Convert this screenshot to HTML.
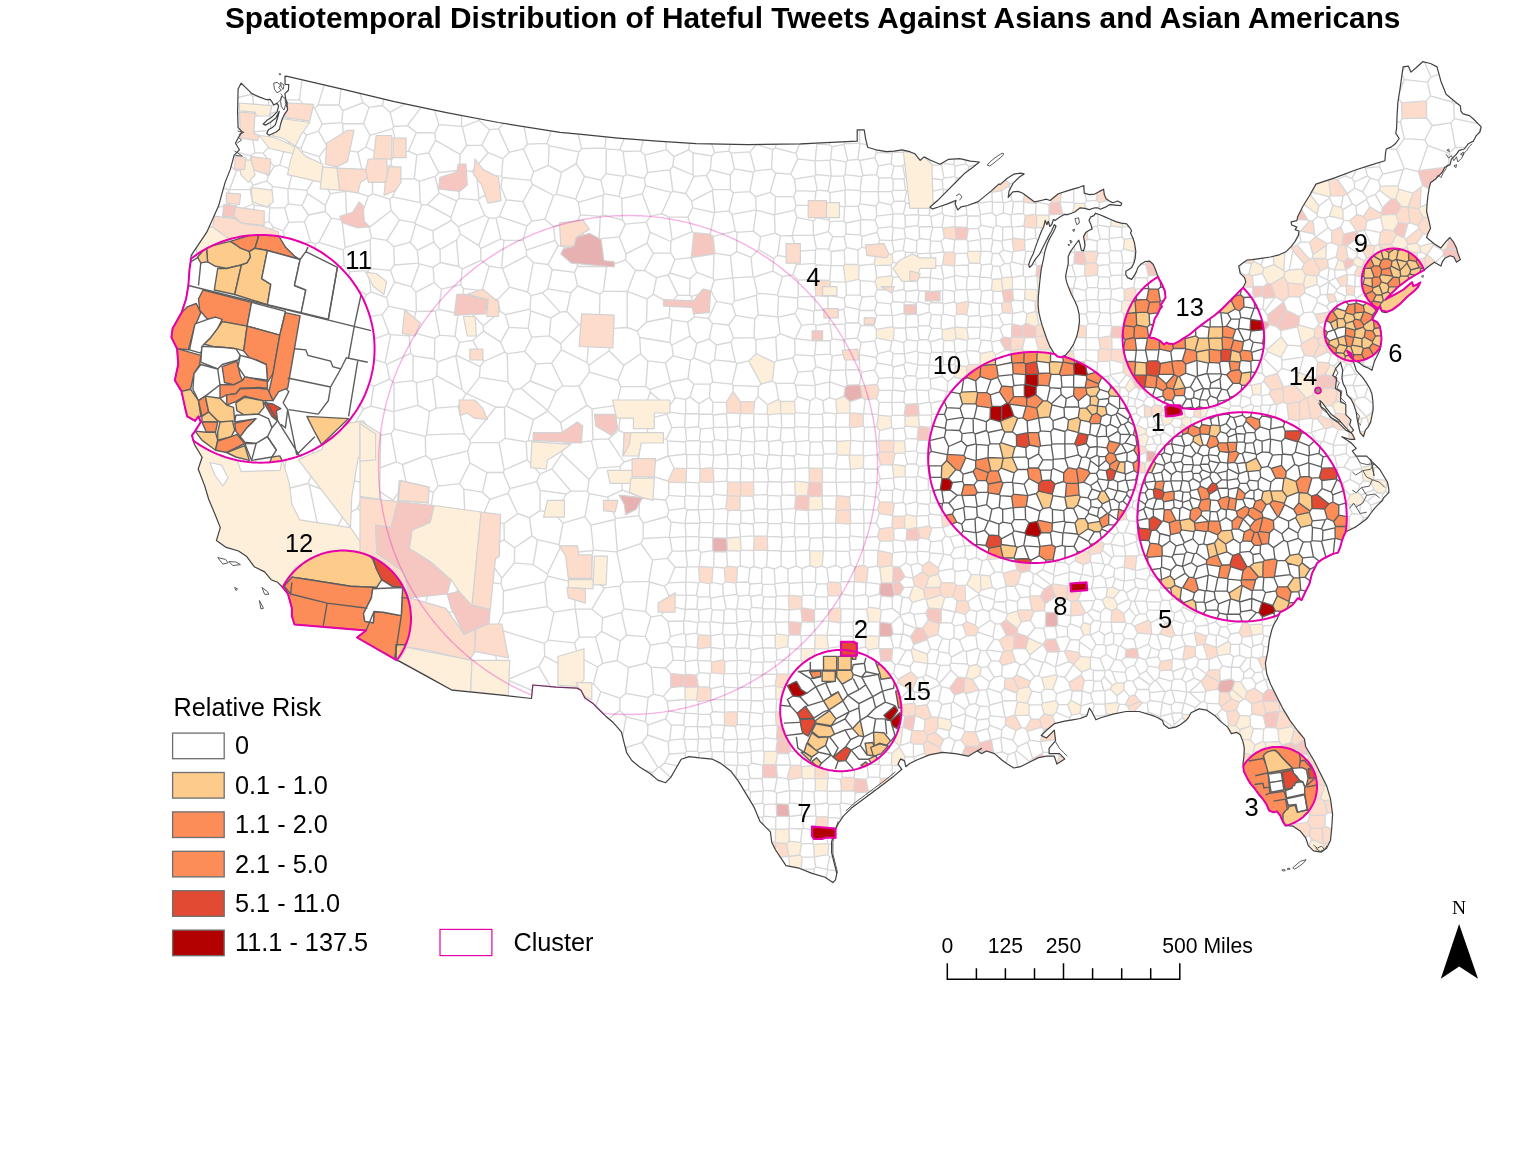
<!DOCTYPE html>
<html><head><meta charset="utf-8"><title>Spatiotemporal Distribution of Hateful Tweets</title>
<style>html,body{margin:0;padding:0;background:#fff;overflow:hidden}svg{display:block}text{font-family:"Liberation Sans",Arial,sans-serif;fill:#000}</style></head>
<body>
<svg width="1536" height="1152" viewBox="0 0 1536 1152">
<defs>
<clipPath id="land"><path d="M1381.7 311.7L1385.3 312.6L1392.6 309.6L1399.9 304.1L1407.2 296.8L1414.5 290.8L1418.1 286.9L1420.3 282.5L1416.9 284.7L1413.3 286.1L1412.1 282.2L1409 284.7L1403.6 289.5L1395.1 294.4L1387.8 298L1385.8 299.4L1387.5 297.4L1397.9 287L1408.3 279.2L1416.1 274.5L1424 270.1L1429.2 266.1L1434.4 262.2L1440.9 266.1L1442.2 262.2L1444.8 258.3L1450 255.7L1453.9 257L1456.5 262.2L1460.4 259.6L1457.8 253.1L1456.5 247.9L1453.9 242.7L1450 237.5L1446.1 241.4L1440.9 247.9L1434.4 244L1426.6 237.5L1427.9 233.6L1430.5 228.4L1429.2 221.9L1426.6 211.5L1427.1 203.6L1427.9 195.8L1429.2 188L1430.5 182.8L1435.7 178.9L1442.2 172.4L1444.8 167.2L1450 164.6L1451.3 159.4L1456.5 154.2L1459.1 150.3L1464.3 149L1468.2 143.8L1473.4 141.1L1476 135.9L1479.9 132L1481.2 126.8L1473.4 119L1469.5 115.6L1463 113.8L1460.9 111.2L1460.4 106L1453.9 100.8L1446.1 94.3L1440.9 81.2L1437 66.9L1430.5 63.5L1422.7 61.7L1416.1 67.7L1410.9 72.1L1408.3 66.1L1403.1 66.9L1401.8 76L1400 89.1L1397.9 102.1L1397.1 115.1L1396.6 128.1L1395.8 133.3L1399.2 138.5L1395.3 143.8L1391.4 146.9L1386.2 149L1385.4 154.2L1384.9 160.7L1370.6 165.1L1356.2 169.8L1335.4 177.6L1315.9 184.1L1309.4 195.8L1302.9 206.2L1300.3 211.5L1297.7 216.7L1296.9 220.6L1291.1 221.9L1291.7 225L1296.9 227.1L1295.1 229.7L1299 231L1298.4 235.4L1295.1 241.4L1291.1 246.6L1285.9 251.8L1278.1 255.2L1270.3 257L1261.2 258.3L1252.1 259.6L1247.2 260L1242.8 263L1238.7 266.2L1240.2 273.3L1244.6 277.7L1245.8 282.1L1242.8 288L1235.4 295.4L1228.1 302.8L1222.2 308.7L1214.8 315.3L1207.4 320.5L1201.5 324.9L1195.6 329.4L1189.7 334.5L1183.8 338.2L1179.4 341.2L1173.5 344.1L1169 343.8L1166.8 342.6L1163.9 344.4L1160.2 340.9L1154.3 338.2L1149.1 337.5L1151 332.3L1153.1 324.9L1154.6 319L1157.5 314.3L1159.9 309L1161.9 306.9L1160.9 304.3L1162.8 302.1L1165.5 297.6L1164.9 291.3L1162.4 285.1L1158.7 278.4L1157.2 274.5L1155.3 269L1153.1 264.3L1149.9 261.2L1144.9 261.7L1140.7 264.3L1137.8 267.6L1136.4 271.6L1134.5 275.2L1131.6 279.4L1127.6 277.6L1125.8 274.5L1125.8 271.2L1128.4 269.8L1131.6 267.6L1134 263L1135.3 257.5L1135.8 251.2L1134.5 243L1132.7 237.5L1130.5 232.9L1131.6 230.7L1129.8 227.8L1126.7 223.8L1121.2 223.1L1115.8 221.6L1110.3 219.3L1104.8 216.9L1099.9 214.7L1095.5 213.2L1093.9 215.6L1090.8 216.9L1089 220.2L1090.8 224.2L1092.1 228.9L1089.3 230.2L1085.7 232.6L1083.5 236.6L1084.2 240.2L1085 245.7L1083.5 250.8L1081.3 250.2L1080.2 244.8L1078.8 240.2L1076.6 243L1073.3 247.5L1070.2 252.1L1068.2 256.6L1068.2 263.9L1066.7 270.3L1065.6 276.7L1066.4 281.2L1068.6 287.6L1071.5 294.5L1074.7 300.7L1077.5 307.3L1079.1 314.1L1079.5 321.3L1078.4 329.6L1076.6 336.8L1073.8 343.8L1070.2 349.6L1065.6 355.1L1061.1 357.3L1057.4 356.5L1053.8 352.9L1050.1 346.9L1047 339.6L1044.5 332.3L1042.3 325.9L1040.5 319.5L1039 313.1L1038.1 305.9L1038.3 296.7L1039.2 287.6L1040.1 278.5L1041.2 269.4L1043.4 259.4L1045 251L1047.3 243.8L1050 238L1053.4 232L1055.1 228.5L1056 226L1054.3 224.7L1051.7 230.8L1048.2 236.9L1045.6 242.1L1043 247.3L1039.5 254.2L1035.2 259.4L1031.7 265.5L1029.5 267.3L1028.7 264.7L1030.4 259.4L1033.4 253.4L1036 245.6L1038.6 238.6L1041.2 231.7L1043.8 226.5L1045.2 220.4L1046.9 224.7L1048.2 221.3L1049.9 226.5L1051.7 224.7L1053.4 219.5L1055.1 220.4L1057 219L1059.9 216.9L1063.8 214.7L1067.5 214.7L1074.7 212L1080.2 207.8L1084.8 208.3L1089.3 209.6L1094.8 207.8L1097.5 207.8L1100.3 209.2L1104.8 207.4L1109.4 204.7L1114.9 205.2L1120.7 205.6L1121.8 203.2L1117.6 201L1113 202.8L1109.4 201L1106.1 198.7L1104.3 194.6L1103.6 189.2L1099.4 191.4L1094.8 194.1L1089.3 194.6L1084.2 193.2L1083.9 185.5L1079.3 187.3L1072.9 189.2L1065.6 191.4L1058.3 193.7L1050.1 200.5L1046.5 199.2L1041 200.5L1034.6 201.9L1029.2 197.9L1022.8 193.2L1018.2 191.4L1012.8 191.9L1008.2 197.4L1009.1 191L1012.8 183.7L1019.1 177.3L1024.1 173.9L1020.1 173.1L1013.7 174.2L1007.3 178.2L1000 184.6L999 183.9L991.1 191.1L978.1 201.6L967.7 205.5L961.2 206.8L957.8 209.9L955.2 204.2L956 200.3L948.2 203.6L939.1 206.8L932.6 208.9L929.9 207.3L937.8 200.3L946.9 191.1L956 182L965.1 172.9L972.9 167.2L979.4 162L970.3 161.2L959.9 158.6L948.2 159.4L940 164.2L930.6 160.3L924.1 156.9L920.2 160.3L915 153.8L909.8 151.7L902 149.8L894.2 151.1L886.4 151.7L875.9 149.8L867.6 147.2L865.5 138.1L864.2 129.8L857.2 129.8L857.2 141.2L800.4 143.9L748.3 144.6L696.2 143.6L657.2 141.2L618.1 138.1L579.1 134.2L560 132.4L498.5 122.5L446.5 112.6L394.4 101.7L342.3 89.2L286.3 76.1L284.9 76.3L285.1 84.3L288.8 84.5L288.4 90.2L284.9 93.6L285.8 99.7L287.1 104.9L287.5 110.1L284.9 113.6L282.3 118.8L280.6 124L279.5 129.2L276.2 132L272.3 133.8L269.3 135.3L266.8 133.6L268.4 129.7L272.3 127.5L275.3 124.9L277.5 118L279.3 111.4L275.8 118L270.1 122.5L265.4 125.1L263.2 124L266.7 120.6L271.9 117.1L277.1 111.9L278.6 105.8L276.9 103.2L273.6 105.1L272.3 102.3L270.1 99.3L266.7 99.7L259.7 97.1L251.9 93.6L245.8 87.6L241.1 83.2L238 89.3L238.1 89.9L237.6 112.1L238.1 127.7L242 131.6L238.1 138.1L235.5 143.3L239.4 149.8L234.2 155.1L230.3 169.4L225.1 182.4L218.6 205.8L206.9 231.9L191.2 255.3L190.6 261.8L189.5 269.7L188.4 285.5L186.1 299L181.6 312.6L172.6 328.4L171.4 337.4L177.1 348.7L178.2 364.5L174.8 380.3L181.6 391.6L185 407.4L187.2 416.4L195.1 420.9L198.5 416.4L200.8 422L195.1 431.1L192 435.3L194.3 444.3L202.1 457.3L198.2 469L204.7 485.9L208.6 499L215.1 514.6L220.3 527.6L216.4 540.6L225.5 547.1L238.5 551L246.4 556.2L254.2 566.7L264.6 571.9L271.1 579.7L277.6 582.3L282.8 587.5L288 594L291.9 608.3L291.9 616.1L294.5 624.5L366.1 630.5L357 637.5L396.1 659.9L400 661.6L426 675.9L452.1 690.2L504.2 695.4L531.5 698.5L532.8 685L556.2 687.1L577.1 688.1L581 690.2L584.9 698L592.7 703.2L600.5 711L605.7 716.2L613.5 722.8L621.4 731.9L624 742.3L626.6 752.7L631.8 760.5L639.6 767L650 773.5L657.8 780.1L665.6 782.7L670.8 777.4L676 768.3L681.2 759.2L689.1 756.6L699.5 757.9L712.5 759.2L720.3 763.1L730.7 770.9L738.5 781.4L746.4 794.4L754.2 807.4L760 821.4L765.2 826.6L770.4 831.8L771.7 842.2L775.6 850L780.8 857.8L786 865.6L799.1 868.2L812.1 873.4L825.1 877.3L832.9 882.6L835.5 879.9L836.8 873.4L834.2 863L831.6 852.6L831.6 842.2L834.2 831.8L838.1 824L843.3 816.1L851.1 808.3L861.6 800.5L872 792.7L882.4 784.9L892.8 777.1L901.9 769.3L898 764.1L900.6 758.9L904.5 760.9L905.8 766.7L909.7 763.5L916.2 760.2L929.3 754.9L942.3 752.3L955.3 753.6L968.3 756.2L973.5 753.1L981.4 748.4L977.4 751L981.4 753.6L986.6 751L994.4 753.6L1002.2 760.2L1007.4 764.1L1013.9 768L1020.4 766.7L1030.8 761.5L1038.6 757.6L1046.5 756.2L1054.3 756.2L1056.9 764.1L1064.7 758.9L1059.5 753.6L1049.1 753.6L1049.1 748.4L1055.6 740.6L1054.3 730.2L1046.5 738L1041.2 735.4L1046.5 730.2L1054.3 723.7L1064.7 721.1L1072.5 719.8L1080.3 718.5L1086.8 715.9L1089.4 708.1L1092 712L1095.9 719.8L1100 718L1113 714.1L1126 711.5L1139.1 711.5L1152.1 715.4L1157.3 717.5L1162.5 720.6L1163.8 724.5L1169 728.4L1175.5 727.1L1180.7 724.5L1185.9 720.6L1188.5 717.5L1191.1 712.8L1199 708.9L1206.8 710.2L1214.6 715.4L1221.1 721.9L1227.6 727.1L1231.5 733.6L1236.7 732.3L1240.4 735L1243 741.9L1244.3 748L1243.9 756.7L1243 763.6L1243.9 771.5L1247.4 778.4L1250.4 783.6L1254.3 788L1258.6 794L1263 799.2L1266.5 804.4L1269.1 810.5L1273.4 812.3L1276.9 811.4L1280.3 815.7L1283 821.8L1285.6 825.7L1285.4 825.3L1292.7 826.1L1300.5 831.3L1305.7 837.8L1308.3 845.6L1313.5 850.8L1321.4 852.1L1326.6 848.2L1330.5 840.4L1331.8 827.4L1332.6 814.4L1330.5 798.8L1326.6 785.7L1320.1 772.7L1313.5 759.7L1309.6 753.2L1305.7 746.7L1304.4 738.9L1297.9 731L1290.1 720.6L1282.3 707.6L1277.1 697.2L1270.6 684.2L1266.7 673.8L1265.4 663.3L1268 650.3L1269.3 639.9L1271.9 629.5L1274 624.3L1277.1 619.1L1279.7 612.6L1286.2 609.2L1292.7 604.7L1297.9 598.2L1301.6 600L1304.2 594.3L1306.8 589.1L1309.4 583.9L1310.7 578.6L1312 573.4L1314.6 568.2L1317.2 563L1322.4 559.1L1327.6 556.5L1332.8 553.9L1338 552.6L1340.1 547.4L1341.9 540.9L1343.8 535.7L1345.8 531.8L1351 529.2L1356.2 526.6L1361.5 522.7L1366.7 518.8L1370.6 513.5L1374.5 508.3L1378.4 504.4L1382.3 500.5L1383.6 497.9L1388.8 492.7L1388.8 488.8L1387.5 482.3L1383.6 475.8L1379.7 469.3L1373.2 462.8L1366.7 456.2L1356.2 456.2L1352.3 451L1356.2 448.4L1351 442.7L1341.9 436.7L1349.7 439.3L1354.9 439.3L1352.3 434.1L1351 432.8L1353.6 430.2L1349.7 425L1351 419.8L1345.8 414.6L1345.8 404.2L1340.6 401.6L1340.6 391.7L1335.4 388.5L1336.7 378.1L1332.8 375.5L1335.9 368.2L1340.6 362.5L1342.7 370.3L1341.9 378.1L1343.2 383.9L1345.8 388.5L1347.1 395.1L1351 399L1353.6 404.2L1356.2 412L1357.3 419.8L1358.9 427.6L1360.2 432.8L1363.5 436.7L1365.4 430.2L1368 427.1L1370.6 422.4L1371.9 415.9L1373.2 409.4L1372.9 401.6L1371.9 393.8L1369.8 388.5L1366.7 383.3L1362.8 377.6L1356.2 370.3L1352.7 359L1353.6 359.9L1358.9 362.5L1364.1 366.4L1368.8 368.2L1371.9 370.3L1374.5 361.2L1377.1 356L1380.2 349.5L1381.5 339.1L1381 332.6L1379.7 326L1377.1 322.1L1371.9 319.5L1375 314.3L1376.6 311.7L1379.7 306.5L1380.1 306ZM1345.8 430.2L1338 422.4L1330.2 417.2L1325 409.4L1321.1 406.8L1319.8 400.3L1322.4 402.9L1326.3 408.1L1331.5 414.6L1339.3 420.3L1345.8 427.6L1351 432.8ZM1349.7 356L1347.1 350.8L1351 353.4L1352.7 359Z"/></clipPath>
<clipPath id="cl"><path d="M203.8 447.4L207.2 449.4L210.8 451.2L214.4 452.9L218 454.4L221.7 455.8L225.5 457.1L229.3 458.3L233.1 459.3L237 460.2L240.9 461L244.8 461.6L248.8 462.1L252.8 462.4L256.7 462.6L260.7 462.7L264.7 462.6L268.6 462.4L272.6 462.1L276.6 461.6L280.5 461L284.4 460.2L288.3 459.3L292.1 458.3L295.9 457.1L299.7 455.8L303.4 454.4L307 452.9L310.6 451.2L314.2 449.4L317.6 447.4L321.1 445.4L324.4 443.2L327.6 440.9L330.8 438.6L333.9 436.1L336.9 433.4L339.8 430.7L342.6 427.9L345.3 425L348 422L350.5 418.9L352.8 415.7L355.1 412.5L357.3 409.2L359.3 405.8L361.3 402.3L363.1 398.7L364.8 395.1L366.3 391.5L367.7 387.8L369 384L370.2 380.2L371.2 376.4L372.1 372.5L372.9 368.6L373.5 364.7L374 360.7L374.3 356.7L374.5 352.8L374.6 348.8L374.5 344.8L374.3 340.9L374 336.9L373.5 332.9L372.9 329L372.1 325.1L371.2 321.2L370.2 317.4L369 313.6L367.7 309.8L366.3 306.1L364.8 302.5L363.1 298.9L361.3 295.3L359.3 291.8L357.3 288.4L355.1 285.1L352.8 281.9L350.5 278.7L348 275.6L345.3 272.6L342.6 269.7L339.8 266.9L336.9 264.2L333.9 261.5L330.8 259L327.6 256.7L324.4 254.4L321.1 252.2L317.6 250.2L314.2 248.2L310.6 246.4L307 244.7L303.4 243.2L299.7 241.8L295.9 240.5L292.1 239.3L288.3 238.3L284.4 237.4L280.5 236.6L276.6 236L272.6 235.5L268.6 235.2L264.7 235L260.7 234.9L256.7 235L252.8 235.2L248.8 235.5L244.8 236L240.9 236.6L237 237.4L233.1 238.3L229.3 239.3L225.5 240.5L221.7 241.8L218 243.2L214.4 244.7L210.8 246.4L207.2 248.2L203.7 250.2L200.3 252.2L197 254.4L193.8 256.7L190.9 258.8L190.6 261.8L189.5 269.7L188.4 285.5L186.1 299L181.6 312.6L172.6 328.4L171.4 337.4L177.1 348.7L178.2 364.5L174.8 380.3L181.6 391.6L185 407.4L187.2 416.4L195.1 420.9L198.5 416.4L200.8 422L195.1 431.1L192 435.3L193.4 440.7L193.8 440.9L197 443.2L200.3 445.4ZM1037.3 352.1L1033.6 352L1029.9 352.1L1026.2 352.3L1022.6 352.6L1018.9 353L1015.3 353.6L1011.7 354.3L1008.1 355.1L1004.5 356.1L1001 357.2L997.5 358.4L994.1 359.7L990.7 361.1L987.4 362.7L984.1 364.3L980.8 366.1L977.7 368L974.6 370L971.6 372.1L968.6 374.4L965.8 376.7L963 379.1L960.3 381.6L957.7 384.2L955.2 386.9L952.8 389.7L950.5 392.5L948.2 395.5L946.1 398.5L944.1 401.6L942.2 404.8L940.4 408L938.8 411.3L937.2 414.6L935.8 418L934.5 421.4L933.3 424.9L932.2 428.4L931.2 432L930.4 435.6L929.7 439.2L929.1 442.8L928.7 446.5L928.4 450.1L928.2 453.8L928.1 457.5L928.2 461.2L928.4 464.9L928.7 468.5L929.1 472.2L929.7 475.8L930.4 479.4L931.2 483L932.2 486.6L933.3 490.1L934.5 493.6L935.8 497L937.2 500.4L938.8 503.7L940.4 507L942.2 510.2L944.1 513.4L946.1 516.5L948.2 519.5L950.5 522.5L952.8 525.3L955.2 528.1L957.7 530.8L960.3 533.4L963 535.9L965.8 538.3L968.6 540.6L971.6 542.9L974.6 545L977.7 547L980.8 548.9L984.1 550.7L987.4 552.3L990.7 553.9L994.1 555.3L997.5 556.6L1001 557.8L1004.5 558.9L1008.1 559.9L1011.7 560.7L1015.3 561.4L1018.9 562L1022.6 562.4L1026.2 562.7L1029.9 562.9L1033.6 563L1037.3 562.9L1041 562.7L1044.6 562.4L1048.3 562L1051.9 561.4L1055.5 560.7L1059.1 559.9L1062.7 558.9L1066.2 557.8L1069.7 556.6L1073.1 555.3L1076.5 553.9L1079.8 552.3L1083.1 550.7L1086.3 548.9L1089.5 547L1092.6 545L1095.6 542.9L1098.6 540.6L1101.4 538.3L1104.2 535.9L1106.9 533.4L1109.5 530.8L1112 528.1L1114.4 525.3L1116.7 522.5L1119 519.5L1121.1 516.5L1123.1 513.4L1125 510.2L1126.8 507L1128.4 503.7L1130 500.4L1131.4 497L1132.7 493.6L1133.9 490.1L1135 486.6L1136 483L1136.8 479.4L1137.5 475.8L1138.1 472.2L1138.5 468.5L1138.8 464.9L1139 461.2L1139.1 457.5L1139 453.8L1138.8 450.1L1138.5 446.5L1138.1 442.8L1137.5 439.2L1136.8 435.6L1136 432L1135 428.4L1133.9 424.9L1132.7 421.4L1131.4 418L1130 414.6L1128.4 411.3L1126.8 408L1125 404.7L1123.1 401.6L1121.1 398.5L1119 395.5L1116.7 392.5L1114.4 389.7L1112 386.9L1109.5 384.2L1106.9 381.6L1104.2 379.1L1101.4 376.7L1098.6 374.4L1095.6 372.1L1092.6 370L1089.5 368L1086.3 366.1L1083.1 364.3L1079.8 362.7L1076.5 361.1L1073.1 359.7L1069.7 358.4L1066.2 357.2L1063.2 356.3L1061.1 357.3L1057.4 356.5L1055.1 354.2L1051.9 353.6L1048.3 353L1044.6 352.6L1041 352.3ZM1070.5 583.5L1071 591.5L1087.2 590.2L1086.5 582.3ZM403 650.4L404.1 648.3L405.1 646.2L406 644L406.9 641.8L407.7 639.5L408.4 637.2L409 635L409.5 632.6L410 630.3L410.3 628L410.6 625.6L410.8 623.2L411 620.9L411 618.5L411 616.1L410.8 613.8L410.6 611.4L410.3 609L410 606.7L409.5 604.4L409 602L408.4 599.8L407.7 597.5L406.9 595.2L406 593L405.1 590.8L404.1 588.7L403 586.6L401.9 584.5L400.7 582.5L399.4 580.5L398 578.5L396.6 576.6L395.1 574.8L393.5 573L391.9 571.3L390.2 569.6L388.5 568L386.7 566.4L384.9 564.9L383 563.5L381 562.1L379 560.8L377 559.6L374.9 558.5L372.8 557.4L370.7 556.4L368.5 555.5L366.3 554.6L364 553.8L361.7 553.1L359.5 552.5L357.1 552L354.8 551.5L352.5 551.2L350.1 550.9L347.7 550.7L345.4 550.5L343 550.5L340.6 550.5L338.3 550.7L335.9 550.9L333.5 551.2L331.2 551.5L328.9 552L326.5 552.5L324.3 553.1L322 553.8L319.7 554.6L317.5 555.5L315.3 556.4L313.2 557.4L311.1 558.5L309 559.6L307 560.8L305 562.1L303 563.5L301.1 564.9L299.3 566.4L297.5 568L295.8 569.6L294.1 571.3L292.5 573L290.9 574.8L289.4 576.6L288 578.5L286.6 580.5L285.3 582.5L284.1 584.5L283 586.6L282.6 587.3L282.8 587.5L288 594L291.9 608.3L291.9 616.1L294.5 624.5L366.1 630.5L357 637.5L396.1 659.9L396.7 660.2L398 658.5L399.4 656.5L400.7 654.5L401.9 652.5ZM854.5 641.8L841.1 641.8L841.1 650L840.8 650L838.7 650L836.6 650.1L834.5 650.3L832.4 650.6L830.3 650.9L828.2 651.3L826.1 651.8L824.1 652.3L822.1 653L820.1 653.7L818.1 654.4L816.2 655.2L814.2 656.1L812.4 657.1L810.5 658.1L808.7 659.2L806.9 660.4L805.2 661.6L803.5 662.8L801.8 664.2L800.3 665.6L798.7 667L797.2 668.5L795.8 670.1L794.4 671.6L793 673.3L791.8 675L790.6 676.7L789.4 678.5L788.3 680.3L787.3 682.2L786.3 684L785.4 686L784.6 687.9L783.9 689.9L783.2 691.9L782.5 693.9L782 695.9L781.5 698L781.1 700.1L780.8 702.2L780.5 704.3L780.3 706.4L780.2 708.5L780.2 710.6L780.2 712.7L780.3 714.8L780.5 716.9L780.8 719L781.1 721.1L781.5 723.2L782 725.3L782.5 727.3L783.2 729.3L783.9 731.3L784.6 733.3L785.4 735.2L786.3 737.2L787.3 739L788.3 740.9L789.4 742.7L790.6 744.5L791.8 746.2L793 747.9L794.4 749.6L795.8 751.1L797.2 752.7L798.7 754.2L800.3 755.6L801.8 757L803.5 758.4L805.2 759.6L806.9 760.8L808.7 762L810.5 763.1L812.4 764.1L814.2 765.1L816.2 766L818.1 766.8L820.1 767.5L822.1 768.2L824.1 768.9L826.1 769.4L828.2 769.9L830.3 770.3L832.4 770.6L834.5 770.9L836.6 771.1L838.7 771.2L840.8 771.2L842.9 771.2L845 771.1L847.1 770.9L849.2 770.6L851.3 770.3L853.4 769.9L855.5 769.4L857.5 768.9L859.5 768.2L861.5 767.5L863.5 766.8L865.4 766L867.4 765.1L869.2 764.1L871.1 763.1L872.9 762L874.7 760.8L876.4 759.6L878.1 758.4L879.8 757L881.3 755.6L882.9 754.2L884.4 752.7L885.8 751.1L887.2 749.6L888.6 747.9L889.8 746.2L891 744.5L892.2 742.7L893.3 740.9L894.3 739L895.3 737.2L896.2 735.2L897 733.3L897.7 731.3L898.4 729.3L899.1 727.3L899.6 725.3L900.1 723.2L900.5 721.1L900.8 719L901.1 716.9L901.3 714.8L901.4 712.7L901.4 710.6L901.4 708.5L901.3 706.4L901.1 704.3L900.8 702.2L900.5 700.1L900.1 698L899.6 695.9L899.1 693.9L898.4 691.9L897.7 689.9L897 687.9L896.2 686L895.3 684L894.3 682.2L893.3 680.3L892.2 678.5L891 676.7L889.8 675L888.6 673.3L887.2 671.6L885.8 670.1L884.4 668.5L882.9 667L881.3 665.6L879.8 664.2L878.1 662.8L876.4 661.6L874.7 660.4L872.9 659.2L871.1 658.1L869.2 657.1L867.4 656.1L865.4 655.2L863.5 654.4L861.5 653.7L859.5 653L857.5 652.3L856.8 652.2L856.8 643.2L854.5 643.2ZM826 837.4L835.5 838L835.5 828.6L824 827.6L812 826.6L812 836L814 839L822 839ZM1384.9 311.3L1386 311.5L1387 311.8L1387.2 311.8L1392.6 309.6L1399.9 304.1L1407.2 296.8L1414.5 290.8L1418.1 286.9L1420.3 282.5L1416.9 284.7L1413.3 286.1L1412.1 282.2L1409 284.7L1403.6 289.5L1395.1 294.4L1387.8 298L1385.8 299.4L1387.5 297.4L1397.9 287L1408.3 279.2L1416.1 274.5L1424 270.1L1423.8 269.6L1423.4 268.5L1422.9 267.5L1422.5 266.5L1422 265.5L1421.4 264.5L1420.8 263.5L1420.2 262.6L1419.6 261.7L1418.9 260.8L1418.2 259.9L1417.5 259.1L1416.7 258.3L1415.9 257.5L1415.1 256.7L1414.3 256L1413.4 255.3L1412.5 254.6L1411.6 254L1410.7 253.4L1409.7 252.8L1408.7 252.2L1407.7 251.7L1406.7 251.3L1405.7 250.8L1404.6 250.4L1403.6 250.1L1402.5 249.7L1401.4 249.5L1400.4 249.2L1399.3 249L1398.2 248.8L1397 248.7L1395.9 248.6L1394.8 248.5L1393.7 248.5L1392.6 248.5L1391.5 248.6L1390.4 248.7L1389.2 248.8L1388.1 249L1387 249.2L1386 249.5L1384.9 249.7L1383.8 250.1L1382.8 250.4L1381.7 250.8L1380.7 251.3L1379.7 251.7L1378.7 252.2L1377.7 252.8L1376.7 253.4L1375.8 254L1374.9 254.6L1374 255.3L1373.1 256L1372.3 256.7L1371.5 257.5L1370.7 258.3L1369.9 259.1L1369.2 259.9L1368.5 260.8L1367.8 261.7L1367.2 262.6L1366.6 263.5L1366 264.5L1365.4 265.5L1364.9 266.5L1364.5 267.5L1364 268.5L1363.6 269.6L1363.3 270.6L1362.9 271.7L1362.7 272.8L1362.4 273.8L1362.2 274.9L1362 276L1361.9 277.2L1361.8 278.3L1361.7 279.4L1361.7 280.5L1361.7 281.6L1361.8 282.7L1361.9 283.8L1362 285L1362.2 286.1L1362.4 287.2L1362.7 288.2L1362.9 289.3L1363.3 290.4L1363.6 291.4L1364 292.5L1364.5 293.5L1364.9 294.5L1365.4 295.5L1366 296.5L1366.6 297.5L1367.2 298.4L1367.8 299.3L1368.5 300.2L1369.2 301.1L1369.9 301.9L1370.7 302.7L1371.5 303.5L1372.3 304.3L1373.1 305L1374 305.7L1374.9 306.4L1375.8 307L1376.7 307.6L1377.7 308.2L1378.4 308.6L1379.7 306.5L1380.1 306L1381.2 310L1381.7 310.2L1382.8 310.6L1383.8 310.9ZM1361 360.6L1362.1 360.4L1363.1 360.1L1364.1 359.8L1365.1 359.5L1366.1 359.1L1367.1 358.7L1368 358.2L1369 357.7L1369.9 357.2L1370.8 356.7L1371.7 356.1L1372.6 355.5L1373.4 354.9L1374.2 354.2L1375 353.5L1375.8 352.8L1376.6 352L1377.3 351.2L1378 350.4L1378.7 349.6L1379.3 348.8L1379.9 347.9L1380.5 347L1380.5 346.9L1381.5 339.1L1381 332.6L1379.7 326L1377.1 322.1L1371.9 319.5L1375 314.3L1376.6 311.7L1377.3 310.6L1376.6 309.8L1375.8 309L1375 308.3L1374.2 307.6L1373.4 306.9L1372.6 306.3L1371.7 305.7L1370.8 305.1L1369.9 304.6L1369 304.1L1368 303.6L1367.1 303.1L1366.1 302.7L1365.1 302.3L1364.1 302L1363.1 301.7L1362.1 301.4L1361 301.2L1360 301L1358.9 300.8L1357.9 300.7L1356.8 300.6L1355.8 300.5L1354.7 300.5L1353.6 300.5L1352.6 300.6L1351.5 300.7L1350.5 300.8L1349.4 301L1348.4 301.2L1347.3 301.4L1346.3 301.7L1345.3 302L1344.3 302.3L1343.3 302.7L1342.3 303.1L1341.4 303.6L1340.4 304.1L1339.5 304.6L1338.6 305.1L1337.7 305.7L1336.8 306.3L1336 306.9L1335.2 307.6L1334.4 308.3L1333.6 309L1332.8 309.8L1332.1 310.6L1331.4 311.4L1330.7 312.2L1330.1 313L1329.5 313.9L1328.9 314.8L1328.4 315.7L1327.9 316.6L1327.4 317.6L1326.9 318.5L1326.5 319.5L1326.1 320.5L1325.8 321.5L1325.5 322.5L1325.2 323.5L1325 324.6L1324.8 325.6L1324.6 326.7L1324.5 327.7L1324.4 328.8L1324.3 329.8L1324.3 330.9L1324.3 332L1324.4 333L1324.5 334.1L1324.6 335.1L1324.8 336.2L1325 337.2L1325.2 338.3L1325.5 339.3L1325.8 340.3L1326.1 341.3L1326.5 342.3L1326.9 343.3L1327.4 344.2L1327.9 345.2L1328.4 346.1L1328.9 347L1329.5 347.9L1330.1 348.8L1330.7 349.6L1331.4 350.4L1332.1 351.2L1332.8 352L1333.6 352.8L1334.4 353.5L1335.2 354.2L1336 354.9L1336.8 355.5L1337.7 356.1L1338.6 356.7L1339.5 357.2L1340.4 357.7L1341.4 358.2L1342.3 358.7L1343.3 359.1L1344.3 359.5L1345.3 359.8L1346.3 360.1L1347.3 360.4L1348.4 360.6L1349.4 360.8L1350.5 361L1351.5 361.1L1352.6 361.2L1353.4 361.3L1352.7 359L1353.6 359.9L1356.4 361.3L1356.8 361.2L1357.9 361.1L1358.9 361L1360 360.8ZM1349.7 356L1347.1 350.8L1351 353.4L1352.7 359ZM1149.8 282.4L1147.9 284L1146 285.6L1144.2 287.3L1142.5 289L1140.8 290.8L1139.2 292.7L1137.6 294.6L1136.1 296.6L1134.7 298.6L1133.4 300.7L1132.1 302.8L1130.9 305L1129.8 307.2L1128.7 309.4L1127.8 311.7L1126.9 314L1126.1 316.3L1125.3 318.7L1124.7 321.1L1124.1 323.5L1123.7 325.9L1123.3 328.3L1123 330.8L1122.8 333.3L1122.6 335.7L1122.6 338.2L1122.6 340.7L1122.8 343.1L1123 345.6L1123.3 348.1L1123.7 350.5L1124.1 352.9L1124.7 355.3L1125.3 357.7L1126.1 360.1L1126.9 362.4L1127.8 364.7L1128.7 367L1129.8 369.2L1130.9 371.4L1132.1 373.6L1133.4 375.7L1134.7 377.8L1136.1 379.8L1137.6 381.8L1139.2 383.7L1140.8 385.6L1142.5 387.4L1144.2 389.1L1146 390.8L1147.9 392.4L1149.8 394L1151.8 395.5L1153.8 396.9L1155.9 398.2L1158 399.5L1160.2 400.7L1162.4 401.8L1164.6 402.9L1166.9 403.8L1169.2 404.7L1171.1 405.4L1169 405.4L1165.3 406.8L1166.1 416.4L1175 415.7L1182 414.2L1180.6 407.8L1181.1 407.9L1183.5 408.3L1186 408.6L1188.5 408.8L1190.9 409L1193.4 409L1195.9 409L1198.3 408.8L1200.8 408.6L1203.3 408.3L1205.7 407.9L1208.1 407.5L1210.5 406.9L1212.9 406.3L1215.3 405.5L1217.6 404.7L1219.9 403.8L1222.2 402.9L1224.4 401.8L1226.6 400.7L1228.8 399.5L1230.9 398.2L1233 396.9L1235 395.5L1237 394L1238.9 392.4L1240.8 390.8L1242.6 389.1L1244.3 387.4L1246 385.6L1247.6 383.7L1249.2 381.8L1250.7 379.8L1252.1 377.8L1253.4 375.7L1254.7 373.6L1255.9 371.4L1257 369.2L1258.1 367L1259 364.7L1259.9 362.4L1260.7 360.1L1261.5 357.7L1262.1 355.3L1262.7 352.9L1263.1 350.5L1263.5 348.1L1263.8 345.6L1264 343.1L1264.2 340.7L1264.2 338.2L1264.2 335.7L1264 333.3L1263.8 330.8L1263.5 328.3L1263.1 325.9L1262.7 323.5L1262.1 321.1L1261.5 318.7L1260.7 316.3L1259.9 314L1259 311.7L1258.1 309.4L1257 307.2L1255.9 305L1254.7 302.8L1253.4 300.7L1252.1 298.6L1250.7 296.6L1249.2 294.6L1247.6 292.7L1246 290.8L1244.3 289L1243 287.7L1242.8 288L1235.4 295.4L1228.1 302.8L1222.2 308.7L1214.8 315.3L1207.4 320.5L1201.5 324.9L1195.6 329.4L1189.7 334.5L1183.8 338.2L1179.4 341.2L1173.5 344.1L1169 343.8L1166.8 342.6L1163.9 344.4L1160.2 340.9L1154.3 338.2L1149.1 337.5L1151 332.3L1153.1 324.9L1154.6 319L1157.5 314.3L1159.9 309L1161.9 306.9L1160.9 304.3L1162.8 302.1L1165.5 297.6L1164.9 291.3L1162.4 285.1L1158.7 278.4L1158.1 276.8L1158 276.9L1155.9 278.2L1153.8 279.5L1151.8 280.9ZM1320.6 390.1L1320.5 390.1L1320.5 390L1320.5 389.9L1320.5 389.8L1320.4 389.7L1320.4 389.6L1320.4 389.5L1320.3 389.5L1320.3 389.4L1320.3 389.3L1320.2 389.2L1320.2 389.1L1320.1 389.1L1320 389L1320 388.9L1319.9 388.9L1319.9 388.8L1319.8 388.7L1319.7 388.7L1319.7 388.6L1319.6 388.6L1319.5 388.5L1319.5 388.4L1319.4 388.4L1319.3 388.3L1319.2 388.3L1319.1 388.3L1319.1 388.2L1319 388.2L1318.9 388.2L1318.8 388.1L1318.7 388.1L1318.6 388.1L1318.5 388.1L1318.5 388L1318.4 388L1318.3 388L1318.2 388L1318.1 388L1318 388L1317.9 388L1317.8 388L1317.7 388L1317.6 388L1317.5 388L1317.5 388.1L1317.4 388.1L1317.3 388.1L1317.2 388.1L1317.1 388.2L1317 388.2L1316.9 388.2L1316.9 388.3L1316.8 388.3L1316.7 388.3L1316.6 388.4L1316.5 388.4L1316.5 388.5L1316.4 388.6L1316.3 388.6L1316.3 388.7L1316.2 388.7L1316.1 388.8L1316.1 388.9L1316 388.9L1316 389L1315.9 389.1L1315.8 389.1L1315.8 389.2L1315.7 389.3L1315.7 389.4L1315.7 389.5L1315.6 389.5L1315.6 389.6L1315.6 389.7L1315.5 389.8L1315.5 389.9L1315.5 390L1315.5 390.1L1315.4 390.1L1315.4 390.2L1315.4 390.3L1315.4 390.4L1315.4 390.5L1315.4 390.6L1315.4 390.7L1315.4 390.8L1315.4 390.9L1315.4 391L1315.4 391.1L1315.5 391.1L1315.5 391.2L1315.5 391.3L1315.5 391.4L1315.6 391.5L1315.6 391.6L1315.6 391.7L1315.7 391.7L1315.7 391.8L1315.7 391.9L1315.8 392L1315.8 392.1L1315.9 392.1L1316 392.2L1316 392.3L1316.1 392.3L1316.1 392.4L1316.2 392.5L1316.3 392.5L1316.3 392.6L1316.4 392.6L1316.5 392.7L1316.5 392.8L1316.6 392.8L1316.7 392.9L1316.8 392.9L1316.9 392.9L1316.9 393L1317 393L1317.1 393L1317.2 393.1L1317.3 393.1L1317.4 393.1L1317.5 393.1L1317.5 393.2L1317.6 393.2L1317.7 393.2L1317.8 393.2L1317.9 393.2L1318 393.2L1318.1 393.2L1318.2 393.2L1318.3 393.2L1318.4 393.2L1318.5 393.2L1318.5 393.1L1318.6 393.1L1318.7 393.1L1318.8 393.1L1318.9 393L1319 393L1319.1 393L1319.1 392.9L1319.2 392.9L1319.3 392.9L1319.4 392.8L1319.5 392.8L1319.5 392.7L1319.6 392.6L1319.7 392.6L1319.7 392.5L1319.8 392.5L1319.9 392.4L1319.9 392.3L1320 392.3L1320 392.2L1320.1 392.1L1320.2 392.1L1320.2 392L1320.3 391.9L1320.3 391.8L1320.3 391.7L1320.4 391.7L1320.4 391.6L1320.4 391.5L1320.5 391.4L1320.5 391.3L1320.5 391.2L1320.5 391.1L1320.6 391.1L1320.6 391L1320.6 390.9L1320.6 390.8L1320.6 390.7L1320.6 390.6L1320.6 390.5L1320.6 390.4L1320.6 390.3L1320.6 390.2ZM1346.8 516.9L1346.7 513.2L1346.5 509.6L1346.2 506L1345.8 502.3L1345.2 498.7L1344.5 495.1L1343.7 491.6L1342.7 488L1341.7 484.5L1340.5 481.1L1339.2 477.7L1337.7 474.3L1336.2 471L1334.5 467.7L1332.8 464.5L1330.9 461.4L1328.9 458.4L1326.8 455.4L1324.6 452.4L1322.3 449.6L1319.9 446.8L1317.4 444.2L1314.8 441.6L1312.2 439.1L1309.4 436.7L1306.6 434.4L1303.6 432.2L1300.6 430.1L1297.6 428.1L1294.4 426.2L1291.3 424.5L1288 422.8L1284.7 421.3L1281.3 419.8L1277.9 418.5L1274.5 417.3L1271 416.3L1267.4 415.3L1263.9 414.5L1260.3 413.8L1256.7 413.2L1253 412.8L1249.4 412.5L1245.8 412.3L1242.1 412.2L1238.4 412.3L1234.8 412.5L1231.2 412.8L1227.5 413.2L1223.9 413.8L1220.3 414.5L1216.8 415.3L1213.2 416.3L1209.7 417.3L1206.3 418.5L1202.9 419.8L1199.5 421.3L1196.2 422.8L1192.9 424.5L1189.7 426.2L1186.6 428.1L1183.6 430.1L1180.6 432.2L1177.6 434.4L1174.8 436.7L1172 439.1L1169.4 441.6L1166.8 444.2L1164.3 446.8L1161.9 449.6L1159.6 452.4L1157.4 455.4L1155.3 458.4L1153.3 461.4L1151.4 464.5L1149.7 467.7L1148 471L1146.5 474.3L1145 477.7L1143.7 481.1L1142.5 484.5L1141.5 488L1140.5 491.6L1139.7 495.1L1139 498.7L1138.4 502.3L1138 506L1137.7 509.6L1137.5 513.2L1137.4 516.9L1137.5 520.6L1137.7 524.2L1138 527.8L1138.4 531.5L1139 535.1L1139.7 538.7L1140.5 542.2L1141.5 545.8L1142.5 549.3L1143.7 552.7L1145 556.1L1146.5 559.5L1148 562.8L1149.7 566.1L1151.4 569.2L1153.3 572.4L1155.3 575.4L1157.4 578.4L1159.6 581.4L1161.9 584.2L1164.3 587L1166.8 589.6L1169.4 592.2L1172 594.7L1174.8 597.1L1177.6 599.4L1180.6 601.6L1183.6 603.7L1186.6 605.7L1189.8 607.6L1192.9 609.3L1196.2 611L1199.5 612.5L1202.9 614L1206.3 615.3L1209.7 616.5L1213.2 617.5L1216.8 618.5L1220.3 619.3L1223.9 620L1227.5 620.6L1231.2 621L1234.8 621.3L1238.4 621.5L1242.1 621.6L1245.8 621.5L1249.4 621.3L1253 621L1256.7 620.6L1260.3 620L1263.9 619.3L1267.4 618.5L1271 617.5L1274.5 616.5L1277.9 615.3L1278.8 615L1279.7 612.6L1286.2 609.2L1292.7 604.7L1297.9 598.2L1301.6 600L1304.2 594.3L1306.8 589.1L1309.4 583.9L1310.7 578.6L1312 573.4L1314.6 568.2L1317.2 563L1322.4 559.1L1327.6 556.5L1332.8 553.9L1338 552.6L1340.1 547.4L1341.9 540.9L1343.8 535.7L1345.7 532L1345.8 531.5L1346.2 527.8L1346.5 524.2L1346.7 520.6ZM1292.1 823.6L1293.4 823.1L1294.6 822.5L1295.9 821.8L1297.1 821.2L1298.3 820.5L1299.5 819.7L1300.6 818.9L1301.7 818.1L1302.8 817.2L1303.8 816.3L1304.8 815.3L1305.8 814.3L1306.8 813.3L1307.7 812.3L1308.6 811.2L1309.4 810.1L1310.2 809L1311 807.8L1311.7 806.6L1312.3 805.4L1313 804.1L1313.6 802.9L1314.1 801.6L1314.6 800.3L1315.1 799L1315.5 797.7L1315.8 796.3L1316.1 795L1316.4 793.6L1316.6 792.2L1316.8 790.9L1316.9 789.5L1317 788.1L1317 786.7L1317 785.3L1316.9 783.9L1316.8 782.5L1316.6 781.2L1316.4 779.8L1316.1 778.4L1315.8 777.1L1315.5 775.7L1315.1 774.4L1314.6 773.1L1314.1 771.8L1313.6 770.5L1313 769.3L1312.3 768L1311.7 766.8L1311 765.6L1310.2 764.4L1309.4 763.3L1308.6 762.2L1307.7 761.1L1306.8 760.1L1305.8 759.1L1304.8 758.1L1303.8 757.1L1302.8 756.2L1301.7 755.3L1300.6 754.5L1299.5 753.7L1298.3 752.9L1297.1 752.2L1295.9 751.6L1294.6 750.9L1293.4 750.3L1292.1 749.8L1290.8 749.3L1289.5 748.8L1288.2 748.4L1286.8 748.1L1285.5 747.8L1284.1 747.5L1282.7 747.3L1281.4 747.1L1280 747L1278.6 746.9L1277.2 746.9L1275.8 746.9L1274.4 747L1273 747.1L1271.7 747.3L1270.3 747.5L1268.9 747.8L1267.6 748.1L1266.2 748.4L1264.9 748.8L1263.6 749.3L1262.3 749.8L1261 750.3L1259.8 750.9L1258.5 751.6L1257.3 752.2L1256.1 752.9L1254.9 753.7L1253.8 754.5L1252.7 755.3L1251.6 756.2L1250.6 757.1L1249.6 758.1L1248.6 759.1L1247.6 760.1L1246.7 761.1L1245.8 762.2L1245 763.3L1244.2 764.4L1243.4 765.6L1243.3 765.9L1243.9 771.5L1247.4 778.4L1250.4 783.6L1254.3 788L1258.6 794L1263 799.2L1266.5 804.4L1269.1 810.5L1273.4 812.3L1276.9 811.4L1280.3 815.7L1283 821.8L1285.5 825.6L1285.6 825.6L1285.4 825.3L1286.4 825.4L1286.8 825.3L1288.2 825L1289.5 824.6L1290.8 824.1Z"/></clipPath>
<clipPath id="c11"><path d="M193.8 440.9L197 443.2L200.3 445.4L203.8 447.4L207.2 449.4L210.8 451.2L214.4 452.9L218 454.4L221.7 455.8L225.5 457.1L229.3 458.3L233.1 459.3L237 460.2L240.9 461L244.8 461.6L248.8 462.1L252.8 462.4L256.7 462.6L260.7 462.7L264.7 462.6L268.6 462.4L272.6 462.1L276.6 461.6L280.5 461L284.4 460.2L288.3 459.3L292.1 458.3L295.9 457.1L299.7 455.8L303.4 454.4L307 452.9L310.6 451.2L314.2 449.4L317.6 447.4L321.1 445.4L324.4 443.2L327.6 440.9L330.8 438.6L333.9 436.1L336.9 433.4L339.8 430.7L342.6 427.9L345.3 425L348 422L350.5 418.9L352.8 415.7L355.1 412.5L357.3 409.2L359.3 405.8L361.3 402.3L363.1 398.7L364.8 395.1L366.3 391.5L367.7 387.8L369 384L370.2 380.2L371.2 376.4L372.1 372.5L372.9 368.6L373.5 364.7L374 360.7L374.3 356.7L374.5 352.8L374.6 348.8L374.5 344.8L374.3 340.9L374 336.9L373.5 332.9L372.9 329L372.1 325.1L371.2 321.2L370.2 317.4L369 313.6L367.7 309.8L366.3 306.1L364.8 302.5L363.1 298.9L361.3 295.3L359.3 291.8L357.3 288.4L355.1 285.1L352.8 281.9L350.5 278.7L348 275.6L345.3 272.6L342.6 269.7L339.8 266.9L336.9 264.2L333.9 261.5L330.8 259L327.6 256.7L324.4 254.4L321.1 252.2L317.6 250.2L314.2 248.2L310.6 246.4L307 244.7L303.4 243.2L299.7 241.8L295.9 240.5L292.1 239.3L288.3 238.3L284.4 237.4L280.5 236.6L276.6 236L272.6 235.5L268.6 235.2L264.7 235L260.7 234.9L256.7 235L252.8 235.2L248.8 235.5L244.8 236L240.9 236.6L237 237.4L233.1 238.3L229.3 239.3L225.5 240.5L221.7 241.8L218 243.2L214.4 244.7L210.8 246.4L207.2 248.2L203.7 250.2L200.3 252.2L197 254.4L193.8 256.7L190.9 258.8L190.6 261.8L189.5 269.7L188.4 285.5L186.1 299L181.6 312.6L172.6 328.4L171.4 337.4L177.1 348.7L178.2 364.5L174.8 380.3L181.6 391.6L185 407.4L187.2 416.4L195.1 420.9L198.5 416.4L200.8 422L195.1 431.1L192 435.3L193.4 440.7Z"/></clipPath><clipPath id="c12"><path d="M398 658.5L399.4 656.5L400.7 654.5L401.9 652.5L403 650.4L404.1 648.3L405.1 646.2L406 644L406.9 641.8L407.7 639.5L408.4 637.2L409 635L409.5 632.6L410 630.3L410.3 628L410.6 625.6L410.8 623.2L411 620.9L411 618.5L411 616.1L410.8 613.8L410.6 611.4L410.3 609L410 606.7L409.5 604.4L409 602L408.4 599.8L407.7 597.5L406.9 595.2L406 593L405.1 590.8L404.1 588.7L403 586.6L401.9 584.5L400.7 582.5L399.4 580.5L398 578.5L396.6 576.6L395.1 574.8L393.5 573L391.9 571.3L390.2 569.6L388.5 568L386.7 566.4L384.9 564.9L383 563.5L381 562.1L379 560.8L377 559.6L374.9 558.5L372.8 557.4L370.7 556.4L368.5 555.5L366.3 554.6L364 553.8L361.7 553.1L359.5 552.5L357.1 552L354.8 551.5L352.5 551.2L350.1 550.9L347.7 550.7L345.4 550.5L343 550.5L340.6 550.5L338.3 550.7L335.9 550.9L333.5 551.2L331.2 551.5L328.9 552L326.5 552.5L324.3 553.1L322 553.8L319.7 554.6L317.5 555.5L315.3 556.4L313.2 557.4L311.1 558.5L309 559.6L307 560.8L305 562.1L303 563.5L301.1 564.9L299.3 566.4L297.5 568L295.8 569.6L294.1 571.3L292.5 573L290.9 574.8L289.4 576.6L288 578.5L286.6 580.5L285.3 582.5L284.1 584.5L283 586.6L282.6 587.3L282.8 587.5L288 594L291.9 608.3L291.9 616.1L294.5 624.5L366.1 630.5L357 637.5L396.1 659.9L396.7 660.2Z"/></clipPath><clipPath id="c3"><path d="M1286.8 825.3L1288.2 825L1289.5 824.6L1290.8 824.1L1292.1 823.6L1293.4 823.1L1294.6 822.5L1295.9 821.8L1297.1 821.2L1298.3 820.5L1299.5 819.7L1300.6 818.9L1301.7 818.1L1302.8 817.2L1303.8 816.3L1304.8 815.3L1305.8 814.3L1306.8 813.3L1307.7 812.3L1308.6 811.2L1309.4 810.1L1310.2 809L1311 807.8L1311.7 806.6L1312.3 805.4L1313 804.1L1313.6 802.9L1314.1 801.6L1314.6 800.3L1315.1 799L1315.5 797.7L1315.8 796.3L1316.1 795L1316.4 793.6L1316.6 792.2L1316.8 790.9L1316.9 789.5L1317 788.1L1317 786.7L1317 785.3L1316.9 783.9L1316.8 782.5L1316.6 781.2L1316.4 779.8L1316.1 778.4L1315.8 777.1L1315.5 775.7L1315.1 774.4L1314.6 773.1L1314.1 771.8L1313.6 770.5L1313 769.3L1312.3 768L1311.7 766.8L1311 765.6L1310.2 764.4L1309.4 763.3L1308.6 762.2L1307.7 761.1L1306.8 760.1L1305.8 759.1L1304.8 758.1L1303.8 757.1L1302.8 756.2L1301.7 755.3L1300.6 754.5L1299.5 753.7L1298.3 752.9L1297.1 752.2L1295.9 751.6L1294.6 750.9L1293.4 750.3L1292.1 749.8L1290.8 749.3L1289.5 748.8L1288.2 748.4L1286.8 748.1L1285.5 747.8L1284.1 747.5L1282.7 747.3L1281.4 747.1L1280 747L1278.6 746.9L1277.2 746.9L1275.8 746.9L1274.4 747L1273 747.1L1271.7 747.3L1270.3 747.5L1268.9 747.8L1267.6 748.1L1266.2 748.4L1264.9 748.8L1263.6 749.3L1262.3 749.8L1261 750.3L1259.8 750.9L1258.5 751.6L1257.3 752.2L1256.1 752.9L1254.9 753.7L1253.8 754.5L1252.7 755.3L1251.6 756.2L1250.6 757.1L1249.6 758.1L1248.6 759.1L1247.6 760.1L1246.7 761.1L1245.8 762.2L1245 763.3L1244.2 764.4L1243.4 765.6L1243.3 765.9L1243.9 771.5L1247.4 778.4L1250.4 783.6L1254.3 788L1258.6 794L1263 799.2L1266.5 804.4L1269.1 810.5L1273.4 812.3L1276.9 811.4L1280.3 815.7L1283 821.8L1285.5 825.6L1285.6 825.6L1285.4 825.3L1286.4 825.4Z"/></clipPath><clipPath id="c15"><path d="M901.4 708.5L901.3 706.4L901.1 704.3L900.8 702.2L900.5 700.1L900.1 698L899.6 695.9L899.1 693.9L898.4 691.9L897.7 689.9L897 687.9L896.2 686L895.3 684L894.3 682.2L893.3 680.3L892.2 678.5L891 676.7L889.8 675L888.6 673.3L887.2 671.6L885.8 670.1L884.4 668.5L882.9 667L881.3 665.6L879.8 664.2L878.1 662.8L876.4 661.6L874.7 660.4L872.9 659.2L871.1 658.1L869.2 657.1L867.4 656.1L865.4 655.2L863.5 654.4L861.5 653.7L859.5 653L857.5 652.3L855.5 651.8L853.4 651.3L851.3 650.9L849.2 650.6L847.1 650.3L845 650.1L842.9 650L840.8 650L838.7 650L836.6 650.1L834.5 650.3L832.4 650.6L830.3 650.9L828.2 651.3L826.1 651.8L824.1 652.3L822.1 653L820.1 653.7L818.1 654.4L816.2 655.2L814.2 656.1L812.4 657.1L810.5 658.1L808.7 659.2L806.9 660.4L805.2 661.6L803.5 662.8L801.8 664.2L800.3 665.6L798.7 667L797.2 668.5L795.8 670.1L794.4 671.6L793 673.3L791.8 675L790.6 676.7L789.4 678.5L788.3 680.3L787.3 682.2L786.3 684L785.4 686L784.6 687.9L783.9 689.9L783.2 691.9L782.5 693.9L782 695.9L781.5 698L781.1 700.1L780.8 702.2L780.5 704.3L780.3 706.4L780.2 708.5L780.2 710.6L780.2 712.7L780.3 714.8L780.5 716.9L780.8 719L781.1 721.1L781.5 723.2L782 725.3L782.5 727.3L783.2 729.3L783.9 731.3L784.6 733.3L785.4 735.2L786.3 737.2L787.3 739L788.3 740.9L789.4 742.7L790.6 744.5L791.8 746.2L793 747.9L794.4 749.6L795.8 751.1L797.2 752.7L798.7 754.2L800.3 755.6L801.8 757L803.5 758.4L805.2 759.6L806.9 760.8L808.7 762L810.5 763.1L812.4 764.1L814.2 765.1L816.2 766L818.1 766.8L820.1 767.5L822.1 768.2L824.1 768.9L826.1 769.4L828.2 769.9L830.3 770.3L832.4 770.6L834.5 770.9L836.6 771.1L838.7 771.2L840.8 771.2L842.9 771.2L845 771.1L847.1 770.9L849.2 770.6L851.3 770.3L853.4 769.9L855.5 769.4L857.5 768.9L859.5 768.2L861.5 767.5L863.5 766.8L865.4 766L867.4 765.1L869.2 764.1L871.1 763.1L872.9 762L874.7 760.8L876.4 759.6L878.1 758.4L879.8 757L881.3 755.6L882.9 754.2L884.4 752.7L885.8 751.1L887.2 749.6L888.6 747.9L889.8 746.2L891 744.5L892.2 742.7L893.3 740.9L894.3 739L895.3 737.2L896.2 735.2L897 733.3L897.7 731.3L898.4 729.3L899.1 727.3L899.6 725.3L900.1 723.2L900.5 721.1L900.8 719L901.1 716.9L901.3 714.8L901.4 712.7L901.4 710.6Z"/></clipPath>
<g id="map">
<path d="M1381.7 311.7L1385.3 312.6L1392.6 309.6L1399.9 304.1L1407.2 296.8L1414.5 290.8L1418.1 286.9L1420.3 282.5L1416.9 284.7L1413.3 286.1L1412.1 282.2L1409 284.7L1403.6 289.5L1395.1 294.4L1387.8 298L1385.8 299.4L1387.5 297.4L1397.9 287L1408.3 279.2L1416.1 274.5L1424 270.1L1429.2 266.1L1434.4 262.2L1440.9 266.1L1442.2 262.2L1444.8 258.3L1450 255.7L1453.9 257L1456.5 262.2L1460.4 259.6L1457.8 253.1L1456.5 247.9L1453.9 242.7L1450 237.5L1446.1 241.4L1440.9 247.9L1434.4 244L1426.6 237.5L1427.9 233.6L1430.5 228.4L1429.2 221.9L1426.6 211.5L1427.1 203.6L1427.9 195.8L1429.2 188L1430.5 182.8L1435.7 178.9L1442.2 172.4L1444.8 167.2L1450 164.6L1451.3 159.4L1456.5 154.2L1459.1 150.3L1464.3 149L1468.2 143.8L1473.4 141.1L1476 135.9L1479.9 132L1481.2 126.8L1473.4 119L1469.5 115.6L1463 113.8L1460.9 111.2L1460.4 106L1453.9 100.8L1446.1 94.3L1440.9 81.2L1437 66.9L1430.5 63.5L1422.7 61.7L1416.1 67.7L1410.9 72.1L1408.3 66.1L1403.1 66.9L1401.8 76L1400 89.1L1397.9 102.1L1397.1 115.1L1396.6 128.1L1395.8 133.3L1399.2 138.5L1395.3 143.8L1391.4 146.9L1386.2 149L1385.4 154.2L1384.9 160.7L1370.6 165.1L1356.2 169.8L1335.4 177.6L1315.9 184.1L1309.4 195.8L1302.9 206.2L1300.3 211.5L1297.7 216.7L1296.9 220.6L1291.1 221.9L1291.7 225L1296.9 227.1L1295.1 229.7L1299 231L1298.4 235.4L1295.1 241.4L1291.1 246.6L1285.9 251.8L1278.1 255.2L1270.3 257L1261.2 258.3L1252.1 259.6L1247.2 260L1242.8 263L1238.7 266.2L1240.2 273.3L1244.6 277.7L1245.8 282.1L1242.8 288L1235.4 295.4L1228.1 302.8L1222.2 308.7L1214.8 315.3L1207.4 320.5L1201.5 324.9L1195.6 329.4L1189.7 334.5L1183.8 338.2L1179.4 341.2L1173.5 344.1L1169 343.8L1166.8 342.6L1163.9 344.4L1160.2 340.9L1154.3 338.2L1149.1 337.5L1151 332.3L1153.1 324.9L1154.6 319L1157.5 314.3L1159.9 309L1161.9 306.9L1160.9 304.3L1162.8 302.1L1165.5 297.6L1164.9 291.3L1162.4 285.1L1158.7 278.4L1157.2 274.5L1155.3 269L1153.1 264.3L1149.9 261.2L1144.9 261.7L1140.7 264.3L1137.8 267.6L1136.4 271.6L1134.5 275.2L1131.6 279.4L1127.6 277.6L1125.8 274.5L1125.8 271.2L1128.4 269.8L1131.6 267.6L1134 263L1135.3 257.5L1135.8 251.2L1134.5 243L1132.7 237.5L1130.5 232.9L1131.6 230.7L1129.8 227.8L1126.7 223.8L1121.2 223.1L1115.8 221.6L1110.3 219.3L1104.8 216.9L1099.9 214.7L1095.5 213.2L1093.9 215.6L1090.8 216.9L1089 220.2L1090.8 224.2L1092.1 228.9L1089.3 230.2L1085.7 232.6L1083.5 236.6L1084.2 240.2L1085 245.7L1083.5 250.8L1081.3 250.2L1080.2 244.8L1078.8 240.2L1076.6 243L1073.3 247.5L1070.2 252.1L1068.2 256.6L1068.2 263.9L1066.7 270.3L1065.6 276.7L1066.4 281.2L1068.6 287.6L1071.5 294.5L1074.7 300.7L1077.5 307.3L1079.1 314.1L1079.5 321.3L1078.4 329.6L1076.6 336.8L1073.8 343.8L1070.2 349.6L1065.6 355.1L1061.1 357.3L1057.4 356.5L1053.8 352.9L1050.1 346.9L1047 339.6L1044.5 332.3L1042.3 325.9L1040.5 319.5L1039 313.1L1038.1 305.9L1038.3 296.7L1039.2 287.6L1040.1 278.5L1041.2 269.4L1043.4 259.4L1045 251L1047.3 243.8L1050 238L1053.4 232L1055.1 228.5L1056 226L1054.3 224.7L1051.7 230.8L1048.2 236.9L1045.6 242.1L1043 247.3L1039.5 254.2L1035.2 259.4L1031.7 265.5L1029.5 267.3L1028.7 264.7L1030.4 259.4L1033.4 253.4L1036 245.6L1038.6 238.6L1041.2 231.7L1043.8 226.5L1045.2 220.4L1046.9 224.7L1048.2 221.3L1049.9 226.5L1051.7 224.7L1053.4 219.5L1055.1 220.4L1057 219L1059.9 216.9L1063.8 214.7L1067.5 214.7L1074.7 212L1080.2 207.8L1084.8 208.3L1089.3 209.6L1094.8 207.8L1097.5 207.8L1100.3 209.2L1104.8 207.4L1109.4 204.7L1114.9 205.2L1120.7 205.6L1121.8 203.2L1117.6 201L1113 202.8L1109.4 201L1106.1 198.7L1104.3 194.6L1103.6 189.2L1099.4 191.4L1094.8 194.1L1089.3 194.6L1084.2 193.2L1083.9 185.5L1079.3 187.3L1072.9 189.2L1065.6 191.4L1058.3 193.7L1050.1 200.5L1046.5 199.2L1041 200.5L1034.6 201.9L1029.2 197.9L1022.8 193.2L1018.2 191.4L1012.8 191.9L1008.2 197.4L1009.1 191L1012.8 183.7L1019.1 177.3L1024.1 173.9L1020.1 173.1L1013.7 174.2L1007.3 178.2L1000 184.6L999 183.9L991.1 191.1L978.1 201.6L967.7 205.5L961.2 206.8L957.8 209.9L955.2 204.2L956 200.3L948.2 203.6L939.1 206.8L932.6 208.9L929.9 207.3L937.8 200.3L946.9 191.1L956 182L965.1 172.9L972.9 167.2L979.4 162L970.3 161.2L959.9 158.6L948.2 159.4L940 164.2L930.6 160.3L924.1 156.9L920.2 160.3L915 153.8L909.8 151.7L902 149.8L894.2 151.1L886.4 151.7L875.9 149.8L867.6 147.2L865.5 138.1L864.2 129.8L857.2 129.8L857.2 141.2L800.4 143.9L748.3 144.6L696.2 143.6L657.2 141.2L618.1 138.1L579.1 134.2L560 132.4L498.5 122.5L446.5 112.6L394.4 101.7L342.3 89.2L286.3 76.1L284.9 76.3L285.1 84.3L288.8 84.5L288.4 90.2L284.9 93.6L285.8 99.7L287.1 104.9L287.5 110.1L284.9 113.6L282.3 118.8L280.6 124L279.5 129.2L276.2 132L272.3 133.8L269.3 135.3L266.8 133.6L268.4 129.7L272.3 127.5L275.3 124.9L277.5 118L279.3 111.4L275.8 118L270.1 122.5L265.4 125.1L263.2 124L266.7 120.6L271.9 117.1L277.1 111.9L278.6 105.8L276.9 103.2L273.6 105.1L272.3 102.3L270.1 99.3L266.7 99.7L259.7 97.1L251.9 93.6L245.8 87.6L241.1 83.2L238 89.3L238.1 89.9L237.6 112.1L238.1 127.7L242 131.6L238.1 138.1L235.5 143.3L239.4 149.8L234.2 155.1L230.3 169.4L225.1 182.4L218.6 205.8L206.9 231.9L191.2 255.3L190.6 261.8L189.5 269.7L188.4 285.5L186.1 299L181.6 312.6L172.6 328.4L171.4 337.4L177.1 348.7L178.2 364.5L174.8 380.3L181.6 391.6L185 407.4L187.2 416.4L195.1 420.9L198.5 416.4L200.8 422L195.1 431.1L192 435.3L194.3 444.3L202.1 457.3L198.2 469L204.7 485.9L208.6 499L215.1 514.6L220.3 527.6L216.4 540.6L225.5 547.1L238.5 551L246.4 556.2L254.2 566.7L264.6 571.9L271.1 579.7L277.6 582.3L282.8 587.5L288 594L291.9 608.3L291.9 616.1L294.5 624.5L366.1 630.5L357 637.5L396.1 659.9L400 661.6L426 675.9L452.1 690.2L504.2 695.4L531.5 698.5L532.8 685L556.2 687.1L577.1 688.1L581 690.2L584.9 698L592.7 703.2L600.5 711L605.7 716.2L613.5 722.8L621.4 731.9L624 742.3L626.6 752.7L631.8 760.5L639.6 767L650 773.5L657.8 780.1L665.6 782.7L670.8 777.4L676 768.3L681.2 759.2L689.1 756.6L699.5 757.9L712.5 759.2L720.3 763.1L730.7 770.9L738.5 781.4L746.4 794.4L754.2 807.4L760 821.4L765.2 826.6L770.4 831.8L771.7 842.2L775.6 850L780.8 857.8L786 865.6L799.1 868.2L812.1 873.4L825.1 877.3L832.9 882.6L835.5 879.9L836.8 873.4L834.2 863L831.6 852.6L831.6 842.2L834.2 831.8L838.1 824L843.3 816.1L851.1 808.3L861.6 800.5L872 792.7L882.4 784.9L892.8 777.1L901.9 769.3L898 764.1L900.6 758.9L904.5 760.9L905.8 766.7L909.7 763.5L916.2 760.2L929.3 754.9L942.3 752.3L955.3 753.6L968.3 756.2L973.5 753.1L981.4 748.4L977.4 751L981.4 753.6L986.6 751L994.4 753.6L1002.2 760.2L1007.4 764.1L1013.9 768L1020.4 766.7L1030.8 761.5L1038.6 757.6L1046.5 756.2L1054.3 756.2L1056.9 764.1L1064.7 758.9L1059.5 753.6L1049.1 753.6L1049.1 748.4L1055.6 740.6L1054.3 730.2L1046.5 738L1041.2 735.4L1046.5 730.2L1054.3 723.7L1064.7 721.1L1072.5 719.8L1080.3 718.5L1086.8 715.9L1089.4 708.1L1092 712L1095.9 719.8L1100 718L1113 714.1L1126 711.5L1139.1 711.5L1152.1 715.4L1157.3 717.5L1162.5 720.6L1163.8 724.5L1169 728.4L1175.5 727.1L1180.7 724.5L1185.9 720.6L1188.5 717.5L1191.1 712.8L1199 708.9L1206.8 710.2L1214.6 715.4L1221.1 721.9L1227.6 727.1L1231.5 733.6L1236.7 732.3L1240.4 735L1243 741.9L1244.3 748L1243.9 756.7L1243 763.6L1243.9 771.5L1247.4 778.4L1250.4 783.6L1254.3 788L1258.6 794L1263 799.2L1266.5 804.4L1269.1 810.5L1273.4 812.3L1276.9 811.4L1280.3 815.7L1283 821.8L1285.6 825.7L1285.4 825.3L1292.7 826.1L1300.5 831.3L1305.7 837.8L1308.3 845.6L1313.5 850.8L1321.4 852.1L1326.6 848.2L1330.5 840.4L1331.8 827.4L1332.6 814.4L1330.5 798.8L1326.6 785.7L1320.1 772.7L1313.5 759.7L1309.6 753.2L1305.7 746.7L1304.4 738.9L1297.9 731L1290.1 720.6L1282.3 707.6L1277.1 697.2L1270.6 684.2L1266.7 673.8L1265.4 663.3L1268 650.3L1269.3 639.9L1271.9 629.5L1274 624.3L1277.1 619.1L1279.7 612.6L1286.2 609.2L1292.7 604.7L1297.9 598.2L1301.6 600L1304.2 594.3L1306.8 589.1L1309.4 583.9L1310.7 578.6L1312 573.4L1314.6 568.2L1317.2 563L1322.4 559.1L1327.6 556.5L1332.8 553.9L1338 552.6L1340.1 547.4L1341.9 540.9L1343.8 535.7L1345.8 531.8L1351 529.2L1356.2 526.6L1361.5 522.7L1366.7 518.8L1370.6 513.5L1374.5 508.3L1378.4 504.4L1382.3 500.5L1383.6 497.9L1388.8 492.7L1388.8 488.8L1387.5 482.3L1383.6 475.8L1379.7 469.3L1373.2 462.8L1366.7 456.2L1356.2 456.2L1352.3 451L1356.2 448.4L1351 442.7L1341.9 436.7L1349.7 439.3L1354.9 439.3L1352.3 434.1L1351 432.8L1353.6 430.2L1349.7 425L1351 419.8L1345.8 414.6L1345.8 404.2L1340.6 401.6L1340.6 391.7L1335.4 388.5L1336.7 378.1L1332.8 375.5L1335.9 368.2L1340.6 362.5L1342.7 370.3L1341.9 378.1L1343.2 383.9L1345.8 388.5L1347.1 395.1L1351 399L1353.6 404.2L1356.2 412L1357.3 419.8L1358.9 427.6L1360.2 432.8L1363.5 436.7L1365.4 430.2L1368 427.1L1370.6 422.4L1371.9 415.9L1373.2 409.4L1372.9 401.6L1371.9 393.8L1369.8 388.5L1366.7 383.3L1362.8 377.6L1356.2 370.3L1352.7 359L1353.6 359.9L1358.9 362.5L1364.1 366.4L1368.8 368.2L1371.9 370.3L1374.5 361.2L1377.1 356L1380.2 349.5L1381.5 339.1L1381 332.6L1379.7 326L1377.1 322.1L1371.9 319.5L1375 314.3L1376.6 311.7L1379.7 306.5L1380.1 306ZM1345.8 430.2L1338 422.4L1330.2 417.2L1325 409.4L1321.1 406.8L1319.8 400.3L1322.4 402.9L1326.3 408.1L1331.5 414.6L1339.3 420.3L1345.8 427.6L1351 432.8ZM1349.7 356L1347.1 350.8L1351 353.4L1352.7 359Z" fill="#fff"/>
<g clip-path="url(#land)">
<path fill="#fc8d59" d="M1221.9 709L1221.1 706.5L1231.4 698.9L1239.4 702.1L1236.3 709.8L1226.8 711.8ZM1228.7 725.4L1235.6 725.8L1240.1 715.3L1236.3 709.8L1226.8 711.8ZM1252.3 755.1L1231.4 749.4L1228.4 750.5L1199.9 772.2L1196.8 779.3L1215.9 778L1252.5 766L1252.9 756.3ZM1252 713.9L1251.7 703.6L1262.5 700.7L1263.1 701.1L1265.8 712.8L1263.4 716ZM1265.8 712.8L1263.1 701.1L1279 701.7L1279.8 710.6L1279.1 711.3ZM1275.8 727.8L1277.9 729.4L1291.5 726.7L1291.1 714.2L1279.8 710.6L1279.1 711.3ZM1296 744.9L1291.1 742.5L1294.3 728.9L1314.2 729.6L1310.3 736ZM1294.4 824.1L1307.7 822.2L1310.8 828.1L1309.1 835.6L1294.2 840.3L1291.6 827ZM1308.5 756.3L1307.1 755L1310.3 736L1314.2 729.6L1375.6 695.9L1318.5 756.8ZM1319.4 771.3L1309.7 773.4L1305.5 767.4L1308.5 756.3L1318.5 756.8L1321.9 767.5ZM1306.5 782.4L1309.7 773.4L1319.4 771.3L1325.4 785.1L1324.8 785.7ZM1320.5 798.1L1324.8 785.7L1306.5 782.4L1304.6 784.2L1314.7 799.3ZM1308.7 812.8L1309.6 815.6L1325.1 815.1L1327.5 812.7L1324 801L1320.5 798.1L1314.7 799.3L1311.2 802.6ZM1325.1 815.1L1325.1 826.5L1322.1 828.4L1310.8 828.1L1307.7 822.2L1309.6 815.6ZM1310.8 828.1L1309.1 835.6L1311.4 839.1L1323.4 844L1322.1 828.4ZM1306.8 852.9L1275.8 877L1090.9 1120.1L1092.6 1168.1L1172.4 2447.4L2038 2589.1L1323.3 851.1ZM1321.9 767.5L1318.5 756.8L1375.6 695.9L1409.1 672.2L1429.2 669.4L1441.6 668.5L1534.1 674.8L1562.5 679.5L1570.8 681.5L1357 768ZM1324 801L1336.3 798.8L1346.4 806.3L1335.7 813.5L1327.5 812.7ZM1325.1 826.5L1322.1 828.4L1323.4 844L1324 844.6L1336.4 838.9L1332.9 829.4ZM1324 844.6L1323.3 851.1L2038 2589.1L2400 2650.4L3072 2081.7L3001.8 1446.2L1336.4 838.9ZM1336.3 798.8L1335.4 783.3L1357 768L1570.8 681.5L2011.1 754.4L2041.5 759.8L1346.4 806.3ZM1332.9 829.4L1336.4 838.9L3001.8 1446.2L2969.9 1139.7L1337.5 823.3ZM1426.6 118L1426.4 100.9L1401.6 102.8L1402.1 118.6ZM1328.2 267.5L1320.1 271L1313.6 258.5L1325.6 258.5L1327.6 260ZM1315 314.5L1329.6 311.8L1329.8 311.9L1327.2 320.9L1318.8 323.6ZM1314.5 329.3L1314.4 336.7L1317.3 338.9L1326 336.6L1327.5 332.2L1318.5 324.9ZM1329.5 340.9L1328.7 344L1326 346.3L1319.3 344.8L1317.3 338.9L1326 336.6ZM1326 346.3L1319.3 344.8L1313.2 356.7L1314.8 357.9L1327.2 352.2ZM1330.3 364.8L1325.4 374.3L1316.6 376.5L1317.5 362L1328.7 363ZM1327.2 294L1334 294.3L1336.6 300.9L1329.3 303L1326.5 294.3ZM1328.7 344L1336.4 348.6L1336.1 352.5L1335.7 352.9L1331.2 354.5L1327.2 352.2L1326 346.3ZM1346 246.1L1341.9 244.9L1338.7 245.6L1336.1 256.8L1338.4 259.8L1343.5 261.7L1347.9 257.8ZM1346.1 285.8L1340.8 286.1L1336.6 278.7L1347.2 274.2L1347.5 274.6L1347 285.2ZM1355 286.6L1354.1 295.4L1346.7 294.7L1346.1 285.8L1347 285.2L1355 286.6ZM1363.7 276.7L1364.5 268.7L1362.9 266.6L1357.7 266.7L1353.9 275L1355.2 275.8ZM1352.5 362.4L1363.2 362.9L1364.1 358.8L1361.7 354.3L1353.9 354.7ZM1362.3 249.7L1364.1 246.2L1370.9 244.9L1374.9 245.8L1372.5 255.3L1370.3 257.7L1366.7 258.3ZM1363.9 260.8L1362.9 266.6L1364.5 268.7L1371 268L1374 265.7L1370.3 257.7L1366.7 258.3ZM1390.5 311.1L1389.7 318.8L1400.2 329.1L1419.3 340.5L1429 344.5L1400.8 310.8L1391.6 310.1ZM1417.5 253.1L1408.5 250.9L1408.7 260.2L1416 261.4L1416.6 260.6ZM1416.6 260.6L1416 261.4L1419.3 267.5L1421.1 268.5L1423.4 268.1L1424.8 267L1425 257.4ZM1425 257.4L1424.8 267L1434.7 266.2L1435.5 261.9L1427 254.5L1426.4 254.7ZM1309.6 259.3L1304.2 263.8L1292.9 250.8L1291.6 247.3L1296.9 245ZM1304.8 288.5L1304.6 292.9L1299.6 297L1288.8 296.7L1287.7 282.9L1303.5 284.3ZM1309.6 220.8L1300.8 231L1314.5 234L1313 220.7ZM1318.1 275.2L1320.1 271L1313.6 258.5L1312.4 257.9L1309.6 259.3L1304.2 263.8L1301.8 268.8L1305.6 274.7L1316.8 276.1ZM1312.9 254.7L1326.5 245.1L1327.3 243.7L1315.7 237L1315.5 237L1309.6 242.3ZM1343.3 195.6L1330.5 195.8L1328.9 180.3L1329.9 178.9L1337.3 179.5L1347.4 193.6L1347.3 193.9ZM1331.6 242.6L1338.7 245.6L1341.9 244.9L1343.6 234.2L1340.8 226.8L1331.9 231ZM1356.6 231.2L1349.6 220.8L1356.8 214.5L1363.5 216.4L1367.1 220.8L1365.1 229.4L1364.3 230L1357.7 232ZM1363.5 216.4L1369.8 206.9L1381 213.3L1381.5 215.2L1380.7 217.4L1367.1 220.8ZM1378.6 244.3L1380.4 232.7L1383.4 229.4L1393.5 230.8L1396.3 234.7L1391.4 244.2L1378.9 244.5ZM1378.9 244.5L1391.4 244.2L1394.8 248.9L1389 252.7L1380.1 246.6ZM1407.9 223.7L1410 222.9L1408.1 206.8L1401.5 206.5L1396.1 214.3L1398.5 222.6ZM1408.1 206.8L1418.6 208.8L1420.2 207.1L1421.1 187.1L1413 193.2ZM1408.1 206.8L1408.1 206.8L1418.6 208.8L1423.3 217.4L1417.9 225.7L1410 222.9ZM1407.5 244.5L1405.7 239.2L1418.8 228.6L1423.5 233.6L1416.7 243.1ZM1423.5 233.6L1426.9 234.6L1435.9 219.9L1431.7 217.2L1423.3 217.4L1417.9 225.7L1418.8 228.6ZM1435.9 219.9L1431.7 217.2L1433.3 201.6L1438.7 194.2L1463.8 192.9L1469.7 196L1443.5 221ZM1432.3 239.5L1444.6 231.1L1443.5 221L1435.9 219.9L1426.9 234.6ZM1449.6 262.3L1458.5 260.7L1499.4 345.5L1446.9 270.6ZM1251.5 263.6L1254.1 261.6L1248.4 211.5L1210.6 181.6L1208.4 186.5L1204 204.9L1239.6 262ZM1252.7 286.8L1253.4 286.1L1252.3 275.9L1248.8 274.1L1243.7 274.8L1240.3 283.5L1242.1 287.1ZM1287.7 282.9L1288.8 296.7L1283.6 301.3L1275.4 297L1271.3 284.2L1283.7 276.6ZM1265.4 376.8L1277.4 373.5L1283.4 386.9L1282.8 388.3L1270.6 390L1263.8 381ZM1269.2 394.2L1270.6 390L1282.8 388.3L1283.6 402.1L1277.1 404.3L1275.6 404ZM1283.6 402.1L1286.9 403.8L1299.5 401.9L1306 397.7L1294.3 384.8L1283.4 386.9L1282.8 388.3ZM1314.4 336.7L1317.3 338.9L1319.3 344.8L1313.2 356.7L1304.5 355.3L1300.7 346L1301.7 343.6ZM1335.8 401L1337.3 390L1332.6 388.3L1316.2 388.3L1312.3 395.4L1323.3 405.7L1332.2 405.8ZM1335.8 401L1337.3 390L1337.9 389.7L1355.1 400.2L1353.9 403L1350.9 405.8ZM1118.7 509.1L1125.9 511.9L1126.9 519.3L1117.8 520.7L1117.3 519.7ZM1146.9 450.7L1146.3 452.1L1137.6 456.1L1133.8 449.9L1135.6 446.1L1136.9 444.8L1145.1 446.8ZM1144.8 463.3L1137.2 460.4L1132.9 463.1L1134.2 470.7L1137.8 473.2L1144.9 472.5L1145.1 472.3ZM1147.2 417.7L1151.7 415.7L1151.6 407.8L1144.3 405L1144.7 417ZM1152.2 415.8L1151.7 415.7L1151.6 407.8L1154.9 404.4L1161.1 406.2L1162.5 410.1L1160.5 415ZM1188.6 428.6L1181.7 423.6L1179.9 427L1183 434.4L1187.8 433ZM1194.5 408.8L1193.7 416.4L1201 418.2L1201 418.2L1200 406.8L1199.5 406.4ZM1298.7 420.9L1288.7 419.2L1286.9 403.8L1299.5 401.9L1299.7 419.9ZM1310.6 418.1L1307.4 397.6L1306 397.7L1299.5 401.9L1299.7 419.9ZM1312.8 419.3L1316.9 418.5L1320.3 415.4L1323.3 405.7L1312.3 395.4L1307.4 397.6L1310.6 418.1ZM1332.5 420.6L1320.3 415.4L1316.9 418.5L1324.6 428.1L1326.4 428.8L1332.9 426.3ZM1335.7 413.1L1332.5 420.6L1332.9 426.3L1338.3 429.8L1346.8 429.6L1349.7 418.2L1348.1 414.7ZM1349.3 526.5L1352.7 529.5L1345.4 541.3L1335.2 538.1L1335 527.9L1335.5 526.5ZM1357.5 447.1L1363 443.6L1357.6 431.9L1357.6 431.9L1349.1 432.1L1349.1 442.3ZM1383.7 441L1371.2 431L1357.6 431.9L1363 443.6L1380.9 442.4ZM1090.6 561.8L1083.1 564.7L1074.9 560.7L1077.3 551.3L1088.3 551.9L1090.5 554.9ZM1090.5 554.9L1088.3 551.9L1090.6 544.4L1101.9 541.9L1104.2 544L1102.4 550.4L1100.7 552.7ZM1116.3 608.3L1111.8 610.8L1111 621.9L1111.5 622.4L1125.2 622.1L1123.9 613.5ZM1136.9 555.9L1125.7 555.8L1125.3 556.3L1124 566.8L1124.6 567.4L1135.1 570.2ZM1127.8 706.7L1140 701.2L1134.8 694.9L1129.5 696.4L1125.6 704.5ZM1127.8 706.7L1131.4 714.3L1142.7 702.6L1140 701.2ZM1137.6 633L1151 634.1L1151.5 633.8L1150.8 622.6L1148.2 620.1L1134.3 626.2ZM1170.6 623L1175.1 635.3L1171.9 637.3L1159.7 634L1165.3 622.9ZM1158.6 667.7L1160.6 661.3L1172.2 659.4L1171.6 670.1L1160 670.6ZM1183.6 660.3L1182.7 659.5L1185.1 645.9L1185.4 645.5L1195 647.2L1195.5 656.1ZM1195 631.9L1206.7 636.2L1204.9 643.5L1203.2 644.6L1197.1 645.4L1194.3 632.8ZM1216.2 647.4L1204.9 643.5L1203.2 644.6L1207.7 659L1209.2 659.6L1217.3 656.1L1217.5 655.7L1216.5 647.8ZM1220.3 680.9L1219.6 669.8L1209 669.7L1206.4 674L1206.4 674.9L1219.3 681.9ZM1206 691.2L1217.6 689L1219.3 681.9L1206.4 674.9L1201.1 681.2ZM1221.1 706.5L1231.4 698.9L1228.7 692.9L1219.8 692.1L1218.9 703.8ZM1249.2 624.6L1246.8 623L1243 622.2L1239 632.4L1242.2 637.1L1251.7 636.2L1252.2 635.5ZM1254.6 688.2L1263 694L1262.5 700.7L1251.7 703.6L1245.1 698.7L1246.8 691.6ZM1258 658.5L1262.6 656.3L1287 658.2L1290.2 660L1262.9 670.1ZM1275.5 625.8L1290.1 618.3L1301.3 626.3L1310.7 639.1L1277.4 631.2ZM1277.4 631.2L1310.7 639.1L1334.5 661.1L1296.9 661.9L1290.2 660L1287 658.2L1276.5 647.3L1272.7 637.6ZM1334.5 661.1L1353.2 667.3L1281.1 697.5L1274.8 690.4L1280.8 675.6L1296.9 661.9ZM1010.8 302.4L1004.1 301.5L1001.5 303.3L1002.5 312.5L1012.7 313.8L1012.9 313.5ZM1012 239L1013.7 251.3L1024.7 250.1L1024.7 240.2L1024.3 239.6L1012.8 238ZM1011 337.8L1011.2 350.1L1022.4 349.1L1024.7 337.8L1024.1 337.2L1011.5 337.3ZM1038.1 169.5L1027.3 178.5L1023.2 201.4L1023.7 202.1L1036.1 203.7L1038.1 202.1ZM1036.7 215.1L1036.5 227.4L1035.3 228.3L1024.9 226.8L1023.9 226L1025.3 215.6L1035.6 214.1ZM1035.3 311.7L1036.7 312.5L1053.6 310.3L1053.8 302.7L1037.3 299.4L1035.2 301.5ZM1038.7 323.8L1051 324.4L1048.3 335.3L1035.9 336.6L1035.8 326.9ZM1048.3 335.3L1051.1 339L1048.7 349.5L1038.3 349.7L1035.4 337.3L1035.9 336.6ZM1042.5 163.5L1072 106.8L1072.2 133.7L1060 201.8L1051.3 202.6ZM1051 324.4L1056.1 320L1061.1 325.4L1061.8 338.8L1051.1 339L1048.3 335.3ZM1054.7 288.9L1055.3 299.2L1072.7 300.5L1072.8 288.6L1056 286.1ZM1073.9 337.2L1072.9 338.2L1062.6 339.5L1061.8 338.8L1061.1 325.4L1072.4 327.3ZM1086.9 228.6L1087.7 239L1085.6 240.9L1072.6 237.9L1067.8 233.1L1067.8 233L1072 229.2L1086.1 228ZM1086.2 326.4L1075.2 324.5L1072.4 327.3L1073.9 337.2L1086.1 337.9L1086.3 337.7ZM1086.5 263.1L1095.8 262.7L1098.3 253.2L1097 251.5L1084 251L1083.6 251.5ZM1085 264.8L1084.6 275.7L1085.8 276.6L1097.3 275.2L1098.2 265.5L1095.8 262.7L1086.5 263.1ZM1109.7 200.2L1105.5 -12.2L1101.6 3.3L1096.8 200.3L1099.3 202.6ZM1100.3 348.2L1098.5 337.8L1110.4 336L1111.7 337.7L1112.1 349.4L1111.4 350.1ZM1098.1 350.4L1098.3 361.7L1109.6 361.1L1110.6 360.1L1111.4 350.1L1100.3 348.2ZM1111.4 350.1L1112.1 349.4L1123.4 349.1L1124.2 349.9L1124.7 361.5L1123.3 363.1L1110.6 360.1ZM1124.2 289.4L1124.3 300L1135.1 301.7L1136.6 300L1135.5 289.1L1133.8 287.3ZM1131.2 377.3L1131.2 377.3L1134.6 375.2L1135.6 361.8L1135.1 361.3L1124.7 361.5L1123.3 363.1L1123.2 372.2L1126.2 375.2ZM1003.1 557.8L988.1 559.7L987.1 559.2L988.9 548.2L1000.5 546ZM917.5 678.1L912.4 689.8L909.5 689.5L898.1 682.6L897.8 679.7L910.9 671.8ZM913.9 703.2L915.9 706.2L914.8 715.1L905 716.9L896.8 710.6L897.5 705.1ZM901.9 787.7L900.5 765.5L903.1 764.4L918.4 774.8L922.4 780.1L936.1 834.3ZM914.6 585.6L923.5 589.5L925.7 587.5L929 576.5L922.4 571.9L913.2 577.8L912.8 578.3ZM915.9 706.2L927.1 704.6L931.3 716.7L925.2 719.8L915.3 715.5L914.8 715.1ZM927.4 735.3L924.1 730.8L912.8 730.4L912 730.9L910.3 742.3L913.4 743.8L923.3 744.4L926.4 740.8ZM922.4 571.9L929 576.5L937.9 574.2L939.2 571.1L938.1 567.9L929.1 561.3L922.3 565.8ZM941.2 595L926.1 599.5L925.2 598.6L923.5 589.5L925.7 587.5L939.5 587.4ZM928.4 620.2L939.4 623.8L937.9 634.6L928.2 637.7L922.5 628.2ZM937.8 717.5L937.8 728L935.4 732.4L927.4 735.3L924.1 730.8L925.2 719.8L931.3 716.7ZM943.6 739.6L935.4 732.4L927.4 735.3L926.4 740.8L940.1 747.3ZM940.1 747.3L926.4 740.8L923.3 744.4L924.7 753.2L928.3 757.6L937 755.6L941.2 751.9ZM941.2 595L939.5 587.4L941.5 582.3L954.6 582.9L956.4 585.3L952.7 596.6L944.7 597.8ZM956.4 585.3L964.9 585.3L965.5 600.5L957 600.8L952.7 596.6ZM957 600.8L955.4 611.8L965.2 614.4L969.9 609.6L967.8 601.5L965.5 600.5ZM977.9 632.1L975.8 635.3L966.5 635.9L962.6 624.6L966.4 621.7L975.4 625.1L978 628.2ZM979.2 690.2L972.4 679.6L966 677.5L965 678L963.8 692.1L965.9 693.5ZM960.8 739.8L965.1 731.3L975 731.6L975.4 732L979.5 742.8L977.9 746.4L965.5 745.9ZM961.1 754.9L971.3 792.4L976.3 781.5L977 757.7L962.8 753.1ZM1014.7 586.4L1017.7 583.8L1021.3 572.7L1016.7 569.6L1003.2 573.2L1006.2 586ZM1012.1 650.9L1004.1 650.9L999.2 640.2L1006.3 635.4L1014.3 635.8L1013.8 648.6ZM999.4 661.2L1002.9 652.1L1004.1 650.9L1012.1 650.9L1015.8 661.7L1002.4 665.5ZM1013.1 677.9L1005.2 678.3L1004.3 688.5L1016.7 693L1018.6 688.9ZM1021.6 727.7L1015.1 715.6L1014.5 715.2L1005.8 717.9L1005.3 725.1L1016.1 730.5ZM1017 611L1021.4 621.9L1030.4 620.4L1033.9 611.6L1032.1 610L1017.7 609.9ZM1016.3 674.9L1030.3 681.1L1028.8 686.6L1018.6 688.9L1013.1 677.9ZM1044.4 610.6L1033.9 611.6L1032.1 610L1029.1 596.9L1030 595.9L1040.5 595.8L1045 603.9ZM1039.4 719.2L1041.8 727L1027.2 731.3L1025.5 728.5L1031.3 718.8ZM1052.6 715.5L1055.5 725.4L1053.9 727.8L1043.7 729.4L1041.8 727L1039.4 719.2L1044.2 714ZM1057.2 739.4L1053.9 727.8L1043.7 729.4L1040.5 741.5ZM1061.4 600.2L1066.7 599L1067.5 585.9L1052.8 583.8L1051.6 584.9L1055.5 596.8ZM1053.4 770.8L1072.6 767.4L1067.7 757.5L1059.5 756.3ZM1078.5 585.9L1082.3 589.6L1078 600L1071.2 601.6L1066.7 599L1067.5 585.9L1069 584.7ZM1085.5 612.7L1079.4 601.2L1078 600L1071.2 601.6L1070.5 615.5L1070.8 615.9L1082.9 614.8ZM1080.6 656.4L1073.5 664.3L1069 661.5L1064.4 651.3L1065.6 650.1L1078.9 652.6ZM1069 682.4L1081.3 674.9L1084.4 680.6L1082.1 690.9L1082.1 691L1072.2 691L1070.5 689.4ZM893 464.4L894.8 453.7L893.4 452.2L879.7 451.6L878.1 454.7L880.5 464.7L892.3 465ZM892.6 540.9L880 541.1L877.5 536.5L879.7 528.8L891.9 527.2L893.8 528.8L894 539.6ZM892 565.5L879.7 567.4L877.4 566.1L878.1 550.4L878.3 550.3L892.5 553.7ZM928.7 539.3L931.8 527.9L929.3 525.9L917.4 528.1L920.1 537.8ZM942.8 228.1L944.3 237.9L954.8 239.9L955.6 239.4L955.5 226.8L955.1 226.4ZM954.5 265.7L955.3 253.6L953.5 251.9L944.4 252.5L942.5 264.7L954.2 266.1ZM942.5 527.3L941.8 516.2L952.4 514L956.8 522.2L942.9 527.7ZM968.3 301.2L956.3 303.6L956.7 314.2L966.5 314.5L969.1 302ZM991.5 178.1L1005.6 180L1002 155.4L994 163.3L991 177.5ZM1001.7 190.5L992 192.4L991.8 192.2L991.5 178.1L1005.6 180L1009.9 183.9L1009.1 185.6ZM814.6 279.9L829.7 280.5L830.7 281.7L829 295.7L827.9 296.6L815.8 295.6ZM686.2 482.2L686.4 468.4L674 468.3L668 481L668.7 482.1L685.5 482.8ZM713 468.1L712.4 467.6L700 468.8L699.8 481.9L713.5 482.4L714 481.8ZM767.1 536.1L754.2 536.2L753.7 550.4L767.7 550.3L767.3 536.3ZM863.2 426.2L850.3 427.8L849.4 426.9L849.7 412.9L849.9 412.7L863.2 414ZM723.4 659.8L711.4 661.8L711.6 672.6L723.7 674.2L724.7 673.4L724.8 661.4ZM737.4 567.3L736.6 582.4L735.7 583.2L725.4 581.9L724.3 568L727.5 566.1ZM724.6 725.5L735.4 726.4L737.4 724.5L737.3 711.7L724.5 712.2L724.3 712.3L724.5 725.4ZM774.1 854.7L705.4 862.3L748.9 842.3L775.3 841.8L776.1 842.7ZM788.5 673.8L777.1 674.1L776.9 674.4L775.1 685.7L775.9 686.6L788.3 688L790.2 686.2L789.1 674.2ZM775.4 712.1L776 711.6L789 712.6L788.2 724.8L777.3 726L776.2 725.1ZM777 857.7L788.9 856.4L786.6 843.6L776.1 842.7L774.1 854.7ZM801.9 596.5L789.1 595.1L788.4 595.6L789.2 610L800.9 608.9L801.9 607.8ZM801.7 766.6L801.9 777.3L788.3 779.8L787.2 778.7L790.7 765.2L800.6 765.5ZM801.2 869.1L789.8 870L789.5 870.2L787.8 972.5L807.4 907.7L801.4 869.3ZM815 765.5L814.9 778.3L815.2 778.6L827.8 778.3L828.2 777.9L827.9 766.1L815.6 764.9ZM828.4 817.3L827.2 830.2L825.9 831.4L815 829.9L816.5 816.7L827.9 816.8ZM828.3 595.6L840 595.9L841.6 594.2L840.4 582.6L828.7 582L827 583.7ZM828.8 621.1L828.5 620.9L828.6 609.6L839.8 607.7L841 608.7L840.9 622.7L840.5 623ZM840.7 779.3L842.4 777.5L854.1 777.4L855.1 778.5L853.5 791L841.3 791L841.3 791ZM854.4 581.7L854.8 567L863.6 565.2L868.1 567.5L866.7 582.3L866.1 582.8ZM880.4 778.3L879.3 790.5L938.2 839.4L936.1 834.3L901.9 787.7L892 777.9ZM699.7 581.9L698.6 566.8L699.2 566.4L712.9 567.4L711.9 582.4L709.9 583.8ZM711 647.2L710.9 635.8L710.7 635.6L698.2 634.7L697.2 647.7L698.3 648.9ZM711 688.7L711 699.4L710.5 700.1L698.3 701.6L696.6 700.2L698.1 686.9L698.4 686.6L709.4 687.1ZM740.8 495.8L740.2 496.3L727.3 495.6L727.2 495.6L727.7 482.1L740.4 482L740.6 482.2ZM754 495.2L753.4 481.8L740.6 482.2L740.8 495.8L753 496.3ZM728 510.6L739.9 510L740.2 496.3L727.3 495.6L725.8 508.4ZM733 391.4L726.3 402.3L727.1 412.8L740.2 413.7L740.7 413.3L740.5 401.6ZM754.5 401.4L740.5 401.6L740.7 413.3L753.5 413.8ZM876.5 398.7L865.1 399.6L862.4 397.6L860.5 385.9L877.1 384.5L879.1 390.1ZM822.4 468.3L809.1 467.9L809.3 482.1L821.9 482.8L822.4 482.3ZM850.4 509.5L850.5 509.3L849.5 497L836.8 495.5L836.7 495.6L835.3 509.4L836.5 510.7ZM849.8 524.2L835.7 523.1L835.5 522.9L836.5 510.7L850.4 509.5L850.6 523.3ZM894.3 503.6L892.3 502.1L879.7 501.8L877.5 509.6L879.2 513.6L892.6 515.6ZM904.4 516.2L904.7 527.9L893.8 528.8L891.9 527.2L892.8 516ZM893.9 440.8L893.5 440.4L878.8 440.5L878.2 441.4L879.7 451.6L893.4 452.2ZM1374.2 277L1371 268L1374 265.7L1379.3 266L1381.6 269.6L1381 274.6L1379.5 277.1ZM1380 346.9L1380.4 352.1L1373.7 355.4L1369.2 347.5L1372.7 343.5ZM1381.4 260.6L1379.3 266L1381.6 269.6L1389.9 267.9L1391.2 266.1L1392 261.1L1388.5 259L1383.2 259ZM1392 304.1L1397.8 299.6L1403 303.4L1400.8 310.8L1391.6 310.1ZM1414.7 283.7L1418 291.7L1415.3 294.3L1409.2 294.4L1410.4 285.3L1411.9 283.7ZM1408 301.5L1429.1 319.7L1415.3 294.3L1409.2 294.4L1408.9 294.6ZM1012.5 363.1L1023.8 362.5L1024.2 351L1022.4 349.1L1011.2 350.1L1010.8 350.5L1011.8 362.5ZM1013.2 373.7L1012.5 363.1L1023.8 362.5L1025.6 364L1025.7 374.3L1025.5 374.6ZM1025.6 364L1023.8 362.5L1024.2 351L1037.2 351.1L1036.8 361.1L1036.5 361.6ZM1038.1 385.2L1048.8 385.9L1051.1 374.2L1049.7 372.9L1038.6 373.5L1037.9 374.3ZM1074.6 363.2L1073.3 350.6L1062.3 350.7L1062.2 350.8L1063.3 362.1L1073.7 364ZM1061.1 375.7L1073.7 374.9L1074.1 374.3L1073.7 364L1063.3 362.1L1062.8 362.4L1059.4 374.3ZM1086.4 375.7L1087.3 374.6L1097.1 371.9L1102.2 376.6L1098.7 383.8L1086.8 378.9ZM1085.9 388.2L1098.3 386.7L1098.7 383.8L1086.8 378.9L1085.2 387.4ZM967.2 377.6L966.4 366.5L969.1 364.2L979.9 364.7L980.7 365.5L980.1 376.6L975.7 380.8ZM991 379.9L980.1 376.6L980.7 365.5L995.4 364.3L996.6 365.6L998.1 376.1L997.6 377.3ZM975.9 403.9L977 405.9L990.4 407.8L992 406.3L990.3 394.8L986.7 392.4L977.7 392.6ZM1001.8 386L1012.6 386.9L1013.6 396.7L1008.8 403.2L1007.1 403.1L999.5 391.8ZM1008.8 403.2L1009.6 404.1L1026.1 406.4L1026.7 405.8L1026.7 398.5L1024.4 396.5L1013.6 396.7ZM1043.1 400.8L1036.7 408.1L1026.7 405.8L1026.7 398.5L1036 394.7ZM1078.3 401L1086.9 394L1085.9 388.2L1085.2 387.4L1074 387.5L1073.6 395.5ZM1100 423.3L1090.8 423.6L1089.3 421.8L1092.1 414.9L1097 413.2L1101.4 416.6ZM1026.1 406.4L1022.9 417.8L1027.1 420.9L1038.6 418.1L1038.7 418L1036.7 408.1L1026.7 405.8ZM1027.8 432.7L1027.9 432.6L1038.4 432.7L1040.5 445.9L1039.1 447L1029.5 445ZM947.3 454.6L946.7 460.5L955.8 469.6L960.2 470.8L965.8 457.8L963.9 455.4L947.5 454.4ZM975.7 467.9L975.6 460.7L976.2 460.2L987.9 457.7L990.8 470.6L988.2 472.7ZM973.1 471.5L977.3 480.7L986.3 480.5L988.2 472.7L975.7 467.9ZM986.3 480.5L988.2 484L1001.6 481.5L998.1 470.9L990.8 470.6L988.2 472.7ZM975.4 495L977.3 492.5L974.1 484.9L964 484.5L961.5 495.1L962.1 495.7ZM999.3 494.5L988.5 492.9L987.9 492.1L988.2 484L1001.6 481.5L1003.1 482.7ZM1041.8 480.6L1040.2 470L1038.2 468L1028.6 468L1027.5 469.3L1028.9 478.5L1038.6 483.7ZM1027.9 495.7L1027.8 495.6L1013.5 494.2L1011.6 496.5L1013.1 507.7L1013.2 507.8L1025.2 506.9L1026.3 506ZM1066.5 483.3L1078.3 483.4L1078.5 483.1L1076.5 469.3L1068.2 467.7L1063.7 472.8L1063.6 481.5ZM1088.1 470.4L1078.5 467.6L1076.5 469.3L1078.5 483.1L1083.7 482.2L1090.1 473.2ZM1066.5 483.3L1078.3 483.4L1079 494.8L1065.4 496.6ZM1120.1 443.9L1113.7 453.6L1108.9 452.7L1106.7 447.9L1109.4 441L1119.9 443.7ZM1115 455L1116.9 460L1109.6 464.6L1106 460.6L1105.6 456.6L1108.9 452.7L1113.7 453.6ZM1119.6 462L1116.9 460L1109.6 464.6L1109.7 468.4L1115.9 471.4L1116.2 471.3ZM1099.6 518.7L1099.6 521.4L1102.2 527.7L1108.7 524.7L1108.8 514L1108.4 513.4L1107.5 513.4ZM1050.4 532.6L1041.3 532.7L1037.2 521.3L1038.2 520.1L1052.3 523.1L1052.1 530.8ZM1055.5 547.1L1053.1 559.6L1046 560.2L1039.1 555.8L1039.8 546.8L1040 546.4L1052 544.8ZM1259.4 419.7L1260 426.9L1255.8 430.2L1246 421.3L1246.2 418.2L1250.5 416.7ZM1191.1 425L1199.8 428.4L1200.2 433.9L1200 434.1L1193.7 436.7L1187.8 433L1188.6 428.6ZM1200.2 433.9L1209.1 434.7L1210.5 425.9L1201.8 424.5L1199.8 428.4ZM1209.6 448.4L1217.3 445.6L1218.7 442.7L1216.4 436.9L1210.1 435.6L1206.7 445.4ZM1217.3 445.6L1219.7 451.4L1228.8 452.5L1228.9 452.3L1227.1 442.8L1218.7 442.7ZM1236.8 442.5L1236.1 451.2L1228.9 452.3L1227.1 442.8L1227.8 442.2ZM1234.4 462.3L1227.6 463.1L1228.8 452.5L1228.9 452.3L1236.1 451.2L1239.2 453.3ZM1286.2 471.6L1281.5 465.4L1271.1 468.5L1275.7 478L1283.9 478.6L1285.6 477.6ZM1300.4 477L1309 476.4L1311.8 478.2L1307.6 493.4L1299.2 492.5L1298.6 492.2L1296 481.4ZM1338.7 515.1L1338.8 505.1L1332.9 502L1328.8 503.8L1324.5 509.2L1327.3 518.6L1333.7 521.5ZM1349.1 517L1338.7 515.1L1333.7 521.5L1335.5 526.5L1349.3 526.5ZM1154.6 488.4L1162.7 490.5L1164.3 481.5L1163.2 480.8L1155.7 481.7ZM1173.6 500L1163.7 501.9L1162 499L1164.3 492.7L1173.3 491.2L1174.1 491.7L1174.1 499.4ZM1197.6 489.1L1200.3 486.2L1207.1 489.2L1209.3 494.3L1209 498.5L1201.2 500.1ZM1200.9 500.4L1198.3 507.4L1201.7 511.1L1209.7 510.6L1210.6 499.9L1209 498.5L1201.2 500.1ZM1235.9 498.9L1238.4 487.8L1245.2 493.9L1244.3 497.9L1243 499.7L1236.5 499.3ZM1227.7 509.2L1226.4 510L1221 508.4L1217.8 500.7L1220.7 498.2L1228.2 496.3L1229.5 497.7ZM1235.9 498.9L1229.5 497.7L1227.7 509.2L1235 510.3L1236.5 499.3ZM1261.7 512.9L1253.2 507.7L1249.4 508.6L1247.8 514.6L1255 520.3L1262.8 517.4L1263 517.2ZM1243.2 518.9L1237.6 516.3L1236.4 511.4L1245.6 506.2L1249.4 508.6L1247.8 514.6ZM1261.4 499.4L1266.2 504.7L1261.7 512.9L1253.2 507.7L1255.4 501.2ZM1272.7 500.6L1269.6 503.7L1277.7 517L1278.5 516.7L1284.6 504.6L1284.3 503.2ZM1298.8 502.9L1310 510.9L1309.3 512.4L1296.9 515.2L1293.6 509.3ZM1164.4 509.4L1163.4 520.9L1169.2 522.9L1175.9 520.3L1170.6 509.7ZM1175.9 520.3L1169.2 522.9L1170.6 534.7L1179.8 532.6L1181.4 529.8L1179.8 520.6L1179.3 520.3ZM1192.7 508.7L1190.6 510.6L1189.7 518.6L1194.2 522.1L1201.1 515L1201.7 511.1L1198.3 507.4ZM1208.7 521.4L1208 530.9L1206.1 531.6L1195.3 530L1194.6 523.1L1208.5 521.4ZM1208.7 521.4L1209.4 520.8L1218.9 521.1L1219.5 521.5L1221.3 530.9L1217.7 534.8L1208 530.9ZM1232.3 529.2L1232 521.3L1237.6 516.3L1243.2 518.9L1243.2 519L1238.5 528.9ZM1255 520.3L1262.8 517.4L1259.5 531.3L1257.7 532.3L1254.3 532.2L1250.2 529.2L1250.2 526.4ZM1273.4 520.5L1263 517.2L1262.8 517.4L1259.5 531.3L1269.6 532.8L1273.9 528.7ZM1242.7 540.9L1244.3 531.9L1250.2 529.2L1254.3 532.2L1251.3 541.3ZM1254.3 545.1L1260.5 545.3L1261.9 544.4L1257.7 532.3L1254.3 532.2L1251.3 541.3ZM1257.7 532.3L1261.9 544.4L1268.4 543.6L1269.6 532.8L1259.5 531.3ZM1147.8 557.3L1161.7 556.2L1162.3 555.7L1162 546.6L1158.6 544.1L1150.1 543.2L1146.5 555.8ZM1221.8 565L1217.5 554.9L1209.2 557.8L1206.7 560.3L1206.4 563.6L1206.8 564.4L1220.2 566.6ZM1230.7 566.7L1227.6 578.7L1218.5 577.3L1220.2 566.6L1221.8 565L1229.8 564.8ZM1246.9 566.6L1249.7 566.5L1258.6 577L1255.7 579.5L1241.4 579.8L1243 570.7ZM1263.2 561.6L1262.8 577L1263.8 577.6L1273.9 577.4L1274.5 576.5L1277.1 560.6L1274.9 558.8L1264.7 560.3ZM1242.2 585.7L1252.2 590.9L1253 590.2L1255.7 579.5L1241.4 579.8L1241 580.4L1241.8 585ZM1275.9 590.8L1277.8 586.8L1287.5 586.6L1291.2 592L1288.9 601.5L1277.3 595.9ZM1188.9 577.1L1193.5 577.5L1195.4 578.8L1198.3 589.5L1194.6 592.8L1182.7 587.6ZM1158.3 289.2L1160.3 301.2L1159.9 301.6L1149.5 302.4L1146.7 299.3L1148.9 288.8ZM1147.4 312.2L1149.5 302.4L1146.7 299.3L1136.6 300L1135.1 301.7L1135.9 312.5L1136.1 312.7ZM1160.5 312.6L1159.9 301.6L1149.5 302.4L1147.4 312.2L1149.1 313.9ZM1123.5 325.5L1134.4 326.9L1136.7 325L1136.1 312.7L1135.9 312.5L1123.8 313.8ZM1122.6 326.1L1123.3 337.8L1125.2 339.6L1133.9 337.5L1134.4 326.9L1123.5 325.5ZM1148.6 337L1147.5 338L1135.1 338.5L1133.9 337.5L1134.4 326.9L1136.7 325L1147.2 327.2ZM1135.1 338.5L1136.5 350.1L1136.3 350.3L1124.2 349.9L1123.4 349.1L1125.2 339.6L1133.9 337.5ZM1159.2 339.5L1159.5 349.1L1159 349.6L1145.5 349.9L1147.5 338L1148.6 337ZM1235.2 309L1239.5 311L1243.9 306.8L1243.6 297.5L1240.3 294.6L1234.5 296.3L1231.3 300.8ZM1226.5 326.2L1235.7 329.6L1232.7 338.2L1222.6 336.9L1222.5 326.9L1222.6 326.8ZM1185.1 338.7L1185.5 348.3L1173.4 348.5L1171.2 337.6L1183.8 337.2ZM1166.5 333.5L1171.2 337.6L1173.4 348.5L1170.8 351.6L1159.5 349.1L1159.2 339.5ZM1185.7 364.1L1196.8 360.4L1196.5 352L1195.1 350.7L1186 348.8L1182.4 360.5ZM1179.4 376.5L1177.6 376.5L1174.2 374.7L1173.9 374.4L1171.7 361.4L1172 361.1L1182.4 360.5L1185.7 364.1L1185.7 373.1ZM1209.5 362.4L1209.1 349.7L1209.6 349.2L1220.8 350.6L1221.1 361.2L1219.5 363.2ZM1233.7 340L1230.7 349.6L1222.6 349.2L1221.9 337.9L1222.6 336.9L1232.7 338.2ZM1243.4 341.8L1233.7 340L1230.7 349.6L1231.4 350.1L1239.8 352.5L1242 350.1ZM1250.8 351.2L1242 350.1L1239.8 352.5L1241.2 360.4L1250.8 361.5L1252.8 360.1L1251.7 352.4ZM1229.1 361.7L1230.7 371.1L1239.1 369.5L1240 362L1229.8 361.2ZM1239.7 383.4L1233 383.4L1226.6 374.8L1230.7 371.1L1239.1 369.5L1241.7 373.2ZM1171.7 361.4L1160.4 363.5L1159.2 374.2L1173.9 374.4ZM1156 387.3L1157 376.4L1146.5 374.9L1146.4 374.9L1144.8 386.9L1155.3 387.8ZM1163.1 390.8L1167.1 387.9L1166.2 383.8L1157.5 376.1L1157 376.4L1156 387.3ZM1174.2 374.7L1166.2 383.8L1167.1 387.9L1173.3 389L1177.6 376.5ZM1172.1 400.6L1174.9 395.4L1173.7 389.6L1173.3 389L1167.1 387.9L1163.1 390.8L1163 396.1L1165.7 399.7ZM1185.3 387.9L1184.2 395.7L1174.9 395.4L1173.7 389.6L1185.1 387.8ZM1392.5 276.2L1381 274.6L1381.6 269.6L1389.9 267.9ZM1387.4 283.8L1393.3 277L1399.1 277.7L1399.9 285.1L1399.2 286.8L1388.9 286.8ZM1372.5 287.2L1372 278.1L1374.2 277L1379.5 277.1L1381.4 281.9L1379.3 285.5L1372.9 287.8ZM1372.5 287.2L1363.2 283.8L1361.2 286.3L1364 293L1366 294.1L1372.3 291.1L1372.9 287.8ZM1373.1 301L1371.4 302.3L1368.2 301.8L1366 294.1L1372.3 291.1L1376.1 295ZM1381.8 302.6L1381.7 308.5L1377.6 310.9L1376.1 311.1L1371.4 302.3L1373.1 301ZM1329.8 311.9L1333.1 311.7L1337.6 318.4L1336.9 319.4L1330.3 322.8L1327.2 320.9ZM1355 312.8L1354.9 303.7L1348.6 304.7L1345.5 311.2L1346 312.8L1353.5 314.8ZM1363.8 312.1L1355 312.8L1354.9 303.7L1356.2 302.8L1363.3 305.6L1364.3 311.7ZM1360.5 320.2L1355 319.1L1353 321.2L1355.9 329.5L1363.4 327.2L1363.7 325ZM1363.8 312.1L1360.5 320.2L1363.7 325L1372.4 318.9L1372.2 315L1364.3 311.7ZM1345.7 327.7L1345.4 335.3L1353.8 337.7L1354.4 337.2L1355.1 330.2ZM1344.8 335.9L1347 346L1347.6 346.4L1350.7 346.4L1352 345.2L1353.8 337.7L1345.4 335.3ZM1365.5 330.1L1364.2 337L1372.4 341.3L1375.6 336L1372.7 330.8ZM1373.6 320.2L1382.5 322.3L1382 327.3L1374.3 328.5ZM1363.3 348.7L1369.2 347.5L1373.7 355.4L1373 356.9L1364.1 358.8L1361.7 354.3Z"/><path fill="#fdcc8a" d="M1226.9 726.6L1228.4 750.5L1231.4 749.4L1239.7 739.2L1239.8 729.5L1235.6 725.8L1228.7 725.4ZM1250.5 726.2L1239.8 729.5L1235.6 725.8L1240.1 715.3L1249.9 716.2ZM1253.5 728.5L1250.3 739.9L1239.7 739.2L1239.8 729.5L1250.5 726.2ZM1252.3 755.1L1231.4 749.4L1239.7 739.2L1250.3 739.9L1255 744.9ZM1252.3 755.1L1255 744.9L1262.9 741.3L1264.7 742.4L1268.7 755.1L1252.9 756.3ZM1264.7 742.4L1279.1 741.5L1281.9 745.5L1280.3 754.6L1279.3 755.7L1271.5 756.6L1268.7 755.1ZM1291.1 714.2L1359.6 668.5L1353.2 667.3L1281.1 697.5L1279 701.7L1279.8 710.6ZM1277.9 729.4L1291.5 726.7L1294.3 728.9L1291.1 742.5L1281.9 745.5L1279.1 741.5ZM1291.6 827L1294.2 840.3L1275.8 877L1090.9 1120.1L1089.5 1105.6L1136.4 939.4L1149.4 928.3L1279.7 825.2ZM1291.5 726.7L1291.1 714.2L1359.6 668.5L1409.1 672.2L1375.6 695.9L1314.2 729.6L1294.3 728.9ZM1323.4 844L1311.4 839.1L1306.8 852.9L1323.3 851.1L1324 844.6ZM1319.4 771.3L1325.4 785.1L1335.4 783.3L1357 768L1321.9 767.5ZM1324 801L1336.3 798.8L1335.4 783.3L1325.4 785.1L1324.8 785.7L1320.5 798.1ZM1312.4 257.9L1313.6 258.5L1325.6 258.5L1326.5 245.1L1312.9 254.7ZM1330.3 364.8L1325.4 374.3L1330.6 376.1L1337.6 372.2L1334 366ZM1345.6 269.9L1343.5 261.7L1338.4 259.8L1334.6 269.8ZM1345.3 356L1344.7 361.7L1338.8 361.3L1335.7 352.9L1336.1 352.5L1343.7 353.4ZM1353.9 264.4L1353.2 259.9L1356.9 256.7L1363.9 260.8L1362.9 266.6L1357.7 266.7ZM1372.4 318.9L1373.6 320.2L1382.5 322.3L1384.3 320.6L1377.6 310.9L1376.1 311.1L1372.2 315ZM1382 335.7L1383 329.2L1400.2 329.1L1419.3 340.5L1383.2 336.9ZM1408 301.5L1429.1 319.7L1469 365.3L1434.6 347.8L1429 344.5L1400.8 310.8L1403 303.4ZM1434.7 266.2L1437.3 270.6L1432.1 282.7L1423.4 268.1L1424.8 267ZM1305.6 274.7L1301.8 268.8L1289.3 270L1284.8 271.8L1283.7 276.6L1287.7 282.9L1303.5 284.3ZM1302.4 203.2L1304.5 196L1310.3 194.6L1318.9 206L1317.1 214.2ZM1316.8 276.1L1305.6 274.7L1303.5 284.3L1304.8 288.5L1317.2 284.3ZM1315.9 182.7L1328.9 180.3L1330.5 195.8L1329.8 196.9L1312.4 192.4ZM1341 207.4L1332.8 205.2L1329.5 216.1L1343 219.1L1343 209.6ZM1395.6 199.1L1398.8 189.2L1398.1 185.7L1380.1 186.3L1379.4 190.2L1391.3 199.1ZM1393.5 230.8L1383.4 229.4L1380.7 217.4L1381.5 215.2L1396.1 214.3L1398.5 222.6ZM1395.6 199.1L1401.5 206.5L1408.1 206.8L1408.1 206.8L1413 193.2L1398.8 189.2ZM1406.7 247.3L1398.2 250.7L1394.8 248.9L1391.4 244.2L1396.3 234.7L1403.9 237.6L1405.7 239.2L1407.5 244.5ZM1420.8 252L1419.8 246.3L1416.7 243.1L1407.5 244.5L1406.7 247.3L1408.5 250.9L1417.5 253.1ZM1420.2 207.1L1433.3 201.6L1431.7 217.2L1423.3 217.4L1418.6 208.8ZM1420.8 252L1419.8 246.3L1432.7 243.2L1433.5 245.1L1427 254.5L1426.4 254.7ZM1433.5 245.1L1443.3 250.6L1446.9 248.2L1449.8 235.6L1444.6 231.1L1432.3 239.5L1432.7 243.2ZM1432.1 282.7L1437.3 270.6L1446.9 270.6L1499.4 345.5L1529.8 396.9L1524.9 394.7L1434.2 290L1432 285L1432 284.5ZM1263.9 268.1L1262.3 273.5L1252.3 275.9L1248.8 274.1L1251.5 263.6L1254.1 261.6L1261.2 265.1ZM1261.2 383.2L1261 395.1L1252.8 394.7L1251.3 385.3ZM1285.2 245.7L1271.5 237.7L1274 264.6L1283.9 270.8ZM1283.7 276.6L1271.3 284.2L1267.7 283.4L1262.3 273.5L1263.9 268.1L1274 264.6L1283.9 270.8L1284.8 271.8ZM1266.9 349.6L1281.3 336.8L1287.4 345.2L1281.1 357.3L1267.5 351.6ZM1298.9 324.8L1297.4 326.9L1301.7 343.6L1314.4 336.7L1314.5 329.3ZM1314.9 379.2L1316.2 388.3L1312.3 395.4L1307.4 397.6L1306 397.7L1294.3 384.8L1298.9 372.7L1299.4 372.4ZM1131.2 377.3L1131.2 377.3L1135.3 387.1L1128.9 392.5L1124.9 387.5ZM1146.4 429.6L1145.9 433.7L1135.7 436.7L1133.5 434.8L1135.2 425.8L1136.8 425ZM1146.3 444.9L1148.5 436.6L1145.9 433.7L1135.7 436.7L1136.9 444.8L1145.1 446.8ZM1151.6 472.7L1145.1 472.3L1144.8 463.3L1146.8 461.4L1154.1 461.2L1155.8 463.4ZM1173.4 417.6L1172.7 410L1162.5 410.1L1160.5 415L1160.6 415.2ZM1173.5 417.9L1170.7 423.5L1164.5 425.9L1163.2 424.9L1160.6 415.2L1173.4 417.6ZM1173.5 417.9L1181.6 419.1L1185.5 416.6L1183.6 408.5L1182 406.4L1174.8 406L1172.7 410L1173.4 417.6ZM1191.1 425L1190.7 417.9L1185.5 416.6L1181.6 419.1L1181.7 423.6L1188.6 428.6ZM1201 418.2L1200 406.8L1208.2 409.2L1205.5 416ZM1335.8 401L1350.9 405.8L1348.1 414.7L1335.7 413.1L1332.2 405.8ZM1357.6 431.9L1362.4 418.4L1349.7 418.2L1346.8 429.6L1349.1 432.1ZM1363.7 499.9L1360.5 505.1L1348.4 504.7L1346.6 502.7L1350 494.9L1358 492.4L1361 495ZM1363.4 480.9L1361.2 468.4L1361.7 467.7L1369.4 465.6L1374.2 467.8L1373.8 479.4L1370.7 481.7ZM1383.7 441L1411.4 440.4L1411.7 440.3L1371.7 412.5L1366.4 416.7L1366.4 416.8L1371.2 431ZM1377.5 492.5L1374 489.7L1370.7 481.7L1373.8 479.4L1385.4 480.2L1386.9 483.3L1385.6 491.6L1382.7 493.7ZM1090 634.6L1083.7 635.2L1080.5 627.7L1083.1 622.7L1090.6 624.5ZM1090.6 657.3L1080.6 656.4L1073.5 664.3L1073.5 664.4L1081.7 672.2L1090.3 668.3ZM1120 590.6L1112.6 587.2L1107.4 588.1L1106.3 596.8L1113.8 598.1ZM1116.3 608.3L1111.8 610.8L1105.3 607.6L1102.3 600.1L1106.3 596.8L1113.8 598.1L1117.5 604.7ZM1117 702.3L1105.2 703.8L1104.8 704.2L1106.2 713.5L1114.1 715.7L1116.6 714.2L1119.3 704.2ZM1124.2 683L1116.4 682.7L1112.4 685.2L1110.2 688.9L1117.1 695.8L1124 689.9ZM1183.5 602.7L1192.8 599.4L1195.4 601.9L1196.7 613.4L1196.3 613.8L1182.9 607.2ZM1182.5 714.2L1195.7 714.8L1197.8 718.9L1194.1 730.8L1193.7 730.6L1182.3 717.6ZM1216.5 647.8L1217.5 655.7L1229.9 653.8L1230.7 644.3L1228.1 641.3ZM1246.8 691.6L1245.1 698.7L1243.8 699.2L1232.3 689.4L1234.8 681.5L1240.7 681.6ZM1232.3 689.4L1228.7 692.9L1231.4 698.9L1239.4 702.1L1243.8 699.2ZM1263.1 625.9L1262.6 633.7L1252.2 635.5L1249.2 624.6L1262 624.2ZM1290.1 618.3L1301.3 626.3L1301.2 603.2L1300.7 602.9L1289.3 602.4L1285.7 611.7ZM1011.8 276.9L1012.3 277.3L1012.6 289L1002.8 290.4L1001.5 278.5L1002.4 277.8ZM1037.4 289.7L1037.3 299.4L1035.2 301.5L1024.7 299.2L1025 289.7L1025.5 289.2ZM1026.9 313.7L1025.8 323.2L1035.8 326.9L1038.7 323.8L1036.7 312.5L1035.3 311.7ZM1048.7 215.2L1036.7 215.1L1036.5 227.4L1047.5 227.5L1049.7 225ZM1037 276.8L1051.5 277.1L1055.8 280.9L1056 286.1L1054.7 288.9L1037.9 289.3ZM1037.4 289.7L1037.3 299.4L1053.8 302.7L1055.3 299.2L1054.7 288.9L1037.9 289.3ZM1074.4 203.4L1084.6 203.4L1087.2 213.7L1084.5 216.4L1074.3 216L1072.6 213.7ZM1122.3 214.3L1112.1 214.3L1111.2 215L1110.7 225.9L1122 227.4L1122.5 226.8ZM1123.5 248.9L1134.2 251.9L1136.5 239.9L1134 237.8L1124.3 239.4ZM1121.3 311.7L1122.1 301.8L1124.3 300L1135.1 301.7L1135.9 312.5L1123.8 313.8ZM914.6 585.6L923.5 589.5L925.2 598.6L912.3 602.4L908.9 597.9L913 587ZM927.8 663.6L927.4 654.1L912.4 648.4L911 650L913.7 661.3ZM941.5 582.3L937.9 574.2L929 576.5L925.7 587.5L939.5 587.4ZM941.2 595L926.1 599.5L928.4 607.8L941.3 609.1L941.5 609L944.7 597.8ZM938.4 717.2L950.3 719.8L952 725.4L949.2 730.6L937.8 728L937.8 717.5ZM971.5 574.6L979.5 574.3L980.4 575L981.1 590.1L978.6 593.3L966.7 584.6ZM976.9 664.5L980.9 667.6L980 675.3L972.4 679.6L966 677.5L969.1 666ZM992.4 587.4L989.8 575.8L980.4 575L981.1 590.1ZM1007.4 613.8L1005.9 619.8L1017.4 628.5L1021.4 621.9L1017 611ZM1032.1 691.1L1028.8 686.6L1018.6 688.9L1016.7 693L1016.4 700.5L1017.5 701.8L1027.3 703.1ZM1028.9 715.1L1015.1 715.6L1014.5 715.2L1017.5 701.8L1027.3 703.1L1029.1 704.8ZM1042.9 644.4L1030 655.1L1025.9 648.9L1028.5 638.2ZM1056.5 674.6L1057.7 675.8L1052.8 689.6L1044.7 689.1L1041.7 677.8ZM1055.8 700.7L1042.5 703.1L1041.5 704.7L1044.2 714L1052.6 715.5L1056 712.4L1058.4 704.5ZM1059.8 741.3L1075.7 736.6L1081.7 739L1085 741.5L1067.7 757.5L1059.5 756.3L1057.6 753.3ZM1081.1 705.6L1081.3 705.9L1079.9 713.4L1071.6 715.1L1067.6 704.6L1071 700.4ZM1207.8 716.1L1197.8 718.9L1194.1 730.8L1200.6 749.4L1214.3 729.4L1211.5 717.5ZM1224.1 726.7L1214.3 729.4L1211.5 717.5L1217.2 714.1ZM876.2 251.3L891.9 254.5L893.1 262.2L891.1 265L875.1 265.6L874 264.1ZM890.8 290L893.2 276.8L891.8 275.7L876.8 277.7L874.9 281.6L877.3 289.5ZM892.8 326.7L876.4 329.3L876.4 337.8L891.9 341.1L893.4 339.9L894.1 328ZM891.7 427.6L879.6 430.6L876.7 426.6L878.5 415.1L890.9 416.4ZM918.3 427.3L905.2 426.1L904.9 416.4L918.5 415.7L919.5 426.2ZM904.4 516.2L904.7 527.9L906.9 529.5L916.7 527.5L916.5 516.5L906.4 514.4ZM942.2 338.5L942.4 329.6L954.6 327.5L956 338.5L954 340.6L943.6 340.3ZM968.5 339.1L966.8 327.8L955.1 327L954.6 327.5L956 338.5L967.3 340.4ZM955.5 365.7L966.4 366.5L967.2 377.6L963.6 379.5L954 377ZM966.9 253.2L968.2 251.4L980.9 251.4L979.7 263.3L969.4 263ZM995.4 364.3L995.6 354.5L992.7 351.2L980.3 353.5L979.9 364.7L980.7 365.5ZM1002.8 290.4L1002.1 291.1L993.1 291.3L991.5 289.8L992.3 279.5L1001.5 278.5ZM761.2 384.1L748.7 360.9L756.1 353.7L774.6 362.3L772.3 381ZM845.9 282.1L858.5 279.3L859.2 265.5L858 264.5L844.9 264.5L843.3 265.7L845.5 281.8ZM727.5 550.5L726.7 538.1L726.8 538L740.2 537L741.3 550.1L740.2 551.2ZM767.6 404.7L778.6 399.4L780.5 401.5L780.7 413.3L768 414.9L767.2 414.2ZM780.5 401.5L794.4 401.1L795.4 412.6L794.5 413.7L781.3 413.9L780.7 413.3ZM795.2 481.2L794.8 481.5L795.2 495.5L795.7 496L807.5 495.1L808.9 482.5ZM823.4 551.2L822.1 566.1L815.8 567.6L810 565.7L809.7 550.7ZM775.9 751.2L764.2 751.5L763.4 764.7L775.8 764.3L777.5 753.3ZM788.7 635.6L787.6 646.6L776.4 648.9L775.4 648L775.2 635.2L776.5 633.9ZM788.3 688L775.9 686.6L775.8 698.8L776.7 699.6L788 699.2ZM776.1 842.7L775.3 841.8L775.6 829.3L775.7 829.3L788.8 828.9L789.5 841.1L786.6 843.6ZM799.7 855L788.9 856.5L788.9 856.4L786.6 843.6L789.5 841.1L800.5 842.4L801.6 843.6ZM802.1 857.1L801.2 869.1L789.8 870L788.9 856.5L799.7 855ZM802.1 662.3L814 661L815 659.7L814.7 648.9L814.6 648.7L801.4 648.5L801.2 648.8L801 660.9ZM815 765.5L814.9 778.3L803.1 778.7L801.9 777.3L801.7 766.6ZM814.6 648.7L815.2 635.2L815.3 635.1L826.9 635.1L828.4 648.2L828 648.6L814.7 648.9ZM827.2 791.1L827.8 778.3L815.2 778.6L815.4 790.6ZM813.6 844.3L827.7 843.3L828.8 844.3L827.8 854.6L814.5 856.9ZM881.3 610.2L879.9 622L879.7 622.1L868.7 621.7L866.5 609.2L868.5 607.2L879.8 608.6ZM868.5 649.9L878.7 648.1L879.1 636.3L865.8 635.6L865.3 636.1L865.6 647ZM893.3 566.4L892.7 582.5L892.2 583L881.5 582.7L879.7 567.4L892 565.5ZM902.7 727.2L900.5 745.3L899.5 745.9L892.5 739.5L892.9 727.6ZM899.3 747.1L905.1 756.7L903.1 764.4L900.5 765.5L892.2 765.6L891.4 764.8L891.9 753.3ZM698.1 686.9L684.9 687.7L685.2 699.5L685.9 700.1L696.6 700.2ZM835.9 399.7L836.8 413.3L849.7 412.9L849.9 412.7L850 401.7L843.9 396.2ZM822.7 508.5L821.8 509.5L808.6 510.1L808.9 496.4L822.1 496.4ZM836.4 453.7L837 441.5L850.8 440.3L850.8 440.3L849.9 454.9L849.1 455.5L837.4 454.9ZM850.7 469.3L863.5 467.9L863.7 455.8L863.1 455.2L849.9 454.9L849.1 455.5L850.4 469ZM894.8 453.7L893.4 452.2L893.9 440.8L904.4 440.6L905.6 451.7L904.6 452.9ZM893 464.4L905.3 466L905.1 476.4L893.8 477.6L892.3 465ZM1334.3 330.1L1333.5 329.9L1330.3 322.8L1336.9 319.4L1337.6 328.1ZM1346 312.8L1343.7 318.6L1337.6 318.4L1333.1 311.7L1336.8 308.5L1345.5 311.2ZM1347.6 346.4L1347 346L1339.1 344.4L1336.4 348.6L1336.1 352.5L1343.7 353.4ZM1345.8 323.3L1343.7 318.6L1346 312.8L1353.5 314.8L1355 319.1L1353 321.2ZM1345.1 326.8L1345.8 323.3L1353 321.2L1355.9 329.5L1355.1 330.2L1345.7 327.7ZM1353.4 354.3L1353.9 354.7L1352.5 362.4L1350.2 364.5L1347 364.3L1344.7 361.7L1345.3 356ZM1363.8 312.1L1355 312.8L1353.5 314.8L1355 319.1L1360.5 320.2ZM1372.5 287.2L1372 278.1L1364.5 277.9L1363.2 283.8ZM1362 338.7L1364.2 337L1372.4 341.3L1372.7 343.5L1369.2 347.5L1363.3 348.7L1361.9 346.9ZM1370.3 257.7L1374 265.7L1379.3 266L1381.4 260.6L1372.5 255.3ZM1381.8 302.6L1373.1 301L1376.1 295L1381.9 294.8L1383.2 300.1ZM1382 335.7L1375.6 336L1372.4 341.3L1372.7 343.5L1380 346.9L1381.7 345.3L1383.2 336.9ZM1380.1 246.6L1389 252.7L1388.5 259L1383.2 259ZM1381.4 281.9L1387.4 283.8L1393.3 277L1392.5 276.2L1381 274.6L1379.5 277.1ZM1383.2 300.1L1389.2 301L1391 294.2L1387.8 291.8L1382.4 293.9L1381.9 294.8ZM1399.1 277.7L1393.3 277L1392.5 276.2L1389.9 267.9L1391.2 266.1L1400.1 270.6L1400.6 276.1ZM1387.8 291.8L1388.9 286.8L1399.2 286.8L1399.9 291.4L1397.4 294.6L1391 294.2ZM1407.1 261.9L1396.5 259.5L1396.3 259.3L1398.2 250.7L1406.7 247.3L1408.5 250.9L1408.7 260.2ZM1399.1 277.7L1399.9 285.1L1410.4 285.3L1411.9 283.7L1407.7 275.8L1400.6 276.1ZM1419.3 267.5L1410.7 270L1409.6 274L1417.5 275.9L1419.2 274.3L1421.1 268.5ZM1414.7 283.7L1411.9 283.7L1407.7 275.8L1409.6 274L1417.5 275.9L1417 282.3ZM1432 284.5L1432 285L1417 282.3L1417.5 275.9L1419.2 274.3ZM1414.7 283.7L1418 291.7L1434.2 290L1432 285L1417 282.3ZM1036.8 361.1L1037.2 351.1L1038.3 349.7L1048.7 349.5L1050.6 351.4L1050.5 361.5L1049.4 362.9ZM1059.4 374.3L1062.8 362.4L1050.5 361.5L1049.4 362.9L1049.7 372.9L1051.1 374.2ZM961.6 392.2L976.6 391.4L977.7 392.6L975.9 403.9L962.4 403.9L959.6 393.7ZM1043.1 400.8L1036.7 408.1L1038.7 418L1049.6 416.9L1051.9 404.8L1051.4 403.8L1047.2 400.7ZM1085.9 388.2L1098.3 386.7L1099.8 389.4L1096.2 395.8L1090.3 396.6L1086.9 394ZM1097.5 406L1090.1 404.8L1090.3 396.6L1096.2 395.8L1098.8 399.7ZM1120 387.4L1119.7 396.7L1119.6 396.7L1109.7 395.8L1108.3 392.2L1110.5 388L1118.9 386.2ZM1089.3 421.8L1080.6 420.2L1078.2 417.4L1079.7 408.3L1086.1 407.8L1092.1 414.9ZM1097.6 406.2L1097 413.2L1092.1 414.9L1086.1 407.8L1090.1 404.8L1097.5 406ZM1101.4 416.6L1097 413.2L1097.6 406.2L1105.6 406.9L1106.9 414.1ZM1078.5 432.6L1067.4 429.6L1068.5 420L1078.2 417.4L1080.6 420.2ZM1012.3 431.8L1017.7 418.3L1013.8 415.9L1001.5 420.7L1000.7 421.8L1002.7 429.4L1004.9 432ZM941.3 477.4L941.8 465.7L946.7 460.5L955.8 469.6L948.3 478.6L942 478.3ZM998.1 470.9L1001.2 468.1L1003.2 458.3L1003 458.1L988.1 457.5L987.9 457.7L990.8 470.6ZM1014.9 447.2L1012.2 457.3L1003.2 458.3L1003 458.1L999.5 443.8L1000.8 442.7ZM1012.3 457.4L1012.2 457.3L1003.2 458.3L1001.2 468.1L1014.2 472.9L1017.5 469.5ZM1064.8 497.3L1067 508L1073.5 508.5L1077.5 505.1L1080.3 496.8L1079 494.8L1065.4 496.6ZM1088.2 528.8L1078.6 535.3L1077.4 534L1075 522.9L1078.1 518.8L1085.1 518.4L1087.9 523.3ZM1119.6 462L1116.2 471.3L1124.8 473.6L1124.9 462ZM1109.2 500.6L1102.3 503.8L1097.4 498.6L1100.6 492L1102.4 491L1104.5 490.9L1109.7 499.8ZM1088.2 528.8L1094.4 531.7L1100 531.7L1101.8 529.1L1102.2 527.7L1099.6 521.4L1087.9 523.3ZM1001.4 544.5L1000.5 546L1003.1 557.8L1003.3 558L1014.1 557.9L1017.2 547.4L1015.5 546.3ZM1038.4 491.2L1036.3 493.5L1042.9 508.6L1050 507.3L1052.9 495.7L1052.2 494.2ZM1210.1 435.6L1209.1 434.7L1210.5 425.9L1211.7 424.9L1219.4 425.6L1220 426.1L1220.3 431.7L1216.4 436.9ZM1203 444.9L1200 434.1L1193.7 436.7L1192.9 441.3L1200.6 446.3ZM1245.8 463.1L1256.3 458.2L1261.6 467.6L1259.9 470.4L1247.9 471.7L1246.8 471.1ZM1282.3 490.7L1283.9 478.6L1285.6 477.6L1296 481.4L1298.6 492.2L1286.9 496.7ZM1270.7 491.1L1282.3 490.7L1286.9 496.7L1284.3 503.2L1272.7 500.6ZM1270.7 491.1L1269.8 490.3L1263.1 491.5L1261.4 499.4L1266.2 504.7L1269.6 503.7L1272.7 500.6ZM1299.2 492.5L1307.6 493.4L1311.6 496.2L1312 508.3L1310 510.9L1298.8 502.9ZM1296.9 515.2L1309.3 512.4L1312.2 520.8L1311.3 524.9L1300.7 527.3L1295.6 517.7ZM1194.6 523.1L1194.2 522.1L1189.7 518.6L1179.8 520.6L1181.4 529.8L1194.1 531.6L1195.3 530ZM1231.4 530.2L1221.3 530.9L1217.7 534.8L1217.9 538.3L1225.7 544L1233.6 539.1ZM1225.7 544L1217.9 538.3L1214.5 542.9L1217.5 554.8L1226.9 551.9ZM1214.5 542.9L1217.5 554.8L1217.5 554.9L1209.2 557.8L1206.8 545ZM1263.2 561.6L1262.8 577L1258.6 577L1249.7 566.5L1253.4 563.4ZM1285.3 560.3L1289.9 555.3L1298.8 553.8L1302.6 557.8L1302.1 562.9L1299 566.1L1287.6 563.2ZM1302.1 562.9L1310.1 569.1L1305 577.1L1299.7 577.7L1299.5 577.6L1299 566.1ZM1291.2 592L1298.7 591.6L1300.7 589.8L1299.7 577.7L1299.5 577.6L1293.6 577.8L1287.5 586.6ZM1239.3 601.5L1242.2 585.7L1241.8 585L1229 593L1230.8 598.8ZM1275.3 610.9L1272.8 605.5L1277.3 595.9L1288.9 601.5L1289.3 602.4L1285.7 611.7ZM1174.1 580L1175 585.3L1170.6 588.1L1160.9 587.9L1161.1 580.1L1161.6 579.5L1170.2 575.8ZM1180.2 599.1L1181.5 588.1L1175 585.3L1170.6 588.1L1172.4 598.8ZM1147.2 327.2L1136.7 325L1136.1 312.7L1147.4 312.2L1149.1 313.9L1149.7 324.7ZM1220.8 312.6L1227.7 313.4L1235.2 309L1231.3 300.8L1221.9 301.8L1220.4 312.3ZM1208.5 338.3L1208.2 338L1209.2 327.5L1210.1 326.7L1222.5 326.9L1222.6 336.9L1221.9 337.9ZM1208.5 338.3L1208.2 338L1198.5 338.2L1195.1 350.7L1196.5 352L1209.1 349.7L1209.6 349.2ZM1185.1 338.7L1185.5 348.3L1186 348.8L1195.1 350.7L1198.5 338.2L1195.8 335.8ZM1222.6 349.2L1221.9 337.9L1208.5 338.3L1209.6 349.2L1220.8 350.6ZM1209.5 362.4L1209.1 349.7L1196.5 352L1196.8 360.4L1197 360.7L1208.5 363.2ZM1229.8 361.2L1231.4 350.1L1239.8 352.5L1241.2 360.4L1240 362ZM1241.7 385.3L1250.7 385L1250.8 372L1241.7 373.2L1239.7 383.4ZM1146.2 362.9L1135.6 361.8L1134.6 375.2L1146.4 374.9L1146.5 374.9ZM1185.1 387.8L1173.7 389.6L1173.3 389L1177.6 376.5L1179.4 376.5ZM1372.5 255.3L1381.4 260.6L1383.2 259L1380.1 246.6L1378.9 244.5L1378.6 244.3L1374.9 245.8ZM1398.2 250.7L1394.8 248.9L1389 252.7L1388.5 259L1392 261.1L1396.3 259.3ZM1407.1 261.9L1396.5 259.5L1400.3 270.1L1407 263.1ZM1396.3 259.3L1392 261.1L1391.2 266.1L1400.1 270.6L1400.3 270.1L1396.5 259.5ZM1407 263.1L1400.3 270.1L1400.1 270.6L1400.6 276.1L1407.7 275.8L1409.6 274L1410.7 270ZM1419.3 267.5L1410.7 270L1407 263.1L1407.1 261.9L1408.7 260.2L1416 261.4ZM1364.5 277.9L1372 278.1L1374.2 277L1371 268L1364.5 268.7L1363.7 276.7ZM1387.8 291.8L1388.9 286.8L1387.4 283.8L1381.4 281.9L1379.3 285.5L1382.4 293.9ZM1381.9 294.8L1382.4 293.9L1379.3 285.5L1372.9 287.8L1372.3 291.1L1376.1 295ZM1381.8 302.6L1381.7 308.5L1390.5 311.1L1391.6 310.1L1392 304.1L1389.2 301L1383.2 300.1ZM1397.4 294.6L1399.9 291.4L1408.9 294.6L1408 301.5L1403 303.4L1397.8 299.6ZM1391 294.2L1397.4 294.6L1397.8 299.6L1392 304.1L1389.2 301ZM1399.9 285.1L1410.4 285.3L1409.2 294.4L1408.9 294.6L1399.9 291.4L1399.2 286.8ZM1345.1 326.8L1337.6 328.1L1336.9 319.4L1337.6 318.4L1343.7 318.6L1345.8 323.3ZM1372.4 318.9L1373.6 320.2L1374.3 328.5L1372.7 330.8L1365.5 330.1L1363.4 327.2L1363.7 325ZM1355.9 329.5L1363.4 327.2L1365.5 330.1L1364.2 337L1362 338.7L1354.4 337.2L1355.1 330.2ZM1374.3 328.5L1382 327.3L1383 329.2L1382 335.7L1375.6 336L1372.7 330.8ZM1337.4 338.1L1329.5 340.9L1328.7 344L1336.4 348.6L1339.1 344.4L1337.6 338.2ZM1344.8 335.9L1347 346L1339.1 344.4L1337.6 338.2ZM1350.7 346.4L1352 345.2L1361.9 346.9L1363.3 348.7L1361.7 354.3L1353.9 354.7L1353.4 354.3ZM1353.8 337.7L1354.4 337.2L1362 338.7L1361.9 346.9L1352 345.2ZM1350.7 346.4L1353.4 354.3L1345.3 356L1343.7 353.4L1347.6 346.4ZM1364.3 311.7L1363.3 305.6L1368.2 301.8L1371.4 302.3L1376.1 311.1L1372.2 315Z"/><path fill="#e34a33" d="M1263.4 716L1265.8 712.8L1279.1 711.3L1275.8 727.8L1265.9 727.3ZM1296 744.9L1291.1 742.5L1281.9 745.5L1280.3 754.6L1293.1 758.2L1299.5 753.5ZM1296 744.9L1299.5 753.5L1307.1 755L1310.3 736ZM1422.6 185.4L1418.2 171.3L1419.1 170.6L1448.3 166.9L1463.8 192.9L1438.7 194.2ZM1353.9 264.4L1353.2 259.9L1347.9 257.8L1343.5 261.7L1345.6 269.9L1345.8 270.1ZM1307.8 220.1L1277.3 218L1274.8 217.1L1299.6 205.8ZM1346.6 245.9L1356.2 239L1357.7 232L1356.6 231.2L1343.6 234.2L1341.9 244.9L1346 246.1ZM1395.6 199.1L1401.5 206.5L1396.1 214.3L1381.5 215.2L1381 213.3L1382.5 207.8L1391.3 199.1ZM1396.3 234.7L1393.5 230.8L1398.5 222.6L1407.9 223.7L1403.9 237.6ZM1444.6 231.1L1449.8 235.6L1473.3 235.1L1529.6 208.2L1518.3 203.6L1469.7 196L1443.5 221ZM1459.5 250.4L1473.3 235.1L1449.8 235.6L1446.9 248.2ZM1443.3 255.3L1449.6 262.3L1458.5 260.7L1459.6 258.6L1459.5 250.4L1446.9 248.2L1443.3 250.6ZM1253.8 297.5L1253.2 297L1252.7 286.8L1253.4 286.1L1263.6 286.3L1261.3 296ZM1264 298.3L1261.3 296L1263.6 286.3L1267.7 283.4L1271.3 284.2L1275.4 297L1274.8 297.3ZM1268.3 321.8L1267.3 315.1L1283.6 302L1286.9 310.7L1276.2 326.4L1269.9 324.7ZM1298.9 324.8L1297.4 326.9L1280.7 330.7L1276.2 326.4L1286.9 310.7L1299.6 316.5ZM1332.6 388.3L1316.2 388.3L1314.9 379.2L1316.6 376.5L1325.4 374.3L1330.6 376.1ZM1337.9 389.7L1341.5 385.5L1342.1 376L1340.8 373.8L1337.6 372.2L1330.6 376.1L1332.6 388.3L1337.3 390ZM1411.4 440.4L1387.9 465.3L1385.4 480.2L1386.9 483.3L1668.5 450.7L1559 413.4L1411.7 440.3ZM1136.3 648.2L1137.2 649L1138.6 657.5L1137.9 658.2L1125.2 657.4L1126.1 649.4ZM1263 694L1262.5 700.7L1263.1 701.1L1279 701.7L1281.1 697.5L1274.8 690.4L1268.2 689.1ZM1012.6 289L1012.7 289.1L1013.3 300L1010.8 302.4L1004.1 301.5L1002.1 291.1L1002.8 290.4ZM1003.2 336.9L1011 337.8L1011.2 350.1L1010.8 350.5L1005.5 350.2L999.9 340.2ZM1011.9 323.9L1012 323.8L1022.2 326.1L1024.1 337.2L1011.5 337.3ZM1035.8 326.9L1035.9 336.6L1035.4 337.3L1024.7 337.8L1024.1 337.2L1022.2 326.1L1025.8 323.2ZM1035.9 275.7L1037 265.9L1048.5 264L1051.5 277.1L1037 276.8ZM1049.1 204.6L1049 214.8L1062.3 214.2L1062.5 214L1060.1 201.9L1060 201.8L1051.3 202.6ZM1075.2 251.9L1083.6 251.5L1086.5 263.1L1085 264.8L1074 263.6L1074.6 252.3ZM1111.8 326.5L1110.4 336L1111.7 337.7L1123.3 337.8L1122.6 326.1ZM1159.5 274.8L1159.6 263.4L1148.3 261.3L1145.6 264.2L1148.6 275.9ZM914.8 715.1L915.3 715.5L912.8 730.4L912 730.9L902.9 727.1L905 716.9ZM916 628.3L910.5 636.7L913.7 644.5L927.3 639.5L928.2 637.7L922.5 628.2L916.8 627.7ZM925.8 613.1L928.4 620.2L939.4 623.8L941.1 622.5L941.3 609.1L928.4 607.8ZM954.6 695L949.5 688.4L957.8 677L965 678L963.8 692.1ZM965.5 745.9L977.9 746.4L979.1 750.8L977 757.7L962.8 753.1ZM991.4 739.9L990.8 739.7L979.5 742.8L977.9 746.4L979.1 750.8L993.4 754.1L993.8 753.7ZM1017.4 628.5L1005.9 619.8L1000.5 623.7L1006.3 635.4L1014.3 635.8L1017.5 633.1ZM1028.8 558.5L1015 559L1016.7 569.6L1021.3 572.7L1029.9 571.1L1031 560.2ZM1028.5 638.2L1027.7 636.7L1017.5 633.1L1014.3 635.8L1013.8 648.6L1025.9 648.9ZM1042.3 753.3L1049.2 775.9L1044.1 789.5L1029.7 764.1L1029.9 761.7L1032.6 758.5ZM1045 603.9L1040.5 595.8L1044.1 589L1050.8 585L1051.6 584.9L1055.5 596.8ZM1043 644.4L1047.4 651.8L1058.7 652L1060 651.3L1055.4 638.8L1046.1 639.5ZM918.4 404.2L919 415L918.5 415.7L904.9 416.4L904 415.3L905.7 404.5L917.5 403.5ZM917.8 540.3L920.1 537.8L917.4 528.1L916.7 527.5L906.9 529.5L906.2 539.8ZM929.1 154.4L917.6 152.2L1044.6 -505.7L1057.8 -437.3L974.2 41.5L964.1 85.1L962.4 90.5L943.4 137.7ZM917 439L918.3 427.3L919.5 426.2L929.2 427.4L929.4 440.6L918 440.1ZM966.6 239.7L955.6 239.4L955.5 226.8L967 227.4L968.3 228.9ZM714 254.1L691.3 257.5L693.8 232.7L710.3 234.1L713.1 236.4L714.8 253.2ZM777.2 777.5L762.5 777.6L762.7 765.3L763.4 764.7L775.8 764.3L776.3 764.9L777.4 777.3ZM777.3 726L776.6 739.2L777.4 740.1L789.7 739.4L790.1 738.9L788.5 725.1L788.2 724.8ZM777.4 740.1L775.9 751.2L777.5 753.3L788.4 753.5L790.8 751.1L789.7 739.4ZM789.3 635.1L800.2 634.9L801.4 622.6L788.7 621.4L788.4 621.7ZM814.5 609.7L801.9 607.8L800.9 608.9L802.2 621.8L814.1 622.2L814.5 621.7ZM867.7 791.9L868.3 791.1L866 779.3L855.1 778.5L853.5 791L855.4 792.8ZM880.9 661.1L891.5 661.1L892.7 648.5L879.4 648.7ZM893.3 566.4L892.7 582.5L899.4 581.8L905 576.7L899.8 567ZM899.4 581.8L892.7 582.5L892.2 583L894.5 595L899.7 595.2L903.9 587.7ZM670.6 673.5L684.7 674.9L683.7 686.3L670.8 687.5ZM698.1 686.9L684.9 687.7L683.7 686.3L684.7 674.9L685.5 674.2L696.4 675.2L698.4 686.6ZM808.9 496.4L808.6 510.1L808.2 510.5L795.9 509.6L794.8 508.4L795.7 496L807.5 495.1ZM809.3 482.1L821.9 482.8L822.5 496L822.1 496.4L808.9 496.4L807.5 495.1L808.9 482.5ZM1037.9 374.3L1038.6 373.5L1036.5 361.6L1025.6 364L1025.7 374.3ZM1016.4 435L1016.6 445.8L1025.8 447.7L1029.5 445L1027.8 432.7ZM1086.2 443.5L1088.1 435L1078.7 432.9L1074.6 443.9L1076.7 446.1ZM1041.8 480.6L1050.6 480L1055.1 484L1052.2 494.2L1038.4 491.2L1038.6 483.7ZM1115.9 471.4L1109.7 468.4L1106.2 470.6L1108.1 480.4L1108.6 480.8L1113.3 479.5ZM1001.4 544.5L1000.5 546L988.9 548.2L985.8 545.5L989 535L998.7 535.6L1001.3 538.9ZM1301.6 433.1L1298.2 441.4L1297.5 441.9L1284.9 438L1285.1 431.1L1300 430.6ZM1321.9 468.2L1337.5 467.7L1336.4 478.8L1321.8 480.5L1319.3 477.6ZM1328.8 503.8L1324.5 509.2L1312 508.3L1311.6 496.2L1316.8 494.4ZM1153.2 489.6L1154.4 497.7L1156.5 498.8L1162 499L1164.3 492.7L1162.7 490.5L1154.6 488.4ZM1207.1 489.2L1209.3 494.3L1217.8 489.1L1218.1 488.3L1216.1 484.1L1212.5 482.6ZM1156.2 529.9L1162.1 521.5L1153.5 516.4L1149.1 519.4L1149.4 529.2L1151.4 530.7ZM1148.8 540.7L1151.4 530.7L1149.4 529.2L1139.6 528.1L1135.7 535.2L1136.9 540ZM1246.9 566.6L1239.4 553.3L1232.9 555.3L1229.8 564.8L1230.7 566.7L1243 570.7ZM1229.1 361.7L1221.1 361.2L1220.8 350.6L1222.6 349.2L1230.7 349.6L1231.4 350.1L1229.8 361.2ZM1157.5 376.1L1159.2 374.2L1160.4 363.5L1157.5 360.7L1147.8 361.2L1146.2 362.9L1146.5 374.9L1157 376.4ZM1139.7 389.3L1142.9 389L1144.8 386.9L1146.4 374.9L1134.6 375.2L1131.2 377.3L1135.3 387.1Z"/><path fill="#b30000" d="M1337.5 823.3L2969.9 1139.7L2945.9 902.6L2041.5 759.8L1346.4 806.3L1335.7 813.5ZM1155.1 451.9L1156.3 453.7L1154.1 461.2L1146.8 461.4L1146.3 452.1L1146.9 450.7ZM1234.8 681.5L1231.4 679L1220.3 680.9L1219.3 681.9L1217.6 689L1219.8 692.1L1228.7 692.9L1232.3 689.4ZM1159.6 263.4L1199.2 228.8L1201.8 211L1153.1 241.7L1147.3 251.7L1148.3 261.3ZM1057.9 625.1L1057.3 613.4L1056.4 612.6L1046 612.1L1045.3 626.4L1055.5 626.7ZM776.2 803.9L776.8 816.1L789.3 816.7L789.5 816.5L788.2 804.4L776.4 803.6ZM892.2 597.2L894.5 595L892.2 583L881.5 582.7L880 584.2L879.3 594L881 595.9ZM879.2 636.2L890.9 636.6L893.1 634.1L891.3 623.5L879.9 622L879.7 622.1ZM727.5 550.5L726.7 538.1L712.7 537.6L712.7 537.6L712.7 550.7L714 551.9L726.6 551.5ZM847.3 385.2L845.2 387.1L843.9 396.2L850 401.7L862.4 397.6L860.5 385.9L859.4 384.7ZM1025 384L1036.2 386.8L1038.1 385.2L1037.9 374.3L1025.7 374.3L1025.5 374.6ZM1025 384L1036.2 386.8L1036 394.7L1026.7 398.5L1024.4 396.5L1024.3 384.7ZM1086.4 375.7L1074.1 374.3L1073.7 364L1074.6 363.2L1084.7 361.1L1087.3 374.6ZM1007.1 403.1L1001.7 406.2L1001.5 420.7L1013.8 415.9L1009.6 404.1L1008.8 403.2ZM1001.7 406.2L1001.5 420.7L1000.7 421.8L990 418.9L990.4 407.8L992 406.3ZM942 478.3L948.3 478.6L952.4 482.5L950.3 490.1L941.9 490.8L940.3 489.6ZM1024.8 533L1029 522.9L1037.2 521.3L1041.3 532.7L1038.1 536.9L1025.7 534.8ZM1274.1 612.6L1262.5 616.9L1258.8 612.5L1261.9 602.4L1262.5 602.1L1272.8 605.5L1275.3 610.9ZM1250.2 330L1250.6 319.3L1268.3 321.8L1269.9 324.7L1265.3 329.5L1251 331Z"/>
<path fill="none" stroke="currentColor" stroke-width="1.35" stroke-linejoin="round" d="M841.8 881.6l-16.4 0.8l2.2 -12.5l12.2 1M827.6 869.9l-0.5 -0.6l-11.5 -2.5l-1.6 2l-0.5 26.4M814 868.8l-12.6 0.5l6 38.4M801.4 869.3l-0.2 -0.2l-11.4 0.9l-0.9 -13.5l0 -0.1l-11.9 1.3M801.2 869.1l0.9 -12l12.2 0l0.2 -0.2l-0.9 -12.6l-0.9 -0.9l-11.1 0.2l-1.9 11.4l2.4 2.1M800.5 842.4l1.7 -13.4l-13 -0.6l-0.4 0.5l0.7 12.2l11 1.3l1.1 1.2M802.2 829l0.9 -0.8l11.2 2.1l-1.6 13.1M789.5 841.1l-2.9 2.5l2.3 12.8M789.2 828.4l0.1 -11.7l-12.5 -0.6l-0.6 -12.2l0.2 -0.3l11.8 0.8l1.3 12.1l-0.2 0.2M788.8 828.9l-13.1 0.4l-0.1 0l-0.3 12.5l-26.4 0.5M775.6 829.3l-12 -0.9l-1 -11.1l-11.2 -0.7M775.3 841.8l0.8 0.9l10.5 0.9M292.5 579.1l-6.8 27.9l22.2 3.7l-15 124.5M292.5 579.1l-37.5 2.6l-2.7 -26.5l25.6 -7.7l15.3 30.9l-0.7 0.7M642.2 742.3l15.7 25.2l-5.1 5.1l-27.1 -9.2l1.1 -16.1l15.4 -5l5.3 -7.3l0.4 -9.8l-2.5 -3.5l-19.3 -4.8l-4.6 26.6l5.3 3.8M657.9 767.5l1.6 -0.3l13.2 12.1M652.8 772.6l-62.3 221.6M1601 57.7l-147.2 46.5l-1.5 -2.2l5.5 -34.6l-26.8 9.8l-13.4 -31.7l-16.1 27.7l2.9 6.4l23.2 2.6l3.4 -5M1453.8 104.2l0.5 14.5l27.4 5.6l-7.6 23.9l-18.7 -1.1l-4.5 -24.2l-18.6 2.6l-7.5 14.3l3 5.6l21.5 8l6.1 -6.3M1452.3 102l-21.9 -6.2l-2.8 -13.6M659.5 767.2l5 -4.1l22.7 4.7l-2.2 -15l-15.9 1.3l-4.6 9M762.6 817.3l1.1 -1.2l12.1 1l-0.1 12.2M776.1 842.7l-2 12M788.9 856.5l10.8 -1.5M827.1 869.3l2.6 -12.4l18.7 2.1M815.6 866.8l-1.3 -9.7M829.7 856.9l-1.9 -2.3l-13.3 2.3M813.6 844.3l14.1 -1l1.1 1l-1 10.3M803.1 828.2l-0.3 -11.5l13 -0.8l0.7 0.8l-1.5 13.2l10.9 1.5l1.8 11.9M814.3 830.3l0.7 -0.4M828.8 844.3l23.3 -3.3M825.9 831.4l1.3 -1.2l14.9 0.1l-2.1 -12l-11.6 -1l-1.2 12.9M736.3 778.9l-1.7 14l13.9 -3.3l0.3 -10l-12.5 -0.7l-0.4 -0.5l-11.1 -1l-0.7 -12.1l-12.5 0.7l0.6 -14.3l-1 -0.8l-12.2 1.9l-0.9 24.3M735.9 778.4l1.2 -12.8l-12.3 -1l-0.7 0.7M748.8 779.6l1.2 -1.1l-1.9 -12.6l-10.2 -1l-0.8 0.7M748.5 789.6l2.2 2.3l-1 11.6M750.7 791.9l12.3 -0.9l-0.5 12.2l-11.4 1.3M293.2 578.4l17.6 -1.9l4.2 -15.4l-10.4 -13.2l-23.4 -4.8l-3.3 4.4M252.3 555.2l-5.9 -4l-28.4 2.7M246.4 551.2l-0.2 -27.9l-27 -7.3l-10 10.2M219.2 516l1.1 -18.9l-5 -3.6l0.4 -19.9l2 -2.5l15 3.3l1.8 5l-0.6 11.4l-13.6 6.3M246.2 523.3l3.7 -3.9l32.3 -1.2l1.6 3l-2.6 21.9M458.2 685.9l29.9 14.8l11.3 -20.1l8.1 -0.8l31.3 -13.4l12.7 21.9M458.2 685.9l-24.1 7.4l-10.9 -27.7l10.8 -5.8l20.3 15.6l3.9 10.5M423.2 665.6l-19.6 -1.8l0 -26.9l28.6 3.4l-1 -28.8l-7.9 -3.1l-11.7 1.4l-10 -31.6l24.9 -3l6.4 5.6l-9.6 27.6M434 659.8l5.3 -13.5l-7.1 -6M454.3 675.4l12.8 -39.9l-27.8 10.8M507.5 679.8l34.6 15.1M538.8 666.4l5.9 -10.2l20.8 11.3l2.1 21.9M499.4 680.6l-7 -49l-18.1 -2l-17.1 -17.4l0.3 -33.6l0.1 -0.1l43.4 5.4l2.5 7.1l-0.4 22.5l-7.1 15.2l-3.6 2.9M565.5 667.5l12.5 -11l19.7 10.5l-4.3 16.6l-23.5 7.7M544.7 656.2l-0.4 -12.8l-48.3 -14.7M310.8 576.5l5.1 5l-4.2 27.2l-3.8 2M304.6 547.9l11.9 -24.1l-32.7 -2.6M315 561.1l23.8 -16.5l4.6 34.5l26.1 -5.6l6.7 8l-4.4 23.7l-4.1 2.9l-22.1 0.9l-8.6 -22.8l6.4 -7.1M411.6 609.8l-6.8 6.6l-2.2 18.2l1 2.3M401.6 578.2l-0.4 -0.3l1.7 -24.6l7.8 -7l17.7 1l-1.9 27.9M432.9 580.8l24.6 -2.2M712.2 751.7l11.1 -0.4l1 0.9l0.5 12.4M711.2 750.9l-1.1 -11.7l-11.4 -0.5l-0.4 0.4l-14.1 0.3l2.3 11.8l10.9 0.1l0.9 -12.2M699 752.8l-1.6 -1.5M748.1 765.9l3.5 -2.9l-0.8 -11l-13.2 1l0.3 11.9M750 778.5l11.8 -0.1l1.6 12l-0.4 0.6M668.7 710.8l15.9 3.1l-0.9 11.2l-12.4 -0.2l-5.7 -6l3.1 -8.1l-1.6 -9.8l18.1 -1.5l0.7 0.6l-0.5 13l-0.8 0.8M665.6 718.9l-17.7 6.3M671.3 724.9l-1.5 15.4l13.7 -1.6l1.8 -11.8l-1.6 -1.8M250.5 82.2l0 12.3l1.9 1.7l14.4 -1.7M250.5 94.5l-15.4 3.7M252.4 96.2l2.1 15.4l-4 4.1l-24.2 -5.6M282 79.7l6.4 -4.7l13.6 4.6l1.9 -1M1454.3 118.7l-3.4 4.2M401.2 577.9l-25 3.6M402.9 553.3l-31.5 -6.4l-2.6 1.6l0.7 25M428.4 547.3l8 -3.6l9.8 4l11.8 12.1l23.3 -10.4l1 -2.4l-6.3 -25.7l-4.3 -1.1l-25.5 27.5M410.7 546.3l-11.3 -31.1l-1.7 -0.8l-16.5 9.3l-9.8 23.2M647.5 735l20.6 6.9l1 12.2M645.4 721.7l2.8 -24.3l-22.5 -4l-5.8 4.8l-19.1 -6.6l-7.6 22M626.1 716.9l-6.3 -6.5l0.1 -12.2M316.5 523.8l0.8 -0.2l19.7 4.2l4.5 12.3l-2.7 4.5M481.3 549.4l20.5 28.7l-0.8 5.8M458 559.8l-0.4 18.7M482.3 547l22 -6.8l-0.3 -16.5l-22.1 -5.8l-5.9 3.4M471.7 520.2l-6.9 -5.6l-28.8 -0.2l-5.1 -6.6l2.4 -15.5l4.7 -6.2l21.5 -2.4l4.3 5.4l1 25.5M404.8 616.4l-33 -11.2M402.6 634.6l-26.8 2.9l-6.3 61.6l34.1 -35.3M431.2 611.5l26 0.7M467.1 635.5l7.2 -5.9M503.1 613.5l44.1 -6.9l-2.3 -24.8l-41.4 9.2M436.4 543.7l-0.4 -29.3M501.8 578.1l12.6 -15.2l0.2 -15.1l17.4 -11.9l5.4 3.8l-4.1 25l-18.9 -1.8M544.3 643.4l3.7 -3.2l26.5 2.6l3.5 13.7M375.8 637.5l-4.9 -3.9l-37 14.2l3.3 -28l-25.5 -11.1M370.9 633.6l-3.2 -25.5M337.2 619.8l8.4 -10.8M315.9 581.5l21.1 4.7M368.8 548.5l-27.3 -8.4M685.3 726.9l11.9 -0.5l0.1 0.1l1.4 12.2M683.5 738.7l0.7 0.7M669.8 740.3l-1.7 1.6M685 752.8l1.5 -1.6M302 79.6l-2.6 20l-13.6 0.2l-5.2 -5.9M107.9 254.4l84.5 1.2l1.8 -16.2M192.4 255.6l0.6 0.4l4.2 22l-3.1 3.1l-31.1 -5M193 256l21.5 -3.1l0.8 -6.2l16.2 -9.3l4.6 2.4l-2.7 17.9l-16.9 -1.6l-2 -3.2M197.2 278l16.5 -1.8l1.8 25.3l-2 2.6l-19.3 -20.4l-0.1 -2.6M399.4 515.2l31.5 -7.4M381.2 523.7l-23.9 -15l10.7 -24.6l0 0l-19.3 -4.6l-16.6 13.6l10.7 23.5l14.5 -7.9M397.7 514.4l-4.6 -14.1l12.8 -18.6l27.4 10.6M577.5 266.3l28.5 0.2l-11.6 -25l-8.1 -0.2l-9.3 9.6l0.5 15.4l-3 6.1l-22.3 -2.9l-4.3 19.3l22.9 3.9l6.8 -6.7l-3.1 -13.6M606 266.5l0.6 0.3l18.9 -6.9l0.5 -6l21.1 -10.7l6.2 10.1l-8.9 17.2l-9 -0.2l-9.9 -10.4M577 250.9l-18.8 -5.5l-3 -5.1l-1.7 -13.8l23.9 -4.9l8.9 19.7M594.4 241.5l4.7 -2.7l1.2 -22.4l-19.9 -1.6l-2 -12.4l24.7 -7.2l-0.4 19.7l-2.4 1.5M600.8 691.6l-7.4 -8M619.8 710.4l-16.4 12.3M648.2 697.4l5.4 -3.2l9.6 2.2l7.6 -8.9l-0.2 -14l-5.1 -5.5l-14.3 -0.8l2.4 27M625.7 693.4l2.8 -25.9l-11.4 -7l-14.4 2.8l-5 3.7M249.9 519.4l-1.4 -23.7l-14.6 -4.9M282.2 518.2l2 -28.7l23.9 -6l1.1 1l8.1 39.1M548 640.2l6 -28l-6.8 -5.6M574.5 642.8l4.8 -5.7l16.2 -0.1l7.2 26.3M504.3 540.2l10.3 7.6M481.9 517.9l7.9 -18.6l18.3 -5.9l9.5 20.1l-13.6 10.2M508.1 493.4l1.7 -4.8l27 -6.9l3.3 8.7l26.4 3.6l-12.3 19.3l-14.2 -2.7l0.1 -20.2M489.8 499.3l-7.3 -7.1l-18.7 -3.1M517.6 513.5l11.8 4.1l2.6 18.3M337 527.8l5.8 -11.2M751.6 763l11.1 2.3l0.7 -0.6l0.8 -13.2l-0.9 -0.8l-12 0.6l-1.7 -11.2l13.8 -1.7l-0.1 12.3M737.6 753l-1.1 -1.2l-12.2 0.4M750.8 752l0.5 -0.7M762.5 803.2l1.6 1.5l-0.4 11.4M250.5 115.7l1.2 16.1l19 -1.3l-0.1 -17l-1.8 -1.3l-14.3 -0.6M210 237.5l-10.3 -5.3M210 237.5l11.4 -14.4l-8.3 -6.5l-13.9 13.9M210 237.5l5.3 9.2M221.4 223.1l6.7 0.4l5.7 -5.9l1 -5.8l-5.1 -7.1l-19.1 4.5l2.5 7.4M213.7 276.2l1.6 -1.2l1.2 -18.9M194.2 283.7l-3.3 9.8l6.8 14.4l-6.9 5.1l-12.3 -5.7M213.5 304.1l-1.1 3.4l-14.7 0.4M215.5 301.5l20.3 -8.1l1.2 -1.9l-4 -10.6l-4.4 -2.7l-13.3 -3.2M199 471.8l-37.8 -2.5M199 471.8l2.3 19l14 2.7M199 471.8l0.9 -0.9l15.8 2.7M229.7 204.7l-0.9 -14.7l-23.1 -8.4M233.8 217.6l17.9 10.1l-0.2 11.7l-15.4 0.4M228.1 223.5l3.4 13.9M234.8 211.8l18.1 -7.8l-2.7 -14.4l-20.6 0l-0.8 0.4M433.3 105.9l5.5 18.7l22.8 1.8l-0.7 -55.7M438.8 124.6l-3.9 8.3l-18.5 -0.4l-8 18.7l-10.2 0.3l-5.6 -22.9l1.1 -2.1l13.7 -0.9l9 6.9M461.6 126.4l0.8 0.4l16.7 -6.4l6.6 -40.6M393.7 56.1l-11.3 49.4l7.7 6.8l22.7 -12.8M382.4 105.5l-13.4 1.8l-5.4 16.4l6.4 11.7l22.6 -6.8M390.1 112.3l3.6 14.2M413.1 355.8l21.3 3.2l3.1 2.8l-0.8 14l-4.1 3.3l-16.3 3.7l-3.4 -2.2l0.2 -24.8l-2.5 -2.5l-1.4 -17.4l2.8 -3.5l22.8 5.9l-0.4 20.7M412.9 380.6l-19 2.2l0.3 28.5l23.8 -6l-1.7 -22.5M432.6 379.1l3.6 29.1l-6.7 3.2l-11.5 -6.1M436.7 375.8l25.5 13.9l-6.5 -34l-18.2 6.1M438 486.1l-6.9 -26.2l36.6 -9.1l2.1 12l17.1 9.7l-4.4 19.7M459.5 483.7l10.3 -20.9M486.9 472.5l16.4 -0.1l6.5 16.2M393.1 500.3l-25.1 -16.2M405.9 481.7l-3.5 -17.2l-6 -2.6l-5.3 -28.5l-16.5 2.9l-7 22.3l6.4 11.4l22.4 -8.1M374.6 436.3l-20.4 -11.6l9.2 -15.6l-15.8 -20.6l-13.4 17.9l18.3 18.9l1.7 -0.6M367.6 458.6l-25.6 -10.2l-4.7 14l11.4 17.1M391.1 433.4l3.2 -4.3l31 7.3l0.4 19.2l-23.3 8.9M374 470l-6 14.1M580.4 214.8l-3 6.8M578.4 202.4l-2.8 -3.2l8.9 -22.9l16.3 3.9l3.4 13.7l-1.1 1.3M602.7 214.9l19.8 5.2l-0.7 -21.5l-2.7 -2.3l-14.9 -2.4M599.1 238.8l20.2 -1.9l6.7 17M550.9 317.9l-20.2 -7.1l-2.5 17.6l3.6 8.8l17.5 -1.3l1.6 -18l9.3 -5.8l6.6 -0.6l12.3 13l-18.4 19.1l-11.4 -7.7M530.7 310.8l-0.8 -1.7l-24.6 5.5l3.6 12.7l-8.3 14.8l4.2 10.1l2.5 1.5l17.4 -2.4l7.1 -14.1M528.2 328.4l-19.3 -1.1M579.1 324.5l11.1 0.8l-3.2 37.2l-25.6 -12.6l-0.7 -6.3M566.8 311.5l4 -18.8M560.2 312.1l-17.8 -19.2l-11.4 2.7l-1.1 13.5M627.2 291.5l0 36l-13.6 0.9l-14.2 -6.8l0.5 -27.4l3.5 -3l23.8 0.3l0.2 -0.1l8 -21.1M627.2 327.5l9.8 3.4l2.8 6.6l0.8 16.3l-16.7 11.6l-14.8 -14.6l4.5 -22.4M603.4 291.2l3.2 -24.4M599.9 294.2l-22.3 -8.2M599.4 321.6l-9.2 3.7M579.3 637.1l-3.9 -28l16.4 0.1l12.7 -21.3l-13.3 -9.1l-16 7.7l-0.3 22.3l0.5 0.3M595.5 637l6.1 -5.6l18.7 9.5l6.3 -5.7l-5.2 -22.8l-18.7 5.4l-1.1 13.6M628.5 667.5l18.1 -4.3l3.8 -18l-5.1 -8.6l5.6 -19.8l-5.2 -5.1l-21.7 -2.8l-2.6 3.5M617.1 660.5l3.2 -19.6M533.3 564.7l14.1 9.3l13.1 -26.9l-1.5 -2.4l-21.6 -5M529.4 517.6l10.6 -7M559 544.7l4 -21.6l-8.8 -9.8M560.5 547.1l17.4 4.9l-8.4 29.4l-21.7 -5.3l-0.4 -2.1M736.5 751.8l1.4 -12.6l10.4 -0.3l1.3 1.2M723.3 751.3l1.3 -11.3l13.1 -0.9l0.2 0.1M763.4 738.4l0.6 -0.7l-1.4 -11.6l-12 0.4l-2.3 12.4M762.7 765.3l-0.2 12.3l-0.7 0.8M763.4 764.7l12.4 -0.4l1.7 -11l-1.6 -2.1l-11.7 0.3M775.8 817.1l1 -1M764.1 804.7l12.1 -0.8M763.4 790.4l11.2 0.6l2.6 -13.5l0.2 -0.2l9.8 1.4l1.1 1.1l1.3 10.7l-13 2.6l-2 -2.1M762.5 777.6l14.7 -0.1M828.4 817.3l-0.5 -0.5l-11.4 -0.1M827.9 816.8l0.9 -12.4l11.1 -0.4l1.2 12.9l12.8 -2l0.5 -9.7l13.9 -0.6l-0.6 -12.7l-12.3 0.9l-1.2 12.1l0.2 0.3M840 818.3l1.1 -1.4M828.8 804.4l-1.4 -1.4l0 -11.7l13.9 -0.3l0 0l12.2 0l1.9 1.8M839.9 804l1.1 -1.1l13.2 2M867.7 791.9l0.6 -0.8l-2.3 -11.8l-10.9 -0.8l-1.6 12.5M841 802.9l0.3 -11.9M866 779.3l2.3 -2.5l-1.1 -11.9l-11.7 0l-0.2 0.1l-1.2 12.4l1 1.1M868.3 791.1l11 -0.6l1.1 -12.2l11.6 -0.4l0.2 -12.3l-0.8 -0.8l-11 0.6l-0.9 11.9l0.9 1M868.3 776.8l11.2 0.5M854.1 777.4l-11.7 0.1l-1.6 -11.8l1.4 -1.4l13.1 0.7M867.2 764.9l0.7 -0.6l11.2 -0.1l1.3 1.2M855.5 764.9l-0.9 -13.6l-12.6 0.1l0.2 12.9M842.4 777.5l-1.7 1.8l-12.5 -1.4l-0.3 -11.8l0.9 -0.8l12 0.4M891.4 764.8l0.5 -11.5l-11.6 -2.1l-0.6 -11.2l12.8 -0.5l7 6.4l-0.2 1.2l-7.4 6.2M892.2 765.6l8.3 -0.1l1.4 22.2l-9.9 -9.8M867.9 764.3l-0.2 -11.4l12.4 -1.5l-1 12.8M2038 2589.1l-714.7 -1738l-16.5 1.8l4.6 -13.8l12 4.9l0.6 0.6l-0.7 6.5M1430.4 95.8l-4 5.1l-24.8 1.9l-4 -5.7l6.8 -17.5M1401.5 73.2l-209.2 -79.6M974.2 41.5l4.2 122.8l-9.6 2.2l-2.9 -2.4l-1.8 -79M1367.1 379.4l-6.7 -5.3l3.7 -8.3l9.9 1.5M1360.4 374.1l-3.6 0.6l-0.9 -0.5l-13.8 1.8l-0.6 9.5l-3.6 4.2l-0.6 0.3l-4.7 -1.7l-2 -12.2l7 -3.9l-3.6 -6.2l-3.7 -1.2l-4.9 9.5l-8.8 2.2l-1.7 2.7l1.3 9.1l-3.9 7.1l-4.9 2.2l-1.4 0.1l-11.7 -12.9l4.6 -12.1l0.5 -0.3l15.5 6.8M1364.1 365.8l-0.9 -2.9l0.9 -4.1l8.9 -1.9l3.7 8.1M268.8 112.2l-0.6 -16.7M299.4 99.6l4.3 5.3l-15.1 14.2l-9.2 -8l6.4 -11.3M270.6 113.5l8.8 -2.4M343.4 68.9l-4.3 36.1l-21 -0.1l8 -26.2M339.1 105l3.7 5.7l20.3 -8.1l-14 -39.8M318.1 104.9l-3.5 3.1l7.5 16l-3.6 7.2l-12 4l-6.7 -7.3l8 -20.8l6.8 0.9M870.7 -1432.5l-11.2 1575.7l0.4 0.5l13.7 1.6M859.5 143.2l-15.2 0.6l-0.3 0.5l3.7 16.1l10.1 -1.1l2.1 -15.6M233.4 257.7l0 0l-4.8 20.5M190.9 293.5l-9.5 5.2M190.8 313l-0.6 15.1l-10.8 1.8l-6.7 -20.5M212.4 307.5l2.6 6l-3.8 14.7l-20.5 0.3l-0.5 -0.4M408.4 151.2l8.4 3.6l11.8 -1.9l7 -12.6l-0.7 -7.4M398.2 151.5l-6.9 8.4l-25.5 -12.9l4.2 -11.6M407.4 125.6l15.3 -20.5M435.6 140.3l24.5 14l-0.6 15.1l-1.2 1.1l0.9 27.8l18.9 1.8l6.7 15.4l-26.5 11.2l-6.9 -6.4l-0.4 -2.9l-23.5 -12.8l11.6 -11.6l17.6 7.8l-5.7 16.6M428.6 152.9l10.2 19.6l19.5 -2M416.8 154.8l-2.5 23.9l5 2.6l0.9 21.4l-27.8 -5.8l8.6 -18.1l13.3 -0.1M251.7 227.7l1.6 -2.1l0.9 -20.5l-1.3 -1.1M251.5 239.4l0.1 0.1l9.8 -0.7l10.5 5.5l12.4 -8.7l-1.1 -4.8l-9.5 -3.5l-12.3 11.5M229.6 189.6l6.9 -18.7l-6.5 -5.1M250.2 189.6l2.8 -4.3l-7.3 -14.7l-9.2 0.3M217.7 471.1l-0.2 -10.9l12.7 -3l5.1 5.6l-2.6 11.6M234.5 479.4l14.8 -6.7l4.9 19.7l-5.7 3.3M199.9 470.9l3.8 -15.1l-6.4 -2.5M254.2 492.4l24.9 -5.7l-6.4 -9.6l-22 -7.3l-1.4 2.9M436.2 408.2l21.9 -1.8l8 -12.5l-3.9 -4.2M429.5 411.4l-3 23.5l37.9 -1.2l-6.3 -27.3M455.7 355.7l0.4 -0.5l3.5 -12.9l13.3 -1.9l10.9 21.1l-3.6 5.2l-24.1 -11.5M466.1 393.9l0.7 -0.3l29 13.4l-26.2 33.2l-5.2 -6.5M410.6 353.3l-23.9 11l-1.7 -1.5l5.7 -28.2l18.5 1.3M434.8 338.3l4.9 -3.2l15.3 1.3l3.1 -22.9l3.7 -2.2l1.6 -22.6l-2.7 -4l-19.2 4.5l-2.9 20.1l-3.4 1.7l-18.8 0.5l-0.5 -19.4l18.3 -9.4l7.3 6.5M412 332.4l3.6 -20.2l-27 -6.1l-6.4 8.6l-19.1 2.6l-6.3 -5.8l9.7 -16.6l4.5 -3l15.5 5.6l2.1 8.6M332.1 493.1l-22.9 -8.6M467.7 450.8l2.8 -8.4l-0.9 -2.2M431.1 459.9l-5.4 -4.3M394.3 429.1l-0.4 -17.3l0.3 -0.5M425.3 436.4l1.2 -1.5M284.2 489.5l-2.7 -1.9l-2.4 -0.9M308.1 483.5l3.7 -9.5l25.5 -11.6M390.7 334.6l-1.7 -1l-6.8 -18.9M385 362.8l-17.5 -5.5l-3.5 -14.5l-2.1 -2.2l-19.2 0l-4.7 11l5.5 6.3l21 2.8l3 -3.4M386.7 364.3l2.9 14.9l4.3 3.6M600.8 180.2l5.2 -6.5l17.6 2.6l-4.5 20M584.5 176.3l-8.3 -12.7l-14.7 8.8l-5.1 21.8l-2.8 1.3l-8.7 23.7l8.6 7.3M575.6 199.2l-19.2 -5M605 148l9.2 -91.6M605 148l-23.4 0.7l-5.5 -23.5M605 148l1.3 0.9l13.4 0.9l3.4 1.7l3.1 23.2l-2.6 1.6M581.6 148.7l-2.8 3.2l-2.6 11.7M553.6 195.5l-21 -11.1l-9.7 17.2l-16.7 -1.8l-5.3 -12.9l1.5 -9.4l28.3 2.8l1.9 4.1M544.9 219.2l-13 2l-5 4.6l-27.6 -9.3l6.9 -16.7M558.2 245.4l-10.3 19.1l-14.6 -1.9l-6.8 -6.8l-0.1 -5.7l28.8 -9.8M522.9 201.6l9 19.6M500.9 186.9l-21.9 11.8l-0.9 1.4M502.4 177.5l-0.8 -1.4l1.3 -17.5l-14.7 -5.9l-16.5 18.9l5 3.1l24.9 1.4M530.7 180.3l2.9 -8.4l14.7 -6.5l0.8 -19.8l-2 -2.2l-19.7 0.8l-3.9 4.7l10.1 23M499.3 216.5l-3.2 1.7l4.7 20.6l-20.2 9.8l-1.8 -3l10.1 -27.8l7.2 0.4M526.9 225.8l-3.8 14.4l3.3 9.9M462.4 126.8l4.2 18.7l15.2 -0.4l7.8 -15.4l8.9 -0.8l7.8 -8.3M479.1 120.4l10.5 9.3M498.5 128.9l10.6 23.4l14.4 -3.4M369.2 227.4l-8.8 -9.6l7.9 -21.5l4.3 -2.4l17.1 5.2l1.5 11.4l-22 16.9l2.4 10.4l15.2 2.5l12.8 -20.4l-8.4 -9.4M360.4 217.8l-13.8 0l-4.6 2l3.1 27.8l25 -7.7l0.9 28.7l-3 2.1l-18.2 0.9l-5.6 -6l-1 -15.7l1.9 -2.3M368.3 196.3l-20.3 -6.9l-0.1 -8.8l13.9 -11.8l10.6 7.7l18.7 -12l0.2 -4.6M372.6 193.9l-0.2 -17.4M389.7 199.1l2.7 -2.2M587 362.5l1.8 2.7l20.3 -14.4M561.4 349.9l-9.7 13.2l-15.7 0.7l-11.3 -12.5M507.3 353.7l0.6 28.1l-28.5 -4.5l0.8 -10.6M504.8 352.2l-21 9.3M500.6 342.1l-17 -11l-0.3 -5.4l16.9 -14.5l5.1 3.4M483.6 331.1l-10.7 9.3M483.3 325.7l-11.3 -11.8l-10.2 -2.6M500.2 311.2l-2.5 -11.6l11.8 -12.4l-7 -18.8l-0.9 -0.3l-12.4 -2l-7.2 24.5l5.6 6.5l10.1 2.5M542.4 292.9l5.5 -4.1M531 295.6l-3.4 -3.6l-18.1 -4.8M566.5 494l4.3 -3l16.7 0.1l1.6 -11.5l8.4 -11.4l22.5 -1.9l2.4 23.9l-15.1 6.9l-18.1 -3.4l-1.7 -2.6M563 523.1l22 -6.4l5.9 8.4l24 -5.6l0.8 -1.2l23 -2.7l4.5 7.6l0 15.3l-2.5 5.1l-23.4 7.8l-2.4 -31.9M588.8 365.2l0.7 7l-10.3 14l-16.4 -0.4l-11.1 -22.7M544.9 581.8l2.9 -5.7M577.9 552l14.8 -1.3l0.8 -0.5l-2.6 -25.1M569.5 581.4l5.7 5.1M554 612.2l20.9 -3.4M602.7 617.8l-10.9 -8.6M626.6 635.2l18.7 1.4M645.7 611.7l3.8 -29.7l-0.6 -0.6l3.6 -21.5l-11.8 -16.3M624 608.9l-4.1 -22.7l3.1 -4.1l25.9 -0.7M650.9 616.8l10.4 -1.5l6.7 -9.5l17.1 3.5l1.3 -13.9l-0.2 -0.2l-17.5 -0.2l-0.7 10.8M650.4 645.2l16.9 -2.8l3.3 -6.1l13.4 -2.9l1.5 1.3l0.9 11.7l-1.3 1l-13.8 -0.9l-4 -4.1M646.6 663.2l4.6 4M667.1 701l-3.9 -4.6M685.4 713.1l12.7 0.7l0.4 0.5l-1.3 12.1M685.2 699.5l-0.3 -11.8l-1.2 -1.4l-12.9 1.2M685.9 700.1l10.7 0.1l1.5 -13.3l0.3 -0.3l11 0.5l1.6 1.6l0 10.7l-0.5 0.7l-12.2 1.5l-1.7 -1.4M615.7 518.3l-8.4 -21.2M638.7 515.6l1.2 -17.6l25.8 2l3.1 10.3l-1.7 6.2l-23.9 6.7M643.2 538.5l26.1 -1.3l1.7 -15.2l-3.9 -5.5M617.3 551.4l-0.5 0.5l-23.3 -1.7M775.8 764.3l0.5 0.6l1.1 12.4M777.5 753.3l10.9 0.2l2.1 11.5l-14.2 -0.1M775.9 751.2l1.5 -11.1l12.3 -0.7l1.1 11.7l-2.4 2.4M789.5 816.5l11.7 -1.5l1.6 1.7M788.2 804.4l1.6 -1.6l11.8 1.3l0.8 -12.9l-12.8 -0.7l0.2 12.3M776.4 803.6l0.2 -10.5M788.3 779.8l13.6 -2.5l1.2 1.4l-0.2 12.2l11 1l1 12.2l-12.6 0.8l-1.1 10.1M787.2 778.7l3.5 -13.5l-0.2 -0.2M789.6 790.5l0 0M790.7 765.2l9.9 0.3l1.7 -12.8l0.5 -0.5l11.9 1.9l0.9 10.8l-0.6 0.6l-13.3 1.1l-1.1 -1.1M867.7 752.9l-1.9 -1.9l-10.7 -0.1l-0.5 0.4M880.1 751.4l0.2 -0.2M840.7 779.3l0.6 11.7M828.8 765.3l0.3 -12.5l12.6 -1.7l0.3 0.3M827.9 766.1l-12.3 -1.2M828.2 777.9l-0.4 0.4l-12.6 0.3l0.2 12l11.8 0.5l0.6 -12.8M924.7 753.2l-10.9 3.9l-0.4 -0.2l0 -13.1l9.9 0.6l1.4 8.8l3.6 4.4M913.8 757.1l4.6 17.7l-15.3 -10.4l2 -7.7l8.3 0.2M923.3 744.4l3.1 -3.6l1 -5.5l-3.3 -4.5l-11.3 -0.4l-0.8 0.5l-1.7 11.4l3.1 1.5M905.1 756.7l-5.8 -9.6M1064.5 417l-11.5 3.6l0.3 7.9l11.7 3l2.4 -1.9l1.1 -9.6l-4 -3l-0.5 -9.1l-12.1 -3.1l-2.3 12.1l3.4 3.7M1068.5 420l9.7 -2.6l2.4 2.8l-2.1 12.4l-11.1 -3M1053.3 428.5l-2.6 3.1l1.1 12.6l13 -0.6l0 0l0.2 -12.1M1064.8 443.6l9.8 0.3l4.1 -11l-0.2 -0.3M1050.7 431.6l-10.2 -0.7l-2.1 1.8l2.1 13.2l10.8 -1.1l2.1 14.5l11.6 -1l0.2 -0.2l-0.4 -14.5M1051.8 444.2l-0.5 0.6M1095.8 262.7l2.4 2.8l10.5 -0.8l1.5 -2l-1.5 -9.9l-10.4 0.4l-2.5 9.5l-9.3 0.4l-2.9 -11.6l0.4 -0.5l1.6 -10.1l2.1 -1.9l9.5 2l-0.2 10.5l-13 -0.5M1098.2 265.5l-0.9 9.7l1.5 1.5l10.5 0.7l1 11l-11.5 0.5l-1.3 -1.4l1.3 -10.8M1098.3 253.2l-1.3 -1.7M1108.7 252.8l2 -2.4l10.5 0.7l2.3 -2.2l0.8 -9.5l-2.3 -2.2l-12.7 1.5l-0.6 0.6l2 11.1M1108.7 264.7l2.3 10.9l-1.7 1.8M1110.2 262.7l12.6 0.5l-1.6 -12.1M1426.4 100.9l0.2 17.1l-24.5 0.6l-0.5 -15.8M1097.5 287.5l-9.9 0.1l-1.8 -11l11.5 -1.4M1098.8 288.9l-1 10.5l-11.2 0.7l-0.1 -0.1l-0.9 -9.7l2 -2.7M1110.3 288.4l1 1.1l10.6 -1.8l2.3 1.7l9.6 -2.1l1.3 -9.5l-0.4 -0.5l-12.8 -2.5l0 0.1l0 12.8M1111 275.6l10.9 -0.7M1085.8 276.6l-1.2 -0.9l-8.7 1.5l-2.4 10.8l12.1 2.3M1078.2 417.4l1.5 -9.1l6.4 -0.5l6 7.1l-2.8 6.9l-8.7 -1.6M1074.6 443.9l2.1 2.2l1.8 8.8l3.1 2.5l4.2 -0.5l3.6 -9.4l-3.2 -4l-9.5 2.6M1078.7 432.9l9.4 2.1l-1.9 8.5M251.7 131.8l-0.2 0.2l-14.6 2.2M270.7 130.5l2.4 2.2l9.4 0l7.1 -6.9l-1 -6.7M251.5 132l3.4 20.6l-4 3.2l-18.8 -5.1M365.8 147l-8.1 5.1l4.1 16.7M391.1 164.5l9.9 14.3M357.7 152.1l-8.6 -1.5l-5.1 -4.9l-1.4 -22l21 0M179.4 329.9l-3.7 2.7l-1600.6 -106.7M175.7 332.6l2.5 15.5l16.1 2.1l-2.3 15.6l-11.9 0.7l-6.6 -13.8l4.7 -4.6M180.1 366.5l-4.7 4.8l5.2 15.1l16.3 -5l1.5 -7.9l-6.4 -7.7M194.3 350.2l0.2 -0.2l-3.8 -21.5M253.3 225.6l15.7 -3.9l4.7 5.6M254.2 205.1l15.2 2.1l0.4 0.4l-0.8 14.1M271.9 244.3l-0.3 16.2l-18 -2.5l-2 -18.5M284.3 235.6l5.1 5.6l15.2 2.3l6.1 -1.5l-6.2 -20.4l-15.8 0.8l-5.5 8.4M253 185.3l13.9 -4.4l5.5 5.4l-3 20.9M245.7 170.6l4.5 -9.5l0.7 -5.3M370.1 239.9l1.5 -2.1M371 268.6l19.5 1.7l3.8 -5.3l24.3 -1.8l0.7 0.7l-8.1 22.7l-16.7 -4.6l-4 -11.7M344.2 265.6l-26 6.4l-2.5 -2.3l-0.5 -25.9l3.7 -1.4l12.5 -24.3l10.6 1.7M349.8 271.6l-2.6 11.8l19.3 11.5M343.2 249.9l-24.3 -7.5M368 270.7l3 21.2M328 332.9l14.7 7.7l2.4 -31.6l-0.4 -0.2l-21.1 8.7l4.4 15.4l-11.4 11.4l9 14.2l-0.8 2.3l-22.7 3.6l-0.9 -13.4l5.6 -8.4l9.8 1.7M342.7 340.6l0 0M323.6 317.5l-8.9 -3.2l8.6 -25.6l-4.2 -5.5l-13.4 7.8l-2.9 8.4l3.1 9.8l6.1 5.3l2.7 -0.2M344.7 308.8l-3.6 -15l6.1 -10.4M345.1 309l11.7 2.5M394.3 265l-0.5 -18.3l-7 -6.4M418.6 263.2l-1.3 -12.8l16.4 -8.3l-0.9 -11.3l-17.1 -6.7l-5.3 18.1l6.9 8.2M394.5 282l-8 15.5M419.3 263.9l13.8 3.5l1.1 15.3M411.2 286.6l4.7 5.5M363.1 317.3l-1.2 23.3M389 333.6l-25 9.2M415.6 312.2l0.8 -0.7M341.1 293.8l-17.8 -5.1M438.6 309.3l19.5 4.2M435.2 311l4.5 24.1M463.4 288.7l18.6 1.9M460.7 284.7l1.5 -15.8l-3.5 -2.4l-2.1 -26.5l-16.5 9.5l0.2 13l18.4 4M433.1 267.4l7.2 -4.9M455 336.4l4.6 5.9M311.8 474l-3.4 -12.2l12.1 -26.8l19.4 5.2l2.1 8.2M250.7 469.8l-2.3 -8.6l-13.1 1.6M272.7 477.1l-5.2 -17.4l5 -6.7l13.6 -0.3l-2.2 -18.3l1 -1l14.3 6.2l-2.9 13.4l-9.1 0.5l-1.1 -0.8M281.5 487.6l5.7 -34.1M308.4 461.8l-12.1 -8.8M320.5 435l-4.1 -4.1l-1.3 -3.8l-21.5 -7.8l-5.1 0.5l0.4 -23.7l16.4 3.2l-11.7 20M339.9 440.2l12.6 -14.9M288.5 419.8l-1.4 0.8l-2.2 12.8M305.3 399.3l8.9 -2l6 9.1l-5.1 20.7M288.9 396.1l-1.8 -1.5l-1.6 -7.5l-6 -6.3l4 -13.9l17.9 -1.2l3.1 11.7l-19 9.7M320.2 406.4l14 0M314.2 397.3l1.7 -9.9l13.5 -10.2l14 3l3.8 2.1l9.6 -5.1l16.8 9.1l16 -7.1M393.9 411.8l-23.1 -5.7l2.8 -19.8M370.8 406.1l-7.4 3M606 173.7l0.3 -24.8M619.7 149.8l45.4 -115.5M623.1 151.5l17.4 -0.7l20.7 -77.7l5.2 76.6l-21.6 5.4l-4.3 -4.3M626.2 174.7l18.2 3.7l3.3 -6l-2.9 -17.3M666.4 149.7l7.5 6.9l14.8 -6.8l5.5 -53.5l20.7 56.4l13.9 -1.6l12.9 -59.1l14.8 52.3l16 5.4l2.5 -1.9l20.9 5.5l1.9 5.6l-7.1 15.2l-15 -1.1l-4.2 -3.8l1 -19.5M647.1 243.2l2.8 -11l-3.6 -10.1l-21 2l-6 12.8M644.4 270.5l12.1 7.1l-3.3 16.6l-6.1 4.7l-19.7 -7.5M653.3 253.3l17.4 -0.4l0 -11.4l-20.8 -9.3M561.5 172.4l-13.2 -7M578.8 151.9l-29.7 -6.3M518.9 120.5l5 5.6l24.9 -7.9M523.9 126.1l3.5 18.1M547.9 264.5l4.3 5M533.3 262.6l-5.7 29.4M526.5 255.8l-24 12.6M523.1 240.2l-19.2 0.3l-2.3 27.6M427.5 204.6l-5.8 0.4l-6.7 17.9l-15.4 -3M456.7 200.8l2.5 -2.5M439.1 193l-3.9 -16.7l3.6 -3.8M484.8 215.5l4.1 2.3M451.4 220.3l-18.6 10.5M458.3 226.7l2.1 7.3l18.4 11.6M435.2 176.3l-15.9 5M481.8 145.1l6.4 7.6M466.6 145.5l-6.5 8.8M459.5 169.4l12.2 2.2M393.8 246.7l16.6 -4.5M420.2 202.7l1.5 2.3M415 222.9l0.7 1.2M456.6 240l3.8 -6M440.1 249.5l-6.4 -7.4M462.2 268.9l18.8 -8.5l8.2 5.7M466.8 393.6l12.6 -16.3M495.8 407l8.7 0.3l1.8 -1.3l7.2 -16l-5.6 -8.2M470.5 442.4l28.6 0.3l5.1 27.3l23 -10.2l-1 -17.9l-21.1 -3.6l-6 4.4M536 363.8l-6 17.2l26.3 10.1l-8.6 19.5l-26.8 -22.3l9.1 -7.3M472 313.9l15.6 -16.8M481 260.4l-0.4 -11.8M503.9 240.5l-3.1 -1.7M608.7 438.8l15.2 23.2l14.7 -4.1l2.6 -16l-22.4 -11.7l-10.1 8.6l-15.8 0.8l-1.4 1.3l6 27.3M623.9 462l-3.9 4.3M618.8 430.2l2.1 -19.3l-4.4 -5.6l-24.4 3.5l0.8 30.8M641.2 441.9l6.3 -6.6l18.7 3.8l1.2 1.8l0.7 15.1l-21.7 8.7l-7.8 -6.8M668.1 456l0.4 0.2l17.6 -2.2l-0.5 -12l-18.2 -1.1M646.4 464.7l3.1 10.6l18.5 5.7l6 -12.7l-5.5 -12.1M647.5 435.3l-0.1 -16.5l19.5 -4.7l5 13.6l12.7 -0.6l0.7 -13l-17.1 -1.9l-1.3 1.9M666.2 439.1l5.7 -11.4M686.1 454l0.6 0.7l12.4 -0.2l0.7 -0.7l13.9 1.5l-1.5 -13.4l-11.8 -0.3l-0.6 12.2M685.6 442l1 -1.1l12.7 -0.4l1.3 -11.6l-2.2 -2.4l-13 1.3l1.2 13.1M649.5 475.3l-10.2 21.4l0.6 1.3M668 481l0.7 1.1l-0.1 13.2l-2.9 4.7M674 468.3l12.4 0.1l0.4 -0.3l-0.1 -13.4M668.8 510.3l16.1 -2.1l-0.2 -11.6l-16.1 -1.3M639.3 496.7l-16.9 -6.5M668.7 482.1l16.8 0.7l0.2 12.9l-1 0.9M589.2 493.7l-4.2 23M589.1 479.6l-27.1 -25.9l-10.2 15.2l19 22.1M592.7 550.7l-1.5 28.1M616.8 551.9l6.2 30.2M652.5 559.9l14.9 -1.5l7.6 8.6l11.3 0.3l1.1 -0.7l-1.5 -15.6l-0.1 -0.2l-13.7 0.4l-4.7 7.2M649.5 582l14.8 4.2l4.4 8.8M619.9 586.2l-15.4 1.7M670.6 673.5l14.1 1.4l-1 11.4M665.5 668l7.7 -7.9l11.1 0.5l1.2 1l0 12.6l-0.8 0.7M684.9 687.7l13.2 -0.8M684.3 660.6l0.8 -13.2M673.2 660.1l-1.9 -13.6M685.5 661.6l11.9 -1.8l0.9 -10.9l12.7 -1.7l0.3 0.3l-0.7 13.5l-12.8 -0.7l-0.4 -0.5M685.5 674.2l10.9 1l2.8 -2.6l11.2 0.9l-1 13.6M737.7 739.1l-2.3 -12.7l-10.8 -0.9l-2 12.1l-11.4 0.3l-1 -11.1l1.9 -2.2l12.4 0.8l0.1 0.1M724.6 740l-2 -2.4M815.8 815.9l-0.5 -11.4l12.1 -1.5M827.4 791.3l-0.2 -0.2M815.3 804.5l-0.4 -0.4M802.3 804.9l-0.7 -0.8M802.4 791.2l0.5 -0.3M813.9 791.9l1.5 -1.3M803.1 778.7l11.8 -0.4l0.3 0.3M801.9 777.3l-0.2 -10.7M879.7 740l-0.1 0l-11.1 0.4l-2.7 10.6M892.5 739.5l0.4 -11.9l9.8 -0.4l-2.2 18.1l9.8 -3M899.5 745.9l1 -0.6M814.9 778.3l0.1 -12.8M912.8 730.4l2.5 -14.9l9.9 4.3l-1.1 11M912 730.9l-9.1 -3.8l-0.2 0.1M927.4 735.3l8 -2.9l8.2 7.2l-3.5 7.7l-13.7 -6.5M1324 844.6l12.4 -5.7M1311.4 839.1l-2.3 -3.5l-14.9 4.7M1323.4 844l-1.3 -15.6l-11.3 -0.3l-1.7 7.5M1040.5 595.8l-10.5 0.1l-0.1 -9.1l2.9 -3.9l11.3 6.1l-3.6 6.8l4.5 8.1l10.5 -7.1l5.9 3.4l-5 12.4l-10.4 -0.5l-1.6 -1.5l0.6 -6.7M1030 595.9l-0.9 1l3 13.1l1.8 1.6l10.5 -1M1044.1 589l6.7 -4l-14.9 -11.3l-2.5 0.1l-0.6 9.1M1029.9 586.8l-12.2 -3l3.6 -11.1l8.6 -1.6l3.5 2.7M1053.4 459.3l-0.3 0.3l0 8.8l10.6 4.4l4.5 -5.1l-3.2 -9.4M1065.2 458.1l13.3 -3.2M1053.1 459.6l-10.2 0.2l-4.7 8.2l2 2l11.4 0.1l1.5 -1.7M1068.2 467.7l8.3 1.6l2 -1.7l3.1 -10.2M1063.7 472.8l-0.1 8.7l2.9 1.8l11.8 0.1l0.2 -0.3l5.2 -0.9l6.4 -9l-2 -2.8l-9.6 -2.8M929.3 325.9l-10.6 -0.3l-1.2 1.4l1.7 12.5l8.7 0.3l3.6 -11.7l-2.2 -2.2l2.1 -11.6l10.1 0.9l-0.4 13.2l-9.6 -0.3M918.7 325.6l-0.9 -10.1l11.5 -3.3l-0.1 -7.7l-11.3 -2.9l-1.8 1.6l0 10.8l1.7 1.5M917.5 327l-11.7 0.6l0.1 -12.8l10.2 -0.8M919.2 339.5l-1.4 1.3l-10.9 -1l-3.2 2.8l0.7 11.2l0.1 0l12.7 -2.9l0.6 -10.1M927.9 339.8l2.4 2.1l11.9 -3.4l0.2 -8.9l12.2 -2.1l0.5 -0.5l-0.5 -10.7l-11.4 -2.5l-1.7 1.4M1035.9 573.7l6.7 -3.8l10.8 4.7l2.3 -12.5l-2.6 -2.5l-7.1 0.6l-3.4 9.7M1050.8 585l0.8 -0.1l1.2 -1.1l14.7 2.1l-0.8 13.1l-5.3 1.2M961.7 524.1l3.4 -4.3l9.9 -1l0.7 13.8l-12.5 -1.7l-1.5 -6.8l-4.9 -1.9l-4.4 -8.2l1.8 -3.9l9.5 -2.5l1.4 12.2M963.2 530.9l-1.9 3.1l3.4 11.6l-10.5 2.5l-3.8 7.1l3.1 3.7l11.7 -1.5l0.1 -11.3l-0.6 -0.5M975.7 532.6l0.4 0.3l0.8 11.5l8.9 1.1l3.2 -10.5l-4.5 -4.7l-8.4 2.6M975 518.8l2.3 -1.9l11 4.3l-3.8 9.1M976.9 544.4l-0.1 0.1l-0.5 13.2l6 3.2l4.8 -1.7l1.8 -11l-3.1 -2.7M989 535l9.7 0.6l0.3 -11.4l-9.6 -3.6l-1.1 0.6M977.3 516.9l-0.7 -9.6l-12 -0.9l-2.5 -10.7l13.3 -0.7l1.8 11.7l-0.6 0.6M987.1 559.2l1 0.5l6.9 12.5l-5.2 3.6l-9.4 -0.8l-0.9 -0.7l2.8 -13.4M988.9 548.2l11.6 -2.2l2.6 11.8l-15 1.9M976.8 544.5l-11.5 1.6M976.3 557.7l-8.1 2.1l-3 -2.4M979.5 574.3l-8 0.3l-4.8 10l11.9 8.7l-0.1 1.3l15.6 5.2l2.2 -10.2l-3.9 -2.2l-2.6 -11.6M980.4 575l0.7 15.1l11.3 -2.7M995 572.2l6.7 -0.3l1.6 -13.9l-0.2 -0.2M1024.7 240.2l-0.4 -0.6l0.6 -12.8l10.4 1.5l0.4 9.9l-11 2l0 9.9l-11 1.2l-1.7 -12.3l-9.2 1.4l-0.2 -13.2l9 -0.7l0.8 0.7l0.4 10.8l-0.8 1M1024.3 239.6l-11.5 -1.6M1035.7 238.2l3 3.3l10.2 -2.3l3.9 16.4l-16.4 -4.4M1024.9 226.8l-1 -0.8l1.4 -10.4l-1.8 -2.1l-11.5 0.7l1.4 -12.6l9.8 -0.2l0.5 0.7l-0.2 11.4M1035.3 228.3l1.2 -0.9l11 0.1l1.5 11.5l-0.1 0.2M1419.1 170.6l29.2 -3.7l1 -13.5M1419.1 170.6l-0.9 0.7l4.4 14.1l16.1 8.8M1419.1 170.6l8.7 -25.2M1418.2 171.3l-13.8 -2.9l-7.9 -19l-16.3 -1.1l-0.6 18.3l3.3 7.6l20.3 -4.7l1.2 -1.1M1422.6 185.4l-1.5 1.7l-0.9 20l13.1 -5.5M1426.6 118l5.7 7.5M1402.1 118.6l-1.7 3.3l-46 0.6M844.3 143.8l-7.8 -102.8l-6.9 103.8l-12.8 -0.7l-1.6 16.7l14.6 -0.7l0.9 -0.8l1.2 -12.5l-2.3 -2M857.8 159.3l1.9 1.2l3.2 15l-1.2 1.1l-16.6 -2l1.2 -12.8l1.4 -1.4M844 144.3l-12.1 2.5M846.3 161.8l-15.6 -2.5M845.1 174.6l-1.5 1.6l1.9 13.4l14.6 1.1l1.6 -14.1M859.7 160.5l15.2 -2.8l1.6 -5.4l-1.2 -4.6M862.9 175.5l13.6 -0.8l1.9 -8.9l12.8 -2.1l2.7 2.4l-2.5 11.6l-12.5 0.3l-2.4 -3.3M843.6 176.2l-12.3 -0.4l-0.3 0.3l-2.9 14.9l1.7 1.7l15.2 -2.5l0.5 -0.6M860.1 190.7l0.6 0.8l-0.6 12.4l16 2.1l2.7 -3.9l-0.6 -10.5l0 0l-17.5 -0.1M876.1 206l0.7 10.2l16.1 -2.1l-0.7 12.6l-14 1.5l-3.3 -8l1.9 -4M860.1 203.9l-2 2.3l-12.7 0.2l-0.4 -16.2M878.8 202.1l12.2 2.8l2.1 9l-0.2 0.2M878.2 191.6l0.7 -13.6M878.2 191.6l13.5 0l1.5 -1.4l-0.2 -11.2l-1.6 -1.3M955.2 202.9l10.9 0.5l0.7 11.6l-11.6 1.7l0 -13.8l-0.6 -0.4l0.1 -11.8l-11.3 -1.4l-0.8 14.6l12 -1.4M966.8 215l1 1l12 -0.2l0.8 -1.1l11.6 -2l0.3 -10.9l-0.3 -0.4l-13.8 1.6l-0.2 0.2l2.4 11.5M955.2 216.7l-0.2 0.1l-11.1 -1.7l-1.9 12.2l0.8 0.8l12.3 -1.7l-0.1 -9.6M943.7 252l-13.4 1.7l-0.6 -0.6l1 -12.2l10.4 0.4l2.6 10.7l0.7 0.5l-1.9 12.2l-1.2 0.9l-8.9 -0.3l-2.1 -11.6M941.1 241.3l3.2 -3.4l10.5 2l-1.3 12l-9.1 0.6M930.7 240.9l-0.8 -1l-10.3 -1.4l-0.5 -11.6l13.1 -0.4l0.7 0.7l-3 12.7M929.7 253.1l-12 0.8l-1.4 11.3l0.4 0.4l14.9 0.5l-1.4 11.4l-11.9 0l-1.6 -11.9M942.5 264.7l11.7 1.4l0.3 -0.4l0.8 -12.1l-1.8 -1.7M941.3 265.6l2.4 13l-0.8 1.1l-12.7 -2.1l-0.6 13.2l-10.5 0.2l-1.2 10.6M932.4 265.3l-0.8 0.8M968.8 166.5l-0.9 10.1l-11.7 1.4l0.7 10.7M965.9 164.1l-10.8 1.7l-0.5 10.8l1.6 1.4M1012 214.2l-1 0.9l-7.7 -2.3l-7.4 3.2l0.5 9.3l6.2 1.9M1023.7 202.1l12.4 1.6l-0.5 10.4l-10.3 1.5M1023.2 201.4l4.1 -22.9l-17.4 5.4l-0.8 1.7l2.9 15.1l-8.2 2.2l-0.9 -0.5l-1.2 -11.9l7.4 -4.9M1013.4 201.6l-1.4 -0.9M1011.6 226.5l-0.6 -11.4M1012.4 227.2l11.5 -1.2M1002.8 240.4l-1.1 0.8l1.7 8.9l9.4 2.2l0.9 -1M995.9 216l-3.7 -3.3M996.4 225.3l-3 2.5l-12.4 -2.6l-1.2 -9.4M1003.3 212.8l0.5 -9.9M1024.7 250.1l1.4 1.1l9.1 0.8l0.5 12.5l-11.9 0l2.3 -13.3M978.2 203.2l-12.1 0.2M978.4 203l0.5 -12.4l12.9 1.6l-0.3 -14.1l14.1 1.9l-3.6 -24.6M992.2 201.4l-0.2 -9l-0.2 -0.2M992.5 201.8l10.4 0.6M967.8 216l-0.8 11.4l1.3 1.5l-1.7 10.8l-11 -0.3l-0.1 -12.6l11.5 0.6M981 225.2l-2.7 3.1l-10 0.6M993.4 227.8l-1.7 10.5l-10.9 0.5l-2.5 -10.5M1097.8 299.4l1 0.8l0.9 11.8l0.6 0.6l9.4 0.6l0.5 -14l-11.4 1M1086.6 300.1l1.1 11.5l-1.6 2.1l-11.5 0.2M1086.5 300l-12.7 1.8M1084.6 275.7l0.4 -10.9l1.5 -1.7M1075.9 277.2l-0.5 -0.4l-3.4 -11.5l-8 -0.2M1073.5 288l-0.7 0.6l-0.1 11.9M1316.2 388.3l16.4 0M1312.3 395.4l11 10.3l-3 9.7l12.2 5.2l0.4 5.7l-6.5 2.5l-1.8 -0.7l-7.7 -9.6l3.4 -3.1M1307.4 397.6l3.2 20.5l-10.9 1.8l-1 1l1.3 9.7l1.6 2.5l9.7 -0.5l0.2 -0.4l1.3 -12.9l-2.2 -1.2M1306 397.7l-6.5 4.2l-12.6 1.9l-3.3 -1.7l-0.8 -13.8l0.6 -1.4l10.9 -2.1M1298.9 372.7l-17.2 -4.3l0.5 -8.2l20.9 -3l-3.7 15.2M1281.7 368.4l-3.6 4l-0.7 1.1l6 13.4M1282.2 360.2l-1.1 -2.9l6.3 -12.1l13.3 0.8l3.8 9.3l-1.4 1.9M1299.5 401.9l0.2 18M1282.8 388.3l-12.2 1.7l-6.8 -9l1.6 -4.2l12 -3.3M1286.9 403.8l1.8 15.4l-4.1 3.5l-9.3 -6.8l1.8 -11.6l6.5 -2.2M1089.4 447.5l7.8 -1l-0.2 -9.6l-0.5 -0.4l-6.8 -2.2l-1.6 0.7M1085.8 456.9l3.8 1.8l7.3 -3.4l0.3 -8.7l9.5 1.3l2.2 4.8l-3.3 3.9l-6.6 -0.3l-2.1 -1M1089.7 434.3l1.1 -10.7l-1.5 -1.8M1097 436.9l9.5 -0.8l-0.3 -9.7l-5.5 -2.3l-4.2 12.4M1097.2 446.5l0 0.1M1076.5 469.3l2 13.8M1326.4 428.8l-3 12.6l9.6 3.5l5.3 -15.1l8.5 -0.2l2.9 -11.4l-1.6 -3.5l-12.4 -1.6l-3.5 -7.3l3.6 -4.8l15.1 4.8l3 -2.8l1.2 -2.8l2.4 -2.1l-4.1 -12.1l-0.5 -0.7l-11.4 0.2M1324.6 428.1l-13.1 4.1M1332.9 426.3l5.4 3.5M1316.9 418.5l-4.1 0.8M1332.5 420.6l3.2 -7.5M1374.2 467.8l13.7 -2.5l-2.5 14.9l-11.6 -0.8l0.4 -11.6l-4.8 -2.2l-7.7 2.1l-0.5 0.7l2.2 12.5l7.3 0.8l3.1 -2.3M1385.4 480.2l1.5 3.1l281.6 -32.6M1326.9 560.7l-5.4 -19.4l1 -0.7l12.4 -2.2l-1.8 17.4M1321.5 541.3l-9.5 -0.7l0.5 -13.2l-1.2 -2.5l0.9 -4.1l13.2 -1.2l-3.9 9.3l-9 -1.5M1334.9 538.4l0.3 -0.3l-0.2 -10.2l-12.1 2.6l-0.4 10.1M1299.7 577.7l1 12.1l-2 1.8l-7.5 0.4l-3.7 -5.4l6.1 -8.8l5.9 -0.2l0.2 0.1l5.3 -0.6l6.2 4.6M1300.7 589.8l8 2.1M1299.5 577.6l-0.5 -11.5l-11.4 -2.9l-2.3 -2.9l4.6 -5l8.9 -1.5l3.8 4l-0.5 5.1l-3.1 3.2M1298.7 591.6l2 11.3l-11.4 -0.5l-0.4 -0.9l2.3 -9.5M1293.6 577.8l-3.3 -3.1l-15.8 1.8l-0.6 0.9l3.9 9.4l9.7 -0.2M1289.3 602.4l-3.6 9.3l-10.4 -0.8l-2.5 -5.4l4.5 -9.6l11.6 5.6M1274.5 576.5l2.6 -15.9l8.2 -0.3M1290.3 574.7l-2.7 -11.5M1273.9 577.4l-10.1 0.2l-0.9 12.2l2.6 2.8l10.4 -1.8l1.9 -4M273.1 132.7l-2.3 12.4l-7.7 8.1l-8.2 -0.6M282.5 132.7l8.5 13.4l-7.4 5.5l-12.8 -6.5M289.6 125.8l10.2 2.1M303.7 104.9l4.1 2.2M363.1 102.6l5.9 4.7M342.8 110.7l-1 12l0.8 1M341.8 122.7l-19.7 1.3M930.2 277.5l0 0.1M918.3 277.5l-1.2 1.5l1 11l-12.3 1.5l-1.9 -2l0.4 -10.5l12.8 0M917.7 253.9l-1.2 -1.4l-10.9 -0.2l-2.4 -1.9l1.7 -11.7l0.7 -0.8l11.2 2.8l-0.3 11.8M916.3 265.2l-10.6 1.1l-2.9 10.9l1.5 1.8M891.9 341.1l-15.5 -3.3l0 -8.5l16.4 -2.6l1.3 1.3l-0.7 11.9l-1.5 1.2l-1.8 9.6l3.1 2.7l11.2 0.4M876.4 337.8l-1.6 3l-13.7 1.7l-1.9 11.9l0.2 0.2l16.8 2.9l1.6 -3.6l-3 -13.1M893.4 339.9l10.3 2.7M894.1 328l11.3 0l1.5 11.8M876.4 329.3l-2.4 -3.4l-13.2 -0.5l-3.6 12.8l3.9 4.3M892.8 326.7l-0.3 -10.9l11.5 -2.5l0.1 -10.6l-11.2 -1.2l-2.2 2.3l1.3 11.4l0.5 0.6M799.3 144.6l-10.9 -38.4l-13.4 41.6M799.3 144.6l16.8 -1.4l-9.6 -695.7M799.3 144.6l-3.4 8.7M816.1 143.2l0.7 0.9M942.6 290.3l0 12.7l-11.7 -0.5l-0.4 -10.9l12.1 -1.3l0.7 -0.7l-0.4 -9.9M942.6 303l0.9 0.9l-0.3 9.9M930.5 291.6l-0.9 -0.8M930.9 302.5l-1.7 2M931.4 314.3l-2.1 -2.1M941.1 328.4l1.3 1.2M954.6 316.3l2.1 -2.1l9.8 0.3l2.1 2l-1 10.5l-0.8 0.8l-11.7 -0.8M954.6 327.5l1.4 11l-2 2.1l1.1 11.4l-11.7 -0.5l0.2 -11.2l10.4 0.3M916.1 303.2l-10.5 -1.9l0.2 -9.8M943.5 303.9l11.1 -1.9l1.7 1.6l0.4 10.6M919.1 291l-1 -1M905.8 327.6l-0.4 0.4M905.9 314.8l-1.9 -1.5M981.1 590.1l-2.5 3.2M979.1 750.8l-2.1 6.9l-14.2 -4.6l-1.7 1.8l-10 -1.4l4.1 -12.8l5.6 -0.9l4.7 6.1l-2.7 7.2M979.1 750.8l14.3 3.3l-1.3 12M979.1 750.8l-1.2 -4.4l-12.4 -0.5M993.4 754.1l0.4 -0.4l8.5 -1.8l-1.4 -14.3l-9.5 2.3l2.4 13.8M194.5 350l16.7 -2.2l2.4 -3.2l17.9 8.1l4.8 -7.6l-1.8 -11.2l-19 2.6l-1.9 8.1M215 313.5l21 3.7l0.8 14.1l14.4 2.8l3 -20.8l-15.5 1.1l-2.7 2.8M211.2 328.2l4.3 8.3M234.5 333.9l2.3 -2.6M236.3 345.1l10.7 4l3.9 7.6l12.3 -9l-1 -11l-10.7 -2.4l-4.5 14.8M231.5 352.7l3 14.9l-2.1 2l-17.8 -6l-3.4 -15.8M248.4 461.2l4.4 -5.7l14.7 4.2M217.5 460.2l-9.4 -6.2l3.4 -9l-15.3 -16.1l-6.6 10.3M230.2 457.2l2 -15.9l-4.7 -3.9l-3.6 -0.9l-10.1 -17.2l-17.5 7.7l-0.1 1.9M198.4 373.5l8.2 -2.9l8 -7M206.6 370.6l10.6 11.1l-4.8 8.7l4.8 10.2l14.4 -5.3l1.5 -12.7l-1.8 -6.3l-14.1 5.4M180.6 386.4l-12.5 17.4l27 -1.1l0.4 23.4M196.9 381.4l1 1.7l-2.1 19.2l-0.7 0.4M195.8 402.3l18.4 3.8l1.2 8.9l-1.6 4.3M214.2 406.1l3 -5.5M215.4 415l18.3 1l3.7 -16.3l-5.8 -4.4M197.9 383.1l14.5 7.3M211.5 445l12.4 -8.5M208.1 454l-4.4 1.8M227.5 437.4l9.7 -17.7l8.9 0.9l3.7 19.9l-17.6 0.8M250.2 161.1l18.1 15l5.8 -9.7l-11 -13.2M269.8 207.6l14.9 0.3l4 14.5M331.4 218.1l-6.2 -6.6l-16.7 3.5l-4 6.6M346.6 217.8l-1 -26.5l2.4 -1.9M315.2 243.8l-4.5 -1.8M315.7 269.7l-11.8 0.6l-11 8l-11.1 -18.6l1.4 -1.1l13.2 1.3l7.5 10.4M318.2 272l0.9 11.2M364.5 360.7l-7.7 16.5M343.5 357.9l-0.1 22.3M338 351.6l-12.4 6.9M347.2 382.3l0.4 6.2M316.4 430.9l-17.2 8.7M315.9 387.4l-11.4 -10M329.4 377.2l-4.6 -16.4M644.4 178.4l1.1 7.5l25.7 6.4l-9.5 21.3l-11.1 2.6l-8.3 -22.3l3.2 -8M647.7 172.4l22.3 -2.6l2.8 -3.5l1.1 -9.7M622.5 220.1l2.8 4M621.8 198.6l20.5 -4.7M646.3 222.1l4.3 -5.9M688.7 149.8l4.3 3.2l-0.1 22l-20.1 -8.7M670.7 241.5l1.4 -1.6l-3 -22.7l18.9 -0.1l4.3 14.5l-20.2 8.3M670.7 252.9l4.2 6.5l-5.1 13.6l-1.7 2l-11.6 2.6M547.1 143.4l6 -19M509.1 152.3l-6.2 6.3M479 198.7l-2.3 -24M591.5 440.9l-26.8 2.8l-1.7 2.2l-1 7.8M551.8 468.9l-11.7 5l-3.3 7.8M564.7 443.7l-4.1 -21.2l-12.9 -11.4l-14.3 8.6l-5.1 20.8l34.7 5.4M547.7 411.1l0 -0.5M533.4 419.7l-27.1 -13.7M560.6 422.5l26.4 -17.1l5.1 3.4M528.3 440.5l-2.1 1.4M513.5 390l7.4 -1.7M504.5 407.3l0.6 31M556.3 391.1l6.5 -5.3M620.9 410.9l22.4 3.1l4.1 4.8M616.5 405.3l4.4 -18.7l-3.1 -6.2l-28.3 -8.2M587 405.4l-7.8 -19.2M684.6 427.1l0.8 0.7M685.3 414.1l0.6 -0.5l-0.3 -14.2l-10.5 -1.6l-6.7 9.8l-0.2 4.6M643.3 414l6.8 -22l18.3 15.6M650.1 392l-0.3 -2.3l20 -6.8l0.5 -0.9l-4.9 -19.2l-17.6 -1.9l-1.9 25.4l3.9 3.4M685.6 399.4l4.4 -2.5l3.8 -12.7l16.5 -0.1l2.4 -2l-3 -18.3l-16 -5.6l-3.3 1.9l-2.4 18.5l5.8 5.6M685.9 413.6l13 0.1l0 -10l10.6 -6.2l3.5 4.6l-0.7 12.1l-13 -0.1l-0.4 -0.4M675.1 397.8l-5.3 -14.9M623.9 365.4l-6.1 15M637 330.9l9.5 -8.9l0.6 -23.1M639.8 337.5l30 5l2 2.5l1.4 10.8l17.2 4.3M640.6 353.8l7.2 7.1M620.9 386.6l25 -0.3M727.7 439.6l-1.5 1.5l-11.6 -1.5l-1.6 -11.7l0.6 -0.6l13.9 0l0.1 0.2l0.1 12.1l13 1.2l0.1 0.1l-1.3 13l-12.1 1.1l-1.2 -1l0 -12.9M727.6 427.5l11.9 -1.4l0.7 -12.4l-13.1 -0.9l-0.7 0.7l1.1 13.8M714.6 439.6l-2.4 2.3M713 427.9l-12.4 1M713.6 427.3l-0.4 -12.3l13.2 -1.5M713.2 415l-0.9 -0.8M699.3 440.5l1.1 1.1M698.4 426.5l0.9 -12.4M830.4 340.5l-14.3 0.5l-0.1 0.2l-1.3 13.7l15.6 -0.8l0.1 -13.6l1.7 -1.6l11.8 1.6l1.7 -1.5l11.6 -0.8M816.1 341l-0.2 -15.6l-2.2 -1.5l0 -12.7l-15.9 -3l-2.9 5.3l6.7 11.8l12.1 -1.4M830.3 354.1l1.9 2l-1.4 14.4l-0.2 0.1l-14.6 -3.9l-2 -10.9l-19 -1.1l-2.3 3.3l5.3 14.2l14.5 -1.3l3.5 -4.2M816 341.2l-20.6 -2.7l6.2 -13.2M814.7 354.9l-0.7 0.9M813.7 311.2l1 -1l0.2 -13.8l-16.5 0.4l-0.4 -16.6l16.2 -0.7l0.4 0.4l1.2 15.7l-0.9 0.8M797.8 308.2l-0.2 -10.2l-19.1 -1.8l-0.9 20.6l0.4 0.3l2 16.6l14.6 5.3l0.8 -0.5M794.9 313.5l-16.9 3.6M815.9 325.4l13.1 -1.9l1 -11l13.7 -3.3l2.2 13.8l-0.9 0.9l-14.9 0.7l-1.1 -1.1M780 333.7l-4.2 3.3l1.2 23.6l15.7 -2.6M794.6 339l0.4 15.7M777.6 316.8l-19.3 -1.9l-2 -19.5l1 -2.1l-3.5 -16l-0.8 -0.6l-20 1.2l1.5 23.2l21.8 -5.7M797.6 298l0.8 -1.2M778.5 296.2l-1.1 -1.3l-20.1 -1.6M710.3 384.1l-0.8 13.4M688 378.6l-17.7 3.4M712.7 382.1l19.4 2l4.9 -20.5l-1.7 -1.6l-20.8 -2.2l-4.8 4M693.7 358.2l3 -14.9l-6.7 -7.2l-18.2 8.9M732.1 384.1l0.9 1.2l0 6.1l-6.7 10.9l0.8 10.5M737 363.6l11.7 -2.7l7.4 -7.2l-0.3 -14l20 -2.7M714.5 359.8l1.8 -14.8l14.7 -2.8l4.3 19.8M713.7 455.3l0.1 0.1l12.4 -1.4M713.8 455.4l-1.4 12.2l-12.4 1.2l0 -0.1l-0.9 -14.2M686.8 468.1l13.2 0.6M686.4 468.4l-0.2 13.8l12.6 0.7l1 -1l13.7 0.5l0.3 12l13.4 1.2l0.5 -13.5l-0.9 -1l-12.8 0.7l-1 -13.7l14.3 0.9l-0.5 12.1M712.4 467.6l0.6 0.5M700 468.8l-0.2 13.1M684.9 508.2l2.1 1.8l-2 13.4l-14 -1.4M685.1 609.3l0.1 0.2l-1 10.9l-0.7 0.7l-15.7 0.1l-6.5 -5.9M686.4 595.4l10 0l2.2 -12.6l1.1 -0.9l10.2 1.9l-0.2 13l-11.8 -0.1l-1.5 -1.3M686.2 595.2l-0.7 -13l-17 0.7l-4.2 3.3M668.5 582.9l6.5 -15.9M685.5 582.2l0.3 -0.4l0.5 -14.5M667.8 621.2l2.8 15.1M683.5 621.1l0.5 12.3M684.2 620.4l13.7 2.3l-1.1 10.5l1.4 1.5l12.5 0.9l-0.8 -13.3l-10.9 -0.6l-1.1 1M685.2 609.5l11.8 -0.5l1.5 1.3l0.5 11.4M687 510l10.9 -0.5l0.5 0.4l15.2 -0.7l-1.9 -12.7l-11.9 -0.7l-0.5 0.5l-1.4 13.2M685 523.4l0.1 0.1l14.5 -0.5l-0.8 13.8l-12.8 -0.4l-0.9 -12.9M669.3 537.2l0.6 0.5l15.8 -1l0.3 -0.3M699.6 523l0.5 -0.6l-1.7 -12.5M698.8 536.8l0.4 0.3l-0.8 12.8l-12.5 1.1M669.9 537.7l2.2 13.5M685.7 536.7l0.1 14.1M687.4 566.6l11.2 0.2l0.6 -0.4l1.6 -14.1l-2.4 -2.4M685.8 581.8l12.8 1M699.2 537.1l13.5 0.5l0 13.1l-11.9 1.6M698.6 566.8l1.1 15.1M699.2 566.4l13.7 1l0.8 -0.4l0.3 -15.1l-1.3 -1.2M712.7 537.6l0 0l1 -14.3l13.2 0.4l-0.1 14.3l-0.1 0.1l-14 -0.5M712.9 567.4l-1 15l10.7 1.9l0.7 11.6l-12.4 2.2l-1.2 -1.3M713.7 567l10.6 1l1.1 13.9l-2.8 2.4M714 551.9l12.6 -0.4l0.9 -1l12.7 0.7l0 14.7l-2.8 1.4l-9.9 -1.2l-0.9 -14.6M915.3 715.5l-0.5 -0.4l-9.8 1.8l-2.1 10.2M925.2 719.8l6.1 -3.1l6.5 0.8l0 10.5l-2.4 4.4M697.3 726.5l12.9 0.3M710.1 739.2l1.1 -1.3M698.1 713.8l0.2 -12.2M698.5 714.3l11.8 0l1.8 10.3M829.1 752.8l-1.6 -1.4l-11.3 1.1l-1.6 -13.1l-10.8 1.8l-1 11M841.7 751.1l-1 -12.5l13.7 -0.2l0.7 0.8l0 11.7M802.3 752.7l-11.5 -1.6M814.7 754.1l1.5 -1.6M814.6 739.4l1.4 -1.5l11.3 1.3l0.2 12.2M803.8 741.2l-3.4 -3.1l-10.3 0.8l-0.4 0.5M937 755.6l4.2 -3.7l-1.1 -4.6M941.2 751.9l7.9 2.7l2 -1.1M943.6 739.6l5.6 -2.4l0 -6.6l-11.4 -2.6M949.2 730.6l2.8 -5.2l11.7 3.6l2.1 -14.1l-0.7 -1l-13.3 4.2l-1.5 1.7l1.7 5.6M949.2 737.2l6 3.5M963.7 729l1.4 2.3l9.9 0.3l0.4 0.4l4.1 10.8l-1.6 3.6M965.8 714.9l9.9 3.4l1.6 1.7l-2.3 11.6M965.1 713.9l0 -4.5l-12.1 -7.6l-1.9 1.4l0.7 14.9M950.3 719.8l-11.9 -2.6l-0.6 0.3M1027.7 636.7l7.4 -9l-4.7 -7.3l-9 1.5l-4 6.6l0.1 4.6l10.2 3.6l0.8 1.5l-2.6 10.7l4.1 6.2l12.9 -10.7l-14.4 -6.2M1035.1 627.7l8.6 0.6l1.6 -1.9l0.7 -14.3M1017.5 633.1l-3.2 2.7l-8 -0.4l-5.8 -11.7l5.4 -3.9l11.5 8.7M1021.4 621.9l-4.4 -10.9l0.7 -1.1l-0.3 -8.3l-10.2 -1.9l-1.8 1.8l1.4 11.7l0.6 0.6l9.6 -2.8M1030.4 620.4l3.5 -8.8M1000.5 623.7l-5.2 0.2l-2.5 13.2l-14.9 -5l0.1 -3.9l12.2 -8l5.1 3.7M1006.3 635.4l-7.1 4.8l-5.1 -1l-1.3 -2.1M1005.9 619.8l1.5 -6M1014.3 635.8l-0.5 12.8l-1.7 2.3l-8 0l-4.9 -10.7M1055.5 596.8l-3.9 -11.9M1056.4 612.6l0.9 0.8l13.2 2.1l0.7 -13.9l-4.5 -2.6M1067.5 585.9l1.5 -1.2l0 -12.4l0.4 -0.8l12 3.2l-2.9 11.2l-9.5 -1.2M1052.8 583.8l1.2 -7.5l-0.6 -1.7M1032.1 610l-14.4 -0.1M1029.1 596.9l-8.8 0.7l-5.6 -11.2l3 -2.6M1043.7 628.3l2.4 11.2l9.3 -0.7l4.6 12.5l-1.3 0.7l-11.3 -0.2l-4.4 -7.4l3.1 -4.9M1045.3 626.4l10.2 0.3l2.4 -1.6l-0.6 -11.7M1146.4 374.9l-11.8 0.3l1 -13.4l10.6 1.1l0.3 12l-0.1 0l-1.6 12l-1.9 2.1l-3.2 0.3l-4.4 -2.2l-6.4 5.4l-0.9 3.7l0.8 1l6.3 1.9l1.4 -0.6l3.2 -9.2M1134.6 375.2l-3.4 2.1l4.1 9.8M1146.5 374.9l10.5 1.5l0.5 -0.3l1.7 -1.9l1.2 -10.7l-2.9 -2.8l-9.7 0.5l-1.6 1.7M1135.6 361.8l-0.5 -0.5l-10.4 0.2l-0.5 -11.6l12.1 0.4l-1.2 11M1042.9 459.8l-4.3 -5.9l0.5 -6.9l1.4 -1.1M1038.2 468l-9.6 0l-0.3 -8.6l10.3 -5.5M1040.2 470l1.6 10.6l8.8 -0.6l4.5 4l-2.9 10.2l-13.8 -3l0.2 -7.5l3.2 -3.1M1051.6 470.1l-1 9.9M1040.5 430.9l-1.9 -12.8l-11.5 2.8l0.8 11.7l10.5 0.1M904.5 353.8l1 8.4l12 2.5l0.8 -12.6l-1.1 -1.2M890.1 350.7l-12.3 3.2M893.2 353.4l-1.6 11.9l-14.4 -2.3l-1 -5.5M955.1 352l0.9 0.8l10.2 -1.6l2.9 13l10.8 0.5l0.4 -11.2l-1.7 -2l-11.7 -1.2l-0.7 0.9M943.4 351.5l-1.2 1.1l-10.3 -0.5l-1.6 -10.2M943.6 340.3l-1.4 -1.8M956 338.5l11.3 1.9l1.2 -1.3l-1.7 -11.3M942.2 352.6l1.4 11.8l11.1 0.3l0.8 1l-1.5 11.3l-6.3 4.6l-5.6 -5.3l-0.8 -9.6l2.3 -2.3M931.9 352.1l-1.6 1.7l-12 -1.7M998.7 535.6l2.6 3.3l11.2 -6l3 13.4l-14.1 -1.8l-0.1 -5.6M999 524.2l3.8 -2l-0.2 -12.9l10.5 -1.6l0.1 0.1l12 -0.9l0.4 12.5l-11.5 0.3l-0.9 -11.9M989.4 520.6l2.5 -11.4l7.3 -1.9l3.4 2M809.1 427.5l-0.5 -0.5l0.8 -12.8l12.9 0.1l1.1 12.7l-0.6 0.6l-13.7 -0.1l-0.6 12.8l-12.6 1.6l-0.8 -0.7l-1.2 -13.6l-12.2 0.1l-0.4 0.2l-1.1 12.1l2.5 2.4l12.4 -1.2M808.6 427l-13.7 -0.3l-0.4 -13l0.9 -1.1l13.2 0.7l1.6 -12.6l-12.7 -4l-3.1 4.4l1 11.5M822.8 427.6l0.2 12.9l13.4 0.4l-0.3 -13.6l-0.6 -0.5l-12.1 0.2M809.4 414.2l-0.8 -0.9M822.3 414.3l1.7 -1.8l12.3 1.3l-0.8 13M1000.5 546l0.9 -1.5M1001.7 571.9l1.5 1.3l13.5 -3.6l-1.7 -10.6l-0.9 -1.1l-10.8 0.1M1029.9 571.1l1.1 -10.9l-2.2 -1.7l-4.6 -12.7l15.6 1l-0.7 9l-8.1 4.4M1021.3 572.7l-4.6 -3.1M1003.2 573.2l3 12.8l8.5 0.4M1014.1 557.9l3.1 -10.5l6.6 -2l0.4 0.4M1015 559l13.8 -0.5M1025.2 506.9l1.1 -0.9l13.7 5l2.9 -2.4l-6.6 -15.1l-8.4 2.2l-1.6 10.3M1025.6 519.4l3.4 3.5l8.2 -1.6l1 -1.2l14.1 3l-0.2 7.7l-1.7 1.8l-9.1 0.1l-3.2 4.2l1.9 9.5l12 -1.6l-1.6 -12.2M1014.1 519.7l-2.8 3.9l-8.5 -1.4M1013.1 507.7l-1.5 -11.2l1.9 -2.3l-0.7 -11.4l-0.5 -0.6l-9.2 0.5l-3.8 11.8l1 1.1l11.3 0.9M1011.3 523.6l2.7 7.2l10.8 2.2l4.2 -10.1M1039.8 546.8l0.2 -0.4M1039.1 555.8l6.9 4.4M1055.7 562.1l9.3 0.6l0.1 -16.3l8.9 -0.1l3.3 5l-2.4 9.4l-6.1 4.1l-3.8 -2.1M1053.1 559.6l2.4 -12.5l-3.5 -2.3M1054 576.3l15 -4M1085.6 240.9l-13 -3l2.6 14l-0.6 0.4l-12.8 -0.1M1087.7 239l-0.8 -10.4l10.3 -2.5l0.7 -0.9l0.2 -10.8l-10.9 -0.7l-2.6 -10.3l2 -2.3l10.2 -0.8l4.8 -197M1097.2 241l3.1 -2.1l-3.1 -12.8M1036.5 227.4l0.2 -12.3l-1.1 -1M1047.5 227.5l2.2 -2.5l11.6 1.6l1 -12.4l-13.3 0.6l-0.3 0.4l1 9.8M1049 239l15 -1.9M1036.7 215.1l12 0.1M1036.1 203.7l2 -1.6l11 2.5l2.2 -2l-8.8 -39.1M1148.3 261.3l-1 -9.6l-12.5 1l-1.4 9.7l3 2.5l9.2 -0.7l2.7 -2.9l11.3 2.1M1421.1 187.1l-8.1 6.1l-4.9 13.6l10.5 2l4.7 8.6l8.4 -0.2M1420.2 207.1l-1.6 1.7M1423.3 217.4l-5.4 8.3l-7.9 -2.8l-1.9 -16.1l0 0M1424.8 139.8l-20.4 -1.1l-4 -16.8M1449.8 235.6l-2.9 12.6l12.6 2.2l0.1 8.2l334.6 1.2M1446.9 248.2l-3.6 2.4l0 4.7l6.3 7l8.9 -1.6l40.9 84.8M1459.6 258.6l-1.1 2.1M1404.4 138.7l-7.9 10.7M1136.6 300l-1.5 1.7l0.8 10.8l0.2 0.2l11.3 -0.5l2.1 -9.8l-2.8 -3.1l-10.1 0.7l-1.1 -10.9l-1.7 -1.8M1135.1 301.7l-10.8 -1.7l-0.1 -10.6M1146.7 299.3l2.2 -10.5l-0.3 -0.4l-13.1 0.7M1135.9 312.5l-12.1 1.3l-2.5 -2.1l-11 2l0.7 11.8l0.8 1l10.8 -0.4l0.9 -0.6l0.3 -11.7M1136.1 312.7l0.6 12.3l10.5 2.2l2.5 -2.5l9.2 0M1149.5 302.4l10.4 -0.8l0.4 -0.4l-2 -12l-9.4 -0.4M1147.4 312.2l1.7 1.7l11.4 -1.3l-0.6 -11M777.6 255.3l17.2 3.1l2.2 -7l-5.1 -15.9l-11.5 0.4l-2.8 19.4l-3.8 3.3l-15.2 -9l2 -12.9l14.5 -3.5l5.3 2.7M794.8 258.4l1.5 6.3l-3.4 10.1l-10.4 1.7l-9.6 -5.4l0.9 -12.5M797 251.4l18.5 -1.5l-0.4 13.4l1 1.3l14.8 1.1l0.4 -0.3l-0.3 -13.9l-2.4 -2.3l-12.2 -0.5l-0.9 1.2M791.9 235.5l0.3 -0.3l4.7 -17.9l-2.3 -7.1l-19.7 4.4l-0.4 0.4l0.6 18.2M758.6 249.6l-7.6 7.7l-14.4 -5.7l0.4 -19.2l16.3 -1.3l7.3 5.6M737 232.4l-1.7 -1.3l-3.3 -16.7l24.1 -4.6l0.2 0.3l-3 21M736.6 251.6l-6.1 4.1l-15.7 -2.5l-1.7 -16.8l22.2 -5.3M751 257.3l2 19.4M860.5 234.9l-14.4 -0.7l-0.2 -11.2l14.6 -2.9l0 14.8l1.4 1.4l-0.1 10.9l14.3 4l3.6 -11.3l-2.6 -7.6l-15.2 4M846.1 234.2l-1.9 2.6l2.3 10.8l11.6 2.2l3.7 -2.6M860.5 220.1l0.7 -0.6l-3.1 -13.3M845.9 223l-2.2 -2.2l1 -13.9l0.7 -0.5M831 176.1l-15.3 -1.6l-1.1 1.3l2.6 14.4l10.9 0.8M831.3 175.8l-1.5 -15.7M829.8 192.7l0.6 11.2l1 1.1l13.3 1.9M843.7 220.8l-13.7 0.8l-1.6 10.1l-14.6 4l-0.4 -0.4l-0.3 -14.4l3.7 -3.2l12.3 2.7l0.9 1.2M861.2 219.5l13.7 0.7M919.1 226.9l-1.1 -1.2l-12.5 1.3l-1.4 1.7l1.5 9.2M932.2 226.5l-1.4 -9.9l11.5 -3.7l0.2 -8.9l-11.6 -2.3l-1.7 13.6l1.6 1.3M919.6 238.5l-2.8 2.2M932.9 227.2l9.1 0.1M944.3 237.9l-1.5 -9.8M954.8 239.9l0.8 -0.5M955.5 226.8l-0.4 -0.4M966.6 239.7l1.3 1.6l0.3 10.1l12.7 0l0.3 -0.3l-1.1 -11.5l-12.2 1.7M966.5 314.5l2.6 -12.5l10.3 1.5l0.8 -0.6l1.5 -11.8l-2.2 -2l-12.6 0.9l1.4 11.2l0.8 0.8M967.6 327l12.8 0.3l-1 10.9l-10.9 0.9M968.6 316.5l10.4 -1.1l0.4 -11.9M943.3 289.6l11.1 1.8l0.2 10.6M943.7 278.6l10.4 -2.5l1.9 14.1l10.4 -0.8l0.7 -12.1l-12.3 -1.9l-0.7 0.7M992 192.4l9.7 -1.9M1005.6 180l4.3 3.9M1048.7 349.5l2.4 -10.5M1048.7 349.5l-10.4 0.2l-2.9 -12.4l0.5 -0.7l12.4 -1.3M1048.7 349.5l1.9 1.9l11.6 -0.6l1.1 11.3l-0.5 0.3l-12.3 -0.9l0.1 -10.1M1038.3 349.7l-1.1 1.4l-13 -0.1l-1.8 -1.9l2.3 -11.3l-0.6 -0.6l-1.9 -11.1l3.6 -2.9l10 3.7l0.1 9.7M1035.4 337.3l-10.7 0.5M1022.2 326.1l-10.2 -2.3l-0.1 0.1l-0.4 13.4l12.6 -0.1M1025.8 323.2l1.1 -9.5l8.4 -2l-0.1 -10.2l-10.5 -2.3l-1.7 1.8l0.5 10.3l3.4 2.4M1035.8 326.9l2.9 -3.1l12.3 0.6M1038.7 323.8l-2 -11.3l16.9 -2.2M1036.7 312.5l-1.4 -0.8M1083.6 251.5l-8.4 0.4M1085 264.8l-11 -1.2l-2 1.7M1072.8 288.6l-16.8 -2.5M1075.4 276.8l-14.6 -0.5M1074 263.6l0.6 -11.3M1050.5 361.5l-1.1 1.4l-12.6 -1.8l0.4 -10M1062.8 362.4l-3.4 11.9l-8.3 -0.1l-1.4 -1.3l-0.3 -10M1063.3 362.1l10.4 1.9l0.9 -0.8l-1.3 -12.6l-11 0.1M1072.9 338.2l0.9 11.9l-0.5 0.5M1073.8 350.1l12 -0.7l0.3 -11.5l-12.2 -0.7M1085.8 349.4l0.1 0.2l0 10.4l-1.2 1.1l-10.1 2.1M1086.1 337.9l0.2 -0.2l11.9 -0.1l0.7 -11.9l-1.8 -1.8l-8.8 0l-2.1 2.5l0.1 11.3M1073.7 364l0.4 10.3l-0.4 0.6l-12.6 0.8l-1.7 -1.4M1248.4 211.5l5.7 50.1l-2.6 2l-11.9 -1.6l0.5 9.3l3.6 3.5l-3.4 8.7M1254.1 261.6l7.1 3.5l8.8 -29.2M1251.5 263.6l-2.7 10.5l3.5 1.8l10 -2.4l5.4 9.9l-4.1 2.9l-10.2 -0.2l-1.1 -10.2M1330.6 376.1l-5.2 -1.8M1337.9 389.7l17.2 10.5M1342.1 376l-1.3 -2.2l6.2 -9.5l-2.3 -2.6l-5.9 -0.4l-4.8 4.7M1337.3 390l-1.5 11M1316.6 376.5l0.9 -14.5l11.2 1l1.6 1.8M1352.9 385.3l3.9 -10.6M1353.4 386l15.3 -1.1l-4.1 12.1l9.3 7.1l34.9 -14.5M1357.5 398.1l7.1 -1.1M1355.9 374.2l-5.7 -9.7l-3.2 -0.2M1317.5 362l-2.7 -4.1l-1.6 -1.2l-8.7 -1.4M1328.7 363l2.5 -8.5l4.5 -1.6l0.4 -0.4l0.3 -3.9l-7.7 -4.6l-2.7 2.3l1.2 5.9l4 2.3M1278.1 372.4l-14.3 -14.2l3.7 -6.6l13.6 5.7M1288.7 419.2l10 1.7M1284.6 422.7l-1.3 3.8l-12.6 2.3l0.5 -10.7l4.1 -2.2M1277.1 404.3l-1.5 -0.3l-4.5 1l-9.2 0.1l-0.1 -9.2l7.4 -1.7l6.4 9.8M1283.3 426.5l1.8 4.6l-0.2 6.9l12.6 3.9l-2.2 10.3l13.6 3.7l0.5 -0.6l-0.4 -9.4l6.4 -5.7l5.6 2l-2 11.2l-9.6 1.9M1270.7 428.8l-1.1 1.1l0.8 8.9l0.3 0.4l10.8 2.1l3.4 -3.3M1271.2 418.1l-4 -1.6l3.9 -11.5M1106.7 447.9l2.7 -6.9l-1.3 -3.8l-1.6 -1.1M1099 456.3l-0.1 10.1l7.1 -5.8l-0.4 -4M1108.9 452.7l4.8 0.9l1.3 1.4l1.9 5l-7.3 4.6l-3.6 -4M1089.6 458.7l0.9 2.1l-2.4 9.6M1079.7 408.3l-1 -1.3l-13.4 -0.1l0.9 -8.3l7.4 -3.1l4.7 5.5l0.4 6M1086.1 407.8l4 -3l0.2 -8.2l5.9 -0.8l3.6 -6.4l8.5 2.8l1.4 3.6l-1.2 2.7l-9.7 1.2l-1.3 6.3l0.1 0.2l8 0.7l3.1 -4l-0.2 -4.4M1092.1 414.9l4.9 -1.7l0.6 -7M1090.8 423.6l9.2 -0.3l1.4 -6.7l-4.4 -3.4M1090.5 460.8l8.1 6l0.3 -0.4M1083.7 482.2l6.9 3.3l6.8 -4.5l1 -2.2l-2 -5.5l-6.3 -0.1M1098.8 399.7l-2.6 -3.9M1097.5 406l-7.4 -1.2M1105.6 406.9l1.3 7.2l-5.5 2.5M1108.7 402.9l9.9 6.1l1 -0.7l0 -11.6l-9.9 -0.9M1108.3 392.2l2.2 -4.2l-2.1 -11.8l1.6 -1.1l0.4 -0.5l12.8 -2.4l0.1 -9.1l1.4 -1.6M1099.8 389.4l-1.5 -2.7l0.4 -2.9l3.5 -7.2l-5.1 -4.7l-9.8 2.7l-0.9 1.1l0.4 3.2l11.9 4.9M1090.3 396.6l-3.4 -2.6l-1 -5.8l12.4 -1.5M1119.6 396.7l0.1 0l8.3 -0.5M1119.6 408.3l5.7 -0.1l1.9 -1.9l1.6 -9.1M1118.6 409l-1.4 3.7l11 6.7l2.2 -4.4l-5.1 -6.8M1106.9 414.1l4.4 1.8l-1.2 8.5l7.8 3.8l3.1 -3.3l-5 -10.7l-4.7 1.7M1100 423.3l0.7 0.8M1098.6 466.8l0.4 2.9l-2.6 3.6M1038.1 536.9l-12.4 -2.1l-1.9 10.6M1041.3 532.7l-4.1 -11.4M1055.5 547.1l6.8 -1.8l2.8 1.1M1038.2 520.1l1.8 -9.1M1052.3 523.1l0.3 -0.3l11.8 -1.7l-0.6 -10.5l3.2 -2.6l6.5 0.5l4.6 10.3l7 -0.4l3.4 -4.7l-0.1 -2.9l-10.9 -5.7l-4 3.4M1052.1 530.8l10.8 2.3l-0.6 12.2M1373.9 404.1l-2.2 8.4l-5.3 4.2l-12.5 -13.7M1368.7 384.9l0.5 -0.8M1332.2 405.8l-8.9 -0.1M1349.7 418.2l12.7 0.2l-4.8 13.5l-8.5 0.2l-2.3 -2.5M1362.4 418.4l4 -1.6l0 -0.1M1349.1 432.1l0 10.2l-2.6 2.3l-0.3 8.8l3.8 4l7 -0.8l0.8 -1.6M1371.7 412.5l40 27.8M1366.4 416.8l4.8 14.2l-13.6 0.9M1386.9 483.3l-1.3 8.3l625.5 262.8M1323.4 441.4l-2.4 0.8M1333 444.9l0.5 0.8l-0.2 8.9l-10.3 2.2l-4 -3.4M1309 445.9l-10.8 -4.5l-0.7 0.5M1315.4 440.2l-4.1 -7.6M1295.3 452.2l-3.4 2.8l-9.2 -1l-1.2 -12.7M1308.9 455.9l-0.2 6.8l0.4 0.4l12 3.8l1.9 -10.1M1298.2 441.4l3.4 -8.3M1333.3 454.6l1.3 1.6l11.6 -2.8M1333.5 445.7l13 -1.1M1369.4 465.6l2.1 -12M1370.7 481.7l3.3 8l-13 5.3l-3 -2.6l-8 2.5l-4.9 -4.7l-2.3 -7.1l7.3 -3.8l9.6 5.4l-1.7 7.7M1361.7 467.7l-4.7 -11.1M1361.2 468.4l-10.3 2.3l-6.9 -3.9l-6.5 0.8l-2.9 -11.4M1363.4 480.9l-3.7 3.8M1305 577.1l5.1 -8l12.1 -5.7l-8.8 -6.6l-2.9 -15.1l1.5 -1.1M1311.3 524.9l-10.6 2.4l-2.9 5.7l0.5 5.3l4.9 3.7l7.3 -0.3M1321.5 528.9l1.4 1.6M1312.2 520.8l-2.9 -8.4l0.7 -1.5l2 -2.6l12.5 0.9l2.8 9.4l-1.9 1M1310 510.9l-11.2 -8l-5.2 6.4l3.3 5.9l12.4 -2.8M1312 508.3l-0.4 -12.1l-4 -2.8l4.2 -15.2l7.5 -0.6l2.5 2.9l14.6 -1.7l1.1 -11.1l-15.6 0.5l-2.6 9.4M1324.5 509.2l4.3 -5.4l-12 -9.4l-5.2 1.8M1327.3 518.6l6.4 2.9l1.8 5l13.8 0l-0.2 -9.5l-10.4 -1.9l-5 6.4M1335.2 538.1l10.2 3.2M1335 527.9l0.5 -1.4M1196.3 553l-2.1 0.9l-2.8 8.8l5.9 4l9.1 -3.1l0.3 -3.3l-10.4 -7.3l2.4 -8.1l-5.9 -6l-8.5 3.7l-1.1 1.6l-7.2 1.6l-2.5 8.9l11.5 -0.8l1.8 -2.1l-3.6 -7.6M1194.2 553.9l-7.4 -2.1M1206.7 560.3l2.5 -2.5l8.3 -2.9l4.3 10.1l-1.6 1.6l-13.4 -2.2l-0.4 -0.8M1197.3 566.7l-3.8 10.8l1.9 1.3l12.7 -3.5l0.5 -0.5l-1.8 -10.4M1191.4 562.7l-9 3.6l2.7 7l-11 6.7l-3.9 -4.2l0.7 -5.5l5.5 -5.3l5.9 1.3l0.1 0M1277.3 595.9l-1.4 -5.1M1263.8 577.6l-1 -0.6l-4.2 0l-2.9 2.5l-2.7 10.7l-0.8 0.7l-10 -5.2l-0.4 -0.7l-0.8 -4.6l-12.9 -1.2l-0.9 11.8l-12.1 0.1l2.7 -13.5l0.7 -0.3l9.1 1.4l0.5 0.5M1262.9 589.8l-9.9 0.4M1265.5 592.6l-3 9.5l10.3 3.4M318.5 131.2l8.6 14.7l-7.9 10.8l-16.6 -5.4l-1.6 -3.3l5.5 -12.8M815.7 174.5l-0.6 -13.6l0.1 -0.1M814.6 175.8l-20.2 3.3l-3.7 -5M817.2 190.2l-1.2 1.1l-20 -0.7l-2.2 6.3l2.2 8.4l18.3 -0.1l1.7 -13.9M891.9 254.5l1.2 7.7l-2 2.8l-16 0.6l-1.1 -1.5l2.2 -12.8l15.7 3.2l2.2 -2.6l-2.2 -11.3l-12.2 -0.7M893.1 262.2l11.2 2.6l1.4 1.5M876.2 251.3l-0.1 -0.1M875.1 265.6l1.7 12.1l15 -2l-0.7 -10.7M874 264.1l-14.8 1.4l-1.2 -1l-13.1 0l-1.6 1.2l2.2 16.1l0.4 0.3l12.6 -2.8l0.7 -13.8M877.1 232.3l1.1 -4.1M894.1 251.9l9.1 -1.5M891.9 240.6l0.1 0l1.2 -13.2l-1 -0.7M903.9 289.5l-11.6 1.8l-1.5 -1.3l2.4 -13.2l9.6 0.4M905.6 301.3l-1.5 1.4M893.2 276.8l-1.4 -1.1M904.3 264.8l1.3 -12.5M876.8 277.7l-1.9 3.9l2.4 7.9l13.5 0.5M874.9 281.6l-14.6 -1l-0.1 14.6l1.9 1.8l-3.2 12.7l0.5 0.8l15.3 0l2.3 -8.2l-2.3 -6.2l-12.6 0.9M877.3 289.5l-2.6 6.6M892.3 291.3l0.6 10.2M893.2 227.4l10.9 1.3M892 240.6l12.9 -1.9M905.5 227l-0.7 -11.6l13.7 -0.9l-0.6 -9.6l-12 -1.9l-2.5 10.8l1.4 1.6M918 225.7l1.1 -10.5l10.1 0.1M859.4 354.6l0.1 15.2l2.4 2.3l-2.5 12.6l-12.1 0.5l-1.9 -15.4l0.3 -0.3l13.8 0.3M859.2 354.4l-12.6 0.5l-1.1 -0.9l-1.6 -13.5M874 325.9l2.7 -10.6l-2 -4.8M860.8 325.4l-2.4 -2.6l1 -12.3M891.6 365.3l1.7 1.7l-0.9 10.3l-13.6 1l-4.3 -8.4l2.7 -6.9M646.5 322l22.6 -4.5l1.1 -14.1l-17 -9.2M815.1 160.9l-17.3 -2M967.3 340.4l-0.4 9.9M980.4 327.3l0.5 -0.6l11.4 1.2l-0.3 -12.8l-11.6 1.7l0.5 9.9M979.4 338.2l2 1.8l-2.8 11.5M1022.4 349.1l-11.2 1l-0.2 -12.3l0.5 -0.5M1024.2 351l-0.4 11.5l1.8 1.5l10.9 -2.4l0.3 -0.5M1038.6 418.1l0.1 -0.1l10.9 -1.1M1027.9 432.6l-0.1 0.1l1.7 12.3l-3.7 2.7l-9.2 -1.9l-0.2 -10.8l11.4 -2.3M1027.1 420.9l-4.2 -3.1l-5.2 0.5l-3.9 -2.4l-12.3 4.8l-0.8 1.1l-10.7 -2.9l-3.6 2.7l-0.1 8.9l1.8 2l14.6 -3.1l-2 -7.6M1038.7 418l-2 -9.9l-10 -2.3l-0.6 0.6l-3.2 11.4M1049.7 372.9l-11.1 0.6l-2.1 -11.9M1051.1 374.2l-2.3 11.7l1.3 1.8l10.5 0.8l0.6 6l-9.8 9.3l-4.2 -3.1l2.9 -13M1073.7 374.9l-0.1 12.1l-11.7 0.2l-0.8 -11.5M1074.1 374.3l12.3 1.4M1073.6 387l0.4 0.5l11.2 -0.1l1.6 -8.5M1061.9 387.2l-1.3 1.3M977.9 632.1l-2.1 3.2l-9.3 0.6l-3.9 -11.3l3.8 -2.9l9 3.4l1.5 -13.5l6 -2.3l6.2 2.2l1.1 8.7M978 628.2l-2.6 -3.1M994.1 639.2l-7.4 10.7l16.2 2.2l1.2 -1.2M976.9 611.6l-7 -2l-2.1 -8.1l10.7 -6.7l4.4 14.5M989.1 611.5l3.3 -3l2.3 -6.6l-0.6 -2.1M966.4 621.7l-1.2 -7.3l4.7 -4.8M966.5 635.9l-7 4.1l-5.7 -2.2l0.5 -11.9l8.3 -1.3M975.8 635.3l1.8 13l-11.4 3.2l1.2 12.5l1.7 2l7.8 -1.5l3.7 -14.1l-3 -2.1M951.1 703.2l-9.1 1.3l-3.6 12.7M953 701.8l1.6 -6.8l-5.1 -6.6l8.3 -11.4l7.2 1l-1.2 14.1l-9.2 2.9M965.1 709.4l4.4 -4.9l6.2 -0.9l3.6 -13.3l-0.1 -0.1l-13.3 3.3l3.6 11M949.5 688.4l-8 -1.7l-2.9 14.3l3.4 3.5M957.8 677l-6.8 -7l-1.3 -4.8l1.2 -2.1l16.5 0.9M965 678l1 -0.5l6.4 2.1l6.8 10.6M963.8 692.1l2.1 1.4M282.1 313.6l8 16.3l-7.5 6.6l-14.6 -4.4l-0.2 -18.9l14.3 0.4l3.6 -3.5l20.2 -0.9M290.1 329.9l11.2 0.3l10.7 -15.7M267.8 313.2l-0.3 -0.2l0.8 -20.5l-19.2 0l5.3 20.8l13.1 -0.3M282.6 336.5l0.3 10.1l-16.1 3.4l3.7 11.4l10.9 2.4l2.6 -15.3l-1.1 -1.9M268 332.1l-5.8 4.6M233.4 257.7l16 4.7l4.2 -4.4M249.4 262.4l-0.4 3.4l-16 15.1M271.6 260.5l0.8 0.6l9.4 -1.4M249 265.8l5.3 9.9l-6.6 16l-10.7 -0.2M232.4 369.6l-1.1 6.7M234.5 367.6l13.3 -2.6l1.4 -1.5l15.4 2l3.9 16.7l-4.2 2.7l-6.8 0.4l-9.7 -20.3M249.2 363.5l1.7 -6.8M264.6 365.5l5.9 -4.1M268.5 382.2l11 -1.4M257.5 385.3l-1.3 1.3l-23.1 -4M264.3 384.9l7.2 19.5l15.6 -9.8M256.2 386.6l-6.3 14.1l20 7.3l1 6.1l-5.4 5.6l-16.2 -2.3l-0.2 -16.2l0.8 -0.5M283.6 151.6l-3.8 13.4l13.1 5.4l3.2 -1.3l6.5 -17.8M291 146.1l10 1.9M327.1 145.9l16.9 -0.2M319.2 156.7l4.4 14.5l12.4 -2.1l13.1 -18.5M284.7 207.9l3.6 -4.1l-0.4 -14.9l-15.5 -2.6M304.6 243.5l-8.2 16.4M289.4 241.2l-6.2 17.4M296.1 169.1l18.5 9.1l-7.7 12.1l0.6 3.3l17.8 11.6l5.1 -11.5l-10.4 -17.1l-5.4 1.6M292.9 170.4l-4.4 17.9l-0.6 0.6M279.8 165l-5.7 1.4M266.9 180.9l1.4 -4.8M323.6 171.2l-3.6 5.4M336 169.1l11.9 11.5M345.6 191.3l-15.2 2.4M305.7 291l-13.2 -11.8l0.4 -0.9M302.8 299.4l-16.8 -6.3l-0.3 17M286 293.1l-1.7 -2.8l-14.3 0.2l-2.5 -10.1l4.5 -9.7l18.1 10.4l-5.8 9.2M301.3 330.2l5.5 12.4M292.5 279.2l-2.4 1.9M272.4 261.1l-0.4 9.6M263.2 347.7l3.6 2.3M251.5 334.3l-0.3 -0.2M281.4 363.8l2.1 3.1M284 348.5l17.2 2.5M302.1 364.4l-0.7 1.3M669.1 217.2l-7.4 -3.6M688 217.1l4.7 -9.3l21.6 4.8l0.5 -0.3l-2.5 -22l-20.6 10.9l1 6.6M692.3 231.6l1.5 1.1l-2.5 24.8l-0.2 0.2l-16.2 1.7M670 169.8l2.9 21.5l-1.7 1M672.9 191.3l12.8 2.2l8.3 -17.2l-1.1 -1.3M693 153l18.6 2.9l3.3 -3.2M685.7 193.5l6 7.7M694 176.3l12.4 -0.9l3.9 -5.6l1.3 -13.9M668.1 275l9.8 20.1l-7.7 8.3M669.8 273l20.2 5.8l6.8 -6.4l16.4 6.3l1 1.5l-3.3 10.6l-19.4 5.5l-1.8 -1l0.3 -16.5M540.1 473.9l-12.9 -14.1M503.3 472.4l0.9 -2.4M665.4 362.8l7.8 -7M669.8 342.5l2.3 -22.7l15.5 2.3l2.4 14M690 396.9l8.9 6.8M713 402.1l13.3 0.2M798 372.2l-4 10.9l1.4 1.7l19.6 0.8l0.3 -0.4l-2.8 -14.3M815 385.6l0.5 11.9l-5.3 3.2M815.3 385.2l14.2 -3.3l0.2 15.8l6.2 2l8 -3.5l1.3 -9.1l-15.6 -5.3l-0.1 0.1M795.4 384.8l2.1 11.9M794 383.1l-18.1 0.3l-3.6 -2.4l2.3 -18.7l2.4 -1.7M772.9 271.1l-19.1 6.2M782.5 276.5l-5.1 18.4M796.3 264.7l18.8 -1.4M792.9 274.8l5.1 5.4M696.7 343.3l12.5 -4.4l7.1 6.1M740.7 440.8l1.1 -12.4l11.8 -1.4l1.5 14.4l11.8 -1l0.5 -13l-13.7 -0.5l-0.1 0.1M727.4 455l0.6 13.2l-0.7 0.8M740.8 440.9l13.7 1.2l-0.1 11.6l-0.9 0.9l-12 1.2l-2 -1.9M754.4 453.7l13.4 2l-1.4 12.5l1.2 1.1l13.5 -1.6l0.2 -11.9l-12.1 -1.3l-1.4 1.2M753.5 454.6l1.3 13.7l-1.1 1l-12.4 -1.2l0.2 -12.3M754.5 442.1l0.6 -0.7M714 481.8l-0.5 0.6M713.8 494.4l-2.1 2.1M727.2 495.6l0.1 0l-1.5 12.8l-11.8 1.2l-0.4 -0.4M727.7 482.1l12.7 -0.1l0.1 -13.2l-12.5 -0.6M766.9 440.4l1.6 1.2l0.7 12.9M767.4 427.4l1.1 -1l12.8 1.5M753.7 426.9l0.2 -12.7l13.3 0l0.4 -9.5l-9.6 -8.3l-3.5 5l-1 12.4l0.4 0.4M741.8 428.4l-2.3 -2.3M740.2 413.7l0.5 -0.4l-0.2 -11.7l-7.5 -10.2M755.8 339.7l-1.7 -2l-20.4 0.3l-5 -13l6.9 -9.6l19.1 3.3l-0.6 19M756.1 353.7l18.5 8.6M740.7 413.3l12.8 0.5M740.5 401.6l14 -0.2M733 385.3l25.5 1.2l2.7 -2.4l-12.5 -23.2M794.4 401.1l-13.9 0.4l0.2 11.8l0.6 0.6l13.2 -0.2M815.5 397.5l7.5 3.1l1 11.9M685.5 634.7l11.3 -1.5M686.4 646.4l10.8 1.3l1 -13M686.2 482.2l-0.7 0.6M698.8 482.9l1 12.9M685.7 495.7l13.6 0.6M700.1 522.4l13.2 0.4l0.7 -13.2M727.3 495.6l12.9 0.7l-0.3 13.7l-11.9 0.6l-2.2 -2.2M713.3 522.8l0.4 0.5M740.2 496.3l0.6 -0.5l-0.2 -13.6l12.8 -0.4l0.6 13.4l-1 1.1l-12.2 -0.5M739.9 510l1 0.9l-0.1 12.1l12.5 1l0.5 11.9l-13.3 0.7l-1.1 -12.1l1.4 -1.5M728 510.6l-1 13.1l-0.1 0M978.5 594.8l0 -0.2M967.8 601.5l-2.3 -1l-8.5 0.3l-1.6 11l9.8 2.6M954.2 548.1l-4.2 -10.9l11.3 -3.2M950.4 555.2l-6.5 -1.1l-5.8 13.8l-9 -6.6l0.9 -8.3l13.6 0.8l0.3 0.3M953.5 558.9l-0.7 9.8l-13.6 2.4l-1.1 -3.2M950 537.2l-4.4 -1.3l-2.7 -8.2l13.9 -5.5M968.2 559.8l-0.7 10.4l4 4.4M892.9 727.6l-1.7 -1.6l3.5 -13.8l2.1 -1.6l8.2 6.3M959.5 640l4.2 10.4l-12.3 6.8l-0.5 5.9M954.3 625.9l-2.5 -2.7l-10.7 -0.7l0.2 -13.4l0.2 -0.1l13.5 3l-3.2 11.2M953.8 637.8l-4 2l-1 13.6l2.6 3.8M931.3 716.7l-4.2 -12.1l-11.2 1.6l-1.1 8.9M823 440.5l-1 1.1l-11.7 0.4l-1.8 -1.7M836.1 427.3l13.3 -0.4l0.9 0.9l0.5 12.5l-13.8 1.2l-0.6 -0.6M782.1 494.9l13.1 0.6l-0.4 -14l-13.3 1l0.6 12.4l-1.2 1.3l-13.1 -0.8l-0.8 -0.9l1 -12.5l0.5 -0.5l12.7 0.7l0.3 0.3M795.2 495.5l0.5 0.5l-0.9 12.4l1.1 1.2l12.3 0.9l0.4 -0.4l0.3 -13.7l-1.4 -1.3l-11.8 0.9M794.8 481.5l0.4 -0.3l13.7 1.3l0.4 -0.4l-0.2 -14.2l-0.3 -0.2l-13.3 1l-0.4 0.5l0.1 12M767.8 495.4l-0.7 13.8l-12.5 -0.5l-1.2 1.3l1.2 12.6l12.9 0.1l0.5 -12.6l-0.9 -0.9M767 494.5l-13 0.7M780.9 496.2l0.4 12.9l-13.3 1M781.2 482.2l1.1 -13.3l12.8 0.3M768 482l-14.5 -0.3l0.2 -12.4M768.5 481.5l-0.9 -12.2M794.8 508.4l-13.3 0.9l-0.2 -0.2M807.5 495.1l1.4 -12.6M808.6 510.1l13.2 -0.6l0.9 -1l-0.6 -12.1l0.4 -0.4l14.2 -0.4l-1.4 13.8l-12.6 -0.9M808.9 496.4l13.2 0M808.2 510.5l0.7 13l-14 0.4l-0.5 -0.6l1.5 -13.7M808.9 523.5l0.2 0.2l13.7 -0.5l-1 -13.7M794.9 523.9l-0.6 12.5l0.9 0.8l0.6 13.7l-0.4 0.5l-14.3 -0.3l0 15.1l6.8 2.6l0.1 13.4l-12.9 1.5l-0.8 -14.7l6.8 -2.8M794.4 523.3l-11.9 -1.2l-1 -12.8M822.5 496l-0.6 -13.2l-12.6 -0.7M836.7 495.6l0.1 -0.1l-0.4 -13.1l14.1 -0.5l0.2 -12.6l-0.3 -0.3l-14.1 0.2l-0.3 12.7l0.4 0.5M835.3 509.4l1.2 1.3l13.9 -1.2l0.1 -0.2l12.6 0.2l0.4 0.4l14 -0.3l2.2 -7.8l12.6 0.3l0.3 -11.8l2.1 -1.9l-1.4 -10.2l-13.1 0.7l-1.7 3.4l2 7.7l-2.8 7.4l-13.3 -1.8l-0.3 -0.4l0.9 -12.1l13.5 -0.8M724.5 725.4l-0.2 -13.1l-11.7 -0.8l-2.3 2.8M735.4 726.4l2 -1.9l-0.1 -12.8l-12.8 0.5l-0.2 0.1M712.6 711.5l-2.1 -11.4M737.3 711.7l0.4 -0.4l0.2 -11l-0.5 -0.6l-12.7 0.1l-0.2 12.4M737.4 724.5l11.7 0.4l1.5 1.6M711 699.4l13.6 0.3l0.1 0.1M711 688.7l12.6 -2.7l1.2 1.1l-0.2 12.6M698.4 686.6l-2 -11.4M724.8 687.1l13.2 0.7l-0.6 11.9M723.6 686l0.1 -11.8l-12.1 -1.6l-1.2 0.9M699.2 672.6l-1.4 -12.3M711.6 672.6l-0.2 -10.8l-0.8 -0.8M723.7 674.2l1 -0.8l12 0.2l0.4 0.3l1 13.8l-0.1 0.1M868.5 740.4l-1.7 -1.8l-11.7 0.6M879.6 740l-0.1 -14l-12.6 0.2l-0.2 -14.4l0.6 -0.7l12.3 2l0.4 12.4l-0.5 0.5M866.8 738.6l-0.2 -12.2l-11.4 -0.4l-0.8 12.4M827.3 739.2l0.1 -0.1l13.1 -0.6l0.4 -11l-12.5 -2.1l-0.1 0l-0.9 13.7M816 737.9l-1.6 -10.5l-11.4 -1.2l-2.6 11.9M840.7 738.6l-0.2 -0.1M866.6 726.4l0.3 -0.2M855.2 726l-0.4 -0.4l0 -11.1l11.9 -2.7M764 737.7l12.6 1.5l0.8 0.9M762.6 726.1l0.1 -0.2l0.1 -12.1l1.6 -1.8l11 0.1l0.8 13l-13.5 0.8M749.1 724.9l0.8 -12.2l-12.2 -1.4M790.1 738.9l-1.6 -13.8l13.8 0.2l0.7 0.9M776.6 739.2l0.7 -13.2l10.9 -1.2l0.3 0.3M961.1 754.9l10.2 37.5M960.8 739.8l4.3 -8.5M975.4 732l12.5 -3.3l2.9 11l-11.3 3.1M1071.2 601.6l6.8 -1.6l4.3 -10.4l9 -0.9l4.6 10.2l-1.2 1.4l-15.3 0.9l-1.4 -1.2M1070.5 615.5l0.3 0.4l-0.6 7.8l-2.8 3.4l-9.5 -2M1124.2 349.9l-0.8 -0.8l-11.3 0.3l-0.4 -11.7l11.6 0.1l1.9 1.8l-1.8 9.5M1136.3 350.3l0.2 -0.2l8.9 -0.1l2.4 11.2M1123.3 337.8l-0.7 -11.7M1111.7 337.7l-1.3 -1.7l-11.9 1.8l1.8 10.4l11.1 1.9l-0.8 10l-1 1l-11.3 0.6l-0.2 -11.3l2.2 -2.2M1125.2 339.6l8.7 -2.1l1.2 1l1.4 11.6M1112.1 349.4l-0.7 0.7M1145.4 350l0.1 -0.1l2 -11.9l-12.4 0.5M990 418.9l0.4 -11.1l-13.4 -1.9l-2.8 12.2l12.2 3.5M986.3 430.5l-11.2 3.5l0.9 9.9l0.5 0.4l-0.3 15.9l11.7 -2.5l0.2 -0.2l0.2 -12.1l-11.8 -1.1M1002.7 429.4l2.2 2.6l-4.1 10.7l-1.3 1.1l3.5 14.3l-14.9 -0.6M988.1 432.5l2 11.3l9.4 0M987.9 457.7l2.9 12.9l7.3 0.3l3.1 -2.8l2 -9.8l-0.2 -0.2M988.3 445.4l1.8 -1.6M976.2 460.2l-0.6 0.5l-9.8 -2.9l-1.9 -2.4l3 -9.4l9.1 -2.1M999.2 507.3l1.1 -11.7M991.9 509.2l-5.3 -4.5l1.9 -11.8l-0.6 -0.8l-10.6 0.4l-3.2 -7.6l-10.1 -0.4l-1.5 -3.2l0.6 -7.1l-2.9 -3.4l-4.4 -1.2l-7.5 9l4.1 3.9l10.1 -1.2M1003.2 458.3l9 -1l2.7 -10.1l-14.1 -4.5M1001.2 468.1l13 4.8l3.3 -3.4l-5.2 -12.1l-0.1 -0.1M990.8 470.6l-2.6 2.1l-1.9 7.8l-9 0.2l-4.2 -9.2l2.6 -3.6l12.5 4.8M998.1 470.9l3.5 10.6l1.5 1.2M1014.9 447.2l1.7 -1.4M1004.9 432l7.4 -0.2l5.4 -13.5M1013.8 415.9l-4.2 -11.8l16.5 2.3M1012.3 431.8l4.1 3.2M1001.5 420.7l0.2 -14.5l-9.7 0.1l-1.6 1.5M1012.3 457.4l14 -0.6l2 2.6M1014.2 472.9l-1.9 9.3M1017.5 469.5l10 -0.2l1.1 -1.3M1039.1 447l-9.6 -2M1027.5 469.3l1.4 9.2l-4.8 5.6l-11.3 -1.3M1026.3 456.8l-0.5 -9.1M893.3 367l10.5 -2.5l1.7 -2.3M874.5 369.9l-12.6 2.2M878.8 378.3l-1.7 6.2l2 5.6l-2.6 8.6l-11.4 0.9l-2.7 -2l-1.9 -11.7l16.6 -1.4M892.4 377.3l0.7 0.7l10 0.7l3.3 -3.2l-2.6 -11M930.3 353.8l-0.9 11l11.9 1.9M963.1 474.2l10 -2.7M952.4 482.5l-2.1 7.6l6.9 5.1l4.3 -0.1l2.5 -10.6M960.2 470.8l5.6 -13M955.8 469.6l-9.1 -9.1l0.6 -5.9l0.2 -0.2l16.4 1M948.3 478.6l-6.3 -0.3l-1.7 11.3l1.6 1.2l8.4 -0.7M957.2 495.2l-8.3 7.8l5.3 7.1M961.5 495.1l0.6 0.6M964.6 506.4l-0.9 1.2M975.4 495l1.9 -2.5M977.2 506.7l9.4 -2M948.9 503l-5.3 -0.4l-1.7 -11.8M974.1 484.9l3.2 -4.2M988.5 492.9l10.8 1.6M987.9 492.1l0.3 -8.1l13.4 -2.5M952.4 514l-10.6 2.2l-0.7 -0.9l1.3 -11.7l-12 -1l-0.2 -11.6l10.1 -1.4M865.1 399.6l-1.5 14l-0.4 0.4l-13.3 -1.3l-0.2 0.2l-0.3 14M876.5 398.7l2.6 3.5l-0.9 12.4l-14.6 -1M862.4 397.6l-12.4 4.1l-0.1 11M879.1 390.1l13.3 0.3l-0.6 12.1l0.2 0.1l11.8 -0.4l0.9 -10.7l-11.9 -1.5l-0.4 0.4M860.5 385.9l-1.1 -1.2M1025.7 534.8l-0.9 -1.8M1017.2 547.4l-1.7 -1.1M1014 530.8l-1.5 2.1M1098.1 214.4l0.6 -0.6l0.6 -11.2l10.4 -2.4l1.2 0.8l1.2 13.3M1097.9 225.2l11.6 1.8l1.2 -1.1l0.5 -10.9l-12.5 -1.2M1100.3 238.9l8.4 0.4M1049 214.8l0.1 -10.2M1062.3 214.2l0.2 -0.2l-2.4 -12.1l13.7 0.8l0.6 0.7l-1.8 10.3l-10.1 0.3M1096.8 200.3l2.5 2.3M1086.6 201.1l-13.8 -62.3l1 63.9M1109.7 200.2l-4.2 -212.4M1110.9 201l12.3 -0.7M1084.6 203.4l-10.2 0M1110.7 225.9l11.3 1.5l0.5 -0.6l13.5 -0.7M1109.5 227l-0.2 11.7M1060.1 201.9l-0.1 -0.1l12.2 -68.1M1072.6 213.7l1.7 2.3M1060 201.8l-8.7 0.8M1038.1 202.1l0 -32.6M1122.5 226.8l-0.2 -12.5M1122 227.4l0 9.8M1134.8 252.7l-0.6 -0.8l2.3 -12M1145.6 264.2l3 11.7l-1.7 2l-11.8 -0.1M1136.4 264.9l-1.7 12.4M1133.4 262.4l-10.2 1.2l-0.4 -0.4M1134.2 251.9l-10.7 -3M1124.3 239.4l9.7 -1.6M1123.2 263.6l-1.3 11.2M1124.3 300l-2.2 1.8l-11.2 -3.2l0.4 -9.1M1413 193.2l-14.2 -4l-0.7 -3.5l-18 0.6l-0.7 3.9l11.9 8.9l4.3 0l3.2 -9.9M1287.4 345.2l-6.1 -8.4l-14.4 12.8l0.6 2M1300.7 346l1 -2.4l-4.3 -16.7l-16.7 3.8l0.6 6.1M1369.8 206.9l-3.2 -7.5l0.6 -1.8l8.1 -3.2l7.2 13.4l-1.5 5.5l-11.2 -6.4l-6.3 9.5l-6.7 -1.9l-7.2 6.3l7 10.4l1.1 0.8l6.6 -2l0.8 -0.6l2 -8.6l-3.6 -4.4M1366.6 199.4l-10.7 6.5l0.9 8.6M1381 213.3l0.5 1.9l14.6 -0.9l5.4 -7.8l6.6 0.3M1367.2 197.6l-4.7 -5.8l7.8 -13.7l8.1 2.2l1.7 6M1382.5 207.8l8.8 -8.7M1375.3 194.4l4.1 -4.2M1417.9 225.7l0.9 2.9l-13.1 10.6l-1.8 -1.6l4 -13.9l-9.4 -1.1l-5 8.2l2.8 3.9l7.6 2.9M1410 222.9l-2.1 0.8M1435.9 219.9l-9 14.7l5.4 4.9l0.4 3.7l0.8 1.9l9.8 5.5M1426.9 234.6l-3.4 -1l-4.7 -5M1322.9 127.6l7 51.3l7.4 0.6l8.1 -3.5l0.2 -16.7M1329.9 178.9l-1 1.4l1.6 15.5l-0.7 1.1l-17.4 -4.5l3.5 -9.7l13 -2.4M1345.4 176l6.5 2.4l6.4 -12.4M1337.3 179.5l10.1 14.1l-0.1 0.3l-4 1.7l-2.3 11.8l2 2.2l9.3 -5.7l-5 -10M1222.5 326.9l-12.4 -0.2l-0.9 0.8l-1 10.5l0.3 0.3l13.4 -0.4l0.7 -1l-0.1 -10l0.1 -0.1l3.9 -0.6l9.2 3.4l-3 8.6l-10.1 -1.3M1210.1 326.7l0.1 -12.8l10.2 -1.6l1.5 -10.5l9.4 -1l3.9 8.2l-7.5 4.4l-6.9 -0.8l-0.4 -0.3M1209.2 327.5l-13.9 -3.2l0.5 11.5l-10.7 2.9l-1.3 -1.5l0 -23M1221.9 337.9l0.7 11.3l-1.8 1.4l-11.2 -1.4l-0.5 0.5l-12.6 2.3l-1.4 -1.3l3.4 -12.5l9.7 -0.2M1208.5 338.3l1.1 10.9M1209.1 349.7l0.4 12.7l10 0.8l1.6 10.6l-13.5 0.1l-0.7 -0.4l1.6 -10.3l1 -0.8M1196.5 352l0.3 8.4l-11.1 3.7l-3.3 -3.6l3.6 -11.7l9.1 1.9M1198.5 338.2l-2.7 -2.4M1222.6 349.2l8.1 0.4l0.7 0.5l8.4 2.4l1.4 7.9l-1.2 1.6l-0.9 7.5l-8.4 1.6l-1.6 -9.4l0.7 -0.5l10.2 0.8M1220.8 350.6l0.3 10.6l8 0.5M1263.8 358.2l-2.4 2.2l-8.6 -0.3l-2 1.4l0.4 10.3l11.2 1.7l-1 -13.1M1266.9 349.6l-1.5 -1.5l-2.9 -4.7l-9.3 -1.3l-2.4 9.1l0.9 1.2l13.7 -4.3M1148.6 288.4l-1.7 -10.5M1160.3 301.2l29.5 -2.3M1158.3 289.2l2.4 -2.2l-0.7 -11.7M1148.6 275.9l10.9 -1.1M1149.1 313.9l0.6 10.8M1133.9 337.5l0.5 -10.6l2.3 -1.9M1145.5 349.9l13.5 -0.3l-1.5 11.1M1147.5 338l1.1 -1l-1.4 -9.8M1122.1 301.8l-0.8 9.9M1110.9 298.6l-0.7 0.6M732 214.4l-3 -3.6l-14.2 1.5M756.1 209.8l-0.5 -13l14.6 -4.4l5.2 3.9l-0.5 18.3M756.3 210.1l18.2 4.9M771.5 169.2l-16.5 1.6l-5 -18.9l6.5 -7.6M775.7 173l-5.5 19.4M794.4 179.1l1.6 11.5M874.9 157.7l3.5 8.1M876.5 152.3l15.7 0.7l1.2 -1l-2.3 -11.9M943.9 215.1l-1.6 -2.2M930.9 201.7l-0.2 -0.1l-11.6 2l-2.3 -13.5l-10.3 1.2l-1.8 9.7l-10.5 0.3l-2.5 -9.7M919.1 215.2l-0.6 -0.7M918 165l-1.4 -12.1l-11.6 -0.4l-0.5 11.2l12.2 2.6l1.3 -1.3l12.3 -0.5l-1.2 -10.1M905 152.5l0 0l2.3 -60.7M916.7 166.3l-0.4 9.6l-11.2 1.2l-2.5 -11.1l1.9 -2.3M905 152.5l-11.6 -0.5M892.2 153l-1 10.7M893.9 166.1l8.7 -0.1M893 179l10.9 -0.4l1.2 -1.5M893.2 190.2l12.4 0.1l-1.7 -11.7M891 204.9l3.2 -3.6M893.1 213.9l10.3 -0.1M916.3 175.9l2.1 2l-0.9 11.6l-0.7 0.6M905.6 190.3l0.9 1M904.7 201l1.2 2M943.4 189.3l-0.4 -0.5l-13.1 3l0.8 9.8M968.2 251.4l-1.3 1.8l2.5 9.8l10.3 0.3l1.2 -11.9M981.2 251.1l9.7 0.5l2 -11.7l-1.2 -1.6M980.1 239.6l0.7 -0.8M956.3 303.6l12 -2.4M954.4 291.4l1.6 -1.2M981.7 291.1l9.8 -1.3l0.8 -10.3l-1.5 -1.7l-10.8 -0.8l-0.5 12.1M980.2 302.9l11 1.4l1.2 10.3l6.6 0.6l3.5 -2.7l-1 -9.2l-8.7 -0.4l-1.6 1.4M966.9 290l-0.5 -0.6M979 315.4l1.4 1.4M980 277l-0.1 -0.1l-11.3 -1l-0.5 -10.9l1.3 -2M990.8 277.8l2.1 -12l-1.9 -2l-9.4 1.1l-1.7 12M991.5 289.8l1.6 1.5l-0.3 11.6M992.3 279.5l9.2 -1l1.3 11.9l-0.7 0.7l-9 0.2M966.9 253.2l-11.6 0.4M979.7 263.3l1.9 1.6M968.6 275.9l-1.5 1.4M968.1 265l-13.6 0.7M954.2 266.1l0.6 9.3M999 315.2l4.3 9.7l8.6 -1M1002.5 312.5l10.2 1.3l-0.7 10M992.4 314.6l-0.4 0.5M1001.5 303.3l2.6 -1.8l-2 -10.4M1035.7 264.5l1.3 1.4l11.5 -1.9M1023.8 264.5l-0.4 0.4l-11.6 -3.1l1 -9.5M1037 265.9l-1.1 9.8l-10.6 1.6l0.2 11.9l11.9 0.5l0.5 -0.4l-0.9 -12.5l-1.1 -1.1M1087.7 311.6l12 0.4M1086.1 313.7l2.2 10.2M1085.9 349.6l12.2 0.8M1084.7 361.1l2.6 13.5M1085.9 360l11.6 2.4l0.8 -0.7M1098.2 337.6l0.3 0.2M1098.9 325.7l12.1 -0.2M1086.2 326.4l-11 -1.9M1097.1 323.9l3.2 -11.3M1110.6 360.1l12.7 3M1109.6 361.1l0.8 13.5M1123.2 372.2l3 3l5 2.1l-6.3 10.2l-4.9 -0.1l-1.1 -1.2l0.1 -2l7.2 -9M1110.4 336l1.4 -9.5M1097.5 362.4l-0.4 9.5M1102.2 376.6l6.2 -0.4M1110 375.1l9 9.1M1110.5 388l8.4 -1.8M1074 387.5l-0.4 8M1085.2 387.4l0.7 0.8M1086.9 394l-8.6 7M1064 407.9l1.3 -1M1051.9 404.8l-0.5 -1M1262.3 273.5l1.6 -5.4l10.1 -3.5l-2.5 -26.9M1267.7 283.4l3.6 0.8l12.4 -7.6l1.1 -4.8l-0.9 -1l-9.9 -6.2M1263.6 286.3l-2.3 9.7l-7.5 1.5l-0.6 -0.5l-0.5 -10.2l0.7 -0.7M1340.8 226.8l-8.9 4.2l-0.3 11.6l7.1 3l3.2 -0.7l1.7 -10.7l-2.8 -7.4l3.1 -6.6l5.7 0.6M1331.9 231l-3.8 -3.3l-3.7 -9.4l5.1 -2.2l13.5 3l0 -9.5M1343.6 234.2l13 -3M1341.9 244.9l4.1 1.2l1.9 11.7l5.3 2.1l3.7 -3.2l0.3 -4l-10.6 -6.8l-0.6 0.2M1338.7 245.6l-2.6 11.2l-8.5 3.2l-2 -1.5l0.9 -13.4l0.8 -1.4l4.3 -1.1M1239.1 369.5l2.6 3.7l9.1 -1.2l-0.1 13l-9 0.3l-2 -1.9l2 -10.2M1230.7 371.1l-4.1 3.7l6.4 8.6l6.7 0M1229.8 361.2l1.6 -11.1M1241.2 360.4l9.6 1.1M1239.8 352.5l2.2 -2.4l1.4 -8.3l-9.7 -1.8l-3 9.6M1221.1 361.2l-1.6 2M1261 395.1l-8.2 -0.4l-1.5 -9.4l9.9 -2.1l-0.2 11.9l0.8 0.8M1252.8 394.7l-2.7 3.7l-8.7 -3.1l-0.4 -0.5l0.7 -9.5M1261.2 383.2l2.6 -2.2M1251.3 385.3l-0.6 -0.3M1251.2 371.8l-0.4 0.2M1252.8 360.1l-1.1 -7.7M1262.4 373.5l3 3.3M1270.6 390l-1.4 4.2M1261.2 265.1l2.7 3M1248.8 274.1l-5.1 0.7M1283.9 270.8l1.3 -25.1l6.4 1.6l1.3 3.5l11.3 13l-2.4 5l-12.5 1.2l3.6 -19.2M1300 430.6l-14.9 0.5M1270.4 438.8l-8.4 2.3l0.3 10.8l7.4 0.6l1 -13.3M1269.6 429.9l-9.6 -3l-4.2 3.3l-9.8 -8.9l-3 4.4l3.1 7.2l8.6 -0.6l1.1 -2.1M1262 441.1l-5.8 -1.8l-2.9 3.4l2.3 11.2l0.9 0.9l5.8 -2.9M1269.7 452.5l3 2.6l-4.8 11.2l-6.3 1.3l-5.3 -9.4l0.2 -3.4M1267.9 466.3l3.2 2.2l4.6 9.5l-4.7 4l-10.3 -4.9l-0.8 -6.7l1.7 -2.8M1272.7 455.1l9.4 -0.7l-0.6 11l-10.4 3.1M1256.3 458.2l-10.5 4.9l1 8l-7.6 2.6l-2.3 -10.1l8.1 -1.1l0.8 0.6M1261.9 405.1l-1.4 1.2l-6.6 -0.4l-3.4 10.8l8.9 3l2.6 -3.5l-1.5 -9.9M1267.2 416.5l-5.2 -0.3M1128.9 392.5l-4 -5M1136.5 398.5l7.3 2.9l3.7 -4.5l-4.6 -7.9M1135.1 399.1l-0.3 7l-7.6 0.2M1144.8 386.9l10.5 0.9l-3.2 9.4l1.4 1.1l9.5 -2.2l0.1 -5.3l-7.1 -3.5l-0.7 0.5M1131.2 377.3l0 0M1147.5 396.9l4.6 0.3M1143.8 401.4l0.1 3.2l-6.9 4.1l-2.2 -2.6M1119.7 396.7l0.3 -9.3M1106.2 426.4l3.9 -2M1109.4 441l10.5 2.7l0.4 -9.5l9.6 0.3l0.8 0.4l-5.5 8l-3.4 1.6l-1.7 -0.6l-0.2 -0.2M1108.1 437.2l9.8 -5.9l2.4 2.9M1176 545.8l-6 -4.8l-0.3 -5l0.9 -1.3l9.2 -2.1l4.5 10M1173.5 554.7l-1.5 2.4l-9.7 -1.4l-0.3 -9.1l8 -5.6M1185 553.9l-2.7 12.4M1198.7 544.9l4.9 -1.1l3.2 1.2l2.4 12.8M1192.8 538.9l1.3 -7.3l-12.7 -1.8l-1.6 2.8M1194.1 531.6l1.2 -1.6l-0.7 -6.9l13.9 -1.7l0.2 0l-0.7 9.5l-1.9 0.7l-10.8 -1.6M1181.4 529.8l-1.6 -9.2l-0.5 -0.3l-3.4 0l-6.7 2.6l1.4 11.8M1169.7 536l-9.8 -2.5l-3.7 -3.6l5.9 -8.4l-8.6 -5.1l-4.4 3l-1.9 -0.9l-3.6 -9.7l-5.4 2.6l-2.1 9.4l11.1 -2.3M1099 469.7l7.2 0.9l1.9 9.8l-9.7 -1.6M1090.6 485.5l1.4 3.6l8.6 2.9l-3.2 6.6l-6.8 1.6l-2.7 -2.4l4.1 -8.7M1097.4 481l5 10l-1.8 1M1143.6 508.8l1.9 -2l-0.2 -2.5l-7.3 -5.1l0.6 -6.3l-3 -3.3l-6.9 0.6l-2.4 -9.5l9.3 -1.1l2.5 5.4l-2.5 4.6M1138.2 511.4l-6.2 -4.3l1.5 -5.6l4.5 -2.3M1136.1 520.8l-0.2 0.3l-6.4 0.1l-4.4 11.2l10.6 2.8l3.9 -7.1l-3.7 -7M1349.1 442.3l8.4 4.8M1350 457.4l-6 9.4M1337.5 467.6l0 0.1M1350.9 470.7l-0.8 8.6M1321.8 480.5l0.3 8.2l-5.3 5.7M1336.4 478.8l0.5 0.9l-5.6 12.4l-9.2 -3.4M1321.9 468.2l-0.8 -1.3M1307.6 493.4l-8.4 -0.9l-0.4 10.4M1311.8 478.2l-2.8 -1.8l0.1 -13.3M1328.8 503.8l4.1 -1.8l-0.1 -7.2l-1.5 -2.7M1310.1 569.1l-8 -6.2M1313.4 556.8l-10.8 1M1300.7 527.3l-5.1 -9.6l1.3 -2.5M1297.8 533l-9.2 -5.2l-6.8 6l-7.9 -5.1l-0.5 -8.2l4.3 -3.5l0.8 -0.3l10.1 4.4l0 6.7M1303.2 542l-4.4 11.8M1298.3 538.3l-11 3.5l2.6 13.5M1295.6 517.7l-7 3.4M1336.9 479.7l5.9 3.4M1332.9 502l5.9 3.1l-0.1 10M1332.8 494.8l12.3 -4.6M1352.2 513.5l-3.8 -8.8l12.1 0.4l-0.9 9l-7.4 -0.6l-3.1 3.5M1348.4 504.7l-1.8 -2l-7.8 2.4M1359.6 514.1l4.3 3.6l-6.9 11.9M1360.5 505.1l3.2 -5.2l-2.7 -4.9M1363.9 517.7l8.1 -0.6l-1.1 -12l11 -4.1l0.8 -7.3l-5.2 -1.2l-10.2 8.8l3.6 3.8M1349.3 526.5l3.4 3M1346.6 502.7l3.4 -7.8M1132.9 463.1l4.3 -2.7l7.6 2.9l0.3 9l-0.2 0.2l-7.1 0.7l-3.6 -2.5l-1.3 -7.6l-6 -2.3l0.2 -8l6.7 -2.9l3.8 6.2l8.7 -4l0.5 9.3l-2 1.9M1137.2 460.4l0.4 -4.3M1134.2 470.7l-8.7 3.6l-0.1 5.5l0.9 0.9M1144.9 472.5l0.3 9.8l-0.3 0.8l3.2 6.1l5.1 0.4l1.4 -1.2l1.1 -6.7l-0.4 -0.5l-10.1 1.1M1145.1 472.3l6.5 0.4l4.2 -9.3l8.4 2l-0.1 3.4l-2.5 3.3l-8.4 1.7l-1.6 -1.1M1137.8 473.2l-2.2 6.4M1146.3 452.1l0.6 -1.4l-1.8 -3.9l1.2 -1.9l9 -1.2l2.4 1.7l-2.6 6.5l-8.2 -1.2M1146.8 461.4l7.3 -0.2l2.2 -7.5l4.9 0.9l3 -2l7.4 2.6l-0.8 6.4l-5.5 2.4l-4.1 -9.4M1217.5 554.9l0 -0.1l-3 -11.9l-7.7 2.1M1221.8 565l8 -0.2l3.1 -9.5l6.5 -2l7.5 13.3l-3.9 4.1l-12.3 -4l-0.9 -1.9M1220.2 566.6l-1.7 10.7M1210.4 511.4l6.5 0.5l2 9.2l-9.5 -0.3l1 -9.4l-0.7 -0.8l0.9 -10.7l7.2 0.8l2.9 -2.5l-2.9 -9.1l-8.5 5.2l-0.3 4.2l1.6 1.4M1216.9 511.9l4.1 -3.5l5.4 1.6l-0.4 7.7l-6.5 3.8l-0.6 -0.4M1209.4 520.8l-0.7 0.6M1203.6 543.8l2.5 -12.2M1217.5 554.8l9.4 -2.9l-1.2 -7.9l-7.8 -5.7l-3.4 4.6M1221 508.4l-3.2 -7.7M1226 517.7l6 3.6l5.6 -5l-1.2 -4.9l9.2 -5.2l3.8 2.4l-1.6 6l7.2 5.7l-4.8 6.1l-7 -7.4l0 -0.1l4.6 -4.3M1226.4 510l1.3 -0.8l1.8 -11.5l6.4 1.2l0.6 0.4l-1.5 11l-7.3 -1.1M1219.5 521.5l1.8 9.4l-3.6 3.9l0.2 3.5M1217.8 489.1l0.3 -0.8l9.4 -0.3l-0.3 -7.6l10.4 -1.8l2.3 4.6l-1.7 4.3l-9.7 1.9l-1 -1.4M1220.7 498.2l7.5 -1.9l1.3 1.4M1209.3 494.3l-2.2 -5.1l5.4 -6.6l3.6 1.5l2 4.2M1209 498.5l-7.8 1.6l-3.6 -11l-6.7 1.5l-1.3 1.6l1.4 5.3l9.9 2.9l0.3 -0.3M1209.7 510.6l-8 0.5l-0.6 3.9l-6.9 7.1l-4.5 -3.5l-9.9 2M1269.6 532.8l-10.1 -1.5l-1.8 1l4.2 12.1l6.5 -0.8l1.2 -10.8l4.3 -4.1M1259.5 531.3l3.3 -13.9l-7.8 2.9M1268.4 543.6l5.1 4l1.4 11.2l2.2 1.8M1261.9 544.4l-1.4 0.9l-6.2 -0.2l-3 -3.8l3 -9.1l-4.1 -3l0 -2.8M1257.7 532.3l-3.4 -0.1M1243.2 518.9l-5.6 -2.6M1243.2 519l-4.7 9.9l5.8 3l5.9 -2.7M1245.6 506.2l-2.6 -6.5l-6.5 -0.4M1249.4 508.6l3.8 -0.9l8.5 5.2l1.3 4.3l-0.2 0.2M1236.4 511.4l-1.4 -1.1M755.6 196.8l-5.8 -5.1l3.7 -19.5l-19.1 -3.4l-4.1 6.1l0.1 14.8l2.9 3l16.5 -1M775.4 196.3l18.4 0.6M858.9 309.7l-13.4 -3.1l-1.3 -8.4l2.2 -3.2l13.8 0.2M877 302.3l13.7 1.5M876.7 315.3l15.3 -0.1M858.4 322.8l-12.5 0.2M844.2 298.2l-15.2 -2.5l1.7 -14l14.8 0.1M845.5 306.6l-1.8 2.6M846.4 295l-0.5 -12.9M860.3 280.6l-1.8 -1.3M917.9 204.9l1.2 -1.3M669.1 317.5l3 2.3M677.9 295.1l11.8 0.2M687.6 322.1l6.8 -5.2l-2.9 -20.6M980.3 353.5l12.4 -2.3l2.9 3.3l-0.2 9.8l-14.7 1.2l-0.8 -0.8M969.1 364.2l-2.7 2.3l0.8 11.1l8.5 3.2l4.4 -4.2l0.6 -11.1M981.4 340l9.1 0.8l1.1 1.1l8.3 -1.7l3.3 -3.3l-3.5 -8.8l-7 0.1l-2.2 12.6M956 352.8l-1.3 11.9M992.3 327.9l0.4 0.3M1011.2 350.1l-0.4 0.4l-5.3 -0.3l-5.6 -10M1011 337.8l-7.8 -0.9M1012.7 313.8l0.2 -0.3l-2.1 -11.1l-6.7 -0.9M1003.3 324.9l-3.6 3.2M1009.6 404.1l-0.8 -0.9l4.8 -6.5l10.8 -0.2l2.3 2l0 7.3M1036.7 408.1l6.4 -7.3l-7.1 -6.1l-9.3 3.8M1043.1 400.8l4.1 -0.1M1036 394.7l0.2 -7.9l1.9 -1.6l10.7 0.7M1061.2 394.5l5 4.1M996.3 589.6l9.2 -2.9l0.7 -0.7M992.4 608.5l14.4 4.7M994.7 601.9l10.7 -0.4M1012.1 650.9l3.7 10.8l-13.4 3.8l-0.9 10.3l-7.3 1.4l-6.6 -10.5l3.7 -6l8.1 0.5l3 4.3M1013.8 648.6l12.1 0.3M1055.5 626.7l1.7 10.6l-1.8 1.5M1047.4 651.8l-2.7 9.8l10.7 5.4l1.1 7.6l-14.8 3.2l-3.1 -2.1l4.4 -13.3l1.7 -0.8M1043 644.4l-0.1 0M1058.7 652l-3 14.6l13.3 -5.1l-4.6 -10.2l-4.4 0M1057.2 637.3l10.4 -1.1l-0.2 -9.1M986.7 649.9l-1 0.8l-5.1 -0.3M1002.9 652.1l-3.5 9.1M975.7 703.6l4.2 2.6l-4.2 12.1M979.3 690.3l7.1 -0.6l3.3 15.3l12.4 -3.2l0.6 -0.8l-1.7 -8.1l-13.1 -4.6l-1.5 1.4M966 677.5l3.1 -11.5M972.4 679.6l7.6 -4.3l0.9 -7.7l-4 -3.1M987.9 728.7l1.9 -3.4l-1.3 -6.6l-11.2 1.3M990.8 739.7l0.6 0.2M1002.3 751.9l5.9 2.8l-2.7 10.8M1000.9 737.6l0.4 -0.5l0.4 -7.2l-11.9 -4.6M1008.2 754.7l6.7 -2.6l3 15.8l-3 3.3M268.3 292.5l1.7 -2M249.1 292.5l-1.4 -0.8M254.4 313.3l-0.2 0M235.8 293.4l2.9 21M254.3 275.7l13.2 4.7M283.9 434.4l-14.9 3.8l3.5 14.8M287.1 420.6l-16.2 -6.5M252.8 455.5l-2.8 -14.9l14.2 -4.9l4.8 2.5M271.5 404.4l-1.6 3.6M250 440.6l-0.2 -0.1M264.2 435.7l1.3 -16M233.7 416l3.5 3.7M237.4 399.7l11.7 1.5M246.1 420.6l3.2 -3.2M288.3 203.8l13.7 1.8l6.5 9.4M288.5 188.3l18.4 2M728.8 151.1l2.3 2l18.9 -1.2M693.8 232.7l16.5 1.4l2.8 2.3M691.1 257.7l5.7 14.7M691.3 257.5l22.7 -3.4l0.8 -0.9M734.5 301.1l-2.4 3.2l-15.6 -3l-5.6 -10.5M733 277.9l-0.4 -0.1l-2.1 -22.1M758.3 314.9l-3.6 3.8M731 342.2l2.7 -4.2M709.2 338.9l3.2 -15.5l-3.8 -4.9l-14.2 -1.6M858 264.5l0.1 -14.7M844.9 264.5l-0.6 -14.5l2.2 -2.4M843.3 265.7l-12 -0.3M829 295.7l-1.1 0.9l0.1 13.5l-13.3 0.1M830.7 281.7l-1 -1.2l1.2 -14.8M844.2 236.8l-11.6 -0.4l-4 12.8M844.3 250l-13.3 1.5M816.1 264.6l-1.9 14.9M816.4 248.7l-2.6 -13M829.7 280.5l-15.1 -0.6M832.6 236.4l-4.2 -4.7M815.8 295.6l12.1 1M828 310.1l2 2.4M714.3 212.6l-4 21.5M712.3 190.3l0.6 -0.9l-6.5 -14M729 210.8l4.3 -18.1M775.9 383.4l2.7 16l1.9 2.1M772.3 381l-11.1 3.1M758.5 386.5l-0.5 9.9M794.9 426.7l-1 0.9M710.7 635.6l0.2 0.2l11.7 -2.1l0.8 -10.4l0.2 -0.1l12.9 0l1.6 10.8l-0.7 0.7l-13.6 0.1l-1.2 -1.1M709.9 622.3l0.9 -0.8l1.4 -11.9l-1.3 -1.5l-12.4 2.2M697.2 647.7l1.1 1.2M697 609l0.9 -12.3M709.9 583.8l2 -1.4M723.3 595.9l0.3 0.3l2.6 12.5l9.8 0.8l0.9 -0.8l1.8 -12.5l-1.9 -1.8l-13.2 1.8M710.9 598.1l0 10M726.2 608.7l-2.1 1.7l-11.9 -0.8M736 609.5l1.2 12.6l13.6 -1.4l-1.2 -10.8l-12.7 -1.2M738.7 596.2l10.3 -1.1l1 -11.1l-1.7 -2l-11.7 0.4l-0.9 0.8l1.1 11.2M724.3 568l3.2 -1.9M725.4 581.9l10.3 1.3M749 595.1l1.7 1.4l1.2 10.9l10.3 0.8l1.6 -11.5l-2.1 -2l-11 1.8M750 584l11.6 -0.9l0.1 -14.5l-7.7 -2.1l-4 1.6l-1.7 13.9M736.6 582.4l0.8 -15.1M761.6 583.1l1.2 1.3l12 -0.2l0.3 -0.5M750 568.1l-9.8 -2.2M754 566.5l-0.4 -16l0.1 -0.1l14 -0.1l0 0l13.3 0.7l0.1 0.1M761.7 568.6l4.8 -1.8l1.2 -16.5M787.9 568.8l8.5 -2.7l-1 -14.7M788 582.2l1.3 1.3l13 -1.2l0.1 -0.2l-0.4 -13.6l8 -2.8l5.8 1.9l-0.4 14.8l-13 -0.3M774.3 569l-7.8 -2.2M781 551l1.2 -13.6l12.1 -1M767.7 550.3l-0.4 -14l-0.2 -0.2l1.2 -12.5l12.7 0l0.8 13.4l-14.5 -0.7M753.7 550.4l0.5 -14.2l-0.4 -0.3M753.6 550.5l-12.3 -0.4l-1.1 1.1M726.8 538l13.4 -1l1.1 13.1M726.7 538.1l0.8 12.4M727 523.7l12.4 0.8M955.4 611.8l-0.4 0.2M957 600.8l-4.3 -4.2l3.7 -11.3l-1.8 -2.4l-13.1 -0.6l-2 5.1l1.7 7.6l3.5 2.8l8 -1.2M965.5 600.5l-0.6 -15.2l1.8 -0.7M891.2 726l-11.2 -0.5M894.7 712.2l-14.7 0.4l1 -11l12.6 -1.9l-1.6 -10.8l-10.9 -1.7l-1.6 12.6l1.5 1.8M896.8 710.6l0.7 -5.5l-1.1 -2.7l13.1 -12.9l2.9 0.3l1.7 2.2l-0.2 11.2l-16.4 1.9M927.1 704.6l2.8 -4l8.7 0.4M915.9 706.2l-2 -3M966.2 651.5l-2.5 -1.1M980 675.3l9.8 6.4l-1.9 6.6M980.9 667.6l6.7 -0.9M951 670l-11.6 13.5l0.2 1.3l1.9 1.9M949.7 665.2l-9.8 0.3l-3.4 14.3l-11 -5.1l2.3 -11.1l8.2 0l3.9 1.9M985.7 650.7l5.6 10M928.2 637.7l9.7 -3.1l1.5 -10.8l-11 -3.6l-5.9 8l5.7 9.5l-0.9 1.8l3.3 9.7l7.1 0.8l4.9 -11.7l-4.7 -3.7M922.5 628.2l-5.7 -0.5l-0.8 0.6l-5.5 8.4l-7.6 -2.7l0.8 -10.5l12.3 4.8M939.4 623.8l1.7 -1.3M928.4 620.2l-2.6 -7.1l-12.2 1.2l3.2 13.4M948.8 653.4l-9.6 -1.7l-1.5 -1.7M949.8 639.8l-7.2 -1.5M927.3 639.5l-13.6 5l-1.3 3.9l15 5.7l3.2 -4.9M939.2 651.7l-3.2 11.9M913.7 644.5l-3.2 -7.8M927.4 654.1l0.4 9.5l-14.1 -2.3l-2.7 -11.3l1.4 -1.6M929.9 700.6l-3.3 -7.7l-12.5 -0.9M796.4 566.1l5.6 2.4M795.2 537.2l13.6 -0.6l0.3 -12.9M782.2 537.4l-0.4 -0.4M795.8 550.9l13.2 -0.9l1.2 -11.9l-1.4 -1.5M762.8 584.4l-1.1 10.3M774.8 584.2l1.7 12l-0.7 0.8l-0.1 11.7l0.1 0.1l13.4 1.2l-0.5 11.4l12.7 1.2l0.8 -0.8l-1.3 -12.9l-11.7 1.1l0 0M737.2 622.1l-0.7 1.1M750.8 620.7l1 0.9l-2.3 13.5l12.4 1.2l1 -1l0.1 -12.9l-0.7 -0.6l-10.5 -0.2M749.6 609.9l2.3 -2.5M863.1 455.2l-13.2 -0.3l0.9 -14.6l12.6 1.4l-0.3 13.5l0.6 0.6l-0.2 12.1l0.9 0.9l-0.3 13.2l0.9 1.1M849.9 454.9l-0.8 0.6l1.3 13.5M863.4 441.7l0.9 -0.7l0 -13.7l-1.1 -1.1l-12.9 1.6M850.8 440.3l0 0M837 441.5l-0.6 12.2l1 1.2l-1.9 13.4l-12.4 -0.6l-0.3 -12.5l1.1 -1.2l12.5 -0.3M849.7 412.9l-12.9 0.4l-0.5 0.5M863.2 414l0 12.2M850 401.7l-6.1 -5.5M879.1 402.2l12.7 0.3M878.2 414.6l0.3 0.5l-1.8 11.5l2.9 4l12.1 -3l-0.8 -11.2l-12.4 -1.3M864.3 441l13.9 0.4l1.5 10.2l-1.6 3.1l-14.4 1.1M864.3 427.3l12.4 -0.7M809.1 467.9l13.3 0.4l0 14l-0.5 0.5M808.8 467.7l0 -12.1l-12.6 -1.7l-2.2 2.1l1.5 12.7M782.3 468.9l-1.2 -1.2M794 456l-12 -0.8l-0.7 0.6M796.2 453.9l-0.3 -12M808.8 455.6l0.8 -0.8l0.7 -12.8M822.4 482.3l13.6 -0.4M822.4 468.3l0.7 -0.6M754.6 508.7l-1.6 -12.4M753.4 510l-12.5 0.9M754.6 522.6l-1.3 1.4M767.5 522.7l0.8 0.9M782.5 522.1l-1.5 1.5M740.4 482l0.2 0.2M740.5 468.8l0.8 -0.7M754.8 468.3l11.6 -0.1M753.5 481.7l-0.1 0.1M768.5 441.6l11.7 -1.6M782 455.2l0.7 -12.8M893.6 699.7l2.8 2.7M892 688.9l6.1 -6.3l11.4 6.9M881.1 687.2l-1 -1l0.6 -10.8l12.9 -1.8l4.2 6.1l0.3 2.9M879.5 699.8l-11.1 -0.8l-0.2 -11.2l11.9 -1.6M737.9 700.3l13.4 -0.1l-0.3 -12.5l11.8 -0.3l1.4 11.9l-1.4 1.7l-11.3 -0.5l-0.2 -0.3M749.9 712.7l0.4 -0.4l12.5 1.5M724.7 673.4l0.1 -12l12.5 -1.1l0.2 -0.1l-1 -11.6l-1 -0.9l-10.8 0.4l-1.3 1.1l0 10.6l1.4 1.6M736.7 673.6l0.6 -13.3M737.1 673.9l12.2 -1.1l1.7 -10.9l-0.6 -0.8l-12.9 -0.9M738.1 687.7l12.2 -0.7l0.6 -12.4l-1.6 -1.8M814.4 727.4l1.7 -1.8l12.2 -0.2M802.3 725.3l0.5 -11.9l12.5 0.5l-0.3 -13.8l-11 0.5l-1.4 12.7l0.2 0.1M777.3 726l-1.1 -0.9M788.2 724.8l0.8 -12.2l0.5 -0.5l13.1 1.2M1227.2 591l1.8 2l12.8 -8M1215.1 591.1l-0.9 0.7l-7.8 -1.3l1.7 -15.2M1217.8 577.6l-9.2 -2.8M1227.6 578.7l3.1 -12M1206.4 590.5l-1.2 0.3l-6.9 -1.3l-2.9 -10.7M1214.2 591.8l1.2 7.4l-10.4 4l-1 -1l1.2 -11.4M1241 580.4l0.4 -0.6l14.3 -0.3M1229 593l1.8 5.8l8.5 2.7l2.9 -15.8M1252.2 590.9l-0.5 7.6l-12 3.5l1 9.9l10.8 -1.9l0.3 -11.5l-0.1 0M1241.4 579.8l1.6 -9.1M1281.1 697.5l-2.1 4.2l0.8 8.9l11.3 3.6l0.4 12.5l2.8 2.2l19.9 0.7M1279 701.7l-15.9 -0.6l-0.6 -0.4l0.5 -6.7l5.2 -4.9l6.6 1.3M1279.8 710.6l-0.7 0.7l-3.3 16.5l2.1 1.6l13.6 -2.7M1385.6 491.6l-2.9 2.1M1322.1 828.4l3 -1.9l7.8 2.9M1310.8 828.1l-3.1 -5.9l1.9 -6.6l15.5 -0.5l0 11.4M979.9 706.2l8.8 0.4l1 -1.6M1002.1 701.8l3 15.5l-14.7 -1.6l-1.7 -9.1M1001 692.9l3.3 -4.4l0.9 -10.2l-3.7 -2.5M1002.7 701l13.7 -0.5l0.3 -7.5l-12.4 -4.5M989.8 681.7l4.4 -4.5M1067.6 636.2l2.8 3.3l-4.8 10.6l-1.2 1.2M1070.8 615.9l12.1 -1.1l0.2 7.9l-2.6 5l-10.3 -4M1132.5 722.2l-15.9 -8l-2.5 1.5l-7.9 -2.2l-1.4 -9.3l-10.3 -0.2l-2.5 10.4l1.3 1.8l11.5 -0.8l1.4 -1.9M1116.6 714.2l2.7 -10l-2.3 -1.9l-11.8 1.5l-0.2 -12.9l-1.1 -0.6l-11 1.1l-2.4 2.1l2.4 9l1.6 1.5M1159 349.6l0.5 -0.5l11.3 2.5l2.6 -3.1l12.1 -0.2l0.5 0.5M1157 376.4l-1 10.9M1159.2 374.2l14.7 0.2l0.3 0.3l-8 9.1l0.9 4.1l6.2 1.1l4.3 -12.5l-3.4 -1.8M1157.5 376.1l8.7 7.7M1160.4 363.5l11.3 -2.1l2.2 13M1173.3 389l0.4 0.6l11.4 -1.8l-5.7 -11.3l6.3 -3.4l10.3 3.6l-5.6 10.2l-5.1 1l-0.2 -0.1M1167.1 387.9l-4 2.9M1177.6 376.5l1.8 0M1171.7 361.4l0.3 -0.3l-1.2 -9.5M1196.8 360.4l0.2 0.3l0.4 15.3l-0.7 0.6l-0.7 0.1M1185.7 364.1l0 9M1182.4 360.5l-10.4 0.6M1173.4 348.5l-2.2 -10.9l12.6 -0.4M1185.5 348.3l-0.4 -9.6M1159.5 349.1l-0.3 -9.6l-10.6 -2.5M975.1 434l-1.7 -1.6l-0.3 -13.7l1.1 -0.6M975.6 460.7l0.1 7.2M966.9 446l-5.4 -5.1l-12.9 5.6l-4.2 -9.4l1.5 -7.2l13.7 0.6l2.5 3.1l-0.6 7.3M973.1 418.7l-9.2 -0.5l-4.3 12.3M973.4 432.4l-11.3 1.2M977 405.9l-1.1 -2l1.8 -11.3l-1.1 -1.2l-15 0.8l-2 1.5l2.8 10.2l13.5 0M995.6 354.5l9.9 -4.3M992.7 351.2l-1.1 -9.3M995.4 364.3l1.2 1.3l15.2 -3.1l-1 -12M1013.5 494.2l14.3 1.4l-3.7 -11.5M1028.9 478.5l9.7 5.2M1027.8 495.6l0.1 0.1M988.2 484l-1.9 -3.5M1078.1 518.8l-3.1 4.1l-9.7 -0.9l-0.9 -0.9M1077.5 505.1l2.8 -8.3l-1.3 -2l-0.7 -11.4M1088.4 510.8l2.6 -4.1l-0.4 -6.5M1085.1 518.4l2.8 4.9l11.7 -1.9l2.6 6.3l-0.4 1.4l-1.8 2.6l-5.6 0l-6.2 -2.9l-0.3 -5.5M1088.5 513.7l9 2.8l1.4 -8.4l2.6 -1.5l6 6.8l-7.9 5.3l-2.1 -2.2M917.5 364.7l0.4 0.4l-2.4 11l1.9 2.5l11.3 -1l0.2 -12.4l-11 -0.1M943.6 502.6l-1.2 1M893.1 378l-0.3 12M906.4 375.5l9.1 0.6M903.1 378.7l3 11.4l-1.4 1.4M836.8 413.3l-0.9 -13.6M823 400.6l6.7 -2.9M1063.8 510.6l-11.4 -1.3l0.2 13.5M1065.3 522l-2 10.7l14.1 1.3l-2.4 -11.1M1067 508l-2.2 -10.7l0.6 -0.7l13.6 -1.8M1052.4 509.3l-2.4 -2l-7.1 1.3M1036.3 493.5l2.1 -2.3M1050 507.3l2.9 -11.6l11.9 1.6M1398.1 185.7l5.1 -16.2M1395.6 199.1l5.9 7.4M1381.5 215.2l-0.8 2.2l2.7 12l-3 3.3l-15.3 -3.3M1396.1 214.3l2.4 8.3M1409.2 294.4l6.1 -0.1M1409.2 294.4l-0.3 0.2l-0.9 6.9M1409.2 294.4l1.2 -9.1l1.5 -1.6l-4.2 -7.9l1.9 -1.8l7.9 1.9M1408.9 294.6l-9 -3.2l-0.7 -4.6l0.7 -1.7l10.5 0.2M1409.6 274l1.1 -4l-3.7 -6.9l-6.7 7l-0.2 0.5l-8.9 -4.5l-1.3 1.8l2.6 8.3l0.8 0.8l5.8 0.7l1.5 -1.6l-0.5 -5.5M1407.7 275.8l-7.1 0.3M1411.9 283.7l2.8 0l3.3 8M1432 285l-15 -2.7M1399.9 285.1l-0.8 -7.4M1399.9 291.4l-2.5 3.2l0.4 5l5.2 3.8M1399.2 286.8l-10.3 0l-1.5 -3l5.9 -6.8M1373 356.9l0.7 -1.5l6.7 -3.3l-0.4 -5.2l-7.3 -3.4l-0.3 -2.2l3.2 -5.3l6.4 -0.3l1.2 1.2l-1.5 8.4l-1.7 1.6M1363.2 362.9l-10.7 -0.5l1.4 -7.7l7.8 -0.4l2.4 4.5M1373.7 355.4l-4.5 -7.9l-5.9 1.2l-1.6 5.6M1314.8 357.9l12.4 -5.7M1313.2 356.7l6.1 -11.9l-2 -5.9l-2.9 -2.2l-12.7 6.9M1304.2 263.8l5.4 -4.5l-12.7 -14.3l4 -3.1l8.7 0.4l3.3 12.4l-0.5 3.2l-2.8 1.4M1301.8 268.8l3.8 5.9l-2.1 9.6l-15.8 -1.4l1.1 13.8l-5.2 4.6l-8.2 -4.3l-4.1 -12.8M1289.3 270l-4.5 1.8M1291.6 247.3l5.3 -2.3M1283.7 276.6l4 6.3M1275.4 297l-0.6 0.3l-10.1 13.6l-1.8 -1.4l1.1 -11.2l10.8 -1M1283.6 301.3l0 0.7l-16.3 13.1l1 6.7l1.6 2.9l6.3 1.7l4.5 4.3M1288.8 296.7l10.8 0.3l5 -4.1l0.2 -4.4l-1.3 -4.2M1329.8 196.9l-0.2 0.8l3.2 7.5l8.2 2.2M1330.5 195.8l12.8 -0.2M1312.4 192.4l-2.1 2.2l8.6 11.4l10.7 -8.3M1352.3 203.9l3.6 2M1347.4 193.6l7.2 -5.4l7.9 3.6M1332.8 205.2l-3.3 10.9M1343 219.1l0.9 1.1M1367.1 220.8l13.6 -3.4M1364.3 230l6.6 14.9l4 0.9l3.7 -1.5l1.8 -11.6M1357.7 232l-1.5 7l7.9 7.2l6.8 -1.3M1383.4 229.4l10.1 1.4M1378.4 180.3l4.5 -6.1M1370.3 178.1l-2.7 -2.2l-13.2 6.1l-2.5 -3.6M1354.6 188.2l-0.2 -6.2M1396.3 234.7l-4.9 9.5l3.4 4.7l3.4 1.8l-1.9 8.6l-4.3 1.8l-0.8 5M1405.7 239.2l1.8 5.3l9.2 -1.4l6.8 -9.5M1443.3 255.3l-7.8 6.6l-8.5 -7.4l6.5 -9.4M1379.6 166.6l-14.3 1.5l2.3 7.8M1232.7 338.2l1 1.8M1242 350.1l8.8 1.1M1243.4 341.8l0.7 -0.7l5.5 -1.9l1.4 -8.2l-0.8 -1l-11.7 -1.7l-0.4 0.3l6 12.5M1262.5 343.4l2.8 -13.9l4.6 -4.8M1253.2 342.1l-3.6 -2.9M1160.7 287l31 4.1M1159.2 339.5l7.3 -6M1134.4 326.9l-10.9 -1.4M1110.3 313.7l-0.6 -0.5M830.4 203.9l-14.5 2.8l0.9 11M831.4 205l-2.3 15.4M917.5 189.5l11.7 1.5l0.7 0.8M918.4 177.9l11.2 -1.2l1.6 -11.3l10.3 -0.8l2.5 13.5l-1.7 1.9l-11.5 -2l-1.2 -1.3M955.1 165.8l-1.2 -1.1l8.5 -74.2M954.6 176.6l-10.6 1.5M953.9 164.7l-11.1 -1.4l0.6 -25.6M990.9 251.6l1.6 1.9l6.5 -0.2l4.4 -3.2M992.9 239.9l8.8 1.3M1012.9 313.5l10.6 -2.2M1010.8 302.4l2.5 -2.4l9.7 1M1240.1 271.3l-27.5 5.1M1252.7 286.8l-10.6 0.3l-1.8 7.5l-5.8 1.7l-11.9 -14.9M1276.2 326.4l10.7 -15.7l-3.3 -8.7M1265.3 329.5l-14.3 1.5M1286.9 310.7l12.7 5.8l4 -3.6l8.9 -1.1l2.5 2.7l3.8 9.1l-0.3 1.3l-4 4.4l-15.6 -4.5l0.7 -8.3M1267.3 315.1l-2.6 -4.2M1268.3 321.8l-17.7 -2.5l-0.4 10.7M1261.3 296l2.7 2.3M1253.2 297l-9.6 0.5l0.3 9.3l10.2 1.5l-3.7 10.7l0.2 0.3M1253.8 297.5l1 10.4l-0.7 0.4M1318.9 206l-1.8 8.2l-14.7 -11M1310.3 194.6l-5.8 1.4M1324.4 218.3l-6.9 -1.7l-0.4 -2.4M1328.1 227.7l-12.4 9.3l11.6 6.7M1315.7 237l-0.2 0l-1 -3l-13.7 -3l-1.5 0.9l-22 -13.9l30.5 2.1l-8.2 -14.3M1369.2 347.5l3.5 -4M1363.3 348.7l-1.4 -1.8l0.1 -8.2l2.2 -1.7l8.2 4.3M1233 383.4l-5.9 6.8l2.7 7l11.2 -2.4M1226.6 374.8l-5 -0.6l-0.5 -0.4M1250.1 398.4l1.2 5.7l-9.1 3.8l-2.3 -1.9l1.5 -10.7M1227.1 390.2l-5.5 -1.1l-4.7 9.3l-6.5 -2.6l-1.7 -6.8l1.2 -1.1l10.9 0.4l0.8 0.8M1229.8 397.2l-0.7 2.5l-10.8 1.4l-1.4 -2.7M1256.2 439.3l-1.5 -7M1255.6 453.9l-10.9 -2.1l0.9 -8.4l7.7 -0.7M1143.9 404.6l0.4 0.4l7.3 2.8l3.3 -3.4l-1.4 -6.1M1137 408.7l-0.4 4.7l-6.2 1.6M1126.9 460.8l-2 1.2l-0.1 11.6l-8.6 -2.3l3.4 -9.3l5.3 0M1127.1 452.8l-0.8 -0.5l-4.5 -7.8M1133.8 449.9l1.8 -3.8l-10.4 -3.2M1125.1 532.4l-2.2 1.1l-4.4 -1.1l-3.4 2.5l-13.3 -5.8M1135.7 535.2l1.2 4.8l11.9 0.7l2.6 -10l-2 -1.5l-0.3 -9.8M1129.5 521.2l-2.6 -1.9l-9.1 1.4l-2 4.1l2.7 7.6M1139.6 528.1l9.8 1.1M1179.3 520.3l0.6 -11.5l-5.8 -1.4l-0.5 -7.4l0.5 -0.6l7.9 2.2l0.7 0.8l-0.3 4.5l-2.5 1.9M1169.2 522.9l-5.8 -2l-1.3 0.6M1175.9 520.3l-5.3 -10.6l-6.2 -0.3l-1 11.5M1194.6 523.1l-0.4 -1M1208.5 521.4l-7.4 -6.4M1208 530.9l9.7 3.9M1189.7 518.6l0.9 -8l-8.2 -3.7M1221.3 530.9l10.1 -0.7l2.2 8.9l-7.9 4.9M1201.7 511.1l-3.4 -3.7l-5.6 1.3l-2.1 1.9M1128.7 490.2l-1.9 2.1l0 2.5l6.7 6.7M1138.1 485l6.8 -1.9M1087.9 497.8l-7.6 -1M1097.4 498.6l4.9 5.2l-0.8 2.8M1102.4 491l2.1 -0.1l3 -3l1.1 -7.1l-0.5 -0.4M1091 506.7l7.9 1.4M1104.5 490.9l5.2 8.9l4.2 -0.7l5.4 3.6l-0.6 6.4l-7.5 1.1l-2 -9.6l0.5 -0.8M1107.5 487.9l9.7 2.9l0.5 -0.3l0.1 -8.4l-4.5 -2.6l-4.7 1.3M1106.2 470.6l3.5 -2.2l-0.1 -3.8M1109.7 468.4l6.2 3l-2.6 8.1M1063.3 532.7l-0.4 0.4M1077.4 534l1.2 1.3l0.1 0.7l-4.7 10.3M1068.8 564.8l0.6 6.7M1074.9 560.7l8.2 4l-0.9 9.6l-0.8 0.4M1077.3 551.3l11 0.6l2.3 -7.5l-2.1 -3l-9.8 -5.4M1088.3 551.9l2.2 3l10.2 -2.2l2.9 11.1l-12.5 -1.5l-0.5 -0.5l-0.1 -6.9M1090.6 544.4l11.3 -2.5l-1.9 -10.2M1088.5 541.4l5.9 -9.7M1078.6 535.3l9.6 -6.5M1099.6 521.4l0 -2.7M1102.2 527.7l6.5 -3l7.1 0.1M1101.9 541.9l2.3 2.1l6.6 -0.2l4.3 -8.9M1108.7 524.7l0.1 -10.7l8.5 5.7l0.5 1M1126.8 492.3l-9.1 -1.8M1126.8 494.8l-3.9 6.3l7.3 6.4l1.8 -0.4M1138.6 492.9l6.6 -0.1l2.5 7.1l-2.4 4.4M1145.5 506.8l7.6 2.7l3.4 -10.7l5.5 0.2l1.7 2.9l0 6.6l-10.5 1.1l-0.1 -0.1M1309 476.4l-8.6 0.6l-4.4 4.4l-10.4 -3.8l0.6 -6l8.6 -7.3l3.7 1.9l1.9 10.8M1308.7 462.7l-10.2 3.5M1259.9 470.4l-12 1.3l1.3 8.5l8.9 1l2.6 -4.1M1275.7 478l8.2 0.6l1.7 -1M1271 482l-1.2 8.3l-6.7 1.2l-1.7 7.9l-6 1.8l-1.5 -2.2l0.1 -8.4l4.3 -1.7l4.8 2.6M1282.1 454.4l0.6 -0.4M1281.5 465.4l4.7 6.2M1291.9 455l2.9 9.3M1247.9 471.7l-1.1 -0.6M1258.1 481.2l0.2 7.7M1249.2 480.2l-2.3 3.1l3.3 6.7l-5 3.9l-0.9 4l-1.3 1.8M1287.3 541.8l-3.4 -1.5l-10.4 7.3M1274.9 558.8l-10.2 1.5l-4.6 -7l-7.2 1.2l0.5 8.9l9.8 -1.8l1.5 -1.3M1283.9 540.3l-2.1 -6.5M1253.2 507.7l2.2 -6.5M1263 517.2l10.4 3.3M1261.7 512.9l4.5 -8.2l3.4 -1l8.1 13.3M1293.6 509.3l-9 -4.7l-6.1 12.1M1299.2 492.5l-0.6 -0.3l-2.6 -10.8M1284.6 504.6l-0.3 -1.4l2.6 -6.5l-4.6 -6l-11.6 0.4l2 9.5l11.6 2.6M1266.2 504.7l-4.8 -5.3M1269.6 503.7l3.1 -3.1M1374 489.7l3.5 2.8M1363.7 499.9l3.6 1.4M1174.4 436.6l-0.2 -9.1l5.7 -0.5l3.1 7.4l-1.5 1.4l-7.1 0.8l-1.4 1l-9.1 -5.4l-3.6 2.7l1 8.7l3.8 1.5l6.5 -1.4l1.4 -6.1M1174.2 427.5l-3.5 -4l-6.2 2.4l-1.3 -1l-2.6 -9.7l12.8 2.4l0.1 0.3l-2.8 5.6M1181.5 435.8l3.2 10.2l5.4 -1.1l2.8 -3.6l0.8 -4.6l-5.9 -3.7l0.8 -4.4l2.5 -3.6l8.7 3.4l0.4 5.5l-0.2 0.2l-6.3 2.6M1183 434.4l4.8 -1.4M1179.9 427l1.8 -3.4l6.9 5M1226.9 551.9l6 3.4M1235.9 498.9l2.5 -11.1l6.8 6.1M1228.2 496.3l0.3 -6.9M1232 521.3l0.3 7.9l6.2 -0.3M1244.3 497.9l9.6 1.1M1238.4 487.8l-0.2 -0.3M1239.9 483.2l7 0.1M1237.6 478.6l1.2 -4.5l0.4 -0.4M1227.2 480.4l-0.1 -0.2l-5.4 -0.5l-5.6 4.4M1250.2 490l3.8 0.6M1269.8 490.3l0.9 0.8M792.2 235.2l21.2 0.1M796.9 217.3l16.2 3.6M794.6 210.2l1.4 -4.9M845 323.9l0.6 15.1M830.1 324.6l2 14.3M1038.6 373.5l-0.7 0.8l-12.2 0l-0.1 -10.3M1023.8 362.5l-11.3 0.6l-0.7 -0.6M1005.5 586.7l1.7 13M1020.3 597.6l-2.9 4M1030 655.1l-0.1 3l-5.3 5.9l-4.5 0.9l-4.3 -3.2M1070.4 639.5l8.6 0.5l4.7 -4.8l-3.2 -7.5M1065.6 650.1l13.3 2.5l1.7 3.8l-7.1 7.9l-4.5 -2.8M1055.7 666.6l-0.3 0.4M1078.9 652.6l0.8 -10.6l-0.7 -2M1073.5 664.3l0 0.1l8.2 7.8l8.6 -3.9l0.3 -11l-10 -0.9M1005.2 678.3l7.9 -0.4l5.5 11l10.2 -2.3l1.5 -5.5l-14 -6.2l-3.2 3M988.5 718.7l1.9 -3M1005.1 717.3l0.7 0.6l8.7 -2.7l3 -13.4l-1.1 -1.3M302 205.6l5.5 -12M325.2 211.5l0.1 -6.3M731.1 153.1l3.3 15.7M755 170.8l-1.5 1.4M710.3 169.8l20 5.1M712.9 189.4l17.5 0.3M714 254.1l-0.8 24.6M732.6 277.8l-18.4 2.4M845.2 387.1l2.1 -1.9M829.6 381.8l1 -11.2M832.2 356.1l13.3 -2.1M830.8 370.5l14.6 -0.7M846.6 354.9l-0.9 14.6M732.1 304.3l3.5 11.1M716.5 301.3l-7.9 17.2M712.4 323.4l16.3 1.6M781.3 413.9l0.4 13.8M780.7 413.3l-12.7 1.6l0.5 11.5M778.6 399.4l-11 5.3M768 414.9l-0.8 -0.7M710.8 621.5l12.6 1.8M724.1 610.4l-0.5 12.8M738.1 634l11.3 1.2l-0.3 12.8l-12.6 0.6M723.8 634.8l0.9 13.3M737.4 634.7l-1.9 13M710.9 635.8l0.1 11.4M711.3 647.5l12.1 1.7M711.4 661.8l12 -2M749.4 635.2l0.1 -0.1M749.1 648l2 2l-0.7 11.1M740.2 537l0.3 -0.4M941.3 609.1l-12.9 -1.3l-2.6 5.3M941.5 609l3.2 -11.2M964.9 585.3l-8.5 0M967.5 570.2l-12.4 1.1l-2.3 -2.6M902.9 634l-0.5 0.2l-9.3 -0.1l-1.8 -10.6l9.1 -7.7l3.3 7.7M893.1 634.1l-2.2 2.5l2.4 11.3l6.2 0l2.9 -13.7M891.3 623.5l-11.4 -1.5l-0.2 0.1l-0.5 14.1l-0.1 0.1l-13.3 -0.7l0.8 -12.2l2.1 -1.7l11 0.4M900.4 615.8l0.2 -0.6l9.1 -2.9l2.6 -9.9l-3.4 -4.5l-6.5 -0.9l-2.5 17.4l0.7 0.8M929.1 561.3l-6.8 4.5l0.1 6.1l6.6 4.6l8.9 -2.3l1.3 -3.1M930 553l-0.9 -1.2l1.7 -10l11.1 -1.5l1.7 13.5M880.5 490l12.1 0.3M877.7 497.4l2 4.4M864.4 495.6l-1.3 13.9M864.1 495.2l-13.1 0.2l-0.4 -13.4l13.5 0M894.7 488.4l9.5 2.4l1.5 -1.1l0.2 -12.7l10.4 0.2l0.6 13.7l0.2 0.2l11.3 -1.4l-0.1 -10.4l-10.9 -3.1l-1.1 1M893.3 478.2l0.5 -0.6l11.3 -1.2l0.2 -10.4l-12.3 -1.6l-0.7 0.6l1.5 12.6M880.2 478.9l-2.4 -9.9l-13.4 -0.2M877.8 469l2.7 -4.3l-2.4 -10M892.3 502.1l2 1.5l-1.7 12l0.2 0.4l11.6 0.2l2 -1.8l-1 -10.1l-2.6 -2l-8.5 1.3M863.5 509.9l0.6 13.1l-0.2 0.2l-13.3 0.1l-0.2 -13.8M877.5 509.6l1.7 4l-2.9 9.5l-12.2 -0.1M850.6 482l-0.1 -0.1M851 495.4l-1.5 1.6l1 12.3M849.5 497l-12.7 -1.5M912.4 689.8l5.1 -11.7l-6.6 -6.3l-13.1 7.9M880 712.6l-0.4 0.5M926.6 692.9l1.8 -2.5l11.2 -5.6M880.7 675.4l-1 -1l-0.7 -11.5l1.9 -1.8l10.6 0l3.6 3.6l2.9 -0.9l7.9 -13.4l-6.4 -2.5M893.6 673.6l1.5 -8.9M890.9 636.6l-11.7 -0.4M893.3 647.9l-0.6 0.6l-1.2 12.6M868.7 621.7l-2.2 -12.5l-12.2 -0.1l-0.3 -0.3l-13 -0.1l-0.1 14l12.2 -0.8l0.5 -0.5l0.7 -12.3M866.6 623.4l-13 -2M865.8 635.6l-0.5 0.5l0.3 10.9l2.9 2.9l10.2 -1.8l0.4 -11.8M879.9 622l1.4 -11.8l11.1 -1.8l-0.2 -11.2l-11.2 -1.3l-1.2 12.7l1.5 1.6M905.9 650.4l5.1 -0.4M892.7 648.5l-13.3 0.2l-0.7 -0.6M898 663.8l12.1 2.7l0.8 5.3M910.1 666.5l3.6 -5.2M917.5 678.1l5.2 -1.3l5.7 13.6M927.8 663.6l0 0M922.7 676.8l2.8 -2.1M939.4 683.5l-2.9 -3.7M877.4 566.1l-9.3 1.4l-4.5 -2.3l0.3 -15.1l14.2 0.3l-0.7 15.7l2.3 1.3l1.8 15.3l-1.5 1.5l-13.3 -1.9l1.4 -14.8M878.1 550.4l0.2 -0.1l1.7 -9.2l-2.5 -4.6l-13.6 0.9l-0.6 12.2l-13.1 0.5l-1 -13l1.1 -1.2l13.5 1.4l0.1 0.1M863.9 550.1l-0.6 -0.5M863.6 565.2l-8.8 1.8l-0.4 14.7l11.7 1.1l-0.6 11.8l-11.5 1.8l-0.5 -0.5l0.8 -14.2l0.1 0M810 565.7l-0.3 -15l-0.7 -0.7M815.8 567.6l6.3 -1.5l4.8 2.1l8.9 -2.9l0.4 -14.1l12.8 0.2l1.9 13.8l-9.3 3l-5.8 -2.9M815.4 582.4l1.5 1.6l-2.6 11.3l1.3 1.4l11.6 0.1l1.1 -1.2l-1.3 -11.9l-10.1 0.3M789.3 583.5l-0.2 11.6l-0.7 0.5l-11.9 0.6M802.3 582.3l0.8 12.9l-1.2 1.3l-12.8 -1.4M751.1 650l11.7 -2.3l-0.9 -11.4M879.4 648.7l1.5 12.4M879.7 674.4l-12.4 0.4l-0.5 11.8l1.4 1.2M879 662.9l-11.6 -1.4l-0.8 -1l1.9 -10.6M865.3 636.1l-11.6 -0.7l-0.5 0.5l0.1 11.8l-11.4 1.2l-1.9 -2.3l1 -10.3l12.2 -0.4M865.6 647l-10.9 2l-1.4 -1.3M868.4 699l-2.5 2.7l1.4 9.4M841 636.3l-0.9 -0.9l0.4 -12.4l-11.7 -1.9l-1.8 13.9l13.1 0.4M840 646.6l-11.6 1.6l-0.4 0.4l1.3 11.3l12.3 0.3l0.3 -11.3M853.7 635.4l-0.6 -13.5M854.7 649l0.1 11.2l11.8 0.3M801.4 622.6l-1.2 12.3l-10.9 0.2l-0.9 -13.4l-12.7 0.8l0.8 11.4l12.2 1.7l0.6 -0.5M802.2 621.8l11.9 0.4l1.2 12.9l-0.1 0.1l-14.1 0.5l-0.9 -0.8M788.7 621.4l-0.3 0.3M800.9 608.9l1 -1.1l0 -11.3M789.2 610l-0.8 -14.4M775.8 597l-12 -0.3M775.7 608.7l-12.7 0.3l-0.7 12.8M775.8 608.8l-1 12.9l-11.8 0.7M863.5 467.9l-12.8 1.4M880.5 464.7l11.8 0.3M878.2 441.4l0.6 -0.9l0.8 -9.9M879.7 451.6l13.7 0.6l0.5 -11.4l-0.4 -0.4l-14.7 0.1M822 441.6l1.9 12.4M809.6 454.8l13.2 0.4M836.3 469.2l-0.8 -0.9M849.1 455.5l-11.7 -0.6M754.2 536.2l12.9 -0.1M865.9 701.7l-11.9 -2.3l-1.9 12.4l2.7 2.7M840.9 727.5l1.4 -1.5l12.5 -0.4M828.4 725.4l0.9 -11.9l10.8 -1.1l0 -11.7l-10.6 -2l-3.1 3.1l1.4 10.5l1.5 1.2M816.1 725.6l-0.4 -11.3l-0.4 -0.4M842.3 726l-1.6 -13.1l11.4 -1.1M751 661.9l12.1 0.5l1 -0.8l-1.1 -13.7l12.4 0.1l1 0.9l0.3 10.7l-1.9 2.3l-10.7 -0.3M750.3 687l0.7 0.7M750.9 674.6l11.4 0.3l1.3 11.7l11.5 -0.9l1.8 -11.3l-13.8 -0.4l-0.8 0.9M815 700.1l0.2 -0.2l11.2 1.9M804 700.6l-2.2 -2.1l-11.9 2.4l-1.9 -1.7l0.3 -11.2l1.9 -1.8l11.4 1.7l0.2 10.6M815.7 714.3l12.1 -2M789 712.6l-13 -1l-0.6 0.5M789.5 712.1l0.4 -11.2M764.4 712l-1.6 -11M750.3 712.3l1.2 -11.8M776 711.6l0.7 -12l-0.9 -0.8l-11.6 0.5M1193.5 577.5l-4.6 -0.4l-6.2 10.5l11.9 5.2l3.7 -3.3M1230.8 598.8l-0.6 0.6l-2.3 14.7l-1 0.4l-7.5 -1.4l-1.8 -3.2l1 -6l11.6 -4.5M1239.3 601.5l0.4 0.5M1251.5 610l4.9 2.6l2.4 -0.1l3.1 -10.1l-10.1 -3.9M1240.7 611.9l-0.9 2.3l-11.9 -0.1M1215.4 599.2l3.2 4.7M1204 602.2l-8.6 -0.3l-2.6 -2.5l1.8 -6.6M1205 603.2l1.2 7l11.4 -0.3M1280.8 675.6l-15 4.6l2.4 8.9M1265.8 680.2l-1.2 -0.7l-8.6 4.4l-4.4 -6l-8.1 0.5l-2.8 3.2l6.1 10l7.8 -3.4l1.4 -4.3M1262.5 700.7l-10.8 2.9l0.3 10.3l11.4 2.1l2.5 11.3l-2.2 1.8l-10.2 -0.6l-3 -2.3l-0.6 -10l2.1 -2.3M1263 694l-8.4 -5.8M1263.1 701.1l2.7 11.7l13.3 -1.5M1294.3 728.9l-3.2 13.6l-9.2 3l-1.6 9.1l12.8 3.6l6.4 -4.7l7.6 1.5l3.2 -19l-14.3 8.9l3.5 8.6M1307.1 755l1.4 1.3l10 0.5M1296 744.9l-4.9 -2.4M1293.1 758.2l1.9 9.5l0.4 0.5l10.1 -0.8l3 -11.1M1280.3 754.6l-1 1.1l-7.8 0.9l-6.2 13.1l14.4 3.6l1.6 -3.6l-2 -14M1281.9 745.5l-2.8 -4l-1.2 -12.1M1325.4 785.1l-6 -13.8l2.5 -3.8M1325.4 785.1l10 -1.8M1325.4 785.1l-0.6 0.6l-18.3 -3.3l3.2 -9l-4.2 -6M1319.4 771.3l-9.7 2.1M1306.5 782.4l-1.9 1.8l-5.3 1l-4.6 -2.3l0.7 -14.7M1324.8 785.7l-4.3 12.4l-5.8 1.2l-10.1 -15.1M1295 767.7l-13.7 2M1252.2 785.3l1 15.4l12.6 -1.5l3.4 -13.1l-2.1 -1.4l-2.1 -14.8l-9.6 -0.9l-1.5 14.7l13.2 1M1252.2 785.3l-36.3 -7.3l36.6 -12l2.9 3M1252.2 785.3l1.7 -1.6M1279.1 741.5l-14.4 0.9l4 12.7l-15.8 1.2l-0.6 -1.2l2.7 -10.2l7.9 -3.6l1.8 1.1M1228.7 692.9l2.7 6l-10.3 7.6l-2.2 -2.7l0.9 -11.7l8.9 0.8l3.6 -3.5l11.5 9.8l-4.4 2.9l-3.1 7.7l3.8 5.5l-4.5 10.5l-6.9 -0.4l-1.9 -13.6l-4.9 -2.8l-4.7 5.1l6.9 12.6l2.8 -0.1l1.8 -1.2M1231.4 698.9l8 3.2M1219.8 692.1l-2.2 -3.1l1.7 -7.1l-12.9 -7l0 -0.9l2.6 -4.3l10.6 0.1l0.7 11.1l-1 1M1221.1 706.5l0.8 2.5M1218.9 703.8l-12 -0.6l0.9 12.9M1017.9 767.9l11.8 -3.8l0.2 -2.4l-13.4 -10.9l-1.6 1.3M1016.5 750.8l1.2 -3.9l-4.8 -6.7l-11.6 -3.1M1029.9 761.7l2.7 -3.2l-5.1 -16.3l2.3 -2.1l10.5 1.6l2.7 10.4l-0.7 1.2l-9.7 5.2M1091.3 588.7l0.4 -0.6l14.8 -1l-1.3 -8.3l-4.7 -3.4l-6.7 1.6l-2.1 11.1M1082.3 589.6l-3.8 -3.7M1095.9 598.9l6.4 1.2l4 -3.3l1.1 -8.7l-0.9 -1M1094.7 600.3l-3.4 8.9l-4.1 3.4l-1.7 0.1l-6.1 -11.5M1083.1 564.7l7.5 -2.9M1082.2 574.3l11.4 2.5l0.2 0.2M1105.2 578.8l8.4 -2.2l1.2 -7.9l-6.1 -4.3l-3.5 0.6l-4.7 10.4M1114.8 568.7l9.2 -1.9l1.3 -10.5l-11.4 -0.4l-2.3 -11.4l12.8 2.2l1.3 9.1l-0.4 0.5M1113.6 576.6l1.5 1.7l-2.5 8.9l-5.2 0.9M1108.7 564.4l3.1 -6.6l-9.4 -7.4l-1.7 2.3M1105.2 565l-1.6 -1.2M1093.6 576.8l-2.5 -14.5M1104.2 544l-1.8 6.4M1110.8 543.8l0.8 0.7M1190.4 386.9l3.8 4.7l9.1 -3.4l-6.6 -11.6M1185.3 387.9l-1.1 7.8l-9.3 -0.3l-1.2 -5.8M1197.4 376l9.5 -2.5M1197 360.7l11.5 2.5M1174.9 395.4l-2.8 5.2l-6.4 -0.9l-2.7 -3.6M1184.2 395.7l2.3 3.1l-4.5 7.6l-7.2 -0.4l-2.7 -5.4M891.7 427.6l1.8 1.4l0 11.4M890.9 416.4l1.5 -1.3l11.6 0.2l0.9 1.1l13.6 -0.7l1 10.5l-1.2 1.1l-13.1 -1.2l-0.3 -9.7M946.7 460.5l-4.9 5.2l-12.7 0.1l-0.9 -0.6l0.7 -11.7l-10.9 -0.6l-1.9 11.1l2.8 2.7l9.3 -1.5M947.5 454.4l1.1 -7.9M947.3 454.6l-16 -3.3l-1.8 -10.6l-0.1 -0.1l-11.4 -0.5l-1.7 10.8l1.7 2M928.9 453.5l2.4 -2.2M916.1 464l-8.8 -0.1l-2.7 -11l1 -1.2l10.7 -0.8M918.9 466.7l-1.5 9.5M918.5 415.7l0.5 -0.7l12.3 0.1l0.3 10.6l-2.4 1.7l0.2 13.2M905.2 426.1l-1.2 1.7l-10.5 1.2M918.3 427.3l-1.3 11.7l1 1.1M919.5 426.2l9.7 1.2M892.4 415.1l-0.4 -12.5M904 415.3l1.7 -10.8l-1.9 -2.3M904 427.8l2.4 10.6l10.6 0.6M929.5 440.7l14.9 -3.6M906.4 438.4l-2 2.2l1.2 11.1M1001.7 406.2l5.4 -3.1l1.7 0.1M992 406.3l-1.7 -11.5l-3.6 -2.4l4.3 -12.5l6.6 -2.6l4.2 8.7l-2.3 5.8l-9.2 3M996.6 365.6l1.5 10.5l-0.5 1.2M1012.5 363.1l0.7 10.6l12.3 0.9l-0.5 9.4l-0.7 0.7l-10.4 0.9l-1.5 -10.9l0.8 -1M966.4 366.5l-10.9 -0.8M980.1 376.6l10.9 3.3M975.7 380.8l0.9 10.6M967.2 377.6l-3.6 1.9l-9.6 -2.5M1122.9 533.5l2.1 12.2l-0.6 1M1126.9 519.3l-1 -7.4l4.3 -4.4M941.8 465.7l-0.5 11.7l-11.1 -0.1l-1.1 -11.5M906.1 390.1l9.8 -0.7l1.5 -10.8M905.7 404.5l11.8 -1l-1 -13.6l11.9 0.8l1.1 11.5l-11.1 2l-0.9 -0.7M1066.5 483.3l-1.1 13.3M1052.9 495.7l-0.7 -1.5M1063.6 481.5l-8.5 2.5M1397.4 294.6l-6.4 -0.4l-1.8 6.8l2.8 3.1l5.8 -4.5M1389.9 267.9l-8.3 1.7l-0.6 5l11.5 1.6M1381.6 269.6l-2.3 -3.6l2.1 -5.4l1.8 -1.6l5.3 0l0.5 -6.3l5.8 -3.8M1381 274.6l-1.5 2.5l-5.3 -0.1l-3.2 -9l3 -2.3l5.3 0.3M1297.4 326.9l1.5 -2.1M1317.3 338.9l8.7 -2.3l3.5 4.3l-0.8 3.1M1314.4 336.7l0.1 -7.4M1319.3 344.8l6.7 1.5M1365.3 168.1l-1.7 -2.5M1432.7 243.2l-12.9 3.1l-3.1 -3.2M1400.3 270.1l-3.8 -10.6l-0.2 -0.2M1396.5 259.5l10.6 2.4l1.6 -1.7l-0.2 -9.3l-1.8 -3.6l-8.5 3.4M1392 261.1l-3.5 -2.1M1389 252.7l-8.9 -6.1l3.1 12.4M1407.5 244.5l-0.8 2.8M1419.8 246.3l1 5.7l5.6 2.7l-1.4 2.7l-8.4 3.2l0.9 -7.5l3.3 -1.1M1391.4 244.2l-12.5 0.3l1.2 2.1M1407 263.1l0.1 -1.2M1410.7 270l8.6 -2.5l-3.3 -6.1l-7.3 -1.2M1408.5 250.9l9 2.2M1419.3 267.5l1.8 1l-1.9 5.8M1416 261.4l0.6 -0.8M1421.1 268.5l2.3 -0.4l8.7 14.6M1423.4 268.1l1.4 -1.1l9.9 -0.8l0.8 -4.3M1207.6 373.9l3.2 9.3l9.2 -4.5l1.6 -4.5M1220 378.7l0.8 9.6M1210.8 383.2l-0.9 4.7M1238.5 328.3l1.1 -9.2l1.3 -1.8l9.5 1.7M1238.1 328.6l-2.4 1M815.9 206.7l-1.6 -1.5M929.2 191l1.6 -13M943 188.8l-0.7 -8.8M942.8 163.3l-1.3 1.3M930.3 164.5l0.9 0.9M992.5 253.5l-1.5 10.3M999 253.3l5.7 10.3l-5.1 2.9l2.8 11.3l9.4 -0.9l-1.9 -13.4l-5.2 0.1M992.9 265.8l6.7 0.7M1035.2 301.5l2.1 -2.1l16.5 3.3M1024.7 299.2l0.3 -9.5l-12.3 -0.6l0.6 10.9M1037.3 299.4l0.1 -9.7M1012.7 289.1l-0.1 -0.1l-0.3 -11.7l10.9 -1.6l2.1 1.6M1025 289.7l0.5 -0.5M1037.9 289.3l16.8 -0.4M1037 276.8l14.5 0.3M1011.8 261.8l-1.9 1.7M1023.4 264.9l-0.2 10.8M1240.9 317.3l-1.4 -6.3l4.4 -4.2M1239.6 319.1l-8.5 0l-4.6 7.1M1262.9 309.5l-8.1 -1.6M1300.9 241.9l-1.6 -10M1309.6 242.3l5.9 -5.3M1312.9 254.7l13.6 -9.6M1312.4 257.9l1.2 0.6l12 0M1300.8 231l8.8 -10.2l3.4 -0.1l4.5 -4.1M1314.5 234l-1.5 -13.3M1313.6 258.5l6.5 12.5l8.1 -3.5l-0.6 -7.5M1307.8 220.1l1.8 0.7M1336.4 348.6l2.7 -4.2l7.9 1.6l0.6 0.4l-3.9 7l1.6 2.6l8.1 -1.7l-2.7 -7.9l-3.1 0M1336.1 352.5l7.6 0.9M1335.7 352.9l3.1 8.4M1344.7 361.7l0.6 -5.7M1350.2 364.5l2.3 -2.1M1353.9 354.7l-0.5 -0.4M1210.4 395.8l-3.4 4.4l2.6 7.9l5.1 0.1l2.2 -2.4l1.4 -4.7M1208.7 389l-5 -0.5l-0.4 -0.3M1214.7 408.2l3.2 6.8l0.1 0.1l1.4 10.5l-7.7 -0.7l-1.2 -5.8l7.4 -4.1M1216.9 405.8l12.3 3.7l1.8 -3.8l-1.9 -6M1209.6 408.1l-1.4 1.1l-8.2 -2.4l1 11.4l4.5 -2.2l2.7 -6.8M1207 400.2l-7.1 -0.6l3.8 -11.1M1200 406.8l-0.5 -0.4l0.3 -6.7l-6.2 -2.1l-2.6 1.4l1.7 8.2l1.8 1.6l5 -2.4M1205.5 416l5 3.1M1201 418.2l0 0l-7.3 -1.8l-3 1.5l0.4 7.1M1229.2 409.5l-0.4 4.7l-10.8 0.9M1231 405.7l8.9 0.3M1251.3 404.1l2.6 1.8M1242.2 407.9l0.3 7.3l-8.8 2.5l-3.6 -1.3l-3.9 7.2l4.8 5.3l4.1 0.5l1.7 -2.6l-3.1 -9.1M1244.7 451.8l-2.4 1.8l-3.1 -0.3l-3.1 -2.1l0.7 -8.7l-9 -0.3l-0.7 0.6l1.8 9.5l7.2 -1.1M1245.6 443.4l-1.4 -1.3l0.8 -8l-8.8 -0.6l-0.1 0.4l1.1 8.3l7 -0.1M1200 434.1l3 10.8l-2.4 1.4l-7.7 -5M1199.8 428.4l2 -3.9l8.7 1.4l-1.4 8.8l-8.9 -0.8M1190.1 444.9l5.5 8.3l-3.6 3.8l-8.4 -1.9l-0.8 -1.5l1.6 -7.3l-12.7 -2.4l2 8.8l9.1 0.9M1184.7 446l-0.3 0.3M1209.1 434.7l1 0.9l6.3 1.3l2.3 5.8l-1.4 2.9l-7.7 2.8l-2.9 -3l3.4 -9.8M1210.5 425.9l1.2 -1M1201.8 424.5l-0.8 -6.3M1190.7 417.9l-5.2 -1.3l-3.9 2.5l0.1 4.5M1193.7 416.4l0.8 -7.6M1185.5 416.6l-1.9 -8.1l-1.6 -2.1M1181.6 419.1l-8.1 -1.2M1173.7 452.7l-2.1 2.5M1171.7 443.9l-0.1 -0.2M1173.3 463l8.1 -1.7l1.8 3.1l-1.4 7.9l-5.4 -1.1l-3.1 -8.2l-2.5 -1.4M1181.4 461.3l2.2 -6.2M1176.4 471.2l-4.8 3.4l-0.9 6.2l11.4 0l-1.9 9.7l-6.1 1.2l-0.8 -0.5l-9 1.5l-1.6 -2.2l1.6 -9l6.4 -0.7l2.6 10.4M1181.8 472.3l0.1 0.1l0.7 7.9l-0.5 0.5M1183.2 464.4l10.1 0.2l-1.3 -7.6M1165.7 399.7l-4.6 6.5l-6.2 -1.8M1136.6 413.4l4.6 3.8l-4.4 7.8l9.6 4.6l1.7 -2.4l-0.9 -9.5l-2.5 -0.7l-3.5 0.2M1117.2 412.7l-1.2 1.5M1128.2 419.4l-0.2 2.1l-3.6 2.7l5.5 10.3M1113.7 453.6l6.4 -9.7M1116.9 460l2.7 2M1115 455l11.3 -2.7M1130.7 434.9l2.8 -0.1l2.2 1.9l1.2 8.1l-1.3 1.3M1135.7 436.7l10.2 -3l0.5 -4.1M1133.5 434.8l1.7 -9l-7.2 -4.3M1136.9 444.8l8.2 2M1117.9 431.3l0 -3.1M1135.2 425.8l1.6 -0.8M1124.4 424.2l-3.4 0.7M1153.5 516.4l-0.3 -6.8M1156.2 529.9l-4.8 0.8M1159.9 533.5l-1.3 10.6l3.4 2.5M1158.6 544.1l-8.5 -0.9l-1.3 -2.5M1164.4 509.4l-0.7 -0.9M1170.6 509.7l3.5 -2.3M1117.8 482.1l7.6 -2.3M1117.2 490.8l-3.3 8.3M1115.9 471.4l0.3 -0.1M1125.5 474.3l-0.7 -0.7M1298.6 492.2l-11.7 4.5M1283.9 478.6l-1.6 12.1M1381.9 501l14.6 29.7M1156.5 498.8l-2.1 -1.1l-6.7 2.2M1162 499l2.3 -6.3M1163.7 501.9l9.9 -1.9M1145.2 492.8l2.9 -3.6M1154.4 497.7l-1.2 -8.1M1170.7 480.8l0 0M1162.7 490.5l-8.1 -2.1M1164.3 481.5l-1.1 -0.7l-1.6 -8.7M1174.1 491.7l0 7.7M1180.2 490.5l2.8 1.6l-1 9.5M1164.2 452.6l0.9 -7.5M1165.3 464l-1.1 1.4M1155.8 463.4l-1.7 -2.2M1153.2 473.8l2.1 7.4M1164.1 468.8l7.5 5.8M1156.3 453.7l-1.2 -1.8M1163.2 480.8l-7.5 0.9M1163.9 432.2l0.6 -6.3M1160.3 434.9l-3 -0.3l-5.3 2.3l-3.5 -0.3l-2.6 -2.9M1161.3 443.6l-3.6 1.8M1144.3 405l0.4 12M1151.6 407.8l0.1 7.9l0.5 0.1l8.3 -0.8l2 -4.9l10.2 -0.1l2.1 -4M1161.1 406.2l1.4 3.9M1172.7 410l0.7 7.6M1151.7 415.7l-4.5 2M1152.2 415.8l4.5 9.1l-3 2.4l-5.6 -0.1M1160.5 415l0.1 0.2M1262.8 577l0.4 -15.4M1258.6 577l-8.9 -10.5l3.7 -3.1M1262.5 602.1l-0.6 0.3M1231.4 530.2l0.9 -1M1233.6 539.1l6.5 4.1l2.6 -2.3l1.6 -9M1251.3 541.3l-8.6 -0.4M1260.5 545.3l-0.4 8M1254.3 545.1l-4.5 6.2l-9.8 1l0.1 -9.1M1182.6 480.3l6.1 1.2l2.2 9.1M1181.9 472.4l9.8 -1.3l1.7 -6.3l-0.1 -0.2M1182.7 502.4l6.9 -2.2l3.1 8.5M1183 492.1l6.6 0.1M1198.3 507.4l2.6 -7M1189.6 500.2l1.4 -2.7M1025.7 374.3l-0.2 0.3M1037.9 374.3l0.2 10.9M1036.2 386.8l-11.2 -2.8M1083.7 635.2l6.3 -0.6l0.6 -10.1l-7.5 -1.8M1079.7 642l12.4 8.5l-0.9 6.3l-0.6 0.5M955.1 571.3l-0.5 11.6M913.6 614.3l-3.9 -2M928.4 607.8l-2.3 -8.3l-0.9 -0.9l-1.7 -9.1l2.2 -2l13.8 -0.1M854 608.8l0 -12.4M841 608.7l-1.2 -1l0.2 -11.8l1.6 -1.7l-1.2 -11.6l-11.7 -0.6l-1.8 -13.8M840.9 622.7l-0.4 0.3M866.5 609.2l2 -2l-0.3 -10.4l-2.7 -2.2M922.3 565.8l-4.2 -2.7l-1.5 -11.3l-9.7 0.3l-1.1 10.9l4.9 2.1l7.4 -2M929 576.5l-3.3 11M922.4 571.9l-9.2 5.9l-0.4 0.5l-7.8 -1.6l-5.6 5.1l4.5 5.9l9.1 -0.7l1.6 -1.4l-1.8 -7.3M937.9 574.2l3.6 8.1M849 551.4l1.2 -1.3M850.9 565.2l3.9 1.8M836.2 551.2l-0.5 -0.4l0.6 -13.1l0 0l-13.6 -0.7l-0.5 0.6l1.6 13.2l11.9 0M841.6 568.2l-0.3 13.5l-0.9 0.9M828.7 582l-1.7 1.7M841.3 581.7l13 0M836.5 510.7l-1 12.2l0.2 0.2l14.1 1.1l0.8 -0.9M835.5 522.9l-12.2 0.7l-0.5 -0.4M835.7 523.1l0.6 14.6M849.8 524.2l0.5 11.7M867.4 661.5l-1.3 12l-10.8 0.4l-1.4 -12.9l0.9 -0.8M841.6 660.2l1 1l11.3 -0.2M842.6 661.2l-1.6 12.4l-13.2 0.6l-0.3 -0.4l0.6 -12.7l1.2 -1.2M828 648.6l-13.3 0.3l0.3 10.8l13.1 1.4M828.4 648.2l-1.5 -13.1l-11.6 0M762.9 635.3l12.3 -0.1l0.2 12.8M762.8 647.7l0.2 0.2M763 609l-0.8 -0.8M774.8 621.7l0.9 0.8M774.8 661.9l2.3 12.2l-0.2 0.3M776.7 659.6l11.8 1l0.3 -0.3l12.2 0.6l1.1 1.4l-1.4 10.2l-11.6 1.7l-0.6 -0.4l0 -13.2M776.4 648.9l11.2 -2.3l1.1 -11M763.1 662.4l0 11.6M775.2 635.2l1.3 -1.3M787.6 646.6l2.1 2l11.5 0.2l0.2 -0.3l-0.3 -12.8M801.9 607.8l12.6 1.9l0 12l14 -0.8l0.1 -11.3l-0.7 -0.6l-12.5 -0.1l-0.9 0.8M803.1 595.2l11.2 0.1M893.4 452.2l1.4 1.5l9.8 -0.8M893.9 440.8l10.5 -0.2M907.3 463.9l-2 2.1M894.8 453.7l-1.8 10.7M762.8 687.4l0.8 -0.8M775.8 698.8l0.1 -12.2l-0.8 -0.9M776.7 699.6l11.3 -0.4M775.9 686.6l12.4 1.4M777.1 674.1l11.4 -0.3M801.6 687.9l1.7 -1.8l-0.5 -11.5l-2.1 -2.1M790.2 686.2l-1.1 -12M1162.3 555.7l-0.6 0.5l-13.9 1.1l-1.3 -1.5l3.6 -12.6M1172 557.1l4.4 7.9M1195.4 601.9l1.3 11.5l6.8 -0.2l5.1 10.9l-0.6 0.9l-11.8 1.4l-3.5 -5.4l3.6 -7.2l0.4 -0.4M1192.8 599.4l-9.3 3.3l-0.6 4.5l13.4 6.6M1219.4 613.1l-3.8 8.8l5 4.9l6.4 0l0.9 -1.6l-1 -10.7M1239.8 614.2l2.2 6.7l-14.1 4.3M1206.2 610.2l-2.7 3M1215.6 621.9l-7 2.2M1220.6 626.8l-2.6 8l-1.7 0.8l-0.1 11.8l0.3 0.4l11.6 -6.5l-0.1 -2.6l-10 -3.9M1227 626.8l3.6 7.2l8.4 -1.6l4 -10.2l-1 -1.3M1299.3 785.2l-1.7 12.9l13.6 4.5l-2.5 10.2l-11.5 -3.4l-2.2 -8.9l2.6 -2.4M1294.7 782.9l-12.3 1.2l-0.9 -0.7l-12.3 2.7M1226.8 711.8l9.5 -2M1217.2 714.1l-5.7 3.4M1226.9 726.6l1.5 23.9M1240.1 715.3l9.8 0.9M1235.6 725.8l4.2 3.7l-0.1 9.7l10.6 0.7l4.7 5M1206.9 703.2l-2.6 -2l-3.5 1.2l-5.5 5.2l0.4 7.2l-13.2 -0.6l-0.2 3.4l-8.1 7.1l-2.5 -11.2l0.4 -0.5l9.7 -0.1l0.7 1.3M1239.8 729.5l10.7 -3.3M1275.8 727.8l-9.9 -0.5M1265.8 712.8l-2.4 3.2M1307.7 822.2l-13.3 1.9l-2.8 2.9l-11.9 -1.8l-0.1 -9.7l4.4 -4.6l-0.4 -10.6l-0.4 -0.4l-13.7 2.2l0.4 9.1l9.7 4.3M1309.6 815.6l-0.9 -2.8M1325.1 815.1l2.4 -2.4l8.2 0.8M1320.5 798.1l3.5 2.9l12.3 -2.2M1314.7 799.3l-3.5 3.3M1327.5 812.7l-3.5 -11.7M1294.4 824.1l-2.2 -10.1l-8.2 -3.1M1172 729.4l1.2 -2.4l-13.4 -9.5l-6.4 16.2M1173.2 727l0.4 -0.3l20.1 3.9l-11.4 -13M1159.8 717.5l0 -0.6l-11.6 -5.1l-13.4 15.1M1173.6 726.7l0.6 -2M1148.2 711.8l-0.8 -8.7l-4.7 -0.5l-11.3 11.7l-3.6 -7.6l12.2 -5.5l-5.2 -6.3l-5.3 1.5l-3.9 8.1l2.2 2.2M1159.8 716.9l0.4 -0.5l11.5 -2.9M1162 702.1l0.4 0.5l8.6 2.4l4.2 -2.9l-3.5 -12l-0.7 -0.6l-5.5 2.2l-3.5 10.4l-12.2 -1.6l-0.1 -7.9l14.8 -1.4l1 0.5M1162.4 702.6l-2.2 13.8M1171 705l1.1 8M1171.7 690.1l15 1.8l0.2 0.4l-2.6 10.5l-0.3 0.2l-2.2 9.9M1171 689.5l1 -8.2l-13.5 -3.7l-2.6 2.7l-1.5 0.5l-8.2 -9.9l1.9 -4.7l10.5 1.5l1.4 2.9l-1.5 7M1175.2 702.1l8.8 0.9M1016.7 693l1.9 -4.1M1005.8 717.9l-0.5 7.2l-3.6 4.8M1014.5 715.2l0.6 0.4l6.5 12.1l-5.5 2.8l-10.8 -5.4M1017.5 701.8l9.8 1.3l4.8 -12l-3.3 -4.5M1082.9 614.8l2.6 -2.1M1091.3 609.2l9.2 3.3l4.8 -4.9l-3 -7.5M1087.2 612.6l6.5 7.7l-3.1 4.2M1068.5 724.7l1 -6.7l2.1 -2.9l8.3 -1.7l1.7 1.2l0.8 5.5M1069.5 718l-13.5 -5.6l-3.4 3.1l-8.4 -1.5l-2.7 -9.3l1 -1.6l13.3 -2.4l2.6 3.8l-2.4 7.9M1071.6 715.1l-4 -10.5l3.4 -4.2l10.1 5.2l1 -14.6l-9.9 0l-1.2 9.4M1081.6 714.6l10.4 -0.2M1079.9 713.4l1.4 -7.5l11.6 -3.4M1104.8 704.2l0.4 -0.4M1093.3 716.2l0.1 5.7M1104.8 715.4l-0.6 19.9M1081.3 705.9l-0.2 -0.3M1072.2 691l-1.7 -1.6l-1.5 -7l-4.3 -4.9l-7 -1.7l-4.9 13.8l3.7 4l14 -4.2M1082.1 691l0 -0.1l8.4 2.6M1067.6 704.6l-9.2 -0.1M1082.1 690.9l2.3 -10.3l-3.1 -5.7l-12.3 7.5M1073.5 664.4l-8.8 13.1M1081.7 672.2l-0.4 2.7M1090.3 668.3l3 2.2l11.5 -0.1l0.5 0.3l-0.9 5.8l-3.4 4.3l-7 0.3l-0.8 -0.9l0.1 -9.7M1092.1 650.5l4 -5.9l7.7 -0.2l2 1.5l0.3 8.4l-6.2 4l-8.7 -1.5M1105 690.9l5.2 -2l6.9 6.9l-0.1 6.5M1103.9 690.3l-2.9 -9.5M1092.9 691.4l1.1 -10.3M1111.8 557.8l2.1 -1.9M1125.7 555.8l11.2 0.1l-1.8 14.3l-10.5 -2.8l-0.6 -0.6M1125 545.7l11.1 -4.1l0.8 -1.6M1136.1 541.6l3.6 13.1l-2.8 1.2M1186.5 398.8l4.5 0.2M1194.2 391.6l-0.6 6M1199.9 399.6l-0.1 0.1M919 415l-0.6 -10.8M931.6 425.7l13.6 2.7l0.7 1.5M931.3 415.1l0.6 -0.7l12.7 -0.2l2.1 -6.5l13.4 0.6l2.8 9l-16.2 2.6l-2.1 -5.7M945.2 428.4l1.5 -8.5M963.9 418.2l-1 -0.9M1024.4 396.5l-0.1 -11.8M1013.6 396.7l-1 -9.8l-10.8 -0.9M1007.1 403.1l-7.6 -11.3M986.7 392.4l-9 0.2M1012.6 386.9l1.3 -1.3M998.1 376.1l14.3 -1.4M947.7 381.6l-0.5 9.8l-0.1 0.1l-3.1 9l2.7 7.2M942.1 376.3l-11.9 2.7l0.7 9.2l16.2 3.3M963.6 379.5l-2 12.7M929.4 364.8l-0.5 0.4M960.1 408.3l2.3 -4.4M931.9 414.4l-1.2 -11.4l13.3 -2.5M930.7 403l-1.2 -0.8M959.6 393.7l-12.4 -2.3M1122.9 501.1l-3.6 1.6M1125.9 511.9l-7.2 -2.8l-1.4 10.6M1118.7 509.1l0 0M1108.8 514l-0.4 -0.6l-0.9 0M1108.4 513.4l2.8 -3.2M1102.3 503.8l6.9 -3.2M941.3 477.4l0.7 0.9M930.2 477.3l-1.9 2M930.4 502.6l-1.7 1.9l1 9.5l11.4 1.3M930.2 491l-1.8 -1.3M1375.6 336l-2.9 -5.2l-7.2 -0.7l-1.3 6.9M1381.7 345.3l52.9 2.5M1382 335.7l1 -6.5M1305.6 274.7l11.2 1.4l0.4 8.2l-12.4 4.2M1299.6 297l4 15.9M1304.6 292.9l12.3 5.6l3.6 -3.6l-0.9 -7.6l-2.4 -3M1381.4 260.6l-8.9 -5.3l2.4 -9.5M1378.9 244.5l-0.3 -0.2M1336.1 256.8l2.3 3l-3.8 10l-0.1 0l-5.4 -1.6l-0.9 -0.7M1320.1 271l-2 4.2l9.6 4.8l1.4 -11.8M1427 254.5l-0.6 0.2M1424.8 267l0.2 -9.6M1001.5 278.5l0.9 -0.7M1002.8 290.4l9.8 -1.4M1012.3 277.3l-0.5 -0.4M1243.6 297.5l-3.3 -2.9M1239.5 311l-4.3 -2M1234.5 296.3l-3.2 4.5M1231.1 319.1l-3.4 -5.7M1222.6 326.8l-1.8 -14.2M1361.9 346.9l-9.9 -1.7l1.8 -7.5l0.6 -0.5l7.6 1.5M1354.4 337.2l0.7 -7l0.8 -0.7l-2.9 -8.3l-7.2 2.1l-0.7 3.5l0.6 0.9l9.4 2.5M1353.8 337.7l-8.4 -2.4l-0.6 0.6l2.2 10.1M1352 345.2l-1.3 1.2M1326 336.6l1.5 -4.4l6 -2.3l0.8 0.2l3.1 8l-7.9 2.8M1339.1 344.4l-1.5 -6.2l7.2 -2.3M1219.4 425.6l0.6 0.5l6.2 -2.5M1228.8 414.2l1.3 2.2M1236.8 426.8l6.2 -1.1M1231 428.9l-4.7 4.8l-6 -2l-0.3 -5.6M1235.1 429.4l1.1 4.1M1242.5 415.2l3.7 3l-0.2 3.1M1220.3 431.7l-3.9 5.2M1226.3 433.7l2 3.5l-0.5 5M1246.1 432.9l-1.1 1.2M1246.2 418.2l4.3 -1.5M1260 426.9l-0.6 -7.2M1236.8 442.5l0.4 -0.3M1228.9 452.3l-0.1 0.2l-1.2 10.6l6.8 -0.8l4.8 -9M1227.1 442.8l-8.4 -0.1M1227.6 463.1l-0.1 0.1l0.6 5.6l10.7 5.3M1234.4 462.3l2.5 1.3M1228.8 452.5l-9.1 -1.1l-2.4 -5.8M1227.1 480.2l0 -9.4l1 -2M1221.7 479.7l-4.5 -6.3l9.9 -2.6M1207.1 489.2l-6.8 -3l-2.7 2.9M1212.5 482.6l-2.7 -6.2l1 -3.2l-8.5 -3.3l-2.4 -4.8l0.7 -0.7l2.5 -8.5l-5.5 -3l-2 0.3M1191.7 471.1l1.4 2.6l6.5 -0.5l2.7 6.7l-2.3 2.7l-7 -4l0.1 -4.9M1193.4 464.8l6.5 0.3M1153.7 427.3l3.6 7.3M1156.7 424.9l6.5 0M1148.5 436.6l-2.2 8.3M1152 436.9l3.3 6.8M1183.6 408.5l9.1 -1.3M1256.4 612.6l-9.6 10.4l-3.8 -0.8M1258.8 612.5l3.7 4.4l11.6 -4.3l1.2 -1.7M1230.6 634l-2.6 4.7M1239 632.4l3.2 4.7l-0.9 6l10.2 5.1l1.6 -2.2l-1.4 -9.8l-9.5 0.9M1246.8 623l2.4 1.6l3 10.9l10.4 -1.8l0.5 -7.8l-1.1 -1.7l-12.8 0.4M1249.8 551.3l3.1 3.2M1240 552.3l-0.6 1M1200.3 486.2l-0.3 -3.6M1188.7 481.5l4.3 -2.9M941.2 595l-15.1 4.5M923.5 589.5l-8.9 -3.9M925.2 598.6l-12.9 3.8M828.3 595.6l11.7 0.3M815.6 596.7l-0.2 12.2M827.2 596.8l0.7 12.2M822.1 566.1l1.3 -14.9l-13.7 -0.5M841.6 594.2l11.9 1.7M814.1 622.2l0.4 -0.5M815.2 635.2l-0.6 13.5l-13.2 -0.2M928.7 504.5l-10.7 -1.1l-1.2 12.8l11.7 -0.9l1.2 -1.3M941.8 516.2l0.7 11.1l0.4 0.4M918 503.4l-1.5 -1.5l0.6 -10.8M916.8 516.2l-0.3 0.3l0.2 11l0.7 0.6l11.9 -2.2l-0.8 -10.6M916.5 516.5l-10.1 -2.1M916.7 527.5l-9.8 2l-2.2 -1.6l-10.9 0.9l-1.9 -1.6l0.9 -11.2M929.3 525.9l2.5 2l10.7 -0.6M917.4 528.1l2.7 9.7l8.6 1.5l3.1 -11.4M916.9 490.9l-11.2 -1.2M916.5 501.9l-11.1 2.4M905.9 477l-0.8 -0.6M866.1 582.8l0.6 -0.5M868.5 607.2l11.3 1.4M868.2 596.8l11.1 -2.8l0.7 -9.8M839.8 607.7l-11.2 1.9M879.3 594l1.7 1.9M908.9 597.9l4.1 -10.9M902.4 597l-2.7 -1.8l4.2 -7.5M899.9 614.4l-7.5 -6M823.3 523.6l-0.6 13.4M863.9 523.2l-0.1 14.1M879.2 513.6l13.4 2M876.3 523.1l3.4 5.7l-2.2 7.7M849.2 537.1l-12.9 0.6M878.3 550.3l14.2 3.4l-0.5 11.8l-12.3 1.9M880 541.1l12.6 -0.2l0.9 11.7l-1 1.1M879.7 528.8l12.2 -1.6M866.1 673.5l1.2 1.3M855.3 673.9l-1.2 1.3l0.7 12l12 -0.6M854 699.4l-0.2 -0.2l-12.2 0.1l-1 -12.2l1 -0.9l12.9 1.3l-0.7 11.7M840.7 712.9l-0.6 -0.5M854.1 675.2l-12.8 -1.2l-0.3 -0.4M854.8 687.2l-0.3 0.3M789.7 648.6l-0.9 11.7M801.2 648.8l-0.2 12.1M814.6 648.7l0.1 0.2M815 659.7l-1 1.3l-11.9 1.3M826.9 635.1l0.1 -0.1M814 661l1.9 12.2l11.6 0.6M904.2 490.8l-1.4 11.5M1209 669.7l0.2 -10.1l-1.5 -0.6l-8.9 0.5l-2.2 7.2l9.8 7.3M1219.6 669.8l2.7 -3.9l8.9 1.6l0.4 -0.5l1.8 -10.3l-3.5 -2.9l-12.4 1.9l-0.2 0.4l5 9.8M1220.3 680.9l11.1 -1.9l-0.2 -11.5M1206.4 674.9l-5.3 6.3l4.9 10l-0.3 0.6l-16 0.6l-0.5 -0.2l11.8 -11l0.1 0M1185.1 645.9l-2.4 13.6l-9.7 -1.2l-1.9 -7.6l14 -4.8l0.3 -0.4l-4.1 -10.1l-6.2 -0.1l-3.2 2l-2.7 11.2l1.9 2.2M1182.7 659.5l0.9 0.8l11.9 -4.2l-0.5 -8.9l-9.6 -1.7M1173 658.3l-0.8 1.1l-0.6 10.7l1.1 1.4l12.6 -4.6l-1.7 -6.6M1181.3 635.4l0.2 -0.1l12.8 -2.5l2.8 12.6l6.1 -0.8l1.7 -1.1l1.8 -7.3l-11.7 -4.3l-0.7 0.9M1175.1 635.3l-4.5 -12.3l-5.3 -0.1l-5.6 11.1l12.2 3.3M1169.2 648.5l-7.7 0.2l-4.1 -13.9l2.3 -0.8M1209.2 659.6l8.1 -3.5M1207.7 659l-4.5 -14.4M1198.8 659.5l-3.3 -3.4M1196.6 666.7l-5.1 2.9l2.7 8.6l-8.5 4.4l-3.7 -3.4l4.5 -10.9l5 1.3M1195 647.2l2.1 -1.8M1188.9 577.1l-3.8 -3.8M1182.7 587.6l-1.2 0.5l-6.5 -2.8l-0.9 -5.3M1124.6 567.4l-0.3 13.4l-0.2 0.3l-1.1 8.9l3.2 2.8l9.8 -6l-1.7 -7.1l-10 1.1M1135.1 570.2l0.5 0.4l12.2 -2.7l1.6 2.1l0.4 4.9l-3 5.2l-11.2 -2.1l0 -7.4M1139.7 554.7l6.8 1.1M1161.7 556.2l-0.1 11l-1.2 1.1l1.2 11.2l-0.5 0.6l-0.2 7.8l9.7 0.2l4.4 -2.8M1147.8 557.3l0 10.6M1208 625l1 8.6l-2.3 2.6M1196.2 626.4l-1.2 5.5M1192.7 621l-6 0.2l-5.5 -11.4l1.7 -2.6M1231.6 667l8.1 0.5l6.9 -9.6l-6.9 -2.6l-0.2 -10.9l-8.8 -0.1l-0.8 9.5M1233.4 656.7l6.3 -1.4M1217.5 655.7l-1 -7.9M1231.4 679l3.4 2.5l-2.5 7.9M1239.5 644.4l1.8 -1.3M1230.7 644.3l-2.6 -3M1243.8 699.2l1.3 -0.5l6.6 4.9M1217.6 689l-11.6 2.2M1234.8 681.5l5.9 0.1M1265 769.9l0.3 -0.2M1252.5 766l0.4 -9.7M1265.8 799.2l3.7 2.9M1279.7 773.3l1.8 10.1M1271.5 756.6l-2.8 -1.5M1282.4 784.1l0.8 15.8M1283.6 800.3l11.4 0.2M1269.9 811.2l-120.5 117.1M1292.2 814l5 -4.6M1262.9 741.3l0.8 -12.2M1252.3 755.1l-20.9 -5.7M1250.3 739.9l3.2 -11.4M1245.1 698.7l1.7 -7.1M1195.3 707.6l-11 -4.8M1204.3 701.2l1.4 -9.4M1200.8 702.4l-11.1 -10M1186.7 691.9l-1 -9.3M1186.9 692.3l2.3 -0.1M1172.7 671.5l1.4 7.3l-2.1 2.5M1185.3 666.9l1.2 1.4M1171.6 670.1l-11.6 0.5M1172.2 659.4l-11.6 1.9l-2.6 -4.4l1.4 -6.6l-8.2 -2.6l-3.5 10.4l-2.6 1.6l-6.5 -2.2l-1.4 -8.5l11.2 -4.9l2.8 3.6M1020.1 664.9l-3.8 10M1029.9 658.1l13.1 4.3M1024.6 664l10 12.2l-4.3 4.9M1056.5 693.6l-0.7 7.1M1052.8 689.6l-8.1 -0.5l-3 -11.3M1057.7 675.8l-1.2 -1.2M1084.4 680.6l8.8 -0.4M1034.6 676.2l4 -0.5M1016.1 730.5l-3.2 9.7M1015.1 715.6l13.8 -0.5l0.2 -10.3l-1.8 -1.7M1021.6 727.7l3.9 0.8l1.7 2.8l14.6 -4.3l1.9 2.4l10.2 -1.6l3.3 11.6l-16.7 2.1l3.2 -12.1M1017.7 746.9l9.8 -4.7M1067.7 757.5l-8.2 -1.2l-6.1 14.5M1059.5 756.3l-1.9 -3l2.2 -12M1040.5 741.5l-0.2 0.2M1057.6 753.3l-14.6 -1.2M1096.1 644.6l-5.6 -9.8l-0.5 -0.2M1103.8 644.4l0.7 -9.5l-5.5 -3.9l-8.5 3.8M1106.1 654.3l8.6 5.4l-5.1 9.8l2.4 1.8l4.4 11.4l-4 2.5l-2.2 3.7M1105.8 645.9l7.7 -1.9l0.2 -10.6l-1.8 -1.8l-7.4 3.3M1099.9 658.3l4.9 12.1M1147.7 658.1l10.3 -1.2M1145.1 659.7l3 6.5M1137.2 649l-0.9 -0.8l-10.2 1.2l-0.9 8l12.7 0.8l0.7 -0.7M1148.4 644.1l2.6 -10l0.5 -0.3l5.9 1M1161.5 648.7l-2.1 1.6M1160.6 661.3l-2 6.4M1117.1 695.8l6.9 -5.9l0.2 -6.9l-7.8 -0.3M1119.3 704.2l6.3 0.3M1155.9 680.3l8.6 10.9M1154.4 680.8l-4.4 4.1l-11.2 -7.8l1 -2.6l6.4 -3.6M1174.1 678.8l7.9 0.4M1139.8 674.5l-5.4 -9.5l3.5 -6.8M1134.4 665l-8.1 3.5l-5.2 -7.8l-5.4 -1.4l-1 0.4M1106.3 596.8l7.5 1.3l6.2 -7.5l-7.4 -3.4M1115.1 578.3l9 2.8M1100.5 612.5l-0.3 8.5l-6.5 -0.7M1105.3 607.6l6.5 3.2l-0.8 11.1l-9.6 0.2l-1.2 -1.1M1104.4 676.5l8 8.7M1105.3 670.7l4.3 -1.2M1112 671.3l13.2 1l2 8l-3 2.7M930.2 379l-1.5 -1.4M930.9 388.2l-2.5 2.5M915.9 389.4l0.6 0.5M1316.9 298.5l0.3 3.6l9.5 4.5l2.6 -3.6l7.3 -2.1l-2.6 -6.6l-6.8 -0.3l-0.7 0.3l2.8 8.7M1320.5 294.9l6 -0.6M1319.6 287.3l9.2 -5.4l0 -0.5l6.4 -3.3l1.4 0.6l4.2 7.4l-4 3.5l-7.9 -7.5l-0.1 -0.2M1316.8 276.1l1.3 -0.9M1327.7 280l1.1 1.4M1356.2 239l-9.6 6.9M1364.1 246.2l-1.8 3.5l4.4 8.6l3.6 -0.6l3.7 8M1372.5 255.3l-2.2 2.4M1337.6 318.4l-0.7 1l-6.6 3.4l-3.1 -1.9l2.6 -9l3.3 -0.2l4.5 6.7l6.1 0.2l2.3 -5.8l-0.5 -1.6l-8.7 -2.7l-3.7 3.2M1336.9 319.4l0.7 8.7l-3.3 2M1330.3 322.8l3.2 7.1M1329.8 311.9l-0.2 -0.1l-2.9 -5.2M1327.2 320.9l-8.4 2.7M1337.6 338.2l-0.2 -0.1M1327.5 332.2l-9 -7.3M1337.6 328.1l7.5 -1.3M1345.4 335.3l0.3 -7.6M1197.6 452.9l3 -6.6M1200.6 464.4l7.9 -0.4l2.9 8.7l2.4 -0.7l5.3 -9l-9.4 -2.1l-1.2 3.1M1203.1 455.9l5 -0.8l0.3 -0.4l9.4 1.2l1.9 -4.5M1203 444.9l3.7 0.5M1209.6 448.4l-1.2 6.3M1228.3 437.2l7.8 -3.3M1217.8 455.9l2.5 6.3l7.2 1M1208.1 455.1l1.6 5.8M1242.3 453.6l2.7 8.9M1217.2 473.4l-3.4 -1.4M1220.3 462.2l-1.2 0.8M1251.5 648.2l-0.1 8.8l6.6 1.5l4.9 11.6l-0.8 1.8l-7.1 0.9l-4.8 -5.1l0.4 -10.1l0.8 -0.6M1251.7 636.2l0.5 -0.7M1253.1 646l8.5 -2.2l2.1 2.5l12.8 1M1246.6 657.9l4 -0.3M1239.7 667.5l4.1 5.1l-0.3 5.8M1249.7 566.5l-2.8 0.1M828.5 620.9l0.3 0.2M881.5 582.7l10.7 0.3l2.3 12l5.2 0.2M905 576.7l-5.2 -9.7l-6.5 -0.6l-0.6 16.1l-0.5 0.5M899.4 581.8l-6.7 0.7M913.2 577.8l-2.5 -12.7M894.5 595l-2.3 2.2M892 565.5l1.3 0.9M899.8 567l6 -4M945.6 535.9l-3.7 4.4M920.1 537.8l-2.3 2.5l-11.6 -0.5l0.7 -10.3M928.7 539.3l2.1 2.5M929.1 551.8l-11.7 -0.6l0.4 -10.9M904.4 516.2l0.3 11.7M893.8 528.8l0.2 10.8l-1.4 1.3M810.2 538.1l12 -0.5M823.4 551.2l0.4 -0.4M840.1 700.7l1.5 -1.4M829.5 698.7l-0.7 -11.1l-1.1 -1.1l-11.2 2l-1.3 11.4M803.3 686.1l11.3 0.7l1 -13.3l-12.8 1.1M815.9 673.2l-0.3 0.3M814.6 686.8l1.9 1.7M827.8 674.2l-0.1 12.3M841.3 674l0.3 12.2M828.8 687.6l11.8 -0.5M1170.2 575.8l-8.6 3.7M1170.9 570.3l-9.3 -3.1M1161.1 580.1l-11.3 -5.2M1170.6 588.1l1.8 10.7l7.8 0.3l1.3 -11M1160.9 587.9l-1.9 2.2l-9.8 0.1l-1.5 -1.6l-0.9 -8.5M1160.4 568.3l-11 1.7M1180.2 599.1l3.3 3.6M1172.4 598.8l-3.3 1.9l2.7 10.4l-10.6 1.4l-1.6 -2.5l1.1 -7.8l1.6 -2.2l6.8 0.7M1135.6 578l-1.3 1.7M1204.9 643.5l11.3 3.9M1209 633.6l7.3 2M1181.5 635.3l2.2 -11.6l3 -2.5M1251.6 677.9l3.4 -5.1M1243.8 672.6l6.4 -4.9M1264.6 679.5l-2.5 -7.6M1201 681.2l-6.8 -3M1044.7 689.1l-3.5 3.5l-9.1 -1.5M1041.2 692.6l1.3 10.5M1029.8 740.1l-2.6 -8.8M1042.3 753.3l6.9 22.6M1041.8 727l-2.4 -7.8l-8.1 -0.4l-5.8 9.7M1124 689.9l5.5 6.5M1125.2 672.3l1.1 -3.8M1127.2 680.3l5.5 0.9l6.1 -4.1M1115.7 659.3l2.9 -13l-5.1 -2.3M1121.1 660.7l4.1 -3.3M1099 631l2.4 -8.9M1336.6 300.9l0.6 0.7l-0.4 6.9M1334 294.3l2 -2.6l0.8 -2.1M1327.2 294l1.7 -11.9M1338.4 259.8l5.1 1.9l2.1 8.2l-11 -0.1M1334.5 269.8l0.7 8.3M1343.5 261.7l4.4 -3.9M1345.6 269.9l0.2 0.2l1.4 4.1l0.3 0.4l6.4 0.4l3.8 -8.3l-3.8 -2.3l-8.1 5.7M1388.9 286.8l-1.1 5l-5.4 2.1l-3.1 -8.4l2.1 -3.6l6 1.9M1379.5 277.1l1.9 4.8M1371 268l-6.5 0.7l-1.6 -2.1l1 -5.8l2.8 -2.5M1374.2 277l-2.2 1.1l-7.5 -0.2l-0.8 -1.2l0.8 -8M1362.3 249.7l-5.1 3M1362.9 266.6l-5.2 0.1M1363.9 260.8l-7 -4.1M1353.2 259.9l0.7 4.5M1337.2 301.6l7.4 -1.3l1 -4.2l-9.6 -4.4M1329.6 311.8l-14.6 2.7M1317.2 302.1l-4.7 9.7M1211.4 472.7l-0.6 0.5M1202.3 469.9l-2.7 3.3M1209.8 476.4l-7.5 3.5M1263.7 646.3l-1.1 10l24.4 1.9M1262.6 656.3l-4.6 2.2M1262.5 616.9l-0.5 7.3M1274.1 612.6l0.6 12.5l0.8 0.7M1261.6 643.8l2.3 -8.2l8.8 2M1263.9 635.6l-1.3 -1.9M1274.7 625.1l-11.6 0.8M1262.9 670.1l27.3 -10.1M893.5 552.6l12.6 -1.2l-1.2 -10.1l-10.9 -1.7M1181.2 609.8l-6.7 3l-0.9 7.3l10.1 3.6M1159 590.1l3.3 9.9M1149.2 590.2l-3.4 10.6l-11.1 0.3l4.4 -12.4l8.6 -0.1M1028.9 715.1l2.4 3.7M1029.1 704.8l12.4 -0.1M1039.4 719.2l4.8 -5.2M1150 684.9l-1.4 4.6l1.1 3.1M1132.7 681.2l4.5 8.2l11.4 0.1M1347.2 274.2l-10.6 4.5M1353.9 275l1.3 0.8l-0.2 10.8l-8 -1.4l0.5 -10.6M1340.8 286.1l5.3 -0.3l0.6 8.9l-1.1 1.4M1344.6 300.3l4 4.4l6.3 -1l1.3 -0.9l0.1 -4.4l-2.2 -3l-7.4 -0.7M1365.5 330.1l-2.1 -2.9l-7.5 2.3M1372.7 330.8l1.6 -2.3l7.7 -1.2M1374.3 328.5l-0.7 -8.3l8.9 2.1M1373.6 320.2l-1.2 -1.3l-8.7 6.1l-3.2 -4.8l3.3 -8.1l0.5 -0.4l7.9 3.3l0.2 3.9M1400.8 310.8l-9.2 -0.7l-1.1 1l-0.8 7.7M1391.6 310.1l0.4 -6M1390.5 311.1l-8.8 -2.6l-4.1 2.4l6.7 9.7M906.2 539.8l-1.3 1.5M906.1 551.4l0.8 0.7M917.4 551.2l-0.8 0.6M1174.5 612.8l-2.7 -1.7M1173.6 620.1l-3 2.9M1165.3 622.9l-4.7 -4.7l0.6 -5.7M1113.8 598.1l3.7 6.6l11.2 -5.3l2.6 1.8l-1.9 7.1l-5.5 5.2l-7.6 -5.2l1.2 -3.6M1120 590.6l3 -0.6M1145.8 600.8l0.6 0.9l1.5 8.5l-1.9 3.6l-6.4 -0.1l-5.2 -12.5l0.3 -0.1M1139.1 588.7l-3.1 -1.9M1134.4 601.2l-3.1 0M1139.6 613.7l-3.9 2.4l-6.3 -7.8M1147.9 610.2l11.7 -0.2M1146.4 601.7l14.3 0.5M1146 613.8l2.2 6.3l2.6 2.5l9.8 -4.4M1111.8 610.8l4.5 -2.5M1111 621.9l0.5 0.5l0.4 9.2M1111.5 622.4l13.7 -0.3l-1.3 -8.6M1052.6 715.5l2.9 9.9M1149.8 700.5l-2.4 2.6M1137.2 689.4l-2.4 5.5M1142.7 702.6l-2.7 -1.4M1346.1 285.8l0.9 -0.6M1348.6 304.7l-3.1 6.5M1356.3 298.4l7.7 -5.4l2 1.1l6.3 -3l0.6 -3.3l-0.4 -0.6l-9.3 -3.4l-2 2.5l2.8 6.7M1356.2 302.8l7.1 2.8l4.9 -3.8l-2.2 -7.7M1354.1 295.4l0.9 -8.8l0 0M1354.9 303.7l0.1 9.1l-1.5 2l-7.5 -2M1343.7 318.6l2.1 4.7M1355 312.8l8.8 -0.7M1353.5 314.8l1.5 4.3l-2 2.1M1387.8 291.8l3.2 2.4M1379.3 285.5l-6.4 2.3M1382.4 293.9l-0.5 0.9l-5.8 0.2l-3 6l8.7 1.6l1.4 -2.5l-1.3 -5.3M1389.2 301l-6 -0.9M1377.6 310.9l-1.5 0.2l-3.9 3.9M1381.7 308.5l0.1 -5.9M1355 286.6l6.2 -0.3M1355.2 275.8l8.5 0.9M1372 278.1l0.5 9.1M1364.5 277.9l-1.3 5.9M1372.3 291.1l3.8 3.9M1368.2 301.8l3.2 0.5l4.7 8.8M1363.3 305.6l1 6.1M1126.2 592.8l2.5 6.6M1135.7 616.1l-4.3 7.6l2.9 2.5l3.3 6.8l-3.5 6l-9.4 -0.7l-2.4 -4.7l4.4 -10.3l4.7 0.4M1125.2 622.1l1.5 1.2M1113.7 633.4l8.6 0.2M1118.6 646.3l1.6 -0.4l5.9 3.5M1151 634.1l-13.4 -1.1M1151.5 633.8l-0.7 -11.2M1148.2 620.1l-13.9 6.1M1355 319.1l5.5 1.1M1363.4 327.2l0.3 -2.2M1371.4 302.3l1.7 -1.3M1120.2 645.9l4.5 -7.6M1136.3 648.2l-2.2 -9.2"/>
<g stroke="#6e6e6e" stroke-width="1.2" stroke-linejoin="round"><path fill="#fc8d59" d="M287.6 103L313.6 104.3L309.7 121.2L285 117.3Z"/><path fill="#fdcc8a" d="M282.4 118.6L309.7 122.5L300.6 135.5L295.4 145.9L282.4 138.1L272 135.5Z"/><path fill="#fdcc8a" d="M239.4 103L272 105.6L269.4 116L256.4 116L255.1 112.1L239.4 110.8Z"/><path fill="#fc8d59" d="M239.4 112.1L255.1 113.4L253.8 132.9L259 135.5L257.7 140.7L240.7 138.1Z"/><path fill="#fdcc8a" d="M259 135.5L272 136.8L282.4 140.7L295.4 147.2L294.1 153.8L269.4 148.5Z"/><path fill="#fdcc8a" d="M295.4 145.9L305.8 156.4L322.8 164.2L321.5 182.4L287.6 174.6L290.2 161.6Z"/><path fill="#fdcc8a" d="M322.8 166.8L337.1 168.1L339.7 190.2L320.2 188.9Z"/><path fill="#fc8d59" d="M326.7 143.3L347.5 130.3L354 130.3L347.5 161.6L337.1 166.8L325.4 164.2Z"/><path fill="#fc8d59" d="M337.1 168.1L365.7 169.4L368.3 177.2L360.5 182.4L357.9 192.8L339.7 190.2Z"/><path fill="#fc8d59" d="M376.1 135.5L391.8 135.5L391.8 159L373.5 159Z"/><path fill="#fc8d59" d="M393.1 138.1L406.1 138.1L406.1 157.7L393.1 157.7Z"/><path fill="#fc8d59" d="M368.3 159L386.6 159L387.9 182.4L368.3 182.4L365.7 169.4Z"/><path fill="#fc8d59" d="M389.2 166.8L400.9 166.8L400.9 182.4L395.7 190.2L384 195.4L385.3 182.4Z"/><path fill="#e34a33" d="M359.2 201.9L363.1 205.8L364.4 221.5L369.6 226.7L357.9 228L342.3 222.8L339.7 216.2L352.7 212.3Z"/><path fill="#e34a33" d="M439.9 177.2L456.9 172L458.2 164.2L466 164.2L467.3 185L459.5 191.5L438.6 188.9Z"/><path fill="#fc8d59" d="M475.1 159L482.9 169.4L498.5 177.2L501.1 200.6L488.1 203.2L481.6 185L473.8 174.6Z"/><path fill="#fc8d59" d="M251.1 156.4L270.7 159L269.4 174.6L259 172L252.4 169.4Z"/><path fill="#fdcc8a" d="M240.7 159L251.1 160.3L255.1 174.6L248.5 182.4L240.7 174.6Z"/><path fill="#fdcc8a" d="M251.1 187.6L272 190.2L273.3 201.9L266.8 207.1L252.4 201.9Z"/><path fill="#fc8d59" d="M226.4 192.8L240.7 194.1L239.4 204.5L226.4 203.2Z"/><path fill="#e34a33" d="M223.8 204.5L236.8 205.8L235.5 217.6L222.5 216.2Z"/><path fill="#fc8d59" d="M235.5 207.1L264.2 211L264.2 225.4L240.7 222.8L234.2 216.2Z"/><path fill="#fc8d59" d="M214.7 216.2L235.5 218.9L240.7 222.8L264.2 226.7L278.5 231.9L278.5 237.1L259 234.5L230.3 239.7L212.1 229.3Z"/><path fill="#fdcc8a" d="M196.5 229.3L212.1 226.7L230.3 239.7L212.1 247.5L196.5 252.7Z"/><path fill="#fc8d59" d="M235.5 156.4L245.9 157.7L244.6 169.4L234.2 169.4Z"/><path fill="#fdcc8a" d="M365.7 272.2L376.1 273.5L386.6 281.4L384 294.4L373.5 286.6Z"/><path fill="#fc8d59" d="M404.8 310L420.4 323L415.2 336L402.2 333.4Z"/><path fill="#e34a33" d="M456.9 294.4L464.7 294.4L488.1 299.6L485.5 313.9L454.3 315.2Z"/><path fill="#fc8d59" d="M467.3 294.4L482.9 289.2L498.5 302.2L498.5 316.5L486.8 316.5L488.1 299.6Z"/><path fill="#fdcc8a" d="M463.4 316.5L475.1 316.5L476.4 336L467.3 336Z"/><path fill="#fc8d59" d="M469.9 349.1L482.9 349.1L482.9 360L469.9 360Z"/><path fill="#fc8d59" d="M559.5 222.8L583 220.2L589.5 229.3L576.5 237.1L573.9 246.2L560.8 246.2Z"/><path fill="#b30000" d="M576.5 237.1L589.5 233.2L601.2 239.7L603.8 260.5L614.2 261.8L614.2 267L571.2 263.1L560.8 254L563.4 248.8L573.9 246.2Z"/><path fill="#e34a33" d="M663.7 299.6L693.6 300.9L702.8 289.2L710.6 290.5L709.3 312.6L693.6 313.9L692.3 307.4L663.7 306.1Z"/><path fill="#fc8d59" d="M581.7 313.9L614.2 315.2L612.9 347.8L579.1 346.5Z"/><path fill="#fc8d59" d="M808.2 200.6L826.5 200.6L826.5 217.6L808.2 217.6Z"/><path fill="#fdcc8a" d="M826.5 202.7L839.5 202.7L839.5 217.6L826.5 217.6Z"/><path fill="#fc8d59" d="M786.1 243.6L800.4 243.6L800.4 263.1L786.1 263.1Z"/><path fill="#fdcc8a" d="M822.6 286.6L836.9 286.6L836.9 295.7L822.6 295.7Z"/><path fill="#fc8d59" d="M823.9 308.7L838.2 308.7L838.2 317.8L823.9 317.8Z"/><path fill="#e34a33" d="M812.1 330.8L822.6 330.8L822.6 339.9L812.1 339.9Z"/><path fill="#fc8d59" d="M864.2 317.8L874.6 317.8L874.6 324.3L864.2 324.3Z"/><path fill="#fc8d59" d="M842.1 350.4L857.7 349.1L859 360L844.7 360Z"/><path fill="#fdcc8a" d="M903.3 151.1L915 153.8L924.1 156.9L931.9 164.2L933.2 208.4L909.8 208.4Z"/><path fill="#fc8d59" d="M865.5 244.9L883.8 243.6L889 254L886.4 257.9L866.8 255.3Z"/><path fill="#fdcc8a" d="M892.9 268.3L899.4 260.5L912.4 254L920.2 257.9L935.8 257.9L935.8 268.3L920.2 268.3L915 281.4L902 281.4Z"/><path fill="#fc8d59" d="M909.8 270.9L920.2 273.5L917.6 281.4L909.8 280.1Z"/><path fill="#fc8d59" d="M881.1 286.6L894.2 286.6L891.6 293.1Z"/><path fill="#e34a33" d="M904.6 304.8L916.3 304.8L916.3 313.9L904.6 313.9Z"/><path fill="#e34a33" d="M925.4 291.8L940 291.8L940 300.9L925.4 300.9Z"/><path fill="#fdcc8a" d="M189.1 431.2L195.6 446.9L202.1 457.3L196.9 469L203.4 485.9L207.3 499L213.8 514.6L219 527.6L215.1 541.9L225.5 548.4L238.5 552.3L246.4 557.6L254.2 568L264.6 573.2L271.1 581L277.6 583.6L281.5 588.8L295.8 566.7L342.7 550L371.4 557.6L350.5 527.6L299.7 519.8L291.9 504.2L289.3 483.3L282.8 461.2L264.6 462.5L235.9 454.7L202.1 439.1Z"/><path fill="#ffffff" d="M209.9 462.5L221.6 465.1L228.1 478.1L222.9 485.9L215.1 475.5Z"/><path fill="#ffffff" d="M235.9 456L281.5 462L280.2 470.3L241.1 471.6Z"/><path fill="#fdcc8a" d="M298.4 459.9L306.2 456L321.9 449.5L329.7 426L363.5 420.8L379.2 444.3L376.6 462.5L358.3 457.3L351.8 496.4L350.5 527.6Z"/><path fill="#fc8d59" d="M360 497.7L397.8 501.6L391.2 527.6L375.6 525L376.9 553.6L404.3 571.9L409.5 597.9L445.9 608.3L464.2 634.4L474.6 629.2L475.9 650L469.4 660.4L427.7 650L406.9 647.4L399.1 660.4L360 639.6Z"/><path fill="#e34a33" d="M397.8 501.6L434.2 505.5L430.3 522.4L412.1 530.2L409.5 548.4L430.3 561.5L451.1 579.7L447.2 594L409.5 597.9L404.3 571.9L376.9 553.6L375.6 525L391.2 527.6Z"/><path fill="#e34a33" d="M447.2 594L459 591.4L474.6 605.7L490.2 609.6L488.9 624L474.6 629.2L464.2 634.4L451.1 608.3Z"/><path fill="#fdcc8a" d="M434.2 505.5L481.1 512L472 605.7L459 591.4L451.1 579.7L430.3 561.5L409.5 548.4L412.1 530.2L430.3 522.4Z"/><path fill="#fc8d59" d="M481.1 512L500.6 514.6L499.3 556.2L495.4 558.9L490.2 609.6L474.6 605.7L472 605.7Z"/><path fill="#fc8d59" d="M475.9 629.2L488.9 624L501.9 624L508.4 657.8L474.6 651.3Z"/><path fill="#fdcc8a" d="M406.9 647.4L472 660.4L470.7 691.7L451.1 689.6L399.1 660.4Z"/><path fill="#fdcc8a" d="M472 660.4L509.7 660.4L508.4 695.6L470.7 691.7Z"/><path fill="#fc8d59" d="M399.1 480.7L429 487.2L427.7 502.9L397.8 500.3Z"/><path fill="#fdcc8a" d="M360 420.8L380.8 433.9L379.5 499L360 496.4Z"/><path fill="#e34a33" d="M533.2 432.6L561.8 432.6L577.4 422.1L582.7 426L581.4 443L533.2 440.4Z"/><path fill="#fdcc8a" d="M531.9 441.7L570.9 444.3L560.5 452.1L547.5 459.9L546.2 469L530.6 467.7Z"/><path fill="#e34a33" d="M594.4 414.3L615.2 414.3L617.8 428.6L611.3 435.2L595.7 426Z"/><path fill="#fdcc8a" d="M612.6 400L669.9 400L669.9 413L654.3 413L654.3 428.6L633.4 428.6L633.4 418.2L616.5 418.2Z"/><path fill="#fdcc8a" d="M624.3 432.6L663.4 432.6L663.4 443L641.2 443L638.6 456L623 456Z"/><path fill="#fc8d59" d="M624.3 432.6L630.8 432.6L629.5 444.3L623 456Z"/><path fill="#fc8d59" d="M632.1 458.6L655.6 458.6L654.3 476.8L632.1 476.8Z"/><path fill="#fdcc8a" d="M607.4 470.3L632.1 470.3L632.1 483.3L610 483.3Z"/><path fill="#fdcc8a" d="M630.8 478.1L654.3 478.1L653 500.3L642.6 497.7L629.5 492.4Z"/><path fill="#b30000" d="M619.1 495.1L642.6 497.7L636 509.4L625.6 514.6L624.3 504.2Z"/><path fill="#fc8d59" d="M603.5 500.3L617.8 500.3L615.2 512L603.5 510.7Z"/><path fill="#fdcc8a" d="M547.5 500.3L564.4 500.3L564.4 517.2L543.6 517.2Z"/><path fill="#fc8d59" d="M559.2 545.8L577.4 545.8L578.8 554.9L591.8 554.9L591.8 578.4L568.3 578.4L565.7 556.2Z"/><path fill="#fdcc8a" d="M594.4 556.2L607.4 556.2L606.1 584.9L593.1 584.9Z"/><path fill="#fdcc8a" d="M568.3 579.7L593.1 579.7L593.1 588.8L568.3 587.5Z"/><path fill="#fc8d59" d="M567 587.5L585.3 588.8L585.3 603.1L568.3 597.9Z"/><path fill="#fc8d59" d="M658.2 603.1L675.1 592.7L675.1 612.2L658.2 612.2Z"/><path fill="#fdcc8a" d="M557.9 656.5L584 648.7L584 679.9L576.1 686.5L557.9 685.2Z"/><path fill="#fdcc8a" d="M576.1 682.6L591.8 682.6L591.8 700L581.4 694.3Z"/><path fill="#fc8d59" d="M459 400L474.6 400L482.4 407.8L487.6 419.5L474.6 418.2L466.8 413L460.3 415.6Z"/><path fill="#fdcc8a" d="M360 423.4L375.6 433.9L375.6 459.9L360 461.2Z"/><path fill="#fc8d59" d="M400.4 480.7L429 487.2L428.2 502.9L398.5 500.3Z"/></g><g stroke="#6e6e6e" stroke-width="1.2" stroke-linejoin="round"><path fill="#fdcc8a" d="M1379.9 305.1L1382.9 301.4L1387.8 298L1395.1 294.4L1403.6 289.5L1409 284.7L1412.1 282.2L1413.3 286.1L1416.9 284.7L1420.3 282.5L1418.1 286.9L1414.5 290.8L1407.2 296.8L1399.9 304.1L1392.6 309.6L1385.3 312.6L1381.7 311.7Z"/></g>
</g>
<g clip-path="url(#c11)"><path d="M193.8 440.9L197 443.2L200.3 445.4L203.8 447.4L207.2 449.4L210.8 451.2L214.4 452.9L218 454.4L221.7 455.8L225.5 457.1L229.3 458.3L233.1 459.3L237 460.2L240.9 461L244.8 461.6L248.8 462.1L252.8 462.4L256.7 462.6L260.7 462.7L264.7 462.6L268.6 462.4L272.6 462.1L276.6 461.6L280.5 461L284.4 460.2L288.3 459.3L292.1 458.3L295.9 457.1L299.7 455.8L303.4 454.4L307 452.9L310.6 451.2L314.2 449.4L317.6 447.4L321.1 445.4L324.4 443.2L327.6 440.9L330.8 438.6L333.9 436.1L336.9 433.4L339.8 430.7L342.6 427.9L345.3 425L348 422L350.5 418.9L352.8 415.7L355.1 412.5L357.3 409.2L359.3 405.8L361.3 402.3L363.1 398.7L364.8 395.1L366.3 391.5L367.7 387.8L369 384L370.2 380.2L371.2 376.4L372.1 372.5L372.9 368.6L373.5 364.7L374 360.7L374.3 356.7L374.5 352.8L374.6 348.8L374.5 344.8L374.3 340.9L374 336.9L373.5 332.9L372.9 329L372.1 325.1L371.2 321.2L370.2 317.4L369 313.6L367.7 309.8L366.3 306.1L364.8 302.5L363.1 298.9L361.3 295.3L359.3 291.8L357.3 288.4L355.1 285.1L352.8 281.9L350.5 278.7L348 275.6L345.3 272.6L342.6 269.7L339.8 266.9L336.9 264.2L333.9 261.5L330.8 259L327.6 256.7L324.4 254.4L321.1 252.2L317.6 250.2L314.2 248.2L310.6 246.4L307 244.7L303.4 243.2L299.7 241.8L295.9 240.5L292.1 239.3L288.3 238.3L284.4 237.4L280.5 236.6L276.6 236L272.6 235.5L268.6 235.2L264.7 235L260.7 234.9L256.7 235L252.8 235.2L248.8 235.5L244.8 236L240.9 236.6L237 237.4L233.1 238.3L229.3 239.3L225.5 240.5L221.7 241.8L218 243.2L214.4 244.7L210.8 246.4L207.2 248.2L203.7 250.2L200.3 252.2L197 254.4L193.8 256.7L190.9 258.8L190.6 261.8L189.5 269.7L188.4 285.5L186.1 299L181.6 312.6L172.6 328.4L171.4 337.4L177.1 348.7L178.2 364.5L174.8 380.3L181.6 391.6L185 407.4L187.2 416.4L195.1 420.9L198.5 416.4L200.8 422L195.1 431.1L192 435.3L193.4 440.7Z" fill="#fff"/><g stroke="#5e5e5e" stroke-width="1.4" stroke-linejoin="round"><path fill="#fc8d59" d="M230.1 241.4L256.1 233.5L258.4 236.9L255 248.2L249.3 251.6L240.3 248.2L235.8 244.8Z"/><path fill="#fc8d59" d="M258.4 233.5L278.7 235.8L285.4 247.1L294.5 256.1L300.1 259.5L267.4 250.5L255 248.2L258.4 236.9Z"/><path fill="#fdcc8a" d="M206.4 247.1L230.1 241.4L235.8 244.8L240.3 248.2L249.3 251.6L250.5 257.2L247.1 262.9L235.8 266.3L226.7 268.5L215.5 266.3L207.6 261.8Z"/><path fill="#fdcc8a" d="M197.4 257.2L206.4 247.1L207.6 261.8L200.8 262.9Z"/><path fill="#fdcc8a" d="M217.7 268.5L226.7 268.5L235.8 266.3L241.4 265.1L234.7 294.5L214.3 290Z"/><path fill="#fdcc8a" d="M241.4 265.1L247.1 262.9L250.5 257.2L249.3 251.6L255 248.2L267.4 250.5L261.7 278.7L270.8 284.3L267.4 304.7L234.7 294.5Z"/><path fill="#ffffff" d="M267.4 250.5L300.1 259.5L294.5 285.5L305.8 290L301.2 312.6L267.4 304.7L270.8 284.3L261.7 278.7Z"/><path fill="#ffffff" d="M300.1 259.5L305.8 251.6L337.4 267.4L328.3 319.3L301.2 312.6L305.8 290L294.5 285.5Z"/><path fill="#fc8d59" d="M187.2 306.9L196.3 303.5L200.8 312.6L194 328.4L188.4 349.8L177.1 348.7L171.4 337.4L172.6 328.4L181.6 312.6Z"/><path fill="#fc8d59" d="M203 290L251.6 302.4L247.1 326.1L222.2 321.6L215.5 317.1L207.6 319.3L199.7 310.3L198.5 299Z"/><path fill="#ffffff" d="M195.1 323.8L207.6 319.3L215.5 317.1L222.2 319.3L217.7 328.4L210.9 337.4L203 345.3L200.8 353.2L189.5 349.8L194 328.4Z"/><path fill="#ffffff" d="M251.6 302.4L285.4 311.4L279.8 335.1L247.1 326.1Z"/><path fill="#fdcc8a" d="M204.2 344.2L210.9 337.4L217.7 328.4L222.2 321.6L247.1 326.1L243.7 350.9L235.8 348.7L224.5 347.5L213.2 346.4Z"/><path fill="#fc8d59" d="M247.1 326.1L279.8 335.1L273 373.5L267.4 382.5L266.3 364.5L256.1 360L249.3 357.7L243.7 350.9Z"/><path fill="#fc8d59" d="M285.4 312.6L300.1 315.9L287.7 388.2L278.7 391.6L273 400.6L267.4 398.3L273 373.5L279.8 335.1Z"/><path fill="#fc8d59" d="M177.1 348.7L200.8 355.4L199.7 364.5L194 373.5L190.6 389.3L181.6 391.6L174.8 380.3L178.2 364.5Z"/><path fill="#ffffff" d="M201.9 346.4L224.5 347.5L235.8 348.7L240.3 355.4L238 360L222.2 364.5L217.7 369L200.8 362.2Z"/><path fill="#ffffff" d="M200.8 364.5L217.7 369L220 384.8L205.3 396.1L198.5 400.6L192.9 389.3L194 373.5Z"/><path fill="#fc8d59" d="M222.2 366.7L236.9 361.1L240.3 375.8L242.6 380.3L233.5 384.8L224.5 382.5Z"/><path fill="#ffffff" d="M240.3 355.4L249.3 357.7L256.1 360L266.3 364.5L267.4 380.3L244.8 376.9L238 366.7Z"/><path fill="#fc8d59" d="M220 384.8L233.5 384.8L242.6 380.3L244.8 376.9L267.4 381.4L267.4 388.2L258.4 387.5L240.3 388.2L235.8 393.8L226.7 394.9L220 398.3Z"/><path fill="#fc8d59" d="M226.7 394.9L235.8 393.8L240.3 388.8L258.4 388.2L267.8 389.3L273 400.6L262.9 400.6L244.8 396.1L235.8 401.7L226.7 405.1Z"/><path fill="#fdcc8a" d="M235.8 402.8L244.8 397.2L262.9 400.6L264 407.4L258.4 414.1L244.8 415.3L236.9 410.7Z"/><path fill="#e34a33" d="M264 402.8L273 404L280.9 408.5L276.4 410.7L277.5 420.9L271.9 416.4Z"/><path fill="#fdcc8a" d="M180.5 391.6L190.6 389.3L198.5 400.6L200.8 416.4L195.1 420.9L187.2 416.4L185 407.4Z"/><path fill="#fc8d59" d="M198.5 400.6L205.3 396.1L208.7 411.9L201.9 416.4Z"/><path fill="#fdcc8a" d="M205.3 396.1L220 398.3L226.7 405.1L233.5 407.4L234.7 420.9L224.5 423.2L217.7 420.9L208.7 411.9Z"/><path fill="#fdcc8a" d="M208.7 411.9L217.7 420.9L217.7 422L201.9 422L201.9 416.4Z"/><path fill="#fc8d59" d="M201.9 422L217.7 422L215.5 432.2L206.4 432.2Z"/><path fill="#fdcc8a" d="M195.1 431.1L206.4 432.2L215.5 432.2L217.7 440.1L215.5 450.2L201.9 440.1Z"/><path fill="#fdcc8a" d="M220 422L232.4 420.9L234.7 429.9L231.3 436.7L217.7 440.1L217.7 432.2Z"/><path fill="#fc8d59" d="M234.7 423.2L256.1 418.6L247.1 427.7L240.3 436.7L235.8 431.1Z"/><path fill="#ffffff" d="M235.8 415.3L258.4 414.1L268.5 418.6L271.9 427.7L267.4 436.7L256.1 443.5L244.8 442.3L240.3 436.7L247.1 427.7L256.1 418.6L234.7 422Z"/><path fill="#fc8d59" d="M217.7 441.2L231.3 436.7L236.9 434.4L244.8 443.5L226.7 452.5L215.5 450.2Z"/><path fill="#fdcc8a" d="M226.7 452.5L244.8 445.7L249.3 460.4L235.8 457Z"/><path fill="#ffffff" d="M244.8 443.5L256.1 443.5L267.4 436.7L276.4 450.2L271.9 457L251.6 460.4Z"/><path fill="#fdcc8a" d="M306.9 416.4L348.6 418.6L321.6 444.6L314.8 432.2Z"/><path fill="#fdcc8a" d="M271.9 457L279.8 455.9L283.2 462.7L269.6 462.7Z"/></g><path fill="none" stroke="#5e5e5e" stroke-width="1.4" d="M188.4 285.5L371.2 330.6M337.4 267.4L328.3 319.3M361.1 294.5L354.3 326.1M305.8 251.6L308 247.1M294.5 348.7L305.8 349.8L308 355.4L330.6 361.1L332.8 366.7L340.7 369L346.4 357.7L367.8 362.2M354.3 326.1L348.6 357.7M340.7 369L330.6 387L328.3 400.6L318.2 414.1M287.7 378L330.6 387M357.7 361.1L348.6 416.4M288.8 409.6L318.2 414.1M285.4 388.2L288.8 391.6L283.2 402.8L287.7 409.6L285.4 427.7L280.9 424.3M265.1 400.6L299 454.8M287.7 409.6L296.7 454.8M296.7 454.8L314.8 436.7M276.4 450.2L267.4 436.7M190.6 261.8L198.5 257.2M198.5 285.5L200.8 262.9M256.1 443.5L251.6 460.4M271.9 427.7L277.5 420.9"/></g><g clip-path="url(#c12)"><path d="M398 658.5L399.4 656.5L400.7 654.5L401.9 652.5L403 650.4L404.1 648.3L405.1 646.2L406 644L406.9 641.8L407.7 639.5L408.4 637.2L409 635L409.5 632.6L410 630.3L410.3 628L410.6 625.6L410.8 623.2L411 620.9L411 618.5L411 616.1L410.8 613.8L410.6 611.4L410.3 609L410 606.7L409.5 604.4L409 602L408.4 599.8L407.7 597.5L406.9 595.2L406 593L405.1 590.8L404.1 588.7L403 586.6L401.9 584.5L400.7 582.5L399.4 580.5L398 578.5L396.6 576.6L395.1 574.8L393.5 573L391.9 571.3L390.2 569.6L388.5 568L386.7 566.4L384.9 564.9L383 563.5L381 562.1L379 560.8L377 559.6L374.9 558.5L372.8 557.4L370.7 556.4L368.5 555.5L366.3 554.6L364 553.8L361.7 553.1L359.5 552.5L357.1 552L354.8 551.5L352.5 551.2L350.1 550.9L347.7 550.7L345.4 550.5L343 550.5L340.6 550.5L338.3 550.7L335.9 550.9L333.5 551.2L331.2 551.5L328.9 552L326.5 552.5L324.3 553.1L322 553.8L319.7 554.6L317.5 555.5L315.3 556.4L313.2 557.4L311.1 558.5L309 559.6L307 560.8L305 562.1L303 563.5L301.1 564.9L299.3 566.4L297.5 568L295.8 569.6L294.1 571.3L292.5 573L290.9 574.8L289.4 576.6L288 578.5L286.6 580.5L285.3 582.5L284.1 584.5L283 586.6L282.6 587.3L282.8 587.5L288 594L291.9 608.3L291.9 616.1L294.5 624.5L366.1 630.5L357 637.5L396.1 659.9L396.7 660.2Z" fill="#fff"/><g stroke="#5e5e5e" stroke-width="1.4" stroke-linejoin="round"><path fill="#fdcc8a" d="M275 545.8L413 545.8L413 587.5L392.2 586.2L381.8 579.7L376.6 569.3L372.7 558.9L376.6 587.5L350.5 586.2L306.2 579.2L291.9 577.1L284.1 586.2L275 586.2Z"/><path fill="#fdcc8a" d="M284.1 586.2L291.9 577.1L306.2 579.2L350.5 586.2L376.6 587.5L381.8 579.7L376.6 569.3L372.7 558.9L358.3 545.8L275 545.8L275 586.2Z"/><path fill="#e34a33" d="M372.7 556.2L376.6 569.3L381.8 579.7L392.2 586.2L402.6 587.5L413 587.5L413 545.8L368.8 545.8Z"/><path fill="#fc8d59" d="M284.1 586.2L291.9 577.1L306.2 579.2L350.5 586.2L376.6 587.5L372.7 588.8L371.4 597.9L367.4 605.7L363.5 613.5L364.8 621.4L373.4 622.7L374 611.5L383.1 612.2L401.3 615.6L402.6 587.5L413 587.5L413 644.8L396.1 644.8L396.1 660.4L357 637.5L366.1 630.5L294.5 624.5L291.9 616.1L291.9 608.3L288 594Z"/><path fill="#ffffff" d="M372.7 588.8L402.6 587.5L401.3 615.6L383.1 612.2L374 611.5L373.4 622.7L364.8 621.4L363.5 613.5L367.4 605.7L371.4 597.9Z"/><path fill="#fdcc8a" d="M396.1 644.8L413 644.8L413 660.4L396.1 660.4Z"/></g><path fill="none" stroke="#5e5e5e" stroke-width="1.4" d="M290.6 594L327.1 603.1L367.4 608.3M327.1 603.1L323.2 626M374 611.5L366.1 630.5M401.3 615.6L394.8 657.8M401.3 597.9L413 597.9M284.1 586.2L290.6 594L291.9 582.3"/></g><g clip-path="url(#c3)"><path d="M1286.8 825.3L1288.2 825L1289.5 824.6L1290.8 824.1L1292.1 823.6L1293.4 823.1L1294.6 822.5L1295.9 821.8L1297.1 821.2L1298.3 820.5L1299.5 819.7L1300.6 818.9L1301.7 818.1L1302.8 817.2L1303.8 816.3L1304.8 815.3L1305.8 814.3L1306.8 813.3L1307.7 812.3L1308.6 811.2L1309.4 810.1L1310.2 809L1311 807.8L1311.7 806.6L1312.3 805.4L1313 804.1L1313.6 802.9L1314.1 801.6L1314.6 800.3L1315.1 799L1315.5 797.7L1315.8 796.3L1316.1 795L1316.4 793.6L1316.6 792.2L1316.8 790.9L1316.9 789.5L1317 788.1L1317 786.7L1317 785.3L1316.9 783.9L1316.8 782.5L1316.6 781.2L1316.4 779.8L1316.1 778.4L1315.8 777.1L1315.5 775.7L1315.1 774.4L1314.6 773.1L1314.1 771.8L1313.6 770.5L1313 769.3L1312.3 768L1311.7 766.8L1311 765.6L1310.2 764.4L1309.4 763.3L1308.6 762.2L1307.7 761.1L1306.8 760.1L1305.8 759.1L1304.8 758.1L1303.8 757.1L1302.8 756.2L1301.7 755.3L1300.6 754.5L1299.5 753.7L1298.3 752.9L1297.1 752.2L1295.9 751.6L1294.6 750.9L1293.4 750.3L1292.1 749.8L1290.8 749.3L1289.5 748.8L1288.2 748.4L1286.8 748.1L1285.5 747.8L1284.1 747.5L1282.7 747.3L1281.4 747.1L1280 747L1278.6 746.9L1277.2 746.9L1275.8 746.9L1274.4 747L1273 747.1L1271.7 747.3L1270.3 747.5L1268.9 747.8L1267.6 748.1L1266.2 748.4L1264.9 748.8L1263.6 749.3L1262.3 749.8L1261 750.3L1259.8 750.9L1258.5 751.6L1257.3 752.2L1256.1 752.9L1254.9 753.7L1253.8 754.5L1252.7 755.3L1251.6 756.2L1250.6 757.1L1249.6 758.1L1248.6 759.1L1247.6 760.1L1246.7 761.1L1245.8 762.2L1245 763.3L1244.2 764.4L1243.4 765.6L1243.3 765.9L1243.9 771.5L1247.4 778.4L1250.4 783.6L1254.3 788L1258.6 794L1263 799.2L1266.5 804.4L1269.1 810.5L1273.4 812.3L1276.9 811.4L1280.3 815.7L1283 821.8L1285.5 825.6L1285.6 825.6L1285.4 825.3L1286.4 825.4Z" fill="#fff"/><g stroke="#5e5e5e" stroke-width="1.4" stroke-linejoin="round"><path fill="#fc8d59" d="M1238.7 743.7L1321.1 743.7L1321.1 830.5L1238.7 830.5Z"/><path fill="#fdcc8a" d="M1263.4 755.4L1266.5 752.4L1271.7 750.6L1275.1 750.2L1278.6 753.2L1282.1 757.6L1286.4 761.9L1289.9 765.4L1292.5 768.4L1285.6 769.7L1268.2 772.8L1265.6 763.6Z"/><path fill="#e34a33" d="M1308.1 768.9L1317.7 768.9L1317.7 777.5L1309.4 778.4Z"/><path fill="#ffffff" d="M1292.5 768.4L1302 767.6L1306.4 769.7L1308.1 778.4L1306.4 785.3L1304.7 787.1L1302.9 781.9L1299.4 780.1L1296 775.8L1293.4 773.2Z"/><path fill="#e34a33" d="M1282.1 772.3L1292.1 769.7L1293.4 773.2L1296 775.8L1299.4 780.1L1295.1 783.2L1294.7 785.3L1292.5 786.2L1292.1 788L1285.1 789.3L1283.8 781.9Z"/><path fill="#ffffff" d="M1268.2 774.1L1281.2 772.3L1282.5 780.6L1269.5 782.7Z"/><path fill="#ffffff" d="M1269.5 782.7L1282.5 780.6L1283.8 789.7L1271.2 792.3Z"/><path fill="#ffffff" d="M1295.1 783.2L1299.4 781.9L1302.9 782.3L1304.7 787.1L1304.7 794L1286.4 797.9L1285.6 790.6L1292.1 788.4L1292.5 786.2L1294.7 785.3Z"/><path fill="#ffffff" d="M1286.4 798.8L1304.7 794.9L1307.3 809.7L1297.7 812.3L1296 804.4L1288.2 805.3Z"/><path fill="#fdcc8a" d="M1283 814L1285.6 810.5L1287.7 809.2L1289 806.6L1295.1 805.3L1297.3 812.3L1307.3 810.1L1316.8 808.8L1308.1 830.5L1286.4 827L1283 820.9Z"/></g><path fill="none" stroke="#5e5e5e" stroke-width="1.4" d="M1248.7 761L1263.4 758.4L1263.4 755.4M1263.4 758.4L1265.6 763.6M1268.2 772.8L1255.2 775.8M1254.3 784.5L1263 783.2L1263.9 788L1269.1 787.1M1268.2 773.2L1269.9 793.2M1265.6 794.9L1269.9 793.2L1283.8 791.4M1273.4 801.1L1285.6 799.1M1285.6 799.1L1287.3 808.8M1283.8 790.6L1286.4 798.4M1299.4 767.6L1300.3 760.2L1299.4 752.4M1300.3 761L1304.7 760.2L1305.5 761.9L1311.2 767.6L1308.1 768.9M1306.4 785.8L1314.6 778.4M1306.4 787.1L1315.9 785.3M1304.7 794L1307.3 809.7M1275.1 750.2L1278.6 753.2L1282.1 757.6L1286.4 761.9L1289.9 765.4L1292.5 768.4"/></g><g clip-path="url(#c15)"><path d="M901.4 708.5L901.3 706.4L901.1 704.3L900.8 702.2L900.5 700.1L900.1 698L899.6 695.9L899.1 693.9L898.4 691.9L897.7 689.9L897 687.9L896.2 686L895.3 684L894.3 682.2L893.3 680.3L892.2 678.5L891 676.7L889.8 675L888.6 673.3L887.2 671.6L885.8 670.1L884.4 668.5L882.9 667L881.3 665.6L879.8 664.2L878.1 662.8L876.4 661.6L874.7 660.4L872.9 659.2L871.1 658.1L869.2 657.1L867.4 656.1L865.4 655.2L863.5 654.4L861.5 653.7L859.5 653L857.5 652.3L855.5 651.8L853.4 651.3L851.3 650.9L849.2 650.6L847.1 650.3L845 650.1L842.9 650L840.8 650L838.7 650L836.6 650.1L834.5 650.3L832.4 650.6L830.3 650.9L828.2 651.3L826.1 651.8L824.1 652.3L822.1 653L820.1 653.7L818.1 654.4L816.2 655.2L814.2 656.1L812.4 657.1L810.5 658.1L808.7 659.2L806.9 660.4L805.2 661.6L803.5 662.8L801.8 664.2L800.3 665.6L798.7 667L797.2 668.5L795.8 670.1L794.4 671.6L793 673.3L791.8 675L790.6 676.7L789.4 678.5L788.3 680.3L787.3 682.2L786.3 684L785.4 686L784.6 687.9L783.9 689.9L783.2 691.9L782.5 693.9L782 695.9L781.5 698L781.1 700.1L780.8 702.2L780.5 704.3L780.3 706.4L780.2 708.5L780.2 710.6L780.2 712.7L780.3 714.8L780.5 716.9L780.8 719L781.1 721.1L781.5 723.2L782 725.3L782.5 727.3L783.2 729.3L783.9 731.3L784.6 733.3L785.4 735.2L786.3 737.2L787.3 739L788.3 740.9L789.4 742.7L790.6 744.5L791.8 746.2L793 747.9L794.4 749.6L795.8 751.1L797.2 752.7L798.7 754.2L800.3 755.6L801.8 757L803.5 758.4L805.2 759.6L806.9 760.8L808.7 762L810.5 763.1L812.4 764.1L814.2 765.1L816.2 766L818.1 766.8L820.1 767.5L822.1 768.2L824.1 768.9L826.1 769.4L828.2 769.9L830.3 770.3L832.4 770.6L834.5 770.9L836.6 771.1L838.7 771.2L840.8 771.2L842.9 771.2L845 771.1L847.1 770.9L849.2 770.6L851.3 770.3L853.4 769.9L855.5 769.4L857.5 768.9L859.5 768.2L861.5 767.5L863.5 766.8L865.4 766L867.4 765.1L869.2 764.1L871.1 763.1L872.9 762L874.7 760.8L876.4 759.6L878.1 758.4L879.8 757L881.3 755.6L882.9 754.2L884.4 752.7L885.8 751.1L887.2 749.6L888.6 747.9L889.8 746.2L891 744.5L892.2 742.7L893.3 740.9L894.3 739L895.3 737.2L896.2 735.2L897 733.3L897.7 731.3L898.4 729.3L899.1 727.3L899.6 725.3L900.1 723.2L900.5 721.1L900.8 719L901.1 716.9L901.3 714.8L901.4 712.7L901.4 710.6Z" fill="#fff"/><g stroke="#5e5e5e" stroke-width="1.4" stroke-linejoin="round"><path fill="#b30000" d="M787.4 685.6L796.4 681.4L801.2 689.7L806.8 693.2L799.9 696.7L792.9 696Z"/><path fill="#e34a33" d="M797.1 713.3L805.4 706.4L813.8 718.2L799.9 718.9Z"/><path fill="#e34a33" d="M799.9 719.6L813.8 718.9L815.1 722.4L808.2 736.2L802.6 732.8L801.2 727.2Z"/><path fill="#fdcc8a" d="M823.5 656.4L836.7 656.4L836.7 670.3L823.5 670.3Z"/><path fill="#fdcc8a" d="M838.1 656.4L851.2 656.4L851.2 670.3L838.1 670.3Z"/><path fill="#fdcc8a" d="M822.1 671L835.3 671L835.3 681.4L822.1 681.4Z"/><path fill="#fdcc8a" d="M836.7 670.3L851.2 670.3L853.3 674.4L851.9 678.6L842.2 684.2L836.7 677.2Z"/><path fill="#fc8d59" d="M809.6 671.7L820.7 671L820.7 676.5L813.1 678.6Z"/><path fill="#fdcc8a" d="M823.5 700.8L838.1 691.8L842.9 700.8L829 709.9Z"/><path fill="#fdcc8a" d="M815.8 720.3L829.7 710.6L836 718.9L831.1 725.8L815.8 723.1Z"/><path fill="#fdcc8a" d="M811.7 731.4L815.8 723.8L831.1 726.5L834.6 734.2L829.7 736.9L818.6 736.9Z"/><path fill="#fdcc8a" d="M811.7 732.8L818.6 737.6L828.3 736.9L825.6 745.3L815.8 750.8L807.5 742.5Z"/><path fill="#fdcc8a" d="M806.8 743.2L818.6 752.2L811.7 757.1L804 752.2Z"/><path fill="#fdcc8a" d="M801.2 752.2L804 752.2L811.7 757.1L810.3 761.2Z"/><path fill="#fdcc8a" d="M811.7 761.9L816.5 757.8L821.4 763.3L818.6 767.5Z"/><path fill="#e34a33" d="M833.2 757.1L845.7 746.7L851.2 750.1L845.7 760.6L838.1 761.2Z"/><path fill="#fdcc8a" d="M852.6 728.6L860.3 720.3L863.8 736.9L858.9 735.6Z"/><path fill="#fdcc8a" d="M873.5 732.1L883.9 732.8L890.8 741.1L886.7 745.3L879.7 743.2L874.2 746Z"/><path fill="#fdcc8a" d="M865.1 743.2L872.8 742.5L874.2 746.7L873.5 755.7L867.2 755Z"/><path fill="#fdcc8a" d="M870.7 747.4L879.7 743.9L888.1 746L881.1 753.6L873.5 756.4Z"/><path fill="#fdcc8a" d="M868.6 759.2L875.6 755.7L877.6 759.2L871.4 763.3Z"/><path fill="#fc8d59" d="M861 765.4L865.8 761.9L867.9 764L864.4 767.5Z"/><path fill="#fdcc8a" d="M876.9 665.4L882.5 663.3L895 677.2L881.1 679.3L879.7 673.1Z"/><path fill="#fc8d59" d="M851.9 655.7L856.1 655.7L855.8 659.4L852.6 659.4Z"/><path fill="#b30000" d="M883.9 715.4L895 705.7L897.8 710.6L890.8 720.3L888.1 720.3Z"/><path fill="#b30000" d="M890.8 721L899.9 712.6L901.2 720.3L897.1 728.6L892.2 725.8Z"/><path fill="#fc8d59" d="M895.7 691.1L903.3 689.7L903.3 707.8L898.5 707.8L897.1 699.4Z"/></g><path fill="none" stroke="#5e5e5e" stroke-width="1.4" d="M778.3 705L790.8 706.4L797.1 713.3M790.8 706.4L787.4 699.4L792.9 696M783.9 723.1L799.9 722.4M785.3 735.6L802.6 733.5M796.4 736.9L797.8 748.1L804 752.2M806.8 693.2L815.8 686.9L810.3 678.6L799.2 671.7M815.8 686.9L823.5 700.8M810.3 678.6L820.7 676.5M799.9 696.7L808.2 705.7L805.4 706.4M808.2 705.7L823.5 700.8M813.8 718.2L823.5 711.9L829 709.9M825.6 682.8L831.1 695.3L838.1 691.8M825.6 682.8L835.3 681.4M815.8 686.9L825.6 682.8M842.2 684.2L847.8 695.3L842.9 700.8M847.8 695.3L858.9 689.7L853.3 678.6M858.9 689.7L865.8 684.9L861.7 677.2L853.3 674.4M865.8 684.9L872.8 696.7L858.9 703.6L847.8 695.3M842.9 700.8L849.2 711.9L836 718.9M849.2 711.9L858.9 707.8L858.9 703.6M858.9 707.8L860.3 720.3M872.8 696.7L875.6 707.8L867.2 716.1L860.3 720.3M861.7 677.2L878.3 674.4L879.7 673.1M878.3 674.4L882.5 691.1L872.8 696.7M882.5 691.1L893.6 688.3L895 677.2M882.5 691.1L885.3 702.2L875.6 707.8M885.3 702.2L895 705.7M851.9 670.3L853.3 664.7L864.4 663.3L865.8 671.7L861.7 677.2M864.4 663.3L865.8 657.8M865.8 671.7L878.3 674.4M875.6 661.9L876.9 665.4M810.3 661.9L810.3 670.3L823.5 670.3M797.8 671.7L810.3 670.3M831.1 725.8L845 718.9L849.2 711.9M845 718.9L852.6 728.6M834.6 734.2L845 730L852.6 728.6M845 730L850.6 739.7L845.7 746.7M850.6 739.7L858.9 735.6M829.7 736.9L838.1 748.1L833.2 757.1M825.6 745.3L831.1 755L818.6 752.2M831.1 755L833.2 757.1M851.2 750.1L860.3 745.3L863.8 736.9M860.3 745.3L867.2 755M845.7 760.6L853.3 768.9M851.2 750.1L858.9 759.2L868.6 759.2M835.3 768.9L838.1 761.2M821.4 763.3L831.1 755M867.2 716.1L875.6 718.9L873.5 732.1M875.6 718.9L885.3 718.9L888.1 720.3M885.3 718.9L886.7 734.2M892.2 725.8L895 735.6L890.8 741.1M863.8 736.9L873.5 732.1"/></g>
<path fill="#b30000" d="M1165.3 406.8L1169 405.4L1180.1 405.4L1182 414.2L1175 415.7L1166.1 416.4Z"/><path fill="#e34a33" d="M841.1 641.8L854.5 641.8L854.5 643.2L856.8 643.2L856.8 655.7L841.1 655.7Z"/><path fill="#b30000" d="M812 826.6L824 827.6L835.5 828.6L835.5 838L826 837.4L822 839L814 839L812 836Z"/><path fill="#b30000" d="M1070.5 583.5L1086.5 582.3L1087.2 590.2L1071 591.5Z"/>
</g>
</defs>
<rect width="1536" height="1152" fill="#fff"/>
<use href="#map" opacity="0.3" color="#7c7c7c"/>
<path d="M1381.7 311.7L1385.3 312.6L1392.6 309.6L1399.9 304.1L1407.2 296.8L1414.5 290.8L1418.1 286.9L1420.3 282.5L1416.9 284.7L1413.3 286.1L1412.1 282.2L1409 284.7L1403.6 289.5L1395.1 294.4L1387.8 298L1385.8 299.4L1387.5 297.4L1397.9 287L1408.3 279.2L1416.1 274.5L1424 270.1L1429.2 266.1L1434.4 262.2L1440.9 266.1L1442.2 262.2L1444.8 258.3L1450 255.7L1453.9 257L1456.5 262.2L1460.4 259.6L1457.8 253.1L1456.5 247.9L1453.9 242.7L1450 237.5L1446.1 241.4L1440.9 247.9L1434.4 244L1426.6 237.5L1427.9 233.6L1430.5 228.4L1429.2 221.9L1426.6 211.5L1427.1 203.6L1427.9 195.8L1429.2 188L1430.5 182.8L1435.7 178.9L1442.2 172.4L1444.8 167.2L1450 164.6L1451.3 159.4L1456.5 154.2L1459.1 150.3L1464.3 149L1468.2 143.8L1473.4 141.1L1476 135.9L1479.9 132L1481.2 126.8L1473.4 119L1469.5 115.6L1463 113.8L1460.9 111.2L1460.4 106L1453.9 100.8L1446.1 94.3L1440.9 81.2L1437 66.9L1430.5 63.5L1422.7 61.7L1416.1 67.7L1410.9 72.1L1408.3 66.1L1403.1 66.9L1401.8 76L1400 89.1L1397.9 102.1L1397.1 115.1L1396.6 128.1L1395.8 133.3L1399.2 138.5L1395.3 143.8L1391.4 146.9L1386.2 149L1385.4 154.2L1384.9 160.7L1370.6 165.1L1356.2 169.8L1335.4 177.6L1315.9 184.1L1309.4 195.8L1302.9 206.2L1300.3 211.5L1297.7 216.7L1296.9 220.6L1291.1 221.9L1291.7 225L1296.9 227.1L1295.1 229.7L1299 231L1298.4 235.4L1295.1 241.4L1291.1 246.6L1285.9 251.8L1278.1 255.2L1270.3 257L1261.2 258.3L1252.1 259.6L1247.2 260L1242.8 263L1238.7 266.2L1240.2 273.3L1244.6 277.7L1245.8 282.1L1242.8 288L1235.4 295.4L1228.1 302.8L1222.2 308.7L1214.8 315.3L1207.4 320.5L1201.5 324.9L1195.6 329.4L1189.7 334.5L1183.8 338.2L1179.4 341.2L1173.5 344.1L1169 343.8L1166.8 342.6L1163.9 344.4L1160.2 340.9L1154.3 338.2L1149.1 337.5L1151 332.3L1153.1 324.9L1154.6 319L1157.5 314.3L1159.9 309L1161.9 306.9L1160.9 304.3L1162.8 302.1L1165.5 297.6L1164.9 291.3L1162.4 285.1L1158.7 278.4L1157.2 274.5L1155.3 269L1153.1 264.3L1149.9 261.2L1144.9 261.7L1140.7 264.3L1137.8 267.6L1136.4 271.6L1134.5 275.2L1131.6 279.4L1127.6 277.6L1125.8 274.5L1125.8 271.2L1128.4 269.8L1131.6 267.6L1134 263L1135.3 257.5L1135.8 251.2L1134.5 243L1132.7 237.5L1130.5 232.9L1131.6 230.7L1129.8 227.8L1126.7 223.8L1121.2 223.1L1115.8 221.6L1110.3 219.3L1104.8 216.9L1099.9 214.7L1095.5 213.2L1093.9 215.6L1090.8 216.9L1089 220.2L1090.8 224.2L1092.1 228.9L1089.3 230.2L1085.7 232.6L1083.5 236.6L1084.2 240.2L1085 245.7L1083.5 250.8L1081.3 250.2L1080.2 244.8L1078.8 240.2L1076.6 243L1073.3 247.5L1070.2 252.1L1068.2 256.6L1068.2 263.9L1066.7 270.3L1065.6 276.7L1066.4 281.2L1068.6 287.6L1071.5 294.5L1074.7 300.7L1077.5 307.3L1079.1 314.1L1079.5 321.3L1078.4 329.6L1076.6 336.8L1073.8 343.8L1070.2 349.6L1065.6 355.1L1061.1 357.3L1057.4 356.5L1053.8 352.9L1050.1 346.9L1047 339.6L1044.5 332.3L1042.3 325.9L1040.5 319.5L1039 313.1L1038.1 305.9L1038.3 296.7L1039.2 287.6L1040.1 278.5L1041.2 269.4L1043.4 259.4L1045 251L1047.3 243.8L1050 238L1053.4 232L1055.1 228.5L1056 226L1054.3 224.7L1051.7 230.8L1048.2 236.9L1045.6 242.1L1043 247.3L1039.5 254.2L1035.2 259.4L1031.7 265.5L1029.5 267.3L1028.7 264.7L1030.4 259.4L1033.4 253.4L1036 245.6L1038.6 238.6L1041.2 231.7L1043.8 226.5L1045.2 220.4L1046.9 224.7L1048.2 221.3L1049.9 226.5L1051.7 224.7L1053.4 219.5L1055.1 220.4L1057 219L1059.9 216.9L1063.8 214.7L1067.5 214.7L1074.7 212L1080.2 207.8L1084.8 208.3L1089.3 209.6L1094.8 207.8L1097.5 207.8L1100.3 209.2L1104.8 207.4L1109.4 204.7L1114.9 205.2L1120.7 205.6L1121.8 203.2L1117.6 201L1113 202.8L1109.4 201L1106.1 198.7L1104.3 194.6L1103.6 189.2L1099.4 191.4L1094.8 194.1L1089.3 194.6L1084.2 193.2L1083.9 185.5L1079.3 187.3L1072.9 189.2L1065.6 191.4L1058.3 193.7L1050.1 200.5L1046.5 199.2L1041 200.5L1034.6 201.9L1029.2 197.9L1022.8 193.2L1018.2 191.4L1012.8 191.9L1008.2 197.4L1009.1 191L1012.8 183.7L1019.1 177.3L1024.1 173.9L1020.1 173.1L1013.7 174.2L1007.3 178.2L1000 184.6L999 183.9L991.1 191.1L978.1 201.6L967.7 205.5L961.2 206.8L957.8 209.9L955.2 204.2L956 200.3L948.2 203.6L939.1 206.8L932.6 208.9L929.9 207.3L937.8 200.3L946.9 191.1L956 182L965.1 172.9L972.9 167.2L979.4 162L970.3 161.2L959.9 158.6L948.2 159.4L940 164.2L930.6 160.3L924.1 156.9L920.2 160.3L915 153.8L909.8 151.7L902 149.8L894.2 151.1L886.4 151.7L875.9 149.8L867.6 147.2L865.5 138.1L864.2 129.8L857.2 129.8L857.2 141.2L800.4 143.9L748.3 144.6L696.2 143.6L657.2 141.2L618.1 138.1L579.1 134.2L560 132.4L498.5 122.5L446.5 112.6L394.4 101.7L342.3 89.2L286.3 76.1L284.9 76.3L285.1 84.3L288.8 84.5L288.4 90.2L284.9 93.6L285.8 99.7L287.1 104.9L287.5 110.1L284.9 113.6L282.3 118.8L280.6 124L279.5 129.2L276.2 132L272.3 133.8L269.3 135.3L266.8 133.6L268.4 129.7L272.3 127.5L275.3 124.9L277.5 118L279.3 111.4L275.8 118L270.1 122.5L265.4 125.1L263.2 124L266.7 120.6L271.9 117.1L277.1 111.9L278.6 105.8L276.9 103.2L273.6 105.1L272.3 102.3L270.1 99.3L266.7 99.7L259.7 97.1L251.9 93.6L245.8 87.6L241.1 83.2L238 89.3L238.1 89.9L237.6 112.1L238.1 127.7L242 131.6L238.1 138.1L235.5 143.3L239.4 149.8L234.2 155.1L230.3 169.4L225.1 182.4L218.6 205.8L206.9 231.9L191.2 255.3L190.6 261.8L189.5 269.7L188.4 285.5L186.1 299L181.6 312.6L172.6 328.4L171.4 337.4L177.1 348.7L178.2 364.5L174.8 380.3L181.6 391.6L185 407.4L187.2 416.4L195.1 420.9L198.5 416.4L200.8 422L195.1 431.1L192 435.3L194.3 444.3L202.1 457.3L198.2 469L204.7 485.9L208.6 499L215.1 514.6L220.3 527.6L216.4 540.6L225.5 547.1L238.5 551L246.4 556.2L254.2 566.7L264.6 571.9L271.1 579.7L277.6 582.3L282.8 587.5L288 594L291.9 608.3L291.9 616.1L294.5 624.5L366.1 630.5L357 637.5L396.1 659.9L400 661.6L426 675.9L452.1 690.2L504.2 695.4L531.5 698.5L532.8 685L556.2 687.1L577.1 688.1L581 690.2L584.9 698L592.7 703.2L600.5 711L605.7 716.2L613.5 722.8L621.4 731.9L624 742.3L626.6 752.7L631.8 760.5L639.6 767L650 773.5L657.8 780.1L665.6 782.7L670.8 777.4L676 768.3L681.2 759.2L689.1 756.6L699.5 757.9L712.5 759.2L720.3 763.1L730.7 770.9L738.5 781.4L746.4 794.4L754.2 807.4L760 821.4L765.2 826.6L770.4 831.8L771.7 842.2L775.6 850L780.8 857.8L786 865.6L799.1 868.2L812.1 873.4L825.1 877.3L832.9 882.6L835.5 879.9L836.8 873.4L834.2 863L831.6 852.6L831.6 842.2L834.2 831.8L838.1 824L843.3 816.1L851.1 808.3L861.6 800.5L872 792.7L882.4 784.9L892.8 777.1L901.9 769.3L898 764.1L900.6 758.9L904.5 760.9L905.8 766.7L909.7 763.5L916.2 760.2L929.3 754.9L942.3 752.3L955.3 753.6L968.3 756.2L973.5 753.1L981.4 748.4L977.4 751L981.4 753.6L986.6 751L994.4 753.6L1002.2 760.2L1007.4 764.1L1013.9 768L1020.4 766.7L1030.8 761.5L1038.6 757.6L1046.5 756.2L1054.3 756.2L1056.9 764.1L1064.7 758.9L1059.5 753.6L1049.1 753.6L1049.1 748.4L1055.6 740.6L1054.3 730.2L1046.5 738L1041.2 735.4L1046.5 730.2L1054.3 723.7L1064.7 721.1L1072.5 719.8L1080.3 718.5L1086.8 715.9L1089.4 708.1L1092 712L1095.9 719.8L1100 718L1113 714.1L1126 711.5L1139.1 711.5L1152.1 715.4L1157.3 717.5L1162.5 720.6L1163.8 724.5L1169 728.4L1175.5 727.1L1180.7 724.5L1185.9 720.6L1188.5 717.5L1191.1 712.8L1199 708.9L1206.8 710.2L1214.6 715.4L1221.1 721.9L1227.6 727.1L1231.5 733.6L1236.7 732.3L1240.4 735L1243 741.9L1244.3 748L1243.9 756.7L1243 763.6L1243.9 771.5L1247.4 778.4L1250.4 783.6L1254.3 788L1258.6 794L1263 799.2L1266.5 804.4L1269.1 810.5L1273.4 812.3L1276.9 811.4L1280.3 815.7L1283 821.8L1285.6 825.7L1285.4 825.3L1292.7 826.1L1300.5 831.3L1305.7 837.8L1308.3 845.6L1313.5 850.8L1321.4 852.1L1326.6 848.2L1330.5 840.4L1331.8 827.4L1332.6 814.4L1330.5 798.8L1326.6 785.7L1320.1 772.7L1313.5 759.7L1309.6 753.2L1305.7 746.7L1304.4 738.9L1297.9 731L1290.1 720.6L1282.3 707.6L1277.1 697.2L1270.6 684.2L1266.7 673.8L1265.4 663.3L1268 650.3L1269.3 639.9L1271.9 629.5L1274 624.3L1277.1 619.1L1279.7 612.6L1286.2 609.2L1292.7 604.7L1297.9 598.2L1301.6 600L1304.2 594.3L1306.8 589.1L1309.4 583.9L1310.7 578.6L1312 573.4L1314.6 568.2L1317.2 563L1322.4 559.1L1327.6 556.5L1332.8 553.9L1338 552.6L1340.1 547.4L1341.9 540.9L1343.8 535.7L1345.8 531.8L1351 529.2L1356.2 526.6L1361.5 522.7L1366.7 518.8L1370.6 513.5L1374.5 508.3L1378.4 504.4L1382.3 500.5L1383.6 497.9L1388.8 492.7L1388.8 488.8L1387.5 482.3L1383.6 475.8L1379.7 469.3L1373.2 462.8L1366.7 456.2L1356.2 456.2L1352.3 451L1356.2 448.4L1351 442.7L1341.9 436.7L1349.7 439.3L1354.9 439.3L1352.3 434.1L1351 432.8L1353.6 430.2L1349.7 425L1351 419.8L1345.8 414.6L1345.8 404.2L1340.6 401.6L1340.6 391.7L1335.4 388.5L1336.7 378.1L1332.8 375.5L1335.9 368.2L1340.6 362.5L1342.7 370.3L1341.9 378.1L1343.2 383.9L1345.8 388.5L1347.1 395.1L1351 399L1353.6 404.2L1356.2 412L1357.3 419.8L1358.9 427.6L1360.2 432.8L1363.5 436.7L1365.4 430.2L1368 427.1L1370.6 422.4L1371.9 415.9L1373.2 409.4L1372.9 401.6L1371.9 393.8L1369.8 388.5L1366.7 383.3L1362.8 377.6L1356.2 370.3L1352.7 359L1353.6 359.9L1358.9 362.5L1364.1 366.4L1368.8 368.2L1371.9 370.3L1374.5 361.2L1377.1 356L1380.2 349.5L1381.5 339.1L1381 332.6L1379.7 326L1377.1 322.1L1371.9 319.5L1375 314.3L1376.6 311.7L1379.7 306.5L1380.1 306ZM1345.8 430.2L1338 422.4L1330.2 417.2L1325 409.4L1321.1 406.8L1319.8 400.3L1322.4 402.9L1326.3 408.1L1331.5 414.6L1339.3 420.3L1345.8 427.6L1351 432.8ZM1349.7 356L1347.1 350.8L1351 353.4L1352.7 359Z" fill="none" stroke="#414141" stroke-width="1.2" stroke-linejoin="round"/>
<path d="M606.3 713.6L610.6 713.9L614.9 714.2L619.3 714.3L623.6 714.5L628 714.5L632.4 714.5L636.7 714.3L641.1 714.2L645.4 713.9L649.7 713.6L654.1 713.1L658.4 712.6L662.7 712.1L667 711.4L671.3 710.7L675.6 709.9L679.9 709L684.1 708.1L688.4 707.1L692.6 706L696.8 704.8L700.9 703.6L705.1 702.3L709.2 700.9L713.3 699.5L717.4 697.9L721.5 696.3L725.5 694.7L729.5 692.9L733.4 691.1L737.4 689.2L741.3 687.3L745.1 685.3L749 683.2L752.8 681.1L756.5 678.9L760.2 676.6L763.9 674.2L767.5 671.8L771.1 669.4L774.7 666.8L778.2 664.3L781.6 661.6L785 658.9L788.4 656.1L791.7 653.3L794.9 650.4L798.2 647.5L801.3 644.5L804.4 641.4L807.5 638.3L810.5 635.2L813.4 631.9L816.3 628.7L819.1 625.4L821.9 622L824.6 618.6L827.3 615.2L829.8 611.7L832.4 608.1L834.8 604.5L837.2 600.9L839.6 597.2L841.9 593.5L844.1 589.8L846.2 586L848.3 582.1L850.3 578.3L852.2 574.4L854.1 570.4L855.9 566.5L857.7 562.5L859.3 558.5L860.9 554.4L862.5 550.3L863.9 546.2L865.3 542.1L866.6 537.9L867.8 533.8L869 529.6L870.1 525.4L871.1 521.1L872 516.9L872.9 512.6L873.7 508.3L874.4 504L875.1 499.7L875.6 495.4L876.1 491.1L876.6 486.7L876.9 482.4L877.2 478.1L877.3 473.7L877.5 469.4L877.5 465L877.5 460.6L877.3 456.3L877.2 451.9L876.9 447.6L876.6 443.3L876.1 438.9L875.6 434.6L875.1 430.3L874.4 426L873.7 421.7L872.9 417.4L872 413.1L871.1 408.9L870.1 404.6L869 400.4L867.8 396.2L866.6 392.1L865.3 387.9L863.9 383.8L862.5 379.7L860.9 375.6L859.3 371.5L857.7 367.5L855.9 363.5L854.1 359.6L852.2 355.6L850.3 351.7L848.3 347.9L846.2 344L844.1 340.2L841.9 336.5L839.6 332.8L837.2 329.1L834.8 325.5L832.4 321.9L829.8 318.3L827.3 314.8L824.6 311.4L821.9 308L819.1 304.6L816.3 301.3L813.4 298.1L810.5 294.8L807.5 291.7L804.4 288.6L801.3 285.5L798.2 282.5L794.9 279.6L791.7 276.7L788.4 273.9L785 271.1L781.6 268.4L778.2 265.7L774.7 263.2L771.1 260.6L767.5 258.2L763.9 255.8L760.2 253.4L756.5 251.1L752.8 248.9L749 246.8L745.1 244.7L741.3 242.7L737.4 240.8L733.4 238.9L729.5 237.1L725.5 235.3L721.5 233.7L717.4 232.1L713.3 230.5L709.2 229.1L705.1 227.7L700.9 226.4L696.8 225.2L692.6 224L688.4 222.9L684.1 221.9L679.9 221L675.6 220.1L671.3 219.3L667 218.6L662.7 217.9L658.4 217.4L654.1 216.9L649.7 216.4L645.4 216.1L641.1 215.8L636.7 215.7L632.4 215.5L628 215.5L623.6 215.5L619.3 215.7L614.9 215.8L610.6 216.1L606.3 216.4L601.9 216.9L597.6 217.4L593.3 217.9L589 218.6L584.7 219.3L580.4 220.1L576.1 221L571.9 221.9L567.6 222.9L563.4 224L559.2 225.2L555.1 226.4L550.9 227.7L546.8 229.1L542.7 230.5L538.6 232.1L534.5 233.7L530.5 235.3L526.5 237.1L522.6 238.9L518.6 240.8L514.7 242.7L510.9 244.7L507 246.8L503.2 248.9L499.5 251.1L495.8 253.4L492.1 255.8L488.5 258.2L484.9 260.6L481.3 263.2L477.8 265.7L474.4 268.4L471 271.1L467.6 273.9L464.3 276.7L461.1 279.6L457.8 282.5L454.7 285.5L451.6 288.6L448.5 291.7L445.5 294.8L442.6 298.1L439.7 301.3L436.9 304.6L434.1 308L431.4 311.4L428.7 314.8L426.2 318.3L423.6 321.9L421.2 325.5L418.8 329.1L416.4 332.8L414.1 336.5L411.9 340.2L409.8 344L407.7 347.9L405.7 351.7L403.8 355.6L401.9 359.6L400.1 363.5L398.3 367.5L396.7 371.5L395.1 375.6L393.5 379.7L392.1 383.8L390.7 387.9L389.4 392.1L388.2 396.2L387 400.4L385.9 404.6L384.9 408.9L384 413.1L383.1 417.4L382.3 421.7L381.6 426L380.9 430.3L380.4 434.6L379.9 438.9L379.4 443.3L379.1 447.6L378.8 451.9L378.7 456.3L378.5 460.6L378.5 465L378.5 469.4L378.7 473.7L378.8 478.1L379.1 482.4L379.4 486.7L379.9 491.1L380.4 495.4L380.9 499.7L381.6 504L382.3 508.3L383.1 512.6L384 516.9L384.9 521.1L385.9 525.4L387 529.6L388.2 533.8L389.4 537.9L390.7 542.1L392.1 546.2L393.5 550.3L395.1 554.4L396.7 558.5L398.3 562.5L400.1 566.5L401.9 570.4L403.8 574.4L405.7 578.3L407.7 582.1L409.8 586L411.9 589.8L414.1 593.5L416.4 597.2L418.8 600.9L421.2 604.5L423.6 608.1L426.2 611.7L428.7 615.2L431.4 618.6L434.1 622L436.9 625.4L439.7 628.7L442.6 631.9L445.5 635.2L448.5 638.3L451.6 641.4L454.7 644.5L457.8 647.5L461.1 650.4L464.3 653.3L467.6 656.1L471 658.9L474.4 661.6L477.8 664.3L481.3 666.8L484.9 669.4L488.5 671.8L492.1 674.2L495.8 676.6L499.5 678.9L503.3 681.1L507 683.2L510.9 685.3L514.7 687.3L518.6 689.2L522.6 691.1L526.5 692.9L530.5 694.7L531.8 695.2L532.8 685L556.2 687.1L577.1 688.1L581 690.2L584.9 698L592.7 703.2L600.5 711L602.7 713.2Z" fill="none" stroke="#e600a9" stroke-width="1.4" opacity="0.3"/>
<path d="M1292.7 867.8L1300.5 861.2L1306.2 859.7L1302.6 863.9L1294.8 869.1ZM1281.8 870.1L1283.9 869.3L1285.4 870.4L1283.3 871.1ZM1287 869.1L1289.1 868L1290.1 869.3ZM217.7 557.6L225.5 559.4L228.1 562.8L222.9 564.1ZM228.9 561.5L235.9 562L240.4 564.6L232.8 565.6ZM234.6 587.5L237.5 588.8L236.2 590.6ZM262 587.5L267.2 591.4L268.8 594.3L264.6 594.3ZM259.4 600.5L263.5 608.3L260.9 608.9ZM987.2 165.1L989.8 162L995.1 157.8L1000.3 154.2L1003.1 153.1L1003.6 154.7L1000.3 157.8L995.1 162L989.8 166.1ZM1075.1 218.6L1078.6 217.8L1079.4 223L1076.8 224.7L1075.5 221.2ZM1072.5 229.9L1074.7 229.1L1073.8 231.7ZM1069.9 240.3L1072.1 241.2L1070.8 243.4ZM1068 244.3L1069.9 245.1L1068.7 245.7ZM273.6 83.2L277.1 82.4L280.6 85L278.8 87.6L281.4 90.2L277.1 92.8L274.5 89.3ZM280.6 82.4L284 85L283.2 89.3L281.2 86.7ZM281.4 96.2L284.9 98L285.8 104.1L284 110.1L281.4 106.7L280.6 101.5ZM279.3 73.7L280.6 73.7L280.6 74.7L279.3 74.7ZM1446.9 150.3L1448.7 149L1449.5 151.6ZM1453.9 165.9L1456.5 164.6L1456 167.7ZM1460.4 154.2L1463.5 152.1L1463 155.5ZM1421.4 276L1423.4 275.5L1422.9 277.6ZM1370.6 458.9L1372.4 466.7L1374 475.8L1372.4 466.7Z" fill="#fff" stroke="#4a4a4a" stroke-width="0.9"/><path d="M1356.2 456.2L1360.2 462.8L1366.7 464.6L1374 463.5L1379.7 469.3M1374 463.5L1370.6 469.3L1362.8 470.6L1355.7 475L1352.3 471.9M1362.8 470.6L1366.7 477.1L1372.4 479.7L1369.3 486.2L1361.5 487.5L1356.2 492.7L1352.3 490.1M1372.4 479.7L1379.7 482.3L1384.9 487.5M1361.5 487.5L1366.7 495.3L1362.8 503.1L1356.2 507L1353.6 503.1L1349.7 508.3M1366.7 495.3L1374.5 494L1379.7 497.9M1356.2 507L1360.2 513.5L1366.7 512.2M1335.4 368.2L1338 372.9L1334.9 378.1L1339.3 382.8L1336.7 388.5L1341.9 391.1L1340.6 397.7L1345.8 402.9M1356.2 412L1359.4 415.9L1357.8 422.4L1360.9 425M1318.5 402.9L1322.4 409.4L1327.6 413.3L1332.8 418.5L1340.6 422.4M1446.1 154.2L1448.7 158.1L1451.3 155.5L1453.9 160.7L1456.5 156.8L1457.8 162L1461.7 158.1L1464.3 152.9L1466.9 150.3L1469.5 146.4L1472.1 143.8M1435.7 178.9L1438.3 175L1440.9 177.6L1443.5 172.4L1446.1 168.5L1447.4 164.6M838.1 821.4L835 830.5L832.9 842.2L832.9 853.9L835.5 864.3L837.6 872.9M895.4 771.9L885 780.2L874.6 788L864.2 795.8L853.8 803.6L845.9 810.9M956 195.8L959.4 193.8L962 196.9L959.4 200.3M1313.5 845.1L1317.4 848.2L1321.4 846.1L1324.5 849.5L1327.1 845.6M1315.6 848.2L1320.1 851.4L1324 849.8M1055.6 741.9L1059.5 748.4L1063.4 752.3L1067.3 756.2M277.1 103.2L280.6 99.7L282.3 95.4L280.6 93.6M285.8 99.7L287.5 102.3L286.2 105.8L287.9 108.4M237.6 131L244.1 132.3L238.9 134.4M237.2 143.1L241.5 140.1L238 137M234.5 150.9L242.4 156.1L235.4 155.3" fill="none" stroke="#4a4a4a" stroke-width="0.9"/>
<use href="#map" clip-path="url(#cl)" color="#5e5e5e"/>
<path d="M193.8 440.9L197 443.2L200.3 445.4L203.8 447.4L207.2 449.4L210.8 451.2L214.4 452.9L218 454.4L221.7 455.8L225.5 457.1L229.3 458.3L233.1 459.3L237 460.2L240.9 461L244.8 461.6L248.8 462.1L252.8 462.4L256.7 462.6L260.7 462.7L264.7 462.6L268.6 462.4L272.6 462.1L276.6 461.6L280.5 461L284.4 460.2L288.3 459.3L292.1 458.3L295.9 457.1L299.7 455.8L303.4 454.4L307 452.9L310.6 451.2L314.2 449.4L317.6 447.4L321.1 445.4L324.4 443.2L327.6 440.9L330.8 438.6L333.9 436.1L336.9 433.4L339.8 430.7L342.6 427.9L345.3 425L348 422L350.5 418.9L352.8 415.7L355.1 412.5L357.3 409.2L359.3 405.8L361.3 402.3L363.1 398.7L364.8 395.1L366.3 391.5L367.7 387.8L369 384L370.2 380.2L371.2 376.4L372.1 372.5L372.9 368.6L373.5 364.7L374 360.7L374.3 356.7L374.5 352.8L374.6 348.8L374.5 344.8L374.3 340.9L374 336.9L373.5 332.9L372.9 329L372.1 325.1L371.2 321.2L370.2 317.4L369 313.6L367.7 309.8L366.3 306.1L364.8 302.5L363.1 298.9L361.3 295.3L359.3 291.8L357.3 288.4L355.1 285.1L352.8 281.9L350.5 278.7L348 275.6L345.3 272.6L342.6 269.7L339.8 266.9L336.9 264.2L333.9 261.5L330.8 259L327.6 256.7L324.4 254.4L321.1 252.2L317.6 250.2L314.2 248.2L310.6 246.4L307 244.7L303.4 243.2L299.7 241.8L295.9 240.5L292.1 239.3L288.3 238.3L284.4 237.4L280.5 236.6L276.6 236L272.6 235.5L268.6 235.2L264.7 235L260.7 234.9L256.7 235L252.8 235.2L248.8 235.5L244.8 236L240.9 236.6L237 237.4L233.1 238.3L229.3 239.3L225.5 240.5L221.7 241.8L218 243.2L214.4 244.7L210.8 246.4L207.2 248.2L203.7 250.2L200.3 252.2L197 254.4L193.8 256.7L190.9 258.8L190.6 261.8L189.5 269.7L188.4 285.5L186.1 299L181.6 312.6L172.6 328.4L171.4 337.4L177.1 348.7L178.2 364.5L174.8 380.3L181.6 391.6L185 407.4L187.2 416.4L195.1 420.9L198.5 416.4L200.8 422L195.1 431.1L192 435.3L193.4 440.7ZM398 658.5L399.4 656.5L400.7 654.5L401.9 652.5L403 650.4L404.1 648.3L405.1 646.2L406 644L406.9 641.8L407.7 639.5L408.4 637.2L409 635L409.5 632.6L410 630.3L410.3 628L410.6 625.6L410.8 623.2L411 620.9L411 618.5L411 616.1L410.8 613.8L410.6 611.4L410.3 609L410 606.7L409.5 604.4L409 602L408.4 599.8L407.7 597.5L406.9 595.2L406 593L405.1 590.8L404.1 588.7L403 586.6L401.9 584.5L400.7 582.5L399.4 580.5L398 578.5L396.6 576.6L395.1 574.8L393.5 573L391.9 571.3L390.2 569.6L388.5 568L386.7 566.4L384.9 564.9L383 563.5L381 562.1L379 560.8L377 559.6L374.9 558.5L372.8 557.4L370.7 556.4L368.5 555.5L366.3 554.6L364 553.8L361.7 553.1L359.5 552.5L357.1 552L354.8 551.5L352.5 551.2L350.1 550.9L347.7 550.7L345.4 550.5L343 550.5L340.6 550.5L338.3 550.7L335.9 550.9L333.5 551.2L331.2 551.5L328.9 552L326.5 552.5L324.3 553.1L322 553.8L319.7 554.6L317.5 555.5L315.3 556.4L313.2 557.4L311.1 558.5L309 559.6L307 560.8L305 562.1L303 563.5L301.1 564.9L299.3 566.4L297.5 568L295.8 569.6L294.1 571.3L292.5 573L290.9 574.8L289.4 576.6L288 578.5L286.6 580.5L285.3 582.5L284.1 584.5L283 586.6L282.6 587.3L282.8 587.5L288 594L291.9 608.3L291.9 616.1L294.5 624.5L366.1 630.5L357 637.5L396.1 659.9L396.7 660.2ZM1051.9 353.6L1048.3 353L1044.6 352.6L1041 352.3L1037.3 352.1L1033.6 352L1029.9 352.1L1026.2 352.3L1022.6 352.6L1018.9 353L1015.3 353.6L1011.7 354.3L1008.1 355.1L1004.5 356.1L1001 357.2L997.5 358.4L994.1 359.7L990.7 361.1L987.4 362.7L984.1 364.3L980.8 366.1L977.7 368L974.6 370L971.6 372.1L968.6 374.4L965.8 376.7L963 379.1L960.3 381.6L957.7 384.2L955.2 386.9L952.8 389.7L950.5 392.5L948.2 395.5L946.1 398.5L944.1 401.6L942.2 404.8L940.4 408L938.8 411.3L937.2 414.6L935.8 418L934.5 421.4L933.3 424.9L932.2 428.4L931.2 432L930.4 435.6L929.7 439.2L929.1 442.8L928.7 446.5L928.4 450.1L928.2 453.8L928.1 457.5L928.2 461.2L928.4 464.9L928.7 468.5L929.1 472.2L929.7 475.8L930.4 479.4L931.2 483L932.2 486.6L933.3 490.1L934.5 493.6L935.8 497L937.2 500.4L938.8 503.7L940.4 507L942.2 510.2L944.1 513.4L946.1 516.5L948.2 519.5L950.5 522.5L952.8 525.3L955.2 528.1L957.7 530.8L960.3 533.4L963 535.9L965.8 538.3L968.6 540.6L971.6 542.9L974.6 545L977.7 547L980.8 548.9L984.1 550.7L987.4 552.3L990.7 553.9L994.1 555.3L997.5 556.6L1001 557.8L1004.5 558.9L1008.1 559.9L1011.7 560.7L1015.3 561.4L1018.9 562L1022.6 562.4L1026.2 562.7L1029.9 562.9L1033.6 563L1037.3 562.9L1041 562.7L1044.6 562.4L1048.3 562L1051.9 561.4L1055.5 560.7L1059.1 559.9L1062.7 558.9L1066.2 557.8L1069.7 556.6L1073.1 555.3L1076.5 553.9L1079.8 552.3L1083.1 550.7L1086.3 548.9L1089.5 547L1092.6 545L1095.6 542.9L1098.6 540.6L1101.4 538.3L1104.2 535.9L1106.9 533.4L1109.5 530.8L1112 528.1L1114.4 525.3L1116.7 522.5L1119 519.5L1121.1 516.5L1123.1 513.4L1125 510.2L1126.8 507L1128.4 503.7L1130 500.4L1131.4 497L1132.7 493.6L1133.9 490.1L1135 486.6L1136 483L1136.8 479.4L1137.5 475.8L1138.1 472.2L1138.5 468.5L1138.8 464.9L1139 461.2L1139.1 457.5L1139 453.8L1138.8 450.1L1138.5 446.5L1138.1 442.8L1137.5 439.2L1136.8 435.6L1136 432L1135 428.4L1133.9 424.9L1132.7 421.4L1131.4 418L1130 414.6L1128.4 411.3L1126.8 408L1125 404.7L1123.1 401.6L1121.1 398.5L1119 395.5L1116.7 392.5L1114.4 389.7L1112 386.9L1109.5 384.2L1106.9 381.6L1104.2 379.1L1101.4 376.7L1098.6 374.4L1095.6 372.1L1092.6 370L1089.5 368L1086.3 366.1L1083.1 364.3L1079.8 362.7L1076.5 361.1L1073.1 359.7L1069.7 358.4L1066.2 357.2L1063.2 356.3L1061.1 357.3L1057.4 356.5L1055.1 354.2ZM1345.8 531.5L1346.2 527.8L1346.5 524.2L1346.7 520.6L1346.8 516.9L1346.7 513.2L1346.5 509.6L1346.2 506L1345.8 502.3L1345.2 498.7L1344.5 495.1L1343.7 491.6L1342.7 488L1341.7 484.5L1340.5 481.1L1339.2 477.7L1337.7 474.3L1336.2 471L1334.5 467.7L1332.8 464.5L1330.9 461.4L1328.9 458.4L1326.8 455.4L1324.6 452.4L1322.3 449.6L1319.9 446.8L1317.4 444.2L1314.8 441.6L1312.2 439.1L1309.4 436.7L1306.6 434.4L1303.6 432.2L1300.6 430.1L1297.6 428.1L1294.4 426.2L1291.3 424.5L1288 422.8L1284.7 421.3L1281.3 419.8L1277.9 418.5L1274.5 417.3L1271 416.3L1267.4 415.3L1263.9 414.5L1260.3 413.8L1256.7 413.2L1253 412.8L1249.4 412.5L1245.8 412.3L1242.1 412.2L1238.4 412.3L1234.8 412.5L1231.2 412.8L1227.5 413.2L1223.9 413.8L1220.3 414.5L1216.8 415.3L1213.2 416.3L1209.7 417.3L1206.3 418.5L1202.9 419.8L1199.5 421.3L1196.2 422.8L1192.9 424.5L1189.7 426.2L1186.6 428.1L1183.6 430.1L1180.6 432.2L1177.6 434.4L1174.8 436.7L1172 439.1L1169.4 441.6L1166.8 444.2L1164.3 446.8L1161.9 449.6L1159.6 452.4L1157.4 455.4L1155.3 458.4L1153.3 461.4L1151.4 464.5L1149.7 467.7L1148 471L1146.5 474.3L1145 477.7L1143.7 481.1L1142.5 484.5L1141.5 488L1140.5 491.6L1139.7 495.1L1139 498.7L1138.4 502.3L1138 506L1137.7 509.6L1137.5 513.2L1137.4 516.9L1137.5 520.6L1137.7 524.2L1138 527.8L1138.4 531.5L1139 535.1L1139.7 538.7L1140.5 542.2L1141.5 545.8L1142.5 549.3L1143.7 552.7L1145 556.1L1146.5 559.5L1148 562.8L1149.7 566.1L1151.4 569.2L1153.3 572.4L1155.3 575.4L1157.4 578.4L1159.6 581.4L1161.9 584.2L1164.3 587L1166.8 589.6L1169.4 592.2L1172 594.7L1174.8 597.1L1177.6 599.4L1180.6 601.6L1183.6 603.7L1186.6 605.7L1189.8 607.6L1192.9 609.3L1196.2 611L1199.5 612.5L1202.9 614L1206.3 615.3L1209.7 616.5L1213.2 617.5L1216.8 618.5L1220.3 619.3L1223.9 620L1227.5 620.6L1231.2 621L1234.8 621.3L1238.4 621.5L1242.1 621.6L1245.8 621.5L1249.4 621.3L1253 621L1256.7 620.6L1260.3 620L1263.9 619.3L1267.4 618.5L1271 617.5L1274.5 616.5L1277.9 615.3L1278.8 615L1279.7 612.6L1286.2 609.2L1292.7 604.7L1297.9 598.2L1301.6 600L1304.2 594.3L1306.8 589.1L1309.4 583.9L1310.7 578.6L1312 573.4L1314.6 568.2L1317.2 563L1322.4 559.1L1327.6 556.5L1332.8 553.9L1338 552.6L1340.1 547.4L1341.9 540.9L1343.8 535.7L1345.7 532ZM1158 276.9L1155.9 278.2L1153.8 279.5L1151.8 280.9L1149.8 282.4L1147.9 284L1146 285.6L1144.2 287.3L1142.5 289L1140.8 290.8L1139.2 292.7L1137.6 294.6L1136.1 296.6L1134.7 298.6L1133.4 300.7L1132.1 302.8L1130.9 305L1129.8 307.2L1128.7 309.4L1127.8 311.7L1126.9 314L1126.1 316.3L1125.3 318.7L1124.7 321.1L1124.1 323.5L1123.7 325.9L1123.3 328.3L1123 330.8L1122.8 333.3L1122.6 335.7L1122.6 338.2L1122.6 340.7L1122.8 343.1L1123 345.6L1123.3 348.1L1123.7 350.5L1124.1 352.9L1124.7 355.3L1125.3 357.7L1126.1 360.1L1126.9 362.4L1127.8 364.7L1128.7 367L1129.8 369.2L1130.9 371.4L1132.1 373.6L1133.4 375.7L1134.7 377.8L1136.1 379.8L1137.6 381.8L1139.2 383.7L1140.8 385.6L1142.5 387.4L1144.2 389.1L1146 390.8L1147.9 392.4L1149.8 394L1151.8 395.5L1153.8 396.9L1155.9 398.2L1158 399.5L1160.2 400.7L1162.4 401.8L1164.6 402.9L1166.9 403.8L1169.2 404.7L1171.5 405.5L1173.9 406.3L1176.3 406.9L1178.7 407.5L1181.1 407.9L1183.5 408.3L1186 408.6L1188.5 408.8L1190.9 409L1193.4 409L1195.9 409L1198.3 408.8L1200.8 408.6L1203.3 408.3L1205.7 407.9L1208.1 407.5L1210.5 406.9L1212.9 406.3L1215.3 405.5L1217.6 404.7L1219.9 403.8L1222.2 402.9L1224.4 401.8L1226.6 400.7L1228.8 399.5L1230.9 398.2L1233 396.9L1235 395.5L1237 394L1238.9 392.4L1240.8 390.8L1242.6 389.1L1244.3 387.4L1246 385.6L1247.6 383.7L1249.2 381.8L1250.7 379.8L1252.1 377.8L1253.4 375.7L1254.7 373.6L1255.9 371.4L1257 369.2L1258.1 367L1259 364.7L1259.9 362.4L1260.7 360.1L1261.5 357.7L1262.1 355.3L1262.7 352.9L1263.1 350.5L1263.5 348.1L1263.8 345.6L1264 343.1L1264.2 340.7L1264.2 338.2L1264.2 335.7L1264 333.3L1263.8 330.8L1263.5 328.3L1263.1 325.9L1262.7 323.5L1262.1 321.1L1261.5 318.7L1260.7 316.3L1259.9 314L1259 311.7L1258.1 309.4L1257 307.2L1255.9 305L1254.7 302.8L1253.4 300.7L1252.1 298.6L1250.7 296.6L1249.2 294.6L1247.6 292.7L1246 290.8L1244.3 289L1243 287.7L1242.8 288L1235.4 295.4L1228.1 302.8L1222.2 308.7L1214.8 315.3L1207.4 320.5L1201.5 324.9L1195.6 329.4L1189.7 334.5L1183.8 338.2L1179.4 341.2L1173.5 344.1L1169 343.8L1166.8 342.6L1163.9 344.4L1160.2 340.9L1154.3 338.2L1149.1 337.5L1151 332.3L1153.1 324.9L1154.6 319L1157.5 314.3L1159.9 309L1161.9 306.9L1160.9 304.3L1162.8 302.1L1165.5 297.6L1164.9 291.3L1162.4 285.1L1158.7 278.4L1158.1 276.8ZM1381.7 310.2L1382.8 310.6L1383.8 310.9L1384.9 311.3L1386 311.5L1387 311.8L1387.2 311.8L1392.6 309.6L1399.9 304.1L1407.2 296.8L1414.5 290.8L1418.1 286.9L1420.3 282.5L1416.9 284.7L1413.3 286.1L1412.1 282.2L1409 284.7L1403.6 289.5L1395.1 294.4L1387.8 298L1385.8 299.4L1387.5 297.4L1397.9 287L1408.3 279.2L1416.1 274.5L1424 270.1L1423.8 269.6L1423.4 268.5L1422.9 267.5L1422.5 266.5L1422 265.5L1421.4 264.5L1420.8 263.5L1420.2 262.6L1419.6 261.7L1418.9 260.8L1418.2 259.9L1417.5 259.1L1416.7 258.3L1415.9 257.5L1415.1 256.7L1414.3 256L1413.4 255.3L1412.5 254.6L1411.6 254L1410.7 253.4L1409.7 252.8L1408.7 252.2L1407.7 251.7L1406.7 251.3L1405.7 250.8L1404.6 250.4L1403.6 250.1L1402.5 249.7L1401.4 249.5L1400.4 249.2L1399.3 249L1398.2 248.8L1397 248.7L1395.9 248.6L1394.8 248.5L1393.7 248.5L1392.6 248.5L1391.5 248.6L1390.4 248.7L1389.2 248.8L1388.1 249L1387 249.2L1386 249.5L1384.9 249.7L1383.8 250.1L1382.8 250.4L1381.7 250.8L1380.7 251.3L1379.7 251.7L1378.7 252.2L1377.7 252.8L1376.7 253.4L1375.8 254L1374.9 254.6L1374 255.3L1373.1 256L1372.3 256.7L1371.5 257.5L1370.7 258.3L1369.9 259.1L1369.2 259.9L1368.5 260.8L1367.8 261.7L1367.2 262.6L1366.6 263.5L1366 264.5L1365.4 265.5L1364.9 266.5L1364.5 267.5L1364 268.5L1363.6 269.6L1363.3 270.6L1362.9 271.7L1362.7 272.8L1362.4 273.8L1362.2 274.9L1362 276L1361.9 277.2L1361.8 278.3L1361.7 279.4L1361.7 280.5L1361.7 281.6L1361.8 282.7L1361.9 283.8L1362 285L1362.2 286.1L1362.4 287.2L1362.7 288.2L1362.9 289.3L1363.3 290.4L1363.6 291.4L1364 292.5L1364.5 293.5L1364.9 294.5L1365.4 295.5L1366 296.5L1366.6 297.5L1367.2 298.4L1367.8 299.3L1368.5 300.2L1369.2 301.1L1369.9 301.9L1370.7 302.7L1371.5 303.5L1372.3 304.3L1373.1 305L1374 305.7L1374.9 306.4L1375.8 307L1376.7 307.6L1377.7 308.2L1378.4 308.6L1379.7 306.5L1380.1 306L1381.2 310ZM1356.8 361.2L1357.9 361.1L1358.9 361L1360 360.8L1361 360.6L1362.1 360.4L1363.1 360.1L1364.1 359.8L1365.1 359.5L1366.1 359.1L1367.1 358.7L1368 358.2L1369 357.7L1369.9 357.2L1370.8 356.7L1371.7 356.1L1372.6 355.5L1373.4 354.9L1374.2 354.2L1375 353.5L1375.8 352.8L1376.6 352L1377.3 351.2L1378 350.4L1378.7 349.6L1379.3 348.8L1379.9 347.9L1380.5 347L1380.5 346.9L1381.5 339.1L1381 332.6L1379.7 326L1377.1 322.1L1371.9 319.5L1375 314.3L1376.6 311.7L1377.3 310.6L1376.6 309.8L1375.8 309L1375 308.3L1374.2 307.6L1373.4 306.9L1372.6 306.3L1371.7 305.7L1370.8 305.1L1369.9 304.6L1369 304.1L1368 303.6L1367.1 303.1L1366.1 302.7L1365.1 302.3L1364.1 302L1363.1 301.7L1362.1 301.4L1361 301.2L1360 301L1358.9 300.8L1357.9 300.7L1356.8 300.6L1355.8 300.5L1354.7 300.5L1353.6 300.5L1352.6 300.6L1351.5 300.7L1350.5 300.8L1349.4 301L1348.4 301.2L1347.3 301.4L1346.3 301.7L1345.3 302L1344.3 302.3L1343.3 302.7L1342.3 303.1L1341.4 303.6L1340.4 304.1L1339.5 304.6L1338.6 305.1L1337.7 305.7L1336.8 306.3L1336 306.9L1335.2 307.6L1334.4 308.3L1333.6 309L1332.8 309.8L1332.1 310.6L1331.4 311.4L1330.7 312.2L1330.1 313L1329.5 313.9L1328.9 314.8L1328.4 315.7L1327.9 316.6L1327.4 317.6L1326.9 318.5L1326.5 319.5L1326.1 320.5L1325.8 321.5L1325.5 322.5L1325.2 323.5L1325 324.6L1324.8 325.6L1324.6 326.7L1324.5 327.7L1324.4 328.8L1324.3 329.8L1324.3 330.9L1324.3 332L1324.4 333L1324.5 334.1L1324.6 335.1L1324.8 336.2L1325 337.2L1325.2 338.3L1325.5 339.3L1325.8 340.3L1326.1 341.3L1326.5 342.3L1326.9 343.3L1327.4 344.2L1327.9 345.2L1328.4 346.1L1328.9 347L1329.5 347.9L1330.1 348.8L1330.7 349.6L1331.4 350.4L1332.1 351.2L1332.8 352L1333.6 352.8L1334.4 353.5L1335.2 354.2L1336 354.9L1336.8 355.5L1337.7 356.1L1338.6 356.7L1339.5 357.2L1340.4 357.7L1341.4 358.2L1342.3 358.7L1343.3 359.1L1344.3 359.5L1345.3 359.8L1346.3 360.1L1347.3 360.4L1348.4 360.6L1349.4 360.8L1350.5 361L1351.5 361.1L1352.6 361.2L1353.4 361.3L1352.7 359L1353.6 359.9L1356.4 361.3ZM1349.7 356L1347.1 350.8L1351 353.4L1352.7 359ZM901.4 708.5L901.3 706.4L901.1 704.3L900.8 702.2L900.5 700.1L900.1 698L899.6 695.9L899.1 693.9L898.4 691.9L897.7 689.9L897 687.9L896.2 686L895.3 684L894.3 682.2L893.3 680.3L892.2 678.5L891 676.7L889.8 675L888.6 673.3L887.2 671.6L885.8 670.1L884.4 668.5L882.9 667L881.3 665.6L879.8 664.2L878.1 662.8L876.4 661.6L874.7 660.4L872.9 659.2L871.1 658.1L869.2 657.1L867.4 656.1L865.4 655.2L863.5 654.4L861.5 653.7L859.5 653L857.5 652.3L855.5 651.8L853.4 651.3L851.3 650.9L849.2 650.6L847.1 650.3L845 650.1L842.9 650L840.8 650L838.7 650L836.6 650.1L834.5 650.3L832.4 650.6L830.3 650.9L828.2 651.3L826.1 651.8L824.1 652.3L822.1 653L820.1 653.7L818.1 654.4L816.2 655.2L814.2 656.1L812.4 657.1L810.5 658.1L808.7 659.2L806.9 660.4L805.2 661.6L803.5 662.8L801.8 664.2L800.3 665.6L798.7 667L797.2 668.5L795.8 670.1L794.4 671.6L793 673.3L791.8 675L790.6 676.7L789.4 678.5L788.3 680.3L787.3 682.2L786.3 684L785.4 686L784.6 687.9L783.9 689.9L783.2 691.9L782.5 693.9L782 695.9L781.5 698L781.1 700.1L780.8 702.2L780.5 704.3L780.3 706.4L780.2 708.5L780.2 710.6L780.2 712.7L780.3 714.8L780.5 716.9L780.8 719L781.1 721.1L781.5 723.2L782 725.3L782.5 727.3L783.2 729.3L783.9 731.3L784.6 733.3L785.4 735.2L786.3 737.2L787.3 739L788.3 740.9L789.4 742.7L790.6 744.5L791.8 746.2L793 747.9L794.4 749.6L795.8 751.1L797.2 752.7L798.7 754.2L800.3 755.6L801.8 757L803.5 758.4L805.2 759.6L806.9 760.8L808.7 762L810.5 763.1L812.4 764.1L814.2 765.1L816.2 766L818.1 766.8L820.1 767.5L822.1 768.2L824.1 768.9L826.1 769.4L828.2 769.9L830.3 770.3L832.4 770.6L834.5 770.9L836.6 771.1L838.7 771.2L840.8 771.2L842.9 771.2L845 771.1L847.1 770.9L849.2 770.6L851.3 770.3L853.4 769.9L855.5 769.4L857.5 768.9L859.5 768.2L861.5 767.5L863.5 766.8L865.4 766L867.4 765.1L869.2 764.1L871.1 763.1L872.9 762L874.7 760.8L876.4 759.6L878.1 758.4L879.8 757L881.3 755.6L882.9 754.2L884.4 752.7L885.8 751.1L887.2 749.6L888.6 747.9L889.8 746.2L891 744.5L892.2 742.7L893.3 740.9L894.3 739L895.3 737.2L896.2 735.2L897 733.3L897.7 731.3L898.4 729.3L899.1 727.3L899.6 725.3L900.1 723.2L900.5 721.1L900.8 719L901.1 716.9L901.3 714.8L901.4 712.7L901.4 710.6ZM1286.8 825.3L1288.2 825L1289.5 824.6L1290.8 824.1L1292.1 823.6L1293.4 823.1L1294.6 822.5L1295.9 821.8L1297.1 821.2L1298.3 820.5L1299.5 819.7L1300.6 818.9L1301.7 818.1L1302.8 817.2L1303.8 816.3L1304.8 815.3L1305.8 814.3L1306.8 813.3L1307.7 812.3L1308.6 811.2L1309.4 810.1L1310.2 809L1311 807.8L1311.7 806.6L1312.3 805.4L1313 804.1L1313.6 802.9L1314.1 801.6L1314.6 800.3L1315.1 799L1315.5 797.7L1315.8 796.3L1316.1 795L1316.4 793.6L1316.6 792.2L1316.8 790.9L1316.9 789.5L1317 788.1L1317 786.7L1317 785.3L1316.9 783.9L1316.8 782.5L1316.6 781.2L1316.4 779.8L1316.1 778.4L1315.8 777.1L1315.5 775.7L1315.1 774.4L1314.6 773.1L1314.1 771.8L1313.6 770.5L1313 769.3L1312.3 768L1311.7 766.8L1311 765.6L1310.2 764.4L1309.4 763.3L1308.6 762.2L1307.7 761.1L1306.8 760.1L1305.8 759.1L1304.8 758.1L1303.8 757.1L1302.8 756.2L1301.7 755.3L1300.6 754.5L1299.5 753.7L1298.3 752.9L1297.1 752.2L1295.9 751.6L1294.6 750.9L1293.4 750.3L1292.1 749.8L1290.8 749.3L1289.5 748.8L1288.2 748.4L1286.8 748.1L1285.5 747.8L1284.1 747.5L1282.7 747.3L1281.4 747.1L1280 747L1278.6 746.9L1277.2 746.9L1275.8 746.9L1274.4 747L1273 747.1L1271.7 747.3L1270.3 747.5L1268.9 747.8L1267.6 748.1L1266.2 748.4L1264.9 748.8L1263.6 749.3L1262.3 749.8L1261 750.3L1259.8 750.9L1258.5 751.6L1257.3 752.2L1256.1 752.9L1254.9 753.7L1253.8 754.5L1252.7 755.3L1251.6 756.2L1250.6 757.1L1249.6 758.1L1248.6 759.1L1247.6 760.1L1246.7 761.1L1245.8 762.2L1245 763.3L1244.2 764.4L1243.4 765.6L1243.3 765.9L1243.9 771.5L1247.4 778.4L1250.4 783.6L1254.3 788L1258.6 794L1263 799.2L1266.5 804.4L1269.1 810.5L1273.4 812.3L1276.9 811.4L1280.3 815.7L1283 821.8L1285.5 825.6L1285.6 825.6L1285.4 825.3L1286.4 825.4Z" fill="none" stroke="#e600a9" stroke-width="2" stroke-linejoin="round"/>
<path d="M1165.3 406.8L1169 405.4L1180.1 405.4L1182 414.2L1175 415.7L1166.1 416.4ZM841.1 641.8L854.5 641.8L854.5 643.2L856.8 643.2L856.8 655.7L841.1 655.7ZM812 826.6L824 827.6L835.5 828.6L835.5 838L826 837.4L822 839L814 839L812 836ZM1070.5 583.5L1086.5 582.3L1087.2 590.2L1071 591.5Z" fill="none" stroke="#e600a9" stroke-width="2.2" stroke-linejoin="round"/>
<circle cx="1318" cy="390.6" r="3.1" fill="#a08878" stroke="#e600a9" stroke-width="1.4"/>
<text x="812.7" y="27.5" text-anchor="middle" font-size="29.8" font-weight="bold">Spatiotemporal Distribution of Hateful Tweets Against Asians and Asian Americans</text>
<g font-size="25.5" text-anchor="middle"><text x="358.6" y="269.4">11</text><text x="299.1" y="552.0">12</text><text x="813.4" y="286.3">4</text><text x="947" y="373.9">10</text><text x="1189.7" y="315.6">13</text><text x="1157.9" y="431.0">1</text><text x="1360.8" y="252.3">9</text><text x="1395.3" y="361.6">6</text><text x="1302.9" y="384.9">14</text><text x="1165.2" y="627.7">5</text><text x="1060.3" y="615.0">8</text><text x="860.9" y="637.5">2</text><text x="916.8" y="700.0">15</text><text x="804.3" y="822.4">7</text><text x="1251.7" y="816.3">3</text></g>
<g font-size="25.3"><text x="173.5" y="716">Relative Risk</text><rect x="172.6" y="733.1" width="51.6" height="25.6" fill="#ffffff" stroke="#6e6e6e" stroke-width="1.3"/><text x="235" y="754.4">0</text><rect x="172.6" y="772.5" width="51.6" height="25.6" fill="#fdcc8a" stroke="#6e6e6e" stroke-width="1.3"/><text x="235" y="793.8">0.1 - 1.0</text><rect x="172.6" y="811.9" width="51.6" height="25.6" fill="#fc8d59" stroke="#6e6e6e" stroke-width="1.3"/><text x="235" y="833.2">1.1 - 2.0</text><rect x="172.6" y="851.3" width="51.6" height="25.6" fill="#fc8d59" stroke="#6e6e6e" stroke-width="1.3"/><text x="235" y="872.6">2.1 - 5.0</text><rect x="172.6" y="890.7" width="51.6" height="25.6" fill="#e34a33" stroke="#6e6e6e" stroke-width="1.3"/><text x="235" y="912.0">5.1 - 11.0</text><rect x="172.6" y="930.1" width="51.6" height="25.6" fill="#b30000" stroke="#6e6e6e" stroke-width="1.3"/><text x="235" y="951.4">11.1 - 137.5</text>
<rect x="440" y="929.4" width="51.9" height="26.2" fill="#fff" stroke="#e600a9" stroke-width="1.2"/><text x="513.4" y="950.6">Cluster</text></g>
<path d="M947.3 963.2V979.2H1179.8V963.2M976.4 979.2V968.3M1005.4 979.2V968.3M1034.5 979.2V968.3M1063.5 979.2V963.2M1092.6 979.2V968.3M1121.7 979.2V968.3M1150.7 979.2V968.3" fill="none" stroke="#000" stroke-width="1.5"/>
<g font-size="21.2" text-anchor="middle"><text x="947.3" y="953">0</text><text x="1005.4" y="953">125</text><text x="1063.5" y="953">250</text><text x="1162.2" y="953" text-anchor="start">500 Miles</text></g>
<text x="1459" y="914.2" text-anchor="middle" font-size="19.5" style="font-family:'Liberation Serif','Times New Roman',serif">N</text>
<path d="M1459.1 924L1478 978.7L1459.2 966.6L1440.8 978.7Z" fill="#000"/>
</svg>
</body></html>
